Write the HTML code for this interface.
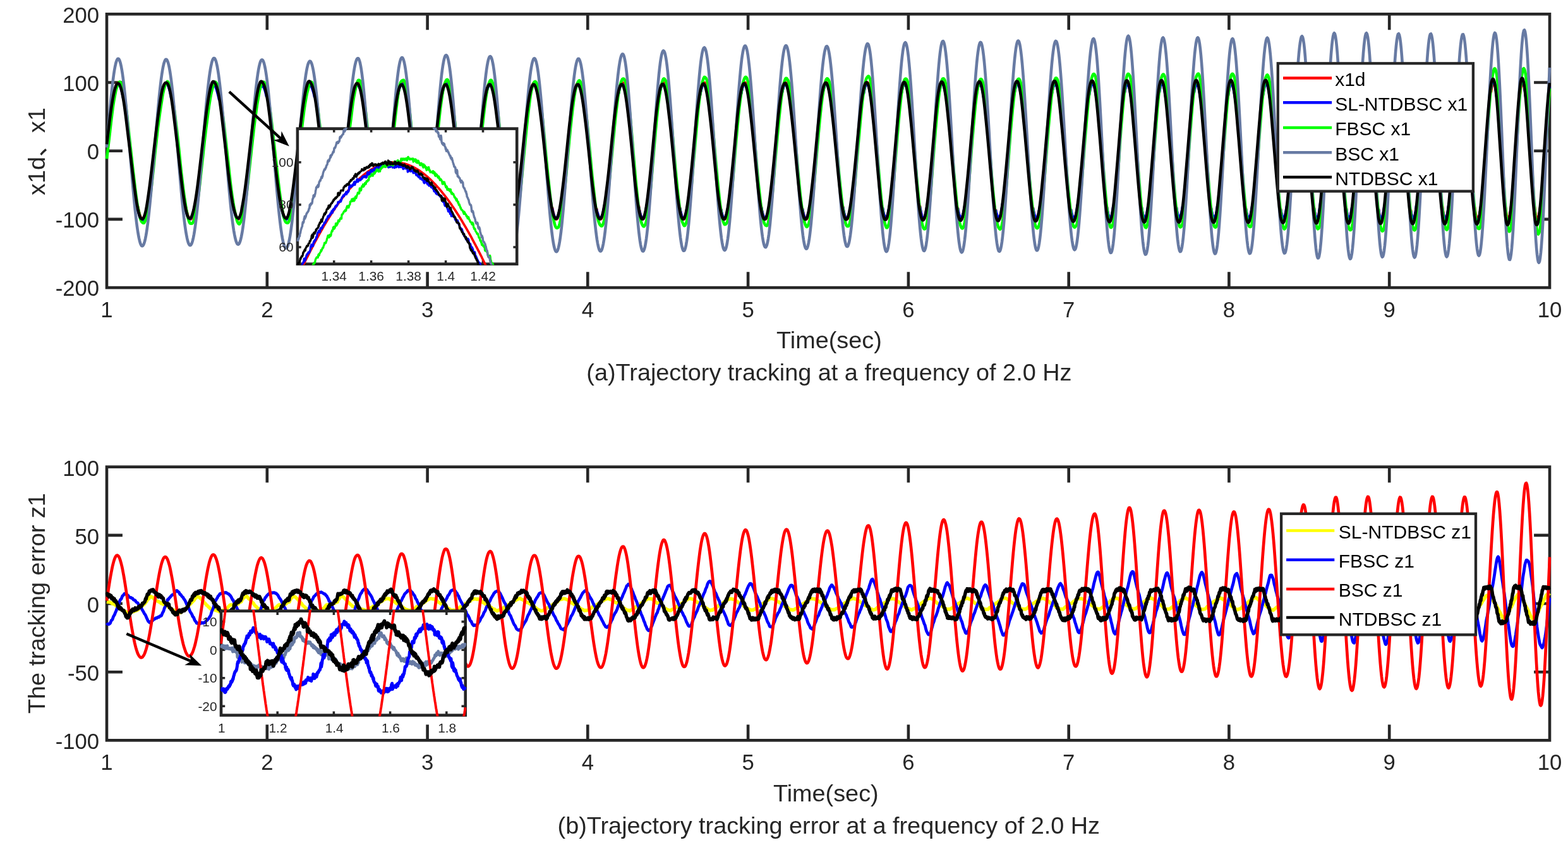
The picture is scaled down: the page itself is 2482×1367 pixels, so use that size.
<!DOCTYPE html>
<html lang="en"><head><meta charset="utf-8"><title>Trajectory tracking at a frequency of 2.0 Hz</title>
<style>html,body{margin:0;padding:0;background:#fff;overflow:hidden}svg{display:block}text{font-family:'Liberation Sans', 'Noto Sans CJK SC', sans-serif}</style></head>
<body>
<svg width="2482" height="1367" viewBox="0 0 2482 1367" role="img" aria-label="Trajectory tracking and tracking error at a frequency of 2.0 Hz">
<rect width="2482" height="1367" fill="#fff"/>
<defs>
<clipPath id="c1"><rect x="166.7" y="20.0" width="2288.6" height="437.4"/></clipPath>
<clipPath id="c2"><rect x="166.7" y="736.4" width="2288.6" height="437.2"/></clipPath>
<clipPath id="ci1"><rect x="469.3" y="202.0" width="350.5" height="217.3"/></clipPath>
<clipPath id="ci2"><rect x="348.4" y="965.1" width="389.9" height="168.1"/></clipPath>
</defs>
<g id="plot1">
<g stroke="#262626" stroke-width="4.6" fill="none">
<rect x="169.0" y="22.3" width="2284.0" height="432.8"/>
<path d="M422.8 455.1v-24.9M422.8 22.3v24.9M676.6 455.1v-24.9M676.6 22.3v24.9M930.3 455.1v-24.9M930.3 22.3v24.9M1184.1 455.1v-24.9M1184.1 22.3v24.9M1437.9 455.1v-24.9M1437.9 22.3v24.9M1691.7 455.1v-24.9M1691.7 22.3v24.9M1945.4 455.1v-24.9M1945.4 22.3v24.9M2199.2 455.1v-24.9M2199.2 22.3v24.9M169.0 346.9h24.9M2453.0 346.9h-24.9M169.0 238.7h24.9M2453.0 238.7h-24.9M169.0 130.5h24.9M2453.0 130.5h-24.9"/>
</g>
<g fill="#262626" font-size="34.67px">
<text x="169.0" y="501.9" text-anchor="middle">1</text>
<text x="422.8" y="501.9" text-anchor="middle">2</text>
<text x="676.6" y="501.9" text-anchor="middle">3</text>
<text x="930.3" y="501.9" text-anchor="middle">4</text>
<text x="1184.1" y="501.9" text-anchor="middle">5</text>
<text x="1437.9" y="501.9" text-anchor="middle">6</text>
<text x="1691.7" y="501.9" text-anchor="middle">7</text>
<text x="1945.4" y="501.9" text-anchor="middle">8</text>
<text x="2199.2" y="501.9" text-anchor="middle">9</text>
<text x="2453.0" y="501.9" text-anchor="middle">10</text>
<text x="157" y="468.3" text-anchor="end">-200</text>
<text x="157" y="360.1" text-anchor="end">-100</text>
<text x="157" y="251.9" text-anchor="end">0</text>
<text x="157" y="143.7" text-anchor="end">100</text>
<text x="157" y="35.5" text-anchor="end">200</text>
</g>
<g clip-path="url(#c1)">
<polyline points="180,151.7 181,146.7 182,142.3 183,138.6 184,135.5 185,133.2 186,131.6 187,130.7 188,130.5 189,131.1 190,132.5 191,134.5 192,137.3 193,140.8 194,144.9 195,149.7" fill="none" stroke="#ff0000" stroke-width="4.4" stroke-linejoin="round" />
<polyline points="218,326.1 219,331.1 220,335.4 221,339.1 222,342.1 223,344.4 224,345.9 225,346.8 226,346.8 227,346.2 228,344.8 229,342.7 230,339.8 231,336.3 232,332.1 233,327.2" fill="none" stroke="#ff0000" stroke-width="4.4" stroke-linejoin="round" />
<polyline points="256,150.8 257,145.9 258,141.6 259,138 260,135.1 261,132.9 262,131.4 263,130.6 264,130.6 265,131.3 266,132.8 267,135 268,137.9 269,141.5 270,145.7 271,150.6" fill="none" stroke="#ff0000" stroke-width="4.4" stroke-linejoin="round" />
<polyline points="294,327 295,331.9 296,336.1 297,339.7 298,342.6 299,344.7 300,346.1 301,346.8 302,346.8 303,346 304,344.5 305,342.2 306,339.2 307,335.6 308,331.3 309,326.3" fill="none" stroke="#ff0000" stroke-width="4.4" stroke-linejoin="round" />
<polyline points="332,149.9 333,145.1 334,140.9 335,137.4 336,134.6 337,132.5 338,131.2 339,130.5 340,130.7 341,131.5 342,133.1 343,135.4 344,138.5 345,142.2 346,146.6 347,151.6" fill="none" stroke="#ff0000" stroke-width="4.4" stroke-linejoin="round" />
<polyline points="370,328 371,332.7 372,336.8 373,340.3 374,343 375,345 376,346.3 377,346.9 378,346.7 379,345.8 380,344.1 381,341.7 382,338.6 383,334.8 384,330.4 385,325.3" fill="none" stroke="#ff0000" stroke-width="4.4" stroke-linejoin="round" />
<polyline points="408,149 409,144.3 410,140.2 411,136.9 412,134.2 413,132.2 414,131 415,130.5 416,130.8 417,131.8 418,133.5 419,135.9 420,139.1 421,142.9 422,147.4" fill="none" stroke="#ff0000" stroke-width="4.4" stroke-linejoin="round" />
<polyline points="446,328.9 447,333.5 448,337.5 449,340.8 450,343.4 451,345.3 452,346.5 453,346.9 454,346.6 455,345.5 456,343.7 457,341.2 458,338 459,334.1 460,329.5" fill="none" stroke="#ff0000" stroke-width="4.4" stroke-linejoin="round" />
<polyline points="484,148.1 485,143.5 486,139.6 487,136.3 488,133.8 489,132 490,130.9 491,130.5 492,130.9 493,132 494,133.9 495,136.4 496,139.7 497,143.7 498,148.3" fill="none" stroke="#ff0000" stroke-width="4.4" stroke-linejoin="round" />
<polyline points="522,329.7 523,334.3 524,338.1 525,341.3 526,343.8 527,345.6 528,346.6 529,346.9 530,346.4 531,345.3 532,343.3 533,340.7 534,337.3 535,333.3 536,328.7" fill="none" stroke="#ff0000" stroke-width="4.4" stroke-linejoin="round" />
<polyline points="560,147.2 561,142.8 562,138.9 563,135.8 564,133.4 565,131.7 566,130.7 567,130.5 568,131.1 569,132.6 570,135 571,138.2 572,142.2 573,146.9" fill="none" stroke="#ff0000" stroke-width="4.4" stroke-linejoin="round" />
<polyline points="595,327.9 596,333.1 597,337.4 598,341 599,343.8 600,345.7 601,346.7 602,346.9 603,346.1 604,344.5 605,342.1 606,338.8 607,334.7 608,329.8" fill="none" stroke="#ff0000" stroke-width="4.4" stroke-linejoin="round" />
<polyline points="630,148.8 631,143.7 632,139.5 633,136 634,133.3 635,131.6 636,130.6 637,130.6 638,131.4 639,133.1 640,135.7 641,139.1 642,143.3 643,148.3" fill="none" stroke="#ff0000" stroke-width="4.4" stroke-linejoin="round" />
<polyline points="665,329.3 666,334.2 667,338.4 668,341.8 669,344.3 670,346 671,346.8 672,346.8 673,345.8 674,344 675,341.3 676,337.8 677,333.5 678,328.5" fill="none" stroke="#ff0000" stroke-width="4.4" stroke-linejoin="round" />
<polyline points="700,147.5 701,142.6 702,138.5 703,135.2 704,132.8 705,131.2 706,130.5 707,130.7 708,131.8 709,133.7 710,136.5 711,140.1 712,144.5 713,149.6" fill="none" stroke="#ff0000" stroke-width="4.4" stroke-linejoin="round" />
<polyline points="735,330.6 736,335.4 737,339.3 738,342.5 739,344.8 740,346.3 741,346.9 742,346.6 743,345.4 744,343.4 745,340.5 746,336.8 747,332.3 748,327.1" fill="none" stroke="#ff0000" stroke-width="4.4" stroke-linejoin="round" />
<polyline points="769,151.6 770,146.2 771,141.5 772,137.6 773,134.6 774,132.3 775,131 776,130.5 777,130.9 778,132.2 779,134.3 780,137.3 781,141.1 782,145.7 783,151" fill="none" stroke="#ff0000" stroke-width="4.4" stroke-linejoin="round" />
<polyline points="804,326.5 805,331.9 806,336.4 807,340.2 808,343.2 809,345.3 810,346.5 811,346.9 812,346.4 813,345 814,342.8 815,339.7 816,335.8 817,331.1 818,325.7" fill="none" stroke="#ff0000" stroke-width="4.4" stroke-linejoin="round" />
<polyline points="839,150.2 840,144.9 841,140.5 842,136.8 843,133.9 844,131.9 845,130.8 846,130.5 847,131.1 848,132.6 849,135 850,138.2 851,142.2 852,146.9" fill="none" stroke="#ff0000" stroke-width="4.4" stroke-linejoin="round" />
<polyline points="874,327.9 875,333.1 876,337.4 877,341 878,343.8 879,345.7 880,346.7 881,346.9 882,346.1 883,344.5 884,342.1 885,338.8 886,334.7 887,329.8" fill="none" stroke="#ff0000" stroke-width="4.4" stroke-linejoin="round" />
<polyline points="909,148.8 910,143.7 911,139.5 912,136 913,133.3 914,131.6 915,130.6 916,130.6 917,131.4 918,133.1 919,135.7 920,139.1 921,143.3 922,148.3" fill="none" stroke="#ff0000" stroke-width="4.4" stroke-linejoin="round" />
<polyline points="944,329.3 945,334.2 946,338.4 947,341.8 948,344.3 949,346 950,346.8 951,346.8 952,345.8 953,344 954,341.3 955,337.8 956,333.5 957,328.5" fill="none" stroke="#ff0000" stroke-width="4.4" stroke-linejoin="round" />
<polyline points="979,147.5 980,142.6 981,138.5 982,135.2 983,132.8 984,131.2 985,130.5 986,130.8 987,132 988,134.2 989,137.4 990,141.6 991,146.7" fill="none" stroke="#ff0000" stroke-width="4.4" stroke-linejoin="round" />
<polyline points="1011,325.4 1012,331.3 1013,336.3 1014,340.4 1015,343.5 1016,345.6 1017,346.7 1018,346.8 1019,345.9 1020,343.9 1021,341 1022,337.1 1023,332.3 1024,326.5" fill="none" stroke="#ff0000" stroke-width="4.4" stroke-linejoin="round" />
<polyline points="1044,147.7 1045,142.5 1046,138.1 1047,134.7 1048,132.3 1049,130.9 1050,130.5 1051,131.1 1052,132.8 1053,135.4 1054,139.1 1055,143.6 1056,149.1" fill="none" stroke="#ff0000" stroke-width="4.4" stroke-linejoin="round" />
<polyline points="1076,328 1077,333.5 1078,338.1 1079,341.8 1080,344.5 1081,346.2 1082,346.9 1083,346.6 1084,345.2 1085,342.8 1086,339.5 1087,335.2 1088,330" fill="none" stroke="#ff0000" stroke-width="4.4" stroke-linejoin="round" />
<polyline points="1108,151.2 1109,145.4 1110,140.6 1111,136.6 1112,133.6 1113,131.6 1114,130.6 1115,130.6 1116,131.7 1117,133.8 1118,136.8 1119,140.9 1120,145.8 1121,151.6" fill="none" stroke="#ff0000" stroke-width="4.4" stroke-linejoin="round" />
<polyline points="1141,330.4 1142,335.5 1143,339.7 1144,343 1145,345.3 1146,346.6 1147,346.9 1148,346.1 1149,344.3 1150,341.6 1151,337.8 1152,333.1 1153,327.6" fill="none" stroke="#ff0000" stroke-width="4.4" stroke-linejoin="round" />
<polyline points="1173,148.7 1174,143.3 1175,138.8 1176,135.2 1177,132.6 1178,131.1 1179,130.5 1180,131 1181,132.4 1182,134.9 1183,138.4 1184,142.8 1185,148.1" fill="none" stroke="#ff0000" stroke-width="4.4" stroke-linejoin="round" />
<polyline points="1205,327 1206,332.6 1207,337.4 1208,341.2 1209,344.1 1210,346 1211,346.8 1212,346.7 1213,345.5 1214,343.3 1215,340.1 1216,336 1217,330.9" fill="none" stroke="#ff0000" stroke-width="4.4" stroke-linejoin="round" />
<polyline points="1238,146.3 1239,141.3 1240,137.2 1241,134 1242,131.9 1243,130.7 1244,130.6 1245,131.5 1246,133.4 1247,136.3 1248,140.1 1249,144.9 1250,150.6" fill="none" stroke="#ff0000" stroke-width="4.4" stroke-linejoin="round" />
<polyline points="1270,329.4 1271,334.7 1272,339.1 1273,342.5 1274,345 1275,346.5 1276,346.9 1277,346.3 1278,344.7 1279,342.1 1280,338.5 1281,334 1282,328.5" fill="none" stroke="#ff0000" stroke-width="4.4" stroke-linejoin="round" />
<polyline points="1302,149.7 1303,144.1 1304,139.5 1305,135.8 1306,133 1307,131.3 1308,130.5 1309,130.8 1310,132.1 1311,134.4 1312,137.7 1313,142 1314,147.2" fill="none" stroke="#ff0000" stroke-width="4.4" stroke-linejoin="round" />
<polyline points="1334,325.9 1335,331.7 1336,336.7 1337,340.7 1338,343.7 1339,345.7 1340,346.8 1341,346.8 1342,345.8 1343,343.7 1344,340.7 1345,336.7 1346,331.8 1347,326" fill="none" stroke="#ff0000" stroke-width="4.4" stroke-linejoin="round" />
<polyline points="1367,147.3 1368,142.1 1369,137.8 1370,134.5 1371,132.2 1372,130.8 1373,130.5 1374,131.4 1375,133.4 1376,136.6 1377,141 1378,146.4" fill="none" stroke="#ff0000" stroke-width="4.4" stroke-linejoin="round" />
<polyline points="1397,328.8 1398,334.6 1399,339.4 1400,343 1401,345.4 1402,346.7 1403,346.8 1404,345.6 1405,343.3 1406,339.8 1407,335.2 1408,329.5" fill="none" stroke="#ff0000" stroke-width="4.4" stroke-linejoin="round" />
<polyline points="1427,147.1 1428,141.5 1429,137.1 1430,133.7 1431,131.5 1432,130.6 1433,130.8 1434,132.2 1435,134.8 1436,138.6 1437,143.5 1438,149.4" fill="none" stroke="#ff0000" stroke-width="4.4" stroke-linejoin="round" />
<polyline points="1456,325.4 1457,331.7 1458,337 1459,341.2 1460,344.3 1461,346.2 1462,346.9 1463,346.4 1464,344.7 1465,341.8 1466,337.7 1467,332.6 1468,326.4" fill="none" stroke="#ff0000" stroke-width="4.4" stroke-linejoin="round" />
<polyline points="1486,150.4 1487,144.3 1488,139.2 1489,135.3 1490,132.5 1491,130.9 1492,130.5 1493,131.3 1494,133.3 1495,136.5 1496,140.8 1497,146.2" fill="none" stroke="#ff0000" stroke-width="4.4" stroke-linejoin="round" />
<polyline points="1516,328.6 1517,334.4 1518,339.2 1519,342.9 1520,345.4 1521,346.7 1522,346.8 1523,345.7 1524,343.4 1525,340 1526,335.4 1527,329.7" fill="none" stroke="#ff0000" stroke-width="4.4" stroke-linejoin="round" />
<polyline points="1546,147.3 1547,141.7 1548,137.2 1549,133.8 1550,131.6 1551,130.6 1552,130.8 1553,132.1 1554,134.7 1555,138.4 1556,143.3 1557,149.2" fill="none" stroke="#ff0000" stroke-width="4.4" stroke-linejoin="round" />
<polyline points="1576,331.5 1577,336.9 1578,341.1 1579,344.2 1580,346.2 1581,346.9 1582,346.4 1583,344.7 1584,341.9 1585,337.9 1586,332.8 1587,326.6" fill="none" stroke="#ff0000" stroke-width="4.4" stroke-linejoin="round" />
<polyline points="1605,150.6 1606,144.5 1607,139.4 1608,135.4 1609,132.6 1610,131 1611,130.5 1612,131.3 1613,133.2 1614,136.4 1615,140.6 1616,146" fill="none" stroke="#ff0000" stroke-width="4.4" stroke-linejoin="round" />
<polyline points="1635,328.4 1636,334.3 1637,339.1 1638,342.8 1639,345.3 1640,346.7 1641,346.8 1642,345.8 1643,343.5 1644,340.1 1645,335.6 1646,329.9" fill="none" stroke="#ff0000" stroke-width="4.4" stroke-linejoin="round" />
<polyline points="1665,147.5 1666,141.9 1667,137.3 1668,133.9 1669,131.7 1670,130.6 1671,130.7 1672,132.1 1673,134.6 1674,138.3 1675,143.1 1676,149" fill="none" stroke="#ff0000" stroke-width="4.4" stroke-linejoin="round" />
<polyline points="1695,331.3 1696,336.7 1697,341 1698,344.1 1699,346.1 1700,346.9 1701,346.5 1702,344.8 1703,342 1704,338 1705,333 1706,326.9" fill="none" stroke="#ff0000" stroke-width="4.4" stroke-linejoin="round" />
<polyline points="1724,150.8 1725,144.7 1726,139.5 1727,135.5 1728,132.7 1729,131 1730,130.5 1731,131.4 1732,133.6 1733,137.2 1734,142.2 1735,148.4" fill="none" stroke="#ff0000" stroke-width="4.4" stroke-linejoin="round" />
<polyline points="1752,327.2 1753,333.7 1754,339 1755,343 1756,345.6 1757,346.8 1758,346.6 1759,345 1760,342 1761,337.6 1762,332" fill="none" stroke="#ff0000" stroke-width="4.4" stroke-linejoin="round" />
<polyline points="1780,146.5 1781,140.7 1782,136.1 1783,132.8 1784,131 1785,130.5 1786,131.5 1787,133.9 1788,137.6 1789,142.7 1790,149" fill="none" stroke="#ff0000" stroke-width="4.4" stroke-linejoin="round" />
<polyline points="1807,327.8 1808,334.2 1809,339.4 1810,343.3 1811,345.8 1812,346.8 1813,346.5 1814,344.8 1815,341.7 1816,337.2 1817,331.5" fill="none" stroke="#ff0000" stroke-width="4.4" stroke-linejoin="round" />
<polyline points="1835,146 1836,140.2 1837,135.7 1838,132.6 1839,130.9 1840,130.6 1841,131.6 1842,134.1 1843,138 1844,143.1 1845,149.6" fill="none" stroke="#ff0000" stroke-width="4.4" stroke-linejoin="round" />
<polyline points="1862,328.4 1863,334.7 1864,339.8 1865,343.5 1866,345.9 1867,346.9 1868,346.4 1869,344.6 1870,341.4 1871,336.8 1872,330.9" fill="none" stroke="#ff0000" stroke-width="4.4" stroke-linejoin="round" />
<polyline points="1890,145.5 1891,139.8 1892,135.4 1893,132.4 1894,130.8 1895,130.6 1896,131.8 1897,134.4 1898,138.4 1899,143.6 1900,150.1" fill="none" stroke="#ff0000" stroke-width="4.4" stroke-linejoin="round" />
<polyline points="1917,328.9 1918,335.2 1919,340.1 1920,343.8 1921,346 1922,346.9 1923,346.3 1924,344.4 1925,341 1926,336.4 1927,330.4" fill="none" stroke="#ff0000" stroke-width="4.4" stroke-linejoin="round" />
<polyline points="1944,151.7 1945,144.9 1946,139.4 1947,135.1 1948,132.2 1949,130.7 1950,130.6 1951,132 1952,134.7 1953,138.7 1954,144.1 1955,150.7" fill="none" stroke="#ff0000" stroke-width="4.4" stroke-linejoin="round" />
<polyline points="1972,329.5 1973,335.6 1974,340.5 1975,344 1976,346.2 1977,346.9 1978,346.2 1979,344.1 1980,340.7 1981,335.9 1982,329.8" fill="none" stroke="#ff0000" stroke-width="4.4" stroke-linejoin="round" />
<polyline points="1999,151.1 2000,144.4 2001,139 2002,134.8 2003,132.1 2004,130.7 2005,130.7 2006,132.1 2007,135 2008,139.1 2009,144.6 2010,151.3" fill="none" stroke="#ff0000" stroke-width="4.4" stroke-linejoin="round" />
<polyline points="2027,330.1 2028,336.1 2029,340.8 2030,344.2 2031,346.3 2032,346.9 2033,346.1 2034,343.9 2035,340.3 2036,335.4 2037,329.3" fill="none" stroke="#ff0000" stroke-width="4.4" stroke-linejoin="round" />
<polyline points="2054,150.5 2055,143.9 2056,138.6 2057,134.6 2058,131.9 2059,130.6 2060,130.8 2061,132.6 2062,136 2063,141 2064,147.5" fill="none" stroke="#ff0000" stroke-width="4.4" stroke-linejoin="round" />
<polyline points="2080,328.3 2081,335.1 2082,340.4 2083,344.2 2084,346.3 2085,346.9 2086,345.7 2087,343 2088,338.6 2089,332.8 2090,325.4" fill="none" stroke="#ff0000" stroke-width="4.4" stroke-linejoin="round" />
<polyline points="2106,145 2107,139 2108,134.6 2109,131.8 2110,130.5 2111,131 2112,133.1 2113,136.8 2114,142 2115,148.7" fill="none" stroke="#ff0000" stroke-width="4.4" stroke-linejoin="round" />
<polyline points="2131,329.5 2132,336.1 2133,341.1 2134,344.7 2135,346.6 2136,346.8 2137,345.4 2138,342.4 2139,337.8 2140,331.6" fill="none" stroke="#ff0000" stroke-width="4.4" stroke-linejoin="round" />
<polyline points="2156,151 2157,143.9 2158,138.2 2159,134 2160,131.4 2161,130.5 2162,131.2 2163,133.6 2164,137.5 2165,143 2166,150" fill="none" stroke="#ff0000" stroke-width="4.4" stroke-linejoin="round" />
<polyline points="2182,330.7 2183,337 2184,341.8 2185,345.1 2186,346.7 2187,346.7 2188,345 2189,341.7 2190,336.8 2191,330.5" fill="none" stroke="#ff0000" stroke-width="4.4" stroke-linejoin="round" />
<polyline points="2207,149.7 2208,142.8 2209,137.4 2210,133.5 2211,131.2 2212,130.5 2213,131.5 2214,134.1 2215,138.3 2216,144.1 2217,151.3" fill="none" stroke="#ff0000" stroke-width="4.4" stroke-linejoin="round" />
<polyline points="2233,331.9 2234,337.9 2235,342.5 2236,345.5 2237,346.8 2238,346.5 2239,344.6 2240,341 2241,335.9 2242,329.3" fill="none" stroke="#ff0000" stroke-width="4.4" stroke-linejoin="round" />
<polyline points="2258,148.5 2259,141.8 2260,136.6 2261,133 2262,130.9 2263,130.6 2264,131.8 2265,134.7 2266,139.2 2267,145.2" fill="none" stroke="#ff0000" stroke-width="4.4" stroke-linejoin="round" />
<polyline points="2283,325.7 2284,333 2285,338.8 2286,343.1 2287,345.8 2288,346.9 2289,346.3 2290,344.1 2291,340.3 2292,334.9 2293,328" fill="none" stroke="#ff0000" stroke-width="4.4" stroke-linejoin="round" />
<polyline points="2309,147.3 2310,140.8 2311,135.9 2312,132.5 2313,130.8 2314,130.7 2315,132.2 2316,135.4 2317,140.1 2318,146.3" fill="none" stroke="#ff0000" stroke-width="4.4" stroke-linejoin="round" />
<polyline points="2334,327 2335,334 2336,339.6 2337,343.7 2338,346.1 2339,346.9 2340,346 2341,343.6 2342,339.5 2343,333.8 2344,326.8" fill="none" stroke="#ff0000" stroke-width="4.4" stroke-linejoin="round" />
<polyline points="2360,146.1 2361,139.9 2362,135.2 2363,132.1 2364,130.6 2365,130.9 2366,133.1 2367,137.3 2368,143.3 2369,151.2" fill="none" stroke="#ff0000" stroke-width="4.4" stroke-linejoin="round" />
<polyline points="2383,327.9 2384,335.4 2385,341.1 2386,344.9 2387,346.7 2388,346.5 2389,344.3 2390,340.1 2391,334.1 2392,326.2" fill="none" stroke="#ff0000" stroke-width="4.4" stroke-linejoin="round" />
<polyline points="2406,149.5 2407,142 2408,136.3 2409,132.5 2410,130.7 2411,130.9 2412,133 2413,137.2 2414,143.2 2415,150.9" fill="none" stroke="#ff0000" stroke-width="4.4" stroke-linejoin="round" />
<polyline points="2429,326.9 2430,334.6 2431,340.5 2432,344.5 2433,346.6 2434,346.7 2435,344.8 2436,341 2437,335.3 2438,327.8" fill="none" stroke="#ff0000" stroke-width="4.4" stroke-linejoin="round" />
<polyline points="2452,151.8 2453,143.9" fill="none" stroke="#ff0000" stroke-width="4.4" stroke-linejoin="round" />
<polyline points="180,152 181,147.3 182,143.6 183,140.2 184,137.8 185,136.3 186,134.9 187,133.6 188,133.2 189,134 190,135.8 191,138.3 192,141.3 193,145.1 194,149.9 195,155" fill="none" stroke="#0000ff" stroke-width="4.4" stroke-linejoin="round" />
<polyline points="218,331.4 219,335.2 220,338.9 221,342.8 222,345.8 223,347.4 224,348.3 225,348.9 226,348.7 227,347.6 228,345.4 229,342.6 230,339.5 231,335.3 232,330.2 233,324.7" fill="none" stroke="#0000ff" stroke-width="4.4" stroke-linejoin="round" />
<polyline points="256,150.9 257,146.6 258,142.3 259,138.3 260,135.5 261,134.1 262,133.1 263,132.5 264,132.3 265,132.8 266,134.8 267,137.7 268,140.8 269,144.8 270,149.6 271,154.6" fill="none" stroke="#0000ff" stroke-width="4.4" stroke-linejoin="round" />
<polyline points="294,330.9 295,335.8 296,339.6 297,342.3 298,344.5 299,346.1 300,346.9 301,346.4 302,345.2 303,343.7 304,342 305,339.8 306,336.5 307,332.4 308,327.6 309,322.3" fill="none" stroke="#0000ff" stroke-width="4.4" stroke-linejoin="round" />
<polyline points="332,153.8 333,148.9 334,144.6 335,141.3 336,138.5 337,136.1 338,135.2 339,135.6 340,135.9 341,136.7 342,139.1 343,142.1 344,145.6 345,149.5 346,153.6 347,157.9" fill="none" stroke="#0000ff" stroke-width="4.4" stroke-linejoin="round" />
<polyline points="370,329.2 371,334.5 372,338.8 373,342 374,344.2 375,345.4 376,345.9 377,345.7 378,345.2 379,344.6 380,343.4 381,341.3 382,338.2 383,332.5 384,327.2 385,321.5" fill="none" stroke="#0000ff" stroke-width="4.4" stroke-linejoin="round" />
<polyline points="408,152.4 409,148.8 410,145 411,141.2 412,138.6 413,137.2 414,136.3 415,136.1 416,136.5 417,137.4 418,139.2 419,141.7 420,144.8 421,148.8 422,153.4" fill="none" stroke="#0000ff" stroke-width="4.4" stroke-linejoin="round" />
<polyline points="446,329.6 447,334.7 448,339.2 449,342.9 450,345.6 451,347.1 452,347.7 453,347.4 454,346.2 455,344.3 456,341.9 457,339.6 458,337.1 459,331.8 460,326.4" fill="none" stroke="#0000ff" stroke-width="4.4" stroke-linejoin="round" />
<polyline points="484,152.1 485,147.9 486,144.1 487,140.5 488,137.7 489,136 490,135.4 491,135.7 492,136 493,137.1 494,139.5 495,142.3 496,145.2 497,149.1 498,154.2" fill="none" stroke="#0000ff" stroke-width="4.4" stroke-linejoin="round" />
<polyline points="522,331.6 523,335.7 524,339.6 525,343 526,345 527,345.9 528,346.5 529,346.5 530,345.6 531,344.1 532,341.7 533,338.9 534,335.7 535,330.1 536,324.6" fill="none" stroke="#0000ff" stroke-width="4.4" stroke-linejoin="round" />
<polyline points="560,149.9 561,145.3 562,141.2 563,137.9 564,136.2 565,135.5 566,134.9 567,134.8 568,135.8 569,137.9 570,140.4 571,143.3 572,147 573,151.6" fill="none" stroke="#0000ff" stroke-width="4.4" stroke-linejoin="round" />
<polyline points="595,328.9 596,334.4 597,338.7 598,341.8 599,343.8 600,345.3 601,346.5 602,346.4 603,344.5 604,341.9 605,339.3 606,336 607,331.6 608,326.6" fill="none" stroke="#0000ff" stroke-width="4.4" stroke-linejoin="round" />
<polyline points="630,148.8 631,144.3 632,140.3 633,137.3 634,135.4 635,133.9 636,133 637,133 638,134.2 639,136.5 640,139.7 641,143.2 642,147.3 643,152.6" fill="none" stroke="#0000ff" stroke-width="4.4" stroke-linejoin="round" />
<polyline points="665,330.6 666,334.7 667,338.5 668,341.9 669,344.3 670,345.5 671,346.1 672,345.9 673,344.9 674,342.7 675,339.2 676,335 677,330.3 678,324.5" fill="none" stroke="#0000ff" stroke-width="4.4" stroke-linejoin="round" />
<polyline points="700,147.7 701,143.4 702,139.1 703,135.9 704,134.3 705,133.4 706,132.7 707,132.7 708,134.2 709,137.4 710,141 711,144.5 712,149.3 713,155.1" fill="none" stroke="#0000ff" stroke-width="4.4" stroke-linejoin="round" />
<polyline points="735,331.3 736,335.7 737,339.3 738,342.2 739,344.4 740,345.5 741,345.7 742,345.2 743,343.6 744,341 745,337.8 746,334 747,329.4 748,323.8" fill="none" stroke="#0000ff" stroke-width="4.4" stroke-linejoin="round" />
<polyline points="769,151.7 770,146 771,142 772,139.7 773,137.2 774,134.6 775,133.3 776,133.3 777,134.2 778,135.8 779,138 780,141.1 781,145 782,149.7 783,155.4" fill="none" stroke="#0000ff" stroke-width="4.4" stroke-linejoin="round" />
<polyline points="804,328.3 805,332.7 806,336.5 807,340.1 808,343 809,344.8 810,345.7 811,345.6 812,344.5 813,342.6 814,340 815,336.7 816,332.6 817,327.7 818,322.1" fill="none" stroke="#0000ff" stroke-width="4.4" stroke-linejoin="round" />
<polyline points="839,149.9 840,144.5 841,141.1 842,138.1 843,135.5 844,133.9 845,133.4 846,133.4 847,134.5 848,136.1 849,138.6 850,142.4 851,146.5 852,151.1" fill="none" stroke="#0000ff" stroke-width="4.4" stroke-linejoin="round" />
<polyline points="874,329.4 875,334.5 876,338.5 877,341.1 878,343.2 879,344.8 880,345.7 881,345.9 882,345.2 883,343 884,339.8 885,336.1 886,332.1 887,327" fill="none" stroke="#0000ff" stroke-width="4.4" stroke-linejoin="round" />
<polyline points="909,149.1 910,144.2 911,140.9 912,137.7 913,134.5 914,132.8 915,133.2 916,134.2 917,135.1 918,136.8 919,139.6 920,143.5 921,148.2 922,153.7" fill="none" stroke="#0000ff" stroke-width="4.4" stroke-linejoin="round" />
<polyline points="944,330.9 945,334.9 946,337.7 947,340.7 948,343.3 949,344.6 950,345.1 951,345.4 952,344.2 953,341.7 954,338.7 955,334.8 956,329.8 957,324.4" fill="none" stroke="#0000ff" stroke-width="4.4" stroke-linejoin="round" />
<polyline points="979,148.6 980,143.3 981,139.4 982,136.8 983,135 984,134.1 985,133.7 986,133.9 987,135.7 988,138.4 989,141.5 990,145.3 991,150.7" fill="none" stroke="#0000ff" stroke-width="4.4" stroke-linejoin="round" />
<polyline points="1011,327.5 1012,332.8 1013,336.9 1014,340.4 1015,343.2 1016,345.5 1017,346.7 1018,346.2 1019,345 1020,342.9 1021,339.6 1022,335.2 1023,329.7 1024,323.2" fill="none" stroke="#0000ff" stroke-width="4.4" stroke-linejoin="round" />
<polyline points="1044,148.8 1045,143 1046,139.1 1047,136.6 1048,134.3 1049,133 1050,133.3 1051,134.3 1052,135.7 1053,138.5 1054,142.8 1055,147.8 1056,153.7" fill="none" stroke="#0000ff" stroke-width="4.4" stroke-linejoin="round" />
<polyline points="1076,328.4 1077,333.5 1078,337.9 1079,341.6 1080,344.2 1081,345.6 1082,346.1 1083,345.5 1084,343.5 1085,340.4 1086,336.7 1087,332.2 1088,326.6" fill="none" stroke="#0000ff" stroke-width="4.4" stroke-linejoin="round" />
<polyline points="1108,151.1 1109,145.7 1110,141.5 1111,137.9 1112,134.9 1113,133 1114,133 1115,133.9 1116,135.4 1117,137.3 1118,140.3 1119,145.1 1120,150.9 1121,157.3" fill="none" stroke="#0000ff" stroke-width="4.4" stroke-linejoin="round" />
<polyline points="1141,330.5 1142,335.4 1143,339 1144,342.4 1145,344.8 1146,345.1 1147,344.6 1148,344 1149,342.3 1150,339.5 1151,335.6 1152,330.2 1153,323.9" fill="none" stroke="#0000ff" stroke-width="4.4" stroke-linejoin="round" />
<polyline points="1173,149.3 1174,144.1 1175,139.7 1176,136.4 1177,134 1178,132.5 1179,132.7 1180,134.3 1181,136.2 1182,138.7 1183,142 1184,146.4 1185,152" fill="none" stroke="#0000ff" stroke-width="4.4" stroke-linejoin="round" />
<polyline points="1205,327.7 1206,333 1207,337.3 1208,340.8 1209,343.7 1210,345.6 1211,346.3 1212,345.6 1213,343.4 1214,341 1215,338.1 1216,333.6 1217,327.9" fill="none" stroke="#0000ff" stroke-width="4.4" stroke-linejoin="round" />
<polyline points="1238,146.5 1239,142 1240,138.4 1241,135.4 1242,133.5 1243,132.4 1244,132.2 1245,133.6 1246,136.4 1247,139.6 1248,143.3 1249,148.2 1250,154.5" fill="none" stroke="#0000ff" stroke-width="4.4" stroke-linejoin="round" />
<polyline points="1270,329.8 1271,335.1 1272,339.4 1273,342.8 1274,345.1 1275,346.2 1276,346.1 1277,344.8 1278,342.5 1279,339.4 1280,335.7 1281,331.2 1282,325.3" fill="none" stroke="#0000ff" stroke-width="4.4" stroke-linejoin="round" />
<polyline points="1302,148.7 1303,144.1 1304,140.3 1305,136.9 1306,134.4 1307,133.5 1308,133.3 1309,133.7 1310,135.1 1311,138 1312,141.5 1313,145.9 1314,151.4" fill="none" stroke="#0000ff" stroke-width="4.4" stroke-linejoin="round" />
<polyline points="1334,326.8 1335,331.9 1336,336.6 1337,341 1338,344.2 1339,345.3 1340,345.5 1341,345.2 1342,344.2 1343,341.5 1344,337.7 1345,333.5 1346,328.7 1347,322.6" fill="none" stroke="#0000ff" stroke-width="4.4" stroke-linejoin="round" />
<polyline points="1367,148.6 1368,143.2 1369,138.6 1370,135.3 1371,133.4 1372,132.7 1373,132.9 1374,134.1 1375,136.7 1376,140.8 1377,145.8 1378,151.3" fill="none" stroke="#0000ff" stroke-width="4.4" stroke-linejoin="round" />
<polyline points="1397,328.5 1398,334.2 1399,338.9 1400,342.2 1401,344.3 1402,345.3 1403,344.7 1404,342.9 1405,339.7 1406,335.5 1407,331 1408,325.7" fill="none" stroke="#0000ff" stroke-width="4.4" stroke-linejoin="round" />
<polyline points="1427,147 1428,141.7 1429,137.5 1430,134.8 1431,133.4 1432,132.9 1433,133.2 1434,134.8 1435,137.5 1436,141.5 1437,147 1438,154" fill="none" stroke="#0000ff" stroke-width="4.4" stroke-linejoin="round" />
<polyline points="1456,326.7 1457,332.2 1458,337.3 1459,341.6 1460,344.7 1461,346.3 1462,346 1463,344.6 1464,342.2 1465,338.7 1466,334.4 1467,329.1 1468,322.5" fill="none" stroke="#0000ff" stroke-width="4.4" stroke-linejoin="round" />
<polyline points="1486,149.7 1487,144.4 1488,139.8 1489,136.1 1490,133.7 1491,132.5 1492,132.7 1493,133.8 1494,136.3 1495,140 1496,144.5 1497,149.8" fill="none" stroke="#0000ff" stroke-width="4.4" stroke-linejoin="round" />
<polyline points="1516,329.5 1517,335.1 1518,338.9 1519,341.5 1520,343.5 1521,344.4 1522,344.2 1523,343.1 1524,340.6 1525,336.7 1526,332.3 1527,327.1" fill="none" stroke="#0000ff" stroke-width="4.4" stroke-linejoin="round" />
<polyline points="1546,148 1547,141.9 1548,137.1 1549,134.1 1550,132.3 1551,132.2 1552,133.8 1553,136.1 1554,138.8 1555,142.3 1556,147.4 1557,153.9" fill="none" stroke="#0000ff" stroke-width="4.4" stroke-linejoin="round" />
<polyline points="1576,331.9 1577,336.4 1578,339.6 1579,342.5 1580,344.4 1581,344.8 1582,344 1583,342.3 1584,338.7 1585,333.6 1586,328 1587,322" fill="none" stroke="#0000ff" stroke-width="4.4" stroke-linejoin="round" />
<polyline points="1605,151.3 1606,145.5 1607,140.6 1608,137.1 1609,134.8 1610,133.4 1611,132.6 1612,133.2 1613,135.5 1614,139.2 1615,143.8 1616,149.5" fill="none" stroke="#0000ff" stroke-width="4.4" stroke-linejoin="round" />
<polyline points="1635,328.8 1636,334.4 1637,338.7 1638,341.9 1639,344.3 1640,345 1641,344.2 1642,343 1643,340.8 1644,337.2 1645,332.5 1646,326.7" fill="none" stroke="#0000ff" stroke-width="4.4" stroke-linejoin="round" />
<polyline points="1665,147.9 1666,142.6 1667,138.6 1668,135.7 1669,133.4 1670,132.2 1671,132.4 1672,134.2 1673,137.4 1674,141.7 1675,146.6 1676,152.7" fill="none" stroke="#0000ff" stroke-width="4.4" stroke-linejoin="round" />
<polyline points="1695,331 1696,336.1 1697,340.2 1698,343.4 1699,345.2 1700,345.4 1701,344.7 1702,343.1 1703,339.7 1704,335 1705,329.4 1706,323.1" fill="none" stroke="#0000ff" stroke-width="4.4" stroke-linejoin="round" />
<polyline points="1724,150.6 1725,144.6 1726,139.5 1727,136 1728,133.2 1729,131.5 1730,131.9 1731,133.8 1732,136.5 1733,140.3 1734,145.6 1735,151.7" fill="none" stroke="#0000ff" stroke-width="4.4" stroke-linejoin="round" />
<polyline points="1752,327.5 1753,333.4 1754,338 1755,341.7 1756,344.3 1757,345.1 1758,344.6 1759,342.9 1760,339.5 1761,334.4 1762,327.9" fill="none" stroke="#0000ff" stroke-width="4.4" stroke-linejoin="round" />
<polyline points="1780,146.8 1781,141.4 1782,137.6 1783,134.9 1784,132.8 1785,132.3 1786,133.8 1787,136.8 1788,141 1789,146.5 1790,152.8" fill="none" stroke="#0000ff" stroke-width="4.4" stroke-linejoin="round" />
<polyline points="1807,327.8 1808,334.2 1809,339.1 1810,342.6 1811,344.7 1812,345.6 1813,344.8 1814,342.4 1815,338.7 1816,333.7 1817,327.7" fill="none" stroke="#0000ff" stroke-width="4.4" stroke-linejoin="round" />
<polyline points="1835,146.4 1836,140.8 1837,136 1838,132.9 1839,131.5 1840,131.6 1841,133.5 1842,136.6 1843,140.8 1844,146.4 1845,152.9" fill="none" stroke="#0000ff" stroke-width="4.4" stroke-linejoin="round" />
<polyline points="1862,327.5 1863,333.9 1864,338.7 1865,341.6 1866,343.5 1867,344.3 1868,343.4 1869,340.8 1870,337.1 1871,332.5 1872,326.4" fill="none" stroke="#0000ff" stroke-width="4.4" stroke-linejoin="round" />
<polyline points="1890,147 1891,141.2 1892,137 1893,134.4 1894,133.1 1895,133.3 1896,135.1 1897,138.1 1898,142.4 1899,147.6 1900,154.5" fill="none" stroke="#0000ff" stroke-width="4.4" stroke-linejoin="round" />
<polyline points="1917,328.9 1918,334.8 1919,339.1 1920,342 1921,343.6 1922,344.2 1923,343.9 1924,342.2 1925,338.8 1926,333.4 1927,326.4" fill="none" stroke="#0000ff" stroke-width="4.4" stroke-linejoin="round" />
<polyline points="1944,151.4 1945,144.3 1946,139.4 1947,135.8 1948,133.2 1949,132 1950,132.4 1951,134.6 1952,138.3 1953,143 1954,148.5 1955,155.3" fill="none" stroke="#0000ff" stroke-width="4.4" stroke-linejoin="round" />
<polyline points="1972,330.2 1973,335.7 1974,340 1975,343.6 1976,345.6 1977,345.7 1978,344.3 1979,341.7 1980,337.8 1981,332.7 1982,326.7" fill="none" stroke="#0000ff" stroke-width="4.4" stroke-linejoin="round" />
<polyline points="1999,150.8 2000,145 2001,139.9 2002,135.7 2003,133.3 2004,132.6 2005,132.6 2006,134.3 2007,137.8 2008,142.4 2009,148 2010,155.4" fill="none" stroke="#0000ff" stroke-width="4.4" stroke-linejoin="round" />
<polyline points="2027,330.9 2028,336.3 2029,340.5 2030,343.1 2031,344.5 2032,345.2 2033,344.1 2034,341.2 2035,336.7 2036,331.4 2037,325.4" fill="none" stroke="#0000ff" stroke-width="4.4" stroke-linejoin="round" />
<polyline points="2054,150.4 2055,144.8 2056,139.7 2057,135.7 2058,133.1 2059,132.3 2060,133.1 2061,135.6 2062,139.9 2063,145.2 2064,151.7" fill="none" stroke="#0000ff" stroke-width="4.4" stroke-linejoin="round" />
<polyline points="2080,329.1 2081,335.6 2082,341.1 2083,345.1 2084,346.3 2085,345.4 2086,343.8 2087,341.1 2088,336.1 2089,329.3 2090,321.6" fill="none" stroke="#0000ff" stroke-width="4.4" stroke-linejoin="round" />
<polyline points="2106,144.5 2107,139 2108,134.7 2109,132.4 2110,132.4 2111,133.6 2112,135.8 2113,139.9 2114,145.7 2115,152.7" fill="none" stroke="#0000ff" stroke-width="4.4" stroke-linejoin="round" />
<polyline points="2131,329.9 2132,336.3 2133,340.9 2134,344.3 2135,346.3 2136,346.3 2137,344.2 2138,340 2139,334.4 2140,328.1" fill="none" stroke="#0000ff" stroke-width="4.4" stroke-linejoin="round" />
<polyline points="2156,150.9 2157,143.9 2158,138.4 2159,134.7 2160,132.7 2161,132.2 2162,132.9 2163,135.6 2164,140.5 2165,146.4 2166,153.3" fill="none" stroke="#0000ff" stroke-width="4.4" stroke-linejoin="round" />
<polyline points="2182,331.1 2183,337.6 2184,342.6 2185,345.3 2186,346.5 2187,345.9 2188,343.4 2189,339.6 2190,334.8 2191,328.2" fill="none" stroke="#0000ff" stroke-width="4.4" stroke-linejoin="round" />
<polyline points="2207,149.7 2208,142.7 2209,137.6 2210,134.4 2211,132.1 2212,131.5 2213,132.4 2214,135 2215,139.9 2216,146.3 2217,154.3" fill="none" stroke="#0000ff" stroke-width="4.4" stroke-linejoin="round" />
<polyline points="2233,333.4 2234,338.6 2235,342.8 2236,345.7 2237,346.9 2238,346.4 2239,343.7 2240,339.1 2241,333 2242,325.4" fill="none" stroke="#0000ff" stroke-width="4.4" stroke-linejoin="round" />
<polyline points="2258,146.9 2259,140.5 2260,135.8 2261,133.1 2262,132.2 2263,132.5 2264,133.8 2265,136.8 2266,141.7 2267,148.2" fill="none" stroke="#0000ff" stroke-width="4.4" stroke-linejoin="round" />
<polyline points="2283,328.7 2284,335.2 2285,340 2286,343.7 2287,346.2 2288,346.9 2289,345.6 2290,342.9 2291,339 2292,333.1 2293,325.4" fill="none" stroke="#0000ff" stroke-width="4.4" stroke-linejoin="round" />
<polyline points="2309,145.6 2310,140.1 2311,135.8 2312,133.2 2313,131.9 2314,132 2315,134.2 2316,138.2 2317,143.7 2318,150.7" fill="none" stroke="#0000ff" stroke-width="4.4" stroke-linejoin="round" />
<polyline points="2334,334.3 2335,339.8 2336,344.9 2337,348.8 2338,350.2 2339,350.1 2340,348.7 2341,345.7 2342,341.2 2343,334.9 2344,327.2" fill="none" stroke="#0000ff" stroke-width="4.4" stroke-linejoin="round" />
<polyline points="2360,140.7 2361,135 2362,131 2363,128.8 2364,128.3 2365,129.3 2366,131.9 2367,136.6 2368,143.7 2369,153" fill="none" stroke="#0000ff" stroke-width="4.4" stroke-linejoin="round" />
<polyline points="2383,339.4 2384,346 2385,350.9 2386,353.8 2387,354.3 2388,352.8 2389,349.7 2390,344.6 2391,337.5 2392,328.8" fill="none" stroke="#0000ff" stroke-width="4.4" stroke-linejoin="round" />
<polyline points="2406,142.2 2407,134.5 2408,130.1 2409,128.4 2410,128.2 2411,129.3 2412,132.2 2413,137.4 2414,144.7 2415,153.3" fill="none" stroke="#0000ff" stroke-width="4.4" stroke-linejoin="round" />
<polyline points="2429,338.2 2430,345.4 2431,350.3 2432,353.7 2433,355 2434,354.1 2435,351.4 2436,346.5 2437,339.6 2438,330.8" fill="none" stroke="#0000ff" stroke-width="4.4" stroke-linejoin="round" />
<polyline points="2452,144.7 2453,137.2" fill="none" stroke="#0000ff" stroke-width="4.4" stroke-linejoin="round" />
<polyline points="169,251.3 170,242.9 171,234.5 172,226.1 173,217.7 174,208.9 175,200 176,191.6 177,183.4 178,175.4 179,167.9 180,161.5 181,155.9 182,150.5 183,145.3 184,141 185,138 186,134.7 187,131.9 188,130.4 189,129.8 190,129.5 191,130.5 192,132.8 193,135.8 194,139.4 195,143.2 196,147.6 197,152.8 198,159.2 199,166.4 200,174.1 201,182.4 202,191.5 203,200.7 204,209.7 205,219.1 206,228.5 207,237.3 208,246 209,255.2 210,264.5 211,272.8 212,281.2 213,290.1 214,298.5 215,306.3 216,313.8 217,320.9 218,327 219,332 220,336.2 221,340.5 222,345 223,348.5 224,350.5 225,351.6 226,352.5 227,352.9 228,352.7 229,351.1 230,348.7 231,346.1 232,343.3 233,339.8 234,335.8 235,330.7 236,324.6 237,317.9 238,310.2 239,301.6 240,292.8 241,284 242,275.3 243,266.1 244,256.1 245,246 246,236.8 247,228 248,219.2 249,210.2 250,201.7 251,194.1 252,187 253,179.7 254,172.6 255,166.3 256,160.1 257,153.3 258,147.8 259,143.4 260,139.2 261,136 262,133.4 263,131.8 264,131.3 265,129 266,129.7 267,131.9 268,134.2 269,136.4 270,139.6 271,144.1 272,149.2 273,154.9 274,161.6 275,168.3 276,174.8 277,181.9 278,190.2 279,198.7 280,206.8 281,215.3 282,224.5 283,233.8 284,243.3 285,253.4 286,263.5 287,272.7 288,281.2 289,289.6 290,297.9 291,305.6 292,312.5 293,319.1 294,325.8 295,331.9 296,337 297,341.9 298,346.3 299,349.6 300,352.2 301,353.5 302,353.6 303,353.7 304,353.7 305,352.7 306,350.7 307,347.9 308,344.1 309,339.7 310,334.9 311,329.8 312,324 313,317.1 314,309.8 315,302.3 316,294 317,285.1 318,275.6 319,266.4 320,257.6 321,248.9 322,239.6 323,230.1 324,221.2 325,212.9 326,204.6 327,196.9 328,189.5 329,181.8 330,174.2 331,167.2 332,160.8 333,154.8 334,149.4 335,145 336,141 337,137 338,133.7 339,131.3 340,129.9 341,129.6 342,130.6 343,132 344,133.3 345,135.9 346,139.7 347,143.9 348,148.8 349,155 350,162.3 351,170.1 352,177.7 353,184.9 354,192.6 355,201.1 356,210 357,219 358,228.1 359,237 360,245.9 361,254.6 362,263.8 363,273.2 364,282.3 365,290.9 366,298.8 367,306.4 368,313.3 369,319.6 370,325.8 371,331.1 372,335.8 373,340.5 374,344.8 375,348.6 376,351.4 377,353.1 378,354.4 379,354.5 380,352.9 381,350.9 382,348.6 383,346.4 384,342.9 385,339.1 386,334.2 387,328.4 388,322.4 389,315.8 390,308.4 391,300.7 392,292.6 393,283.7 394,274.5 395,265.2 396,256.2 397,247 398,238.1 399,229.3 400,220.3 401,211.4 402,202.8 403,194.5 404,187.1 405,180 406,172.5 407,165.4 408,159.7 409,154.4 410,148.4 411,142.9 412,138.9 413,135.8 414,133.1 415,131 416,130 417,129.6 418,130 419,131.6 420,134.3 421,138 422,142.1 423,146.5 424,151.3 425,157.2 426,163.8 427,170.6 428,177.7 429,185.4 430,193.8 431,202.3 432,211.2 433,220.1 434,228.9 435,238.2 436,247.8 437,256.3 438,264.6 439,273.6 440,282.3 441,290.7 442,298.9 443,306.5 444,313.5 445,320.3 446,326.8 447,332.8 448,338.2 449,342.5 450,345.9 451,348.9 452,351 453,352 454,352.6 455,352.8 456,352.5 457,351 458,348.3 459,345.6 460,340.9 461,336.3 462,332 463,327 464,321.1 465,314.1 466,306.3 467,298.5 468,290.2 469,281.3 470,272.2 471,263.1 472,253.8 473,244.5 474,235.4 475,226.7 476,218.2 477,209.7 478,201.3 479,193 480,185.1 481,177.3 482,170.2 483,164 484,158.1 485,152.4 486,147.4 487,143.4 488,139.6 489,135.7 490,132.8 491,131.1 492,130 493,129.6 494,130.6 495,132.7 496,135.3 497,138.2 498,141.8 499,146.8 500,152.5 501,158.1 502,164.1 503,171.2 504,179.5 505,187.9 506,196 507,204.2 508,213.1 509,222 510,231.1 511,240.5 512,250 513,259.2 514,267.9 515,276.2 516,284.5 517,292.8 518,300.9 519,308.4 520,315.6 521,322.3 522,328.5 523,333.8 524,338.2 525,342.4 526,346.4 527,349.5 528,351.7 529,352.7 530,352.9 531,352.4 532,350.9 533,349.1 534,346.9 535,345.1 536,341.2 537,336.5 538,331.2 539,325.7 540,320 541,313.3 542,305.1 543,296 544,287.1 545,278.6 546,269.8 547,260.7 548,251.9 549,243.4 550,235 551,226.1 552,216.9 553,208.1 554,200 555,192.4 556,184.6 557,176.2 558,167.8 559,160.6 560,154.7 561,149.4 562,144.4 563,139.5 564,135.2 565,131.8 566,128.9 567,127 568,126.7 569,127.1 570,127.8 571,129.9 572,133.2 573,137.4 574,142.3 575,148.2 576,155 577,162.4 578,170.2 579,178.4 580,187.1 581,196.5 582,206.3 583,217 584,227.8 585,238.2 586,248.5 587,258.9 588,269.3 589,279.2 590,289 591,298.5 592,307.2 593,315.5 594,323.2 595,330.1 596,336.4 597,342.5 598,347.3 599,350.6 600,353.3 601,355.3 602,356.1 603,356.3 604,356.4 605,355.2 606,352.1 607,348.4 608,344 609,338.7 610,333 611,326.9 612,319.8 613,311.8 614,302.9 615,293.6 616,284 617,274.1 618,263.7 619,253 620,242.5 621,232.5 622,222.6 623,212.2 624,202 625,192 626,182.9 627,174.4 628,166.1 629,158.2 630,151.2 631,144.6 632,138.4 633,133.6 634,130.7 635,129 636,127.9 637,127.2 638,126.8 639,126.9 640,128.6 641,131.5 642,134.7 643,138.7 644,143.7 645,150 646,157 647,164.2 648,172 649,180.9 650,190.6 651,200.7 652,210.7 653,220.5 654,230.8 655,241.6 656,251.8 657,261.9 658,272.6 659,283 660,292.5 661,301.2 662,309.3 663,317.2 664,324.7 665,331.5 666,337.8 667,343.4 668,348 669,351.5 670,354.1 671,355.9 672,357 673,356.9 674,355.8 675,354 676,351.1 677,347.4 678,343.4 679,338.8 680,332.6 681,325.5 682,317.8 683,309.5 684,301.3 685,292.4 686,282.5 687,273.1 688,263.3 689,252.3 690,241.1 691,230 692,219.1 693,209.1 694,199.8 695,190.4 696,180.9 697,172.3 698,164.8 699,157.8 700,151 701,144.6 702,139.3 703,135.2 704,132.2 705,129.7 706,127.5 707,126.2 708,125.8 709,126.9 710,129.2 711,132 712,135.3 713,139.8 714,145.3 715,151.1 716,158.3 717,166.5 718,175.2 719,183.8 720,192.7 721,202.1 722,212.1 723,222.9 724,234.2 725,245 726,255.6 727,266.1 728,276.4 729,286.3 730,295.6 731,304.1 732,312.1 733,320.1 734,328 735,335.5 736,341.7 737,346.1 738,349.7 739,353.1 740,355.6 741,357.5 742,358.4 743,358.4 744,357.4 745,354.9 746,351.1 747,347.1 748,342.7 749,337.3 750,330.8 751,324.1 752,316.9 753,308.5 754,299.3 755,289.8 756,280.3 757,270.7 758,260.5 759,249.8 760,238.8 761,228.1 762,217.4 763,206.5 764,196.7 765,187.9 766,179.2 767,170.8 768,162.7 769,155.5 770,149.2 771,143.1 772,137.8 773,134.1 774,131.5 775,129 776,127.3 777,126.7 778,127.3 779,129.3 780,131.6 781,134.1 782,137.9 783,142.8 784,148.2 785,154.2 786,161.3 787,168.9 788,176.9 789,185.4 790,194.8 791,205.1 792,215.9 793,226.8 794,237.9 795,248.9 796,259.7 797,270.2 798,279.9 799,289.5 800,298.9 801,308.1 802,317.3 803,325.1 804,331.9 805,338.2 806,344 807,349.2 808,353.5 809,356.3 810,358.3 811,359.5 812,359.8 813,359.5 814,358.9 815,357 816,353.8 817,350.1 818,345.3 819,339.5 820,333.1 821,326.3 822,318.9 823,310.5 824,300.7 825,290.5 826,280.5 827,270.3 828,259.6 829,248.8 830,238.5 831,228.3 832,218 833,207.9 834,198.2 835,188.6 836,179.7 837,171.8 838,164 839,156.3 840,149.7 841,144.3 842,140 843,136.1 844,132.8 845,130.8 846,129.5 847,128.9 848,129.3 849,131 850,133 851,135.6 852,139.3 853,144.3 854,150.1 855,156.5 856,163.4 857,171.3 858,179.9 859,189.2 860,199.4 861,209.8 862,220.2 863,231.1 864,242.7 865,253.6 866,263.6 867,273.5 868,283.1 869,292.5 870,302 871,310.9 872,319.2 873,327.1 874,334.2 875,340.3 876,345.7 877,350.6 878,354.7 879,357.7 880,359.7 881,360.8 882,360.8 883,360.3 884,359.3 885,357 886,353.6 887,349.2 888,343.7 889,337.8 890,331.6 891,324.5 892,316.2 893,307.1 894,297.7 895,287.9 896,278.1 897,267.5 898,255.9 899,244.8 900,234.4 901,224 902,213.4 903,203.2 904,193.9 905,185 906,176.5 907,168.3 908,160.5 909,153.4 910,147.1 911,141.9 912,137.9 913,134.2 914,131.5 915,129.6 916,127.9 917,127.3 918,128.2 919,130 920,132.3 921,135.7 922,139.7 923,144.4 924,150.4 925,157.1 926,164.5 927,173 928,182 929,190.9 930,200.5 931,210.9 932,221.4 933,231.9 934,242.4 935,253.2 936,264.3 937,274.9 938,284.3 939,293.2 940,302 941,311.1 942,320.3 943,328 944,333.8 945,339.2 946,344.7 947,349.1 948,352.1 949,354.4 950,355.9 951,357 952,357.8 953,357.6 954,355.9 955,353.5 956,350.1 957,345.2 958,339.5 959,334.3 960,328.1 961,320.2 962,311.8 963,302.3 964,292 965,281.7 966,271.4 967,261 968,250.8 969,240.5 970,229.8 971,219.1 972,208.7 973,198.5 974,188.6 975,179.5 976,171.3 977,163.2 978,155.3 979,148.5 980,143 981,138.2 982,133.6 983,130.1 984,127.5 985,125.4 986,124.5 987,124.5 988,125.1 989,126.8 990,129.5 991,133.1 992,137.7 993,144.2 994,152.1 995,160.8 996,169.8 997,179.1 998,189.6 999,200.5 1000,211.6 1001,223.5 1002,235.7 1003,247.7 1004,259.2 1005,270.8 1006,282.2 1007,292.5 1008,301.8 1009,311.4 1010,320.8 1011,328.7 1012,335.4 1013,341.5 1014,347 1015,351.3 1016,354.3 1017,356.3 1018,357.8 1019,358.4 1020,357.6 1021,355.9 1022,353.9 1023,350.8 1024,346.2 1025,340.5 1026,333.7 1027,326 1028,317.1 1029,307.2 1030,297 1031,286 1032,274.2 1033,262.6 1034,250.9 1035,238.8 1036,227 1037,215.5 1038,204.2 1039,193.5 1040,183.4 1041,173.9 1042,165.5 1043,158 1044,150.9 1045,144.2 1046,138.5 1047,134 1048,130.4 1049,127.2 1050,124.9 1051,124.3 1052,125.1 1053,126.4 1054,128.4 1055,132.1 1056,136.8 1057,142.5 1058,149.3 1059,156.7 1060,164.5 1061,173.5 1062,183.8 1063,194.6 1064,205.9 1065,217.8 1066,229.7 1067,241.3 1068,253.1 1069,264.9 1070,275.7 1071,285.8 1072,295.9 1073,305.5 1074,314.1 1075,322.4 1076,330.5 1077,337.6 1078,343.2 1079,347.7 1080,351.1 1081,353.4 1082,355.6 1083,357.2 1084,357 1085,355.3 1086,353 1087,350.2 1088,346.1 1089,340.7 1090,334.7 1091,327.9 1092,319.9 1093,310.5 1094,299.9 1095,288.7 1096,277.1 1097,265.4 1098,254.1 1099,243.1 1100,231.7 1101,220.3 1102,209 1103,197.6 1104,186.4 1105,176 1106,166.6 1107,158.2 1108,150.7 1109,144.1 1110,138.2 1111,133.2 1112,129.3 1113,126.1 1114,123.3 1115,121.9 1116,122.2 1117,123.1 1118,124.4 1119,127.3 1120,131.5 1121,136.4 1122,142.3 1123,148.8 1124,156.6 1125,165.7 1126,175.3 1127,185.6 1128,196.6 1129,208.4 1130,220.4 1131,232.3 1132,243.7 1133,254.9 1134,266 1135,277.2 1136,287.8 1137,297.2 1138,306.4 1139,315.7 1140,324.1 1141,331.7 1142,338.6 1143,343.8 1144,347.8 1145,351 1146,353.6 1147,355.2 1148,355.2 1149,354.5 1150,353.4 1151,351.6 1152,348.4 1153,343.7 1154,338.1 1155,331.6 1156,323.8 1157,314.7 1158,305.1 1159,295.4 1160,284.8 1161,273.3 1162,261.7 1163,249.5 1164,237.1 1165,225.5 1166,214.5 1167,203.5 1168,192.6 1169,182.1 1170,172.4 1171,164.1 1172,156.5 1173,148.8 1174,142 1175,136.3 1176,131.6 1177,128 1178,125.1 1179,123 1180,121.9 1181,122 1182,123.4 1183,126 1184,129.6 1185,134.2 1186,139.3 1187,145.8 1188,153.7 1189,162.3 1190,171 1191,180.4 1192,191.5 1193,203 1194,214.7 1195,226.8 1196,239 1197,250.7 1198,262.1 1199,273.6 1200,284.6 1201,294.4 1202,303.3 1203,312.2 1204,320.7 1205,328.6 1206,335.8 1207,341.8 1208,346.4 1209,350.6 1210,353.7 1211,355.5 1212,356.5 1213,357.2 1214,357.1 1215,355.4 1216,351.9 1217,347.1 1218,341.9 1219,336.2 1220,329.3 1221,321 1222,312 1223,302.4 1224,291.7 1225,279.9 1226,267.7 1227,255.8 1228,244.3 1229,233 1230,221.9 1231,211.2 1232,200.2 1233,189.6 1234,180.2 1235,170.8 1236,161.6 1237,153.6 1238,146.4 1239,139.9 1240,135 1241,131.3 1242,128 1243,125.3 1244,123.7 1245,123.7 1246,125.1 1247,126.6 1248,128.6 1249,132.2 1250,137.3 1251,143.2 1252,150 1253,158 1254,166.9 1255,176.9 1256,187.9 1257,199.5 1258,211.2 1259,222.6 1260,234 1261,245.3 1262,256.8 1263,268.3 1264,279.6 1265,290.3 1266,300.5 1267,310.1 1268,318.5 1269,325.9 1270,333 1271,339.7 1272,345.6 1273,350.3 1274,353.4 1275,356 1276,358.1 1277,359 1278,358.3 1279,356.5 1280,354.1 1281,351.1 1282,347.2 1283,341.8 1284,335.3 1285,327.8 1286,319.4 1287,309.6 1288,298.5 1289,287.2 1290,276.1 1291,264.6 1292,252.7 1293,241.1 1294,229.7 1295,218.5 1296,207.5 1297,196.8 1298,186.5 1299,177 1300,167.8 1301,159.5 1302,152 1303,145.3 1304,139.7 1305,134.9 1306,130.8 1307,127.7 1308,125.4 1309,124.2 1310,124.4 1311,125.6 1312,127.6 1313,130.6 1314,134.7 1315,139.6 1316,145.8 1317,153.3 1318,161.8 1319,171.3 1320,181.6 1321,192.5 1322,203.5 1323,215 1324,226.9 1325,238.6 1326,250.1 1327,261.6 1328,272.8 1329,283.3 1330,293.2 1331,302.7 1332,312 1333,320.7 1334,328.5 1335,335.1 1336,341 1337,346.5 1338,351.4 1339,354.8 1340,356.9 1341,357.9 1342,358.1 1343,357.8 1344,356.3 1345,353.3 1346,349 1347,343.6 1348,337.1 1349,330.2 1350,322.7 1351,313.8 1352,303.9 1353,293.3 1354,282.1 1355,270.1 1356,258.1 1357,246.4 1358,234.9 1359,224 1360,213.2 1361,201.8 1362,190.8 1363,180.4 1364,170.1 1365,160.6 1366,152.8 1367,146 1368,139.8 1369,134 1370,129 1371,125.3 1372,123.1 1373,121.8 1374,120.8 1375,120.5 1376,121.9 1377,124.7 1378,128.6 1379,134.7 1380,141.8 1381,149.7 1382,159.4 1383,170.3 1384,181.9 1385,193.8 1386,206.4 1387,219.5 1388,232.5 1389,245.1 1390,257.7 1391,269.7 1392,281.6 1393,293.7 1394,304.7 1395,314.6 1396,323.8 1397,332.5 1398,340 1399,346 1400,350.7 1401,354.6 1402,357.8 1403,359.9 1404,360.4 1405,359.3 1406,357.1 1407,354 1408,350.1 1409,344.5 1410,337 1411,327.9 1412,318.5 1413,308.4 1414,296.8 1415,284 1416,271.1 1417,258.6 1418,246 1419,233.2 1420,220.8 1421,208.9 1422,197.1 1423,185.7 1424,175.1 1425,165.8 1426,156.8 1427,148.4 1428,141.2 1429,135.6 1430,131.3 1431,127.9 1432,125.7 1433,124.8 1434,124.6 1435,125.4 1436,127.1 1437,130.5 1438,135.8 1439,142.2 1440,149.5 1441,157.8 1442,167.4 1443,178.6 1444,191.3 1445,204.1 1446,216.7 1447,229.3 1448,241.7 1449,254.3 1450,267.4 1451,280 1452,291.5 1453,302.2 1454,312.6 1455,322.4 1456,331.1 1457,338.7 1458,345.4 1459,350.9 1460,355.4 1461,359.2 1462,361.4 1463,362.4 1464,362.3 1465,361 1466,358.7 1467,354.5 1468,348.4 1469,341.9 1470,335 1471,327 1472,317.2 1473,305.9 1474,293.5 1475,280.5 1476,267.6 1477,254.6 1478,241.3 1479,228.3 1480,215.8 1481,204 1482,192.8 1483,182.1 1484,171.7 1485,162.3 1486,153.7 1487,146 1488,139.8 1489,134.5 1490,129.8 1491,126.6 1492,124.8 1493,124.2 1494,124.6 1495,126 1496,128.6 1497,132.8 1498,138.3 1499,144.5 1500,152 1501,161.3 1502,171.9 1503,183.2 1504,195.3 1505,207.8 1506,221 1507,234.7 1508,248.1 1509,260.8 1510,272.6 1511,283.5 1512,294.4 1513,305.6 1514,316.4 1515,326.3 1516,335.3 1517,342.5 1518,347.8 1519,352 1520,355.8 1521,358.6 1522,360.5 1523,361.4 1524,361 1525,359.4 1526,356.4 1527,351.6 1528,345.5 1529,338.3 1530,330.2 1531,321.2 1532,310.7 1533,298.8 1534,286 1535,272.9 1536,260.2 1537,247.5 1538,234.6 1539,222.1 1540,210.1 1541,198.5 1542,187.7 1543,176.9 1544,166.6 1545,157.8 1546,150.2 1547,143.5 1548,137.4 1549,132.4 1550,129 1551,126.6 1552,125.3 1553,125.1 1554,126 1555,128.1 1556,131.4 1557,135.9 1558,141.6 1559,149.4 1560,158.7 1561,168.5 1562,178.8 1563,190.4 1564,203.3 1565,216.4 1566,229.1 1567,241.7 1568,254.5 1569,267.2 1570,279.6 1571,291.9 1572,303 1573,313.3 1574,322.9 1575,331.9 1576,339.9 1577,346.4 1578,351.5 1579,355.4 1580,358.6 1581,360.6 1582,362 1583,362.8 1584,362 1585,359.3 1586,355.6 1587,350.6 1588,343.8 1589,336.1 1590,327.2 1591,316.7 1592,305.4 1593,293.5 1594,281.2 1595,268.7 1596,256.2 1597,243 1598,229.3 1599,216 1600,204.3 1601,193.3 1602,182.5 1603,172.1 1604,162.4 1605,153.7 1606,145.9 1607,139.3 1608,134.2 1609,130.3 1610,127.6 1611,125.8 1612,124.7 1613,124.8 1614,126.2 1615,128.6 1616,132.3 1617,137.5 1618,143.9 1619,151.4 1620,160.8 1621,171.8 1622,183.5 1623,195.8 1624,208.6 1625,221.4 1626,234.2 1627,247 1628,259.9 1629,272.6 1630,284.8 1631,296.1 1632,306.4 1633,316 1634,325.1 1635,333.9 1636,341.7 1637,347.9 1638,353.2 1639,357.2 1640,359.7 1641,360.9 1642,361.1 1643,360.1 1644,358.1 1645,355.7 1646,352 1647,346.1 1648,338.8 1649,330.7 1650,321.3 1651,310.5 1652,298.8 1653,286.6 1654,274.1 1655,260.9 1656,247.7 1657,235 1658,222.3 1659,209.9 1660,198 1661,187 1662,176.7 1663,166.4 1664,156.6 1665,148.4 1666,141.3 1667,135.3 1668,131.1 1669,127.8 1670,125 1671,123.6 1672,123.4 1673,124.4 1674,126.4 1675,129.6 1676,134.3 1677,140.5 1678,148.2 1679,157 1680,166.8 1681,177.5 1682,189.1 1683,201.5 1684,214.5 1685,227.2 1686,239.1 1687,251.2 1688,263.9 1689,276.6 1690,288.8 1691,299.9 1692,309.7 1693,319 1694,328.1 1695,336.3 1696,343.6 1697,349.6 1698,354.3 1699,357.4 1700,359.2 1701,359.7 1702,359.1 1703,357.9 1704,356.1 1705,352.8 1706,347.7 1707,340.9 1708,333.1 1709,324.9 1710,315.5 1711,304.4 1712,291.9 1713,278.9 1714,265.8 1715,252.6 1716,239.4 1717,226.5 1718,214.1 1719,202.2 1720,190.6 1721,179.3 1722,168.4 1723,158.1 1724,148.9 1725,141.2 1726,134.6 1727,128.7 1728,123.7 1729,120.4 1730,118.1 1731,117 1732,117.2 1733,118.7 1734,121.6 1735,126 1736,131.9 1737,139.6 1738,149.2 1739,160.4 1740,172.6 1741,185.9 1742,200.2 1743,214.8 1744,229.2 1745,243.6 1746,257.5 1747,270.6 1748,283.1 1749,295.3 1750,307.4 1751,318.8 1752,328.8 1753,337 1754,343.4 1755,348.8 1756,353.7 1757,357.5 1758,359.8 1759,359.9 1760,358.6 1761,356.6 1762,353.1 1763,347.7 1764,340.6 1765,332.2 1766,322.1 1767,310.3 1768,296.9 1769,282.9 1770,268.6 1771,254 1772,239.2 1773,224.6 1774,210.6 1775,197.6 1776,185.5 1777,174 1778,163.2 1779,153 1780,143.6 1781,135.4 1782,128.6 1783,123.3 1784,119.5 1785,117.4 1786,116.9 1787,117.6 1788,119.2 1789,121.5 1790,126.1 1791,132.6 1792,140.5 1793,150.1 1794,161.4 1795,173.7 1796,187 1797,200.9 1798,215.6 1799,230.3 1800,244.5 1801,258.4 1802,271.6 1803,283.8 1804,296.3 1805,309 1806,320.2 1807,329.3 1808,337.3 1809,344.3 1810,350.1 1811,354.6 1812,357.7 1813,359.7 1814,360.3 1815,358.9 1816,356 1817,351.9 1818,346.5 1819,339.8 1820,331.3 1821,320.6 1822,308.1 1823,294.5 1824,280.7 1825,266.8 1826,252.6 1827,238.4 1828,225 1829,211.7 1830,198.3 1831,185.2 1832,172.9 1833,161.7 1834,151.3 1835,142.4 1836,134.8 1837,128.7 1838,124.2 1839,121 1840,118.8 1841,117.6 1842,117.8 1843,119.5 1844,122.2 1845,126.6 1846,133.4 1847,141.9 1848,152 1849,163.7 1850,175.9 1851,188.9 1852,203.3 1853,217.9 1854,232 1855,245.8 1856,259.7 1857,273.6 1858,286.8 1859,299.4 1860,311.2 1861,321.8 1862,331.1 1863,338.9 1864,345.1 1865,350.1 1866,354.5 1867,357.8 1868,359.4 1869,359.2 1870,358.1 1871,356.4 1872,353 1873,347.6 1874,340.6 1875,331.9 1876,321.1 1877,308.6 1878,295 1879,281.1 1880,266.7 1881,251.9 1882,237.5 1883,223.9 1884,210.6 1885,197.4 1886,184.3 1887,172.3 1888,161.4 1889,151.5 1890,142.6 1891,134.4 1892,127.8 1893,123.2 1894,120.2 1895,118.2 1896,117 1897,116.6 1898,118 1899,121.7 1900,126.7 1901,133.3 1902,141.9 1903,152 1904,163.4 1905,176.3 1906,190.4 1907,204.9 1908,219.2 1909,233 1910,246.8 1911,260.4 1912,273.7 1913,286.6 1914,299 1915,310.6 1916,321.3 1917,330.9 1918,339 1919,345.3 1920,350.5 1921,355.1 1922,358 1923,359.3 1924,359.7 1925,358.9 1926,356.9 1927,353.1 1928,347.3 1929,339.8 1930,330.7 1931,319.9 1932,307.5 1933,293.5 1934,279.2 1935,265.2 1936,250.8 1937,236.6 1938,223.3 1939,210.2 1940,196.9 1941,183.8 1942,171.2 1943,160.1 1944,150.4 1945,142 1946,134.9 1947,128.5 1948,122.8 1949,118.9 1950,117.1 1951,116.8 1952,117.7 1953,119.6 1954,123 1955,127.9 1956,134.7 1957,143.5 1958,154 1959,165.4 1960,178.1 1961,191.9 1962,205.9 1963,220.2 1964,234.9 1965,249.5 1966,263.7 1967,277.2 1968,289.4 1969,300.8 1970,312.5 1971,323.3 1972,332.3 1973,339.8 1974,346.6 1975,352 1976,355.7 1977,357.8 1978,358.6 1979,359 1980,358.6 1981,356.4 1982,351.9 1983,345.7 1984,338 1985,328.9 1986,318.2 1987,305.7 1988,292.4 1989,278.7 1990,264.6 1991,250.2 1992,235.9 1993,221.9 1994,208.7 1995,195.7 1996,183 1997,170.9 1998,160 1999,150.5 2000,142.7 2001,135.6 2002,129.2 2003,124.6 2004,121.6 2005,119.3 2006,118.4 2007,119.5 2008,121.9 2009,125.7 2010,130.7 2011,137.1 2012,145.5 2013,155.7 2014,167.2 2015,179.6 2016,192.8 2017,207.1 2018,222.3 2019,237.2 2020,251.5 2021,265.6 2022,279.2 2023,291.9 2024,303.7 2025,314.9 2026,325 2027,333.8 2028,341.6 2029,348.4 2030,354.1 2031,358.5 2032,361.3 2033,362.4 2034,361.7 2035,359.8 2036,357.4 2037,353.5 2038,347.4 2039,339.8 2040,330.4 2041,319.4 2042,307.3 2043,294.3 2044,280.2 2045,265.7 2046,251 2047,236.6 2048,223.1 2049,209.5 2050,195.7 2051,182.8 2052,170.9 2053,160 2054,150.1 2055,141.4 2056,134.2 2057,128.1 2058,123 2059,119.7 2060,118 2061,117.4 2062,117.9 2063,120.4 2064,124.9 2065,130.9 2066,138.9 2067,149.2 2068,161.3 2069,174.5 2070,189.5 2071,205.7 2072,221.3 2073,236.4 2074,252.2 2075,267.9 2076,282.5 2077,296 2078,308.9 2079,320.9 2080,331.5 2081,340.5 2082,348.1 2083,354.1 2084,358.2 2085,360.9 2086,362.3 2087,361.8 2088,360.2 2089,357.3 2090,352.4 2091,345.4 2092,336 2093,324.6 2094,311.8 2095,297.8 2096,282.5 2097,266.4 2098,250.3 2099,234.3 2100,218.6 2101,204 2102,190.2 2103,176.8 2104,164.1 2105,152.6 2106,142.8 2107,134.4 2108,127.5 2109,122.4 2110,118.8 2111,116.6 2112,116 2113,117 2114,119.6 2115,124.3 2116,130.3 2117,137.9 2118,148.2 2119,161.3 2120,175.9 2121,191 2122,206.3 2123,222.1 2124,238.1 2125,254.2 2126,269.9 2127,284.6 2128,298.1 2129,310.4 2130,321.8 2131,332.6 2132,342.5 2133,350.6 2134,356.6 2135,360.4 2136,362.8 2137,364 2138,364 2139,362.6 2140,359 2141,353.6 2142,346.4 2143,336.8 2144,324.7 2145,310.7 2146,295.6 2147,280 2148,263.9 2149,247.7 2150,232 2151,216.6 2152,201.9 2153,188.7 2154,176 2155,163.5 2156,152 2157,141.9 2158,133 2159,125.9 2160,121 2161,118.2 2162,116.3 2163,115.9 2164,117 2165,119.3 2166,123.8 2167,130.8 2168,139.7 2169,150.8 2170,163.7 2171,178.1 2172,193.7 2173,209.7 2174,225.7 2175,241.7 2176,257.5 2177,272.8 2178,287.2 2179,300.5 2180,313.3 2181,325.2 2182,335.2 2183,343.7 2184,351 2185,356.9 2186,361.3 2187,364.2 2188,365.6 2189,365.3 2190,363.6 2191,360.2 2192,354.2 2193,346.1 2194,336.6 2195,324.9 2196,310.9 2197,295.3 2198,279 2199,262.8 2200,246.6 2201,230.7 2202,215.5 2203,200.8 2204,186.2 2205,172.7 2206,160.9 2207,150.6 2208,141.1 2209,132.9 2210,126.9 2211,122.2 2212,118.6 2213,116.6 2214,116.6 2215,118.3 2216,121.2 2217,125.7 2218,132.7 2219,141.8 2220,152.9 2221,165.9 2222,180.4 2223,195.8 2224,211.6 2225,227.6 2226,244.2 2227,260.4 2228,275.1 2229,288.9 2230,302.4 2231,315.4 2232,327.1 2233,337.3 2234,346 2235,352.7 2236,357.6 2237,361.2 2238,363.6 2239,364.3 2240,363.6 2241,361.3 2242,357.4 2243,351.2 2244,342.4 2245,331.8 2246,319.7 2247,305.7 2248,290.5 2249,274.2 2250,257.4 2251,241.4 2252,226.1 2253,211.2 2254,196.9 2255,183.1 2256,170.2 2257,158.4 2258,147.3 2259,137.7 2260,130.1 2261,124 2262,119.2 2263,116.2 2264,115.2 2265,115.8 2266,118 2267,121.5 2268,126.3 2269,133.2 2270,142.9 2271,154.7 2272,168.3 2273,183.5 2274,199 2275,214.4 2276,230.4 2277,246.9 2278,262.7 2279,277 2280,290.9 2281,304.5 2282,316.9 2283,328.2 2284,337.9 2285,345.4 2286,351.8 2287,357.2 2288,360.7 2289,362.9 2290,363.6 2291,362.8 2292,360.2 2293,355.5 2294,348.7 2295,339.9 2296,329 2297,316.5 2298,302.3 2299,286.4 2300,269.8 2301,253.6 2302,238.3 2303,223.6 2304,209 2305,194.4 2306,180.4 2307,167.8 2308,156.3 2309,145.6 2310,136.1 2311,128.7 2312,123.2 2313,118.7 2314,116 2315,115.1 2316,115.7 2317,117.3 2318,120.4 2319,126 2320,134.5 2321,144.7 2322,156.4 2323,169.9 2324,184.7 2325,200.4 2326,216.5 2327,232.3 2328,248 2329,262.8 2330,277 2331,291 2332,304.4 2333,316.9 2334,327.9 2335,337.6 2336,345.9 2337,352.5 2338,357.6 2339,360.6 2340,361.6 2341,362 2342,361.7 2343,359.4 2344,354.4 2345,347 2346,337.5 2347,326.3 2348,313.3 2349,299 2350,283.2 2351,266.4 2352,250.2 2353,234.5 2354,218.5 2355,203.2 2356,189.2 2357,175.8 2358,162.3 2359,149.3 2360,138.4 2361,130.1 2362,123 2363,117 2364,112.3 2365,109.1 2366,108.3 2367,109.4 2368,112.2 2369,117.5 2370,125.1 2371,134.4 2372,146.2 2373,161.3 2374,178.5 2375,196.6 2376,215.1 2377,233.4 2378,251 2379,267.8 2380,283.8 2381,299.3 2382,313.8 2383,326.9 2384,338.3 2385,347.7 2386,355.2 2387,361.1 2388,364.9 2389,366.3 2390,365.7 2391,362.5 2392,357.4 2393,350.3 2394,340.5 2395,328.3 2396,313.8 2397,296.9 2398,279.4 2399,262 2400,244.5 2401,226.8 2402,209 2403,191.9 2404,176.3 2405,162.1 2406,148.6 2407,136.7 2408,126.9 2409,119.1 2410,113 2411,109.1 2412,108.1 2413,109.7 2414,112.9 2415,118.3 2416,126.5 2417,136.7 2418,148.7 2419,162.5 2420,177.9 2421,194.1 2422,210.8 2423,228.2 2424,246.2 2425,263.9 2426,281.6 2427,298.4 2428,313.5 2429,326.8 2430,338.7 2431,349.4 2432,358.7 2433,365.6 2434,369.5 2435,370.5 2436,368.9 2437,365.9 2438,361.2 2439,353.3 2440,342.4 2441,329.9 2442,316.5 2443,301.6 2444,285.5 2445,268.9 2446,251.9 2447,234.2 2448,216.7 2449,199.6 2450,182.9 2451,167.1 2452,152.6 2453,139.6" fill="none" stroke="#00ff00" stroke-width="4.6" stroke-linejoin="round" />
<polyline points="169,233.5 170,221.2 171,209 172,197 173,185.3 174,174 175,163.1 176,152.8 177,143.1 178,134.1 179,125.8 180,118.3 181,111.7 182,106.1 183,101.4 184,97.7 185,95 186,93.4 187,92.9 188,93.4 189,94.9 190,97.6 191,101.2 192,105.8 193,111.4 194,117.9 195,125.3 196,133.5 197,142.4 198,152 199,162.2 200,173 201,184.2 202,195.7 203,207.6 204,219.6 205,231.8 206,244 207,256.1 208,268.1 209,280 210,291.5 211,302.7 212,313.4 213,323.7 214,333.4 215,342.5 216,350.9 217,358.6 218,365.5 219,371.5 220,376.8 221,381.1 222,384.6 223,387.1 224,388.7 225,389.3 226,388.9 227,387.6 228,385.3 229,382.1 230,378 231,372.9 232,367 233,360.2 234,352.7 235,344.3 236,335.3 237,325.6 238,315.4 239,304.6 240,293.4 241,281.8 242,269.9 243,257.7 244,245.5 245,233.2 246,220.9 247,208.7 248,196.8 249,185.1 250,173.9 251,163.1 252,152.8 253,143.2 254,134.2 255,126 256,118.7 257,112.2 258,106.6 259,102 260,98.5 261,95.9 262,94.4 263,93.9 264,94.5 265,96.2 266,98.9 267,102.6 268,107.3 269,112.9 270,119.5 271,126.9 272,135.1 273,144 274,153.6 275,163.8 276,174.5 277,185.7 278,197.2 279,209 280,220.9 281,233 282,245.2 283,257.3 284,269.2 285,280.9 286,292.4 287,303.5 288,314.1 289,324.2 290,333.8 291,342.8 292,351.1 293,358.6 294,365.4 295,371.3 296,376.4 297,380.7 298,384 299,386.3 300,387.8 301,388.2 302,387.8 303,386.3 304,383.9 305,380.6 306,376.3 307,371.1 308,365.1 309,358.2 310,350.5 311,342.1 312,333 313,323.2 314,312.9 315,302 316,290.7 317,279.1 318,267.1 319,254.9 320,242.6 321,230.3 322,218 323,205.8 324,193.9 325,182.2 326,171 327,160.2 328,150 329,140.4 330,131.5 331,123.4 332,116.1 333,109.7 334,104.2 335,99.7 336,96.2 337,93.7 338,92.3 339,92 340,92.7 341,94.5 342,97.3 343,101.2 344,106 345,111.8 346,118.4 347,126 348,134.3 349,143.3 350,153 351,163.3 352,174.1 353,185.3 354,196.9 355,208.8 356,220.8 357,232.9 358,245.1 359,257.1 360,269.1 361,280.8 362,292.2 363,303.2 364,313.8 365,323.9 366,333.4 367,342.3 368,350.5 369,357.9 370,364.6 371,370.4 372,375.4 373,379.5 374,382.7 375,385 376,386.3 377,386.7 378,386.1 379,384.6 380,382.2 381,378.8 382,374.5 383,369.3 384,363.3 385,356.4 386,348.8 387,340.4 388,331.3 389,321.7 390,311.4 391,300.7 392,289.5 393,278 394,266.1 395,254.1 396,242 397,229.8 398,217.7 399,205.7 400,193.9 401,182.4 402,171.4 403,160.8 404,150.7 405,141.3 406,132.6 407,124.6 408,117.5 409,111.2 410,105.9 411,101.6 412,98.2 413,95.9 414,94.7 415,94.5 416,95.4 417,97.3 418,100.3 419,104.2 420,109.2 421,115.1 422,122 423,129.7 424,138.1 425,147.3 426,157.2 427,167.7 428,178.6 429,190 430,201.8 431,213.8 432,226 433,238.3 434,250.6 435,262.8 436,274.9 437,286.7 438,298.3 439,309.4 440,320.1 441,330.3 442,339.9 443,348.8 444,357 445,364.5 446,371.2 447,377 448,382 449,386 450,389.2 451,391.3 452,392.6 453,392.8 454,392.1 455,390.4 456,387.7 457,384.1 458,379.6 459,374.2 460,367.9 461,360.8 462,352.9 463,344.3 464,335 465,325.1 466,314.6 467,303.6 468,292.2 469,280.5 470,268.4 471,256.2 472,243.9 473,231.6 474,219.4 475,207.3 476,195.5 477,184 478,172.9 479,162.2 480,152.2 481,142.8 482,134.1 483,126.2 484,119.2 485,113 486,107.8 487,103.5 488,100.3 489,98.1 490,96.9 491,96.8 492,97.7 493,99.7 494,102.7 495,106.7 496,111.6 497,117.6 498,124.3 499,132 500,140.4 501,149.5 502,159.3 503,169.6 504,180.4 505,191.7 506,203.3 507,215.2 508,227.2 509,239.3 510,251.5 511,263.6 512,275.5 513,287.2 514,298.5 515,309.5 516,320.1 517,330.1 518,339.6 519,348.4 520,356.4 521,363.8 522,370.3 523,376 524,380.9 525,384.8 526,387.8 527,389.9 528,391 529,391.1 530,390.2 531,388.4 532,385.6 533,381.9 534,377.2 535,371.7 536,365.2 537,358 538,349.9 539,341.2 540,331.7 541,321.6 542,311 543,299.9 544,288.3 545,276.5 546,264.3 547,252 548,239.6 549,227.2 550,214.8 551,202.7 552,190.7 553,179.1 554,168 555,157.3 556,147.3 557,137.8 558,129.1 559,121.2 560,114.2 561,108 562,102.8 563,98.6 564,95.4 565,93.3 566,92.2 567,92.2 568,93.5 569,96 570,99.7 571,104.6 572,110.6 573,117.7 574,125.9 575,134.9 576,144.9 577,155.7 578,167.1 579,179.2 580,191.7 581,204.6 582,217.8 583,231.2 584,244.6 585,258 586,271.2 587,284.2 588,296.8 589,309 590,320.6 591,331.5 592,341.8 593,351.2 594,359.8 595,367.4 596,374.1 597,379.7 598,384.2 599,387.7 600,389.9 601,391.1 602,391 603,389.8 604,387.4 605,383.9 606,379.3 607,373.6 608,366.8 609,359 610,350.3 611,340.8 612,330.4 613,319.3 614,307.5 615,295.2 616,282.5 617,269.4 618,256 619,242.5 620,229 621,215.6 622,202.3 623,189.3 624,176.8 625,164.7 626,153.3 627,142.6 628,132.7 629,123.7 630,115.7 631,108.7 632,102.8 633,98.1 634,94.5 635,92.2 636,91.1 637,91.3 638,92.8 639,95.5 640,99.4 641,104.4 642,110.7 643,118 644,126.3 645,135.6 646,145.7 647,156.6 648,168.2 649,180.4 650,193.1 651,206.2 652,219.5 653,233.1 654,246.6 655,260.2 656,273.5 657,286.6 658,299.3 659,311.6 660,323.3 661,334.3 662,344.6 663,354.1 664,362.7 665,370.3 666,377 667,382.5 668,387 669,390.3 670,392.4 671,393.3 672,393.1 673,391.7 674,389.1 675,385.3 676,380.3 677,374.3 678,367.2 679,359.1 680,350.1 681,340.1 682,329.4 683,317.9 684,305.8 685,293.2 686,280.1 687,266.6 688,253 689,239.2 690,225.3 691,211.6 692,198.1 693,185 694,172.3 695,160.1 696,148.5 697,137.8 698,127.8 699,118.8 700,110.8 701,103.9 702,98.1 703,93.5 704,90.1 705,88 706,87.2 707,87.6 708,89.3 709,92.3 710,96.5 711,102 712,108.5 713,116.2 714,124.9 715,134.6 716,145.1 717,156.4 718,168.4 719,181 720,194.1 721,207.6 722,221.3 723,235.1 724,249 725,262.9 726,276.5 727,289.9 728,302.8 729,315.3 730,327.1 731,338.3 732,348.7 733,358.2 734,366.8 735,374.4 736,381 737,386.5 738,390.8 739,394 740,395.9 741,396.7 742,396.2 743,394.5 744,391.6 745,387.5 746,382.3 747,375.9 748,368.5 749,360.1 750,350.8 751,340.6 752,329.5 753,317.8 754,305.5 755,292.6 756,279.4 757,265.8 758,252 759,238.1 760,224.3 761,210.6 762,197.2 763,184.1 764,171.4 765,159.4 766,148 767,137.4 768,127.7 769,118.9 770,111.2 771,104.5 772,99 773,94.6 774,91.5 775,89.7 776,89.1 777,89.8 778,91.7 779,94.9 780,99.4 781,105 782,111.8 783,119.6 784,128.5 785,138.3 786,148.9 787,160.3 788,172.4 789,185.1 790,198.2 791,211.7 792,225.4 793,239.3 794,253.2 795,267 796,280.6 797,293.9 798,306.7 799,319.1 800,330.9 801,341.9 802,352.2 803,361.5 804,370 805,377.4 806,383.8 807,389 808,393.2 809,396.1 810,397.8 811,398.3 812,397.6 813,395.6 814,392.5 815,388.2 816,382.7 817,376.1 818,368.5 819,359.9 820,350.4 821,340 822,328.9 823,317.1 824,304.7 825,291.8 826,278.5 827,265 828,251.2 829,237.5 830,223.8 831,210.2 832,196.9 833,184 834,171.7 835,159.9 836,148.7 837,138.4 838,129 839,120.5 840,113 841,106.6 842,101.3 843,97.2 844,94.4 845,92.7 846,92.3 847,93.2 848,95.3 849,98.7 850,103.2 851,108.9 852,115.7 853,123.6 854,132.5 855,142.3 856,152.9 857,164.3 858,176.3 859,188.9 860,201.9 861,215.3 862,228.9 863,242.7 864,256.4 865,270.1 866,283.5 867,296.7 868,309.4 869,321.5 870,333.1 871,344 872,354 873,363.2 874,371.4 875,378.7 876,384.8 877,389.9 878,393.8 879,396.5 880,398 881,398.2 882,397.3 883,395.2 884,391.8 885,387.3 886,381.7 887,374.9 888,367.1 889,358.4 890,348.7 891,338.2 892,327 893,315.1 894,302.6 895,289.7 896,276.4 897,262.9 898,249.2 899,235.4 900,221.8 901,208.3 902,195.1 903,182.4 904,170.1 905,158.4 906,147.5 907,137.3 908,128 909,119.7 910,112.4 911,106.2 912,101.1 913,97.2 914,94.6 915,93.1 916,92.9 917,94 918,96.3 919,99.8 920,104.5 921,110.3 922,117.3 923,125.3 924,134.2 925,144.1 926,154.8 927,166.2 928,178.3 929,190.9 930,203.9 931,217.2 932,230.8 933,244.5 934,258.2 935,271.8 936,285.1 937,298.2 938,310.8 939,322.8 940,334.3 941,345 942,354.9 943,363.9 944,372 945,379.1 946,385.1 947,389.9 948,393.6 949,396.1 950,397.4 951,397.5 952,396.3 953,394 954,390.4 955,385.6 956,379.7 957,372.8 958,364.7 959,355.7 960,345.8 961,335 962,323.5 963,311.3 964,298.6 965,285.4 966,271.8 967,257.9 968,244 969,230 970,216 971,202.3 972,188.9 973,175.8 974,163.3 975,151.5 976,140.3 977,130 978,120.6 979,112.2 980,104.8 981,98.5 982,93.4 983,89.5 984,86.9 985,85.6 986,85.5 987,86.9 988,89.8 989,94.2 990,99.9 991,107.1 992,115.5 993,125.1 994,135.8 995,147.5 996,160.1 997,173.5 998,187.6 999,202.1 1000,217 1001,232.1 1002,247.3 1003,262.5 1004,277.4 1005,292 1006,306.1 1007,319.6 1008,332.3 1009,344.2 1010,355.1 1011,364.9 1012,373.6 1013,381 1014,387.1 1015,391.9 1016,395.2 1017,397.1 1018,397.5 1019,396.5 1020,394 1021,390.1 1022,384.8 1023,378.1 1024,370.2 1025,361 1026,350.7 1027,339.3 1028,327 1029,313.8 1030,300 1031,285.6 1032,270.7 1033,255.5 1034,240.1 1035,224.8 1036,209.5 1037,194.5 1038,179.9 1039,165.9 1040,152.5 1041,140 1042,128.4 1043,117.8 1044,108.4 1045,100.2 1046,93.3 1047,87.9 1048,83.8 1049,81.3 1050,80.2 1051,80.7 1052,82.7 1053,86.2 1054,91.1 1055,97.5 1056,105.2 1057,114.2 1058,124.4 1059,135.6 1060,147.9 1061,161 1062,174.8 1063,189.3 1064,204.2 1065,219.4 1066,234.8 1067,250.2 1068,265.5 1069,280.5 1070,295.1 1071,309.2 1072,322.6 1073,335.2 1074,346.9 1075,357.6 1076,367.1 1077,375.5 1078,382.5 1079,388.2 1080,392.5 1081,395.4 1082,396.8 1083,396.6 1084,395.1 1085,392 1086,387.5 1087,381.6 1088,374.4 1089,365.8 1090,356.1 1091,345.2 1092,333.4 1093,320.6 1094,307 1095,292.7 1096,277.9 1097,262.7 1098,247.2 1099,231.6 1100,216.1 1101,200.7 1102,185.6 1103,171 1104,157 1105,143.8 1106,131.4 1107,120 1108,109.7 1109,100.5 1110,92.7 1111,86.3 1112,81.3 1113,77.7 1114,75.7 1115,75.2 1116,76.3 1117,78.8 1118,82.9 1119,88.5 1120,95.4 1121,103.7 1122,113.3 1123,124 1124,135.8 1125,148.6 1126,162.2 1127,176.4 1128,191.3 1129,206.5 1130,222 1131,237.6 1132,253.2 1133,268.6 1134,283.7 1135,298.3 1136,312.3 1137,325.6 1138,338.1 1139,349.5 1140,359.9 1141,369.1 1142,377.1 1143,383.7 1144,389 1145,392.8 1146,395.1 1147,396 1148,395.3 1149,393.2 1150,389.6 1151,384.5 1152,378 1153,370.2 1154,361.1 1155,350.9 1156,339.5 1157,327.1 1158,313.9 1159,299.9 1160,285.3 1161,270.2 1162,254.8 1163,239.1 1164,223.4 1165,207.8 1166,192.5 1167,177.5 1168,163 1169,149.2 1170,136.2 1171,124.2 1172,113.1 1173,103.2 1174,94.6 1175,87.3 1176,81.4 1177,76.9 1178,74 1179,72.5 1180,72.6 1181,74.3 1182,77.5 1183,82.1 1184,88.2 1185,95.7 1186,104.5 1187,114.5 1188,125.6 1189,137.7 1190,150.7 1191,164.5 1192,179 1193,193.9 1194,209.1 1195,224.6 1196,240.1 1197,255.5 1198,270.7 1199,285.5 1200,299.8 1201,313.4 1202,326.3 1203,338.2 1204,349.2 1205,359.1 1206,367.7 1207,375.1 1208,381.2 1209,385.9 1210,389.1 1211,390.9 1212,391.2 1213,390 1214,387.4 1215,383.3 1216,377.8 1217,371 1218,362.8 1219,353.4 1220,342.9 1221,331.4 1222,318.9 1223,305.6 1224,291.6 1225,277 1226,262 1227,246.7 1228,231.2 1229,215.8 1230,200.4 1231,185.4 1232,170.8 1233,156.7 1234,143.3 1235,130.8 1236,119.2 1237,108.7 1238,99.3 1239,91.2 1240,84.5 1241,79.1 1242,75.3 1243,72.9 1244,72 1245,72.7 1246,74.9 1247,78.6 1248,83.8 1249,90.5 1250,98.4 1251,107.7 1252,118.2 1253,129.7 1254,142.3 1255,155.7 1256,169.8 1257,184.5 1258,199.7 1259,215.1 1260,230.8 1261,246.4 1262,261.9 1263,277.1 1264,291.9 1265,306.2 1266,319.7 1267,332.4 1268,344.1 1269,354.9 1270,364.4 1271,372.8 1272,379.8 1273,385.4 1274,389.6 1275,392.4 1276,393.7 1277,393.5 1278,391.8 1279,388.6 1280,383.9 1281,377.9 1282,370.5 1283,361.8 1284,351.9 1285,340.9 1286,328.9 1287,316 1288,302.4 1289,288 1290,273.2 1291,257.9 1292,242.5 1293,226.9 1294,211.4 1295,196.1 1296,181.1 1297,166.6 1298,152.7 1299,139.6 1300,127.4 1301,116.2 1302,106.1 1303,97.2 1304,89.6 1305,83.4 1306,78.6 1307,75.3 1308,73.4 1309,73.1 1310,74.4 1311,77.1 1312,81.4 1313,87 1314,94.1 1315,102.5 1316,112.1 1317,122.8 1318,134.6 1319,147.3 1320,160.8 1321,175 1322,189.7 1323,204.7 1324,220.1 1325,235.5 1326,250.9 1327,266.1 1328,280.9 1329,295.3 1330,309 1331,322.1 1332,334.3 1333,345.5 1334,355.6 1335,364.6 1336,372.3 1337,378.7 1338,383.7 1339,387.4 1340,389.5 1341,390.2 1342,389.5 1343,387.2 1344,383.6 1345,378.5 1346,372 1347,364.2 1348,355.2 1349,345 1350,333.8 1351,321.6 1352,308.5 1353,294.7 1354,280.2 1355,265.3 1356,250 1357,234.5 1358,219 1359,203.5 1360,188.3 1361,173.4 1362,159.1 1363,145.4 1364,132.5 1365,120.5 1366,109.5 1367,99.7 1368,91.1 1369,83.8 1370,77.9 1371,73.5 1372,70.6 1373,69.2 1374,69.5 1375,71.6 1376,75.5 1377,81.1 1378,88.4 1379,97.4 1380,107.9 1381,119.8 1382,133 1383,147.3 1384,162.6 1385,178.7 1386,195.4 1387,212.5 1388,229.8 1389,247.2 1390,264.4 1391,281.2 1392,297.6 1393,313.2 1394,327.9 1395,341.5 1396,354 1397,365.1 1398,374.8 1399,382.9 1400,389.3 1401,394 1402,397 1403,398.1 1404,397.5 1405,395 1406,390.7 1407,384.8 1408,377.1 1409,367.9 1410,357.2 1411,345.2 1412,331.9 1413,317.5 1414,302.1 1415,286 1416,269.3 1417,252.2 1418,234.8 1419,217.4 1420,200.2 1421,183.3 1422,166.9 1423,151.3 1424,136.6 1425,122.9 1426,110.4 1427,99.3 1428,89.7 1429,81.7 1430,75.3 1431,70.8 1432,68.1 1433,67.2 1434,68.2 1435,71 1436,75.7 1437,82.1 1438,90.2 1439,99.9 1440,111.1 1441,123.7 1442,137.5 1443,152.3 1444,168 1445,184.5 1446,201.4 1447,218.7 1448,236.1 1449,253.5 1450,270.6 1451,287.3 1452,303.3 1453,318.6 1454,332.8 1455,346 1456,357.8 1457,368.3 1458,377.3 1459,384.7 1460,390.4 1461,394.3 1462,396.5 1463,396.9 1464,395.4 1465,392.2 1466,387.2 1467,380.5 1468,372.2 1469,362.4 1470,351.1 1471,338.5 1472,324.7 1473,309.8 1474,294.1 1475,277.7 1476,260.8 1477,243.5 1478,226 1479,208.6 1480,191.5 1481,174.7 1482,158.6 1483,143.2 1484,128.8 1485,115.5 1486,103.6 1487,93 1488,84 1489,76.6 1490,71 1491,67.2 1492,65.2 1493,65.1 1494,66.9 1495,70.6 1496,76 1497,83.3 1498,92.2 1499,102.7 1500,114.6 1501,127.9 1502,142.3 1503,157.8 1504,174.1 1505,191 1506,208.3 1507,225.9 1508,243.6 1509,261.1 1510,278.3 1511,295 1512,310.9 1513,326 1514,340 1515,352.8 1516,364.3 1517,374.3 1518,382.7 1519,389.5 1520,394.6 1521,397.8 1522,399.3 1523,398.9 1524,396.7 1525,392.7 1526,387 1527,379.6 1528,370.6 1529,360 1530,348.1 1531,334.9 1532,320.6 1533,305.3 1534,289.2 1535,272.5 1536,255.3 1537,237.9 1538,220.4 1539,203 1540,186 1541,169.5 1542,153.6 1543,138.7 1544,124.7 1545,112 1546,100.7 1547,90.8 1548,82.5 1549,75.9 1550,71 1551,68 1552,66.8 1553,67.5 1554,70.1 1555,74.5 1556,80.7 1557,88.6 1558,98.1 1559,109.1 1560,121.6 1561,135.2 1562,150 1563,165.6 1564,182 1565,199 1566,216.3 1567,233.8 1568,251.3 1569,268.5 1570,285.3 1571,301.5 1572,317 1573,331.4 1574,344.8 1575,357 1576,367.7 1577,376.9 1578,384.6 1579,390.6 1580,394.8 1581,397.3 1582,397.9 1583,396.8 1584,393.8 1585,389.1 1586,382.6 1587,374.5 1588,364.8 1589,353.7 1590,341.2 1591,327.5 1592,312.8 1593,297.1 1594,280.7 1595,263.8 1596,246.4 1597,228.9 1598,211.4 1599,194.1 1600,177.2 1601,160.9 1602,145.4 1603,130.8 1604,117.3 1605,105 1606,94.2 1607,84.9 1608,77.2 1609,71.3 1610,67.2 1611,64.9 1612,64.5 1613,65.9 1614,69.3 1615,74.5 1616,81.4 1617,90 1618,100.2 1619,111.9 1620,124.9 1621,139.1 1622,154.3 1623,170.3 1624,187.1 1625,204.3 1626,221.7 1627,239.3 1628,256.7 1629,273.9 1630,290.5 1631,306.5 1632,321.6 1633,335.6 1634,348.5 1635,360.1 1636,370.3 1637,378.9 1638,385.8 1639,391.1 1640,394.6 1641,396.3 1642,396.2 1643,394.3 1644,390.6 1645,385.1 1646,377.9 1647,369.2 1648,358.9 1649,347.2 1650,334.3 1651,320.2 1652,305.1 1653,289.2 1654,272.6 1655,255.5 1656,238.2 1657,220.8 1658,203.4 1659,186.4 1660,169.8 1661,153.9 1662,138.8 1663,124.8 1664,111.9 1665,100.3 1666,90.2 1667,81.7 1668,74.8 1669,69.7 1670,66.3 1671,64.9 1672,65.3 1673,67.5 1674,71.6 1675,77.5 1676,85.1 1677,94.3 1678,105.1 1679,117.3 1680,130.7 1681,145.2 1682,160.7 1683,177 1684,193.8 1685,211.1 1686,228.5 1687,245.9 1688,263.2 1689,280.1 1690,296.4 1691,311.9 1692,326.5 1693,340.1 1694,352.4 1695,363.4 1696,372.9 1697,380.8 1698,387 1699,391.6 1700,394.3 1701,395.3 1702,394.4 1703,391.8 1704,387.3 1705,381.2 1706,373.4 1707,364 1708,353.2 1709,341 1710,327.5 1711,313 1712,297.5 1713,281.3 1714,264.5 1715,247.2 1716,229.7 1717,212.2 1718,194.9 1719,177.9 1720,161.4 1721,145.7 1722,130.8 1723,117 1724,104.5 1725,93.3 1726,83.6 1727,75.5 1728,69.2 1729,64.6 1730,61.9 1731,61.2 1732,62.6 1733,66.1 1734,71.7 1735,79.4 1736,89.1 1737,100.7 1738,114 1739,128.8 1740,144.9 1741,162.2 1742,180.4 1743,199.2 1744,218.4 1745,237.8 1746,257.1 1747,276 1748,294.3 1749,311.8 1750,328.2 1751,343.3 1752,357 1753,369 1754,379.2 1755,387.5 1756,393.8 1757,397.9 1758,399.9 1759,399.7 1760,397.3 1761,392.7 1762,386.1 1763,377.4 1764,366.9 1765,354.5 1766,340.6 1767,325.2 1768,308.5 1769,290.9 1770,272.3 1771,253.2 1772,233.8 1773,214.3 1774,194.9 1775,175.9 1776,157.6 1777,140.2 1778,124 1779,109.1 1780,95.7 1781,84.1 1782,74.4 1783,66.7 1784,61.2 1785,57.8 1786,56.8 1787,58 1788,61.6 1789,67.3 1790,75.2 1791,85.2 1792,97.1 1793,110.7 1794,126 1795,142.5 1796,160.3 1797,178.9 1798,198.2 1799,217.9 1800,237.7 1801,257.4 1802,276.8 1803,295.5 1804,313.3 1805,330 1806,345.4 1807,359.2 1808,371.4 1809,381.8 1810,390.1 1811,396.4 1812,400.6 1813,402.6 1814,402.3 1815,399.9 1816,395.2 1817,388.5 1818,379.7 1819,369 1820,356.6 1821,342.5 1822,327 1823,310.2 1824,292.4 1825,273.8 1826,254.7 1827,235.2 1828,215.6 1829,196.3 1830,177.4 1831,159.1 1832,141.8 1833,125.7 1834,110.9 1835,97.7 1836,86.2 1837,76.6 1838,69.1 1839,63.7 1840,60.4 1841,59.5 1842,60.8 1843,64.3 1844,70 1845,77.9 1846,87.7 1847,99.5 1848,112.9 1849,127.9 1850,144.2 1851,161.7 1852,180 1853,198.9 1854,218.2 1855,237.6 1856,256.9 1857,275.8 1858,294.1 1859,311.5 1860,327.8 1861,342.8 1862,356.3 1863,368.1 1864,378.2 1865,386.3 1866,392.3 1867,396.3 1868,398.1 1869,397.8 1870,395.3 1871,390.7 1872,384 1873,375.3 1874,364.8 1875,352.5 1876,338.6 1877,323.4 1878,306.9 1879,289.4 1880,271.1 1881,252.2 1882,233.1 1883,213.8 1884,194.8 1885,176.1 1886,158.1 1887,141 1888,125.1 1889,110.5 1890,97.4 1891,86 1892,76.5 1893,69 1894,63.6 1895,60.4 1896,59.4 1897,60.7 1898,64.2 1899,70 1900,77.8 1901,87.7 1902,99.4 1903,112.9 1904,128 1905,144.4 1906,161.9 1907,180.3 1908,199.4 1909,218.9 1910,238.5 1911,258 1912,277.1 1913,295.6 1914,313.2 1915,329.7 1916,345 1917,358.7 1918,370.7 1919,380.9 1920,389.2 1921,395.4 1922,399.5 1923,401.4 1924,401.2 1925,398.7 1926,394.1 1927,387.3 1928,378.6 1929,368 1930,355.7 1931,341.7 1932,326.3 1933,309.7 1934,292.1 1935,273.7 1936,254.8 1937,235.5 1938,216.1 1939,196.9 1940,178.2 1941,160.1 1942,143 1943,127 1944,112.3 1945,99.2 1946,87.8 1947,78.2 1948,70.7 1949,65.3 1950,62.1 1951,61.1 1952,62.4 1953,65.9 1954,71.6 1955,79.5 1956,89.3 1957,101 1958,114.5 1959,129.4 1960,145.8 1961,163.2 1962,181.6 1963,200.5 1964,219.9 1965,239.4 1966,258.8 1967,277.8 1968,296.1 1969,313.6 1970,330 1971,345.1 1972,358.8 1973,370.7 1974,380.8 1975,389 1976,395.2 1977,399.2 1978,401.1 1979,400.8 1980,398.3 1981,393.6 1982,386.9 1983,378.2 1984,367.6 1985,355.3 1986,341.4 1987,326 1988,309.4 1989,291.8 1990,273.4 1991,254.4 1992,235.1 1993,215.7 1994,196.5 1995,177.7 1996,159.6 1997,142.4 1998,126.3 1999,111.5 2000,98.3 2001,86.8 2002,77.2 2003,69.6 2004,64.1 2005,60.8 2006,59.8 2007,61 2008,64.4 2009,70.1 2010,77.9 2011,87.7 2012,99.4 2013,112.8 2014,127.8 2015,144.1 2016,161.6 2017,180 2018,199 2019,218.4 2020,238 2021,257.4 2022,276.5 2023,295 2024,312.5 2025,329 2026,344.2 2027,357.9 2028,369.9 2029,380.1 2030,388.4 2031,394.6 2032,398.7 2033,400.6 2034,400.3 2035,397.8 2036,393.2 2037,386.5 2038,377.8 2039,367.2 2040,354.9 2041,341 2042,325.6 2043,309 2044,291.4 2045,272.9 2046,253.9 2047,234.6 2048,215.1 2049,195.8 2050,176.9 2051,158.6 2052,141.2 2053,125 2054,110 2055,96.6 2056,84.9 2057,75.1 2058,67.3 2059,61.6 2060,58.1 2061,57.2 2062,58.7 2063,62.8 2064,69.3 2065,78.3 2066,89.7 2067,103.3 2068,118.9 2069,136.2 2070,155.1 2071,175.1 2072,196 2073,217.5 2074,239.2 2075,260.8 2076,282 2077,302.4 2078,321.8 2079,339.8 2080,356.1 2081,370.6 2082,383 2083,393.1 2084,400.8 2085,405.9 2086,408.5 2087,408.3 2088,405.6 2089,400.2 2090,392.3 2091,382 2092,369.4 2093,354.8 2094,338.3 2095,320.2 2096,300.8 2097,280.3 2098,259 2099,237.3 2100,215.5 2101,193.8 2102,172.7 2103,152.4 2104,133.3 2105,115.6 2106,99.7 2107,85.7 2108,74 2109,64.6 2110,57.8 2111,53.7 2112,52.3 2113,53.7 2114,57.8 2115,64.7 2116,74.1 2117,85.9 2118,100 2119,116.2 2120,134.1 2121,153.5 2122,174.1 2123,195.6 2124,217.6 2125,239.8 2126,261.8 2127,283.3 2128,304 2129,323.6 2130,341.7 2131,358.2 2132,372.7 2133,385 2134,395 2135,402.5 2136,407.4 2137,409.7 2138,409.3 2139,406.2 2140,400.6 2141,392.3 2142,381.7 2143,368.9 2144,353.9 2145,337.2 2146,318.8 2147,299.1 2148,278.4 2149,257 2150,235.1 2151,213.2 2152,191.5 2153,170.4 2154,150.2 2155,131.2 2156,113.7 2157,97.9 2158,84.2 2159,72.8 2160,63.7 2161,57.2 2162,53.4 2163,52.3 2164,54 2165,58.4 2166,65.5 2167,75.1 2168,87.2 2169,101.5 2170,117.7 2171,135.7 2172,155.1 2173,175.7 2174,197.1 2175,219 2176,241 2177,262.8 2178,284 2179,304.4 2180,323.7 2181,341.4 2182,357.5 2183,371.6 2184,383.5 2185,393 2186,400.2 2187,404.7 2188,406.6 2189,405.9 2190,402.5 2191,396.6 2192,388.2 2193,377.4 2194,364.4 2195,349.4 2196,332.7 2197,314.4 2198,294.8 2199,274.3 2200,253 2201,231.4 2202,209.8 2203,188.4 2204,167.7 2205,147.8 2206,129.2 2207,112.1 2208,96.7 2209,83.4 2210,72.3 2211,63.6 2212,57.5 2213,54 2214,53.3 2215,55.2 2216,59.9 2217,67.2 2218,77.1 2219,89.3 2220,103.7 2221,120.1 2222,138.1 2223,157.6 2224,178.3 2225,199.7 2226,221.5 2227,243.5 2228,265.2 2229,286.4 2230,306.7 2231,325.9 2232,343.5 2233,359.4 2234,373.3 2235,385.1 2236,394.5 2237,401.4 2238,405.7 2239,407.4 2240,406.4 2241,402.8 2242,396.7 2243,388 2244,377 2245,363.8 2246,348.7 2247,331.7 2248,313.3 2249,293.6 2250,272.9 2251,251.6 2252,229.9 2253,208.3 2254,186.9 2255,166.2 2256,146.4 2257,127.9 2258,110.9 2259,95.7 2260,82.5 2261,71.6 2262,63.1 2263,57.2 2264,54 2265,53.5 2266,55.7 2267,60.6 2268,68.1 2269,78.2 2270,90.6 2271,105.2 2272,121.7 2273,139.9 2274,159.5 2275,180.2 2276,201.6 2277,223.4 2278,245.4 2279,267 2280,288.1 2281,308.2 2282,327.1 2283,344.5 2284,360.2 2285,373.8 2286,385.2 2287,394.3 2288,400.9 2289,404.9 2290,406.3 2291,405.1 2292,401.2 2293,394.8 2294,385.9 2295,374.7 2296,361.3 2297,346 2298,329 2299,310.5 2300,290.7 2301,270.1 2302,248.8 2303,227.3 2304,205.7 2305,184.5 2306,164 2307,144.5 2308,126.2 2309,109.5 2310,94.6 2311,81.8 2312,71.2 2313,63.1 2314,57.5 2315,54.6 2316,54.4 2317,56.9 2318,62 2319,69.8 2320,80.1 2321,92.6 2322,107.3 2323,123.9 2324,142.1 2325,161.7 2326,182.3 2327,203.6 2328,225.2 2329,247 2330,268.4 2331,289.2 2332,309.1 2333,327.7 2334,344.8 2335,360.1 2336,373.4 2337,384.6 2338,393.3 2339,399.6 2340,403.4 2341,404.5 2342,403 2343,398.9 2344,392.2 2345,383.1 2346,371.8 2347,358.3 2348,342.9 2349,325.8 2350,307.3 2351,287.6 2352,266.9 2353,245.7 2354,224.2 2355,202.7 2356,181.5 2357,161 2358,141.5 2359,123.3 2360,106.6 2361,91.7 2362,78.8 2363,68.2 2364,60.1 2365,54.5 2366,52 2367,52.6 2368,56.2 2369,62.8 2370,72.3 2371,84.8 2372,100.1 2373,117.8 2374,137.7 2375,159.3 2376,182.3 2377,206.2 2378,230.6 2379,255.1 2380,279 2381,302.1 2382,323.9 2383,344 2384,361.9 2385,377.5 2386,390.3 2387,400.2 2388,407 2389,410.6 2390,410.9 2391,407.9 2392,401.7 2393,392.4 2394,380.1 2395,365.1 2396,347.7 2397,328.2 2398,306.8 2399,284 2400,260.2 2401,235.8 2402,211.3 2403,187 2404,163.5 2405,141.1 2406,120.4 2407,101.6 2408,85.1 2409,71.4 2410,60.5 2411,52.8 2412,48.4 2413,47.4 2414,49.9 2415,55.7 2416,64.8 2417,77.1 2418,92.2 2419,110 2420,130 2421,151.9 2422,175.3 2423,199.7 2424,224.7 2425,249.9 2426,274.6 2427,298.5 2428,321.2 2429,342.1 2430,361 2431,377.5 2432,391.4 2433,402.2 2434,410 2435,414.5 2436,415.6 2437,413.5 2438,408.1 2439,399.4 2440,387.8 2441,373.4 2442,356.4 2443,337.1 2444,315.9 2445,293.2 2446,269.4 2447,244.8 2448,220 2449,195.3 2450,171.3 2451,148.2 2452,126.7 2453,107" fill="none" stroke="#677aa3" stroke-width="4.6" stroke-linejoin="round" />
<polyline points="169,228.3 170,219.7 171,211.2 172,202.9 173,194.7 174,186.9 175,179.3 176,172.2 177,165.5 178,159.3 179,153.6 180,148.5 181,144 182,140.2 183,137 184,134.6 185,132.9 186,132 187,131.8 188,132.4 189,133.6 190,135.5 191,138.2 192,141.6 193,145.7 194,150.5 195,155.8 196,161.9 197,168.6 198,175.9 199,183.7 200,191.8 201,200.1 202,208.5 203,216.8 204,224.8 205,232.8 206,241 207,249.3 208,257.5 209,265.7 210,273.9 211,282.1 212,290.1 213,297.8 214,305.2 215,312.2 216,318.7 217,324.6 218,329.9 219,334.6 220,338.4 221,341.5 222,343.8 223,345.4 224,346.4 225,346.7 226,346.2 227,345.1 228,343.1 229,340.4 230,336.9 231,332.5 232,327.2 233,321.2 234,314.6 235,307.6 236,300.5 237,293 238,285 239,276.8 240,268.3 241,259.7 242,251.1 243,242.4 244,233.8 245,225.2 246,216.7 247,208.5 248,200.6 249,193 250,185.4 251,177.9 252,170.7 253,163.8 254,157.4 255,151.5 256,146.3 257,141.8 258,138.2 259,135.3 260,133.2 261,131.7 262,131 263,130.9 264,131.1 265,132.1 266,133.8 267,136.3 268,139.6 269,143.8 270,148.6 271,154.1 272,160.4 273,167.3 274,174.8 275,182.6 276,190.7 277,199 278,207.3 279,215.6 280,224 281,232.5 282,241.1 283,249.8 284,258.5 285,267.2 286,275.7 287,284 288,292.1 289,299.8 290,307 291,313.8 292,320.1 293,325.7 294,330.8 295,335.2 296,338.9 297,341.9 298,344 299,345.3 300,345.8 301,345.6 302,344.6 303,343 304,340.6 305,337.6 306,333.8 307,329.4 308,324.4 309,318.9 310,312.9 311,306.3 312,299.3 313,291.8 314,283.9 315,275.7 316,267.3 317,258.8 318,250.2 319,241.5 320,232.8 321,224.1 322,215.5 323,207 324,198.7 325,190.6 326,182.9 327,175.5 328,168.5 329,161.8 330,155.5 331,149.7 332,144.4 333,139.8 334,135.9 335,132.7 336,130.3 337,129.1 338,129 339,129.7 340,131 341,132.6 342,134.7 343,137.5 344,140.9 345,145 346,149.7 347,155.2 348,161.4 349,168.4 350,175.9 351,184 352,192.4 353,201 354,209.6 355,218.2 356,226.8 357,235.6 358,244.3 359,253 360,261.7 361,270.2 362,278.6 363,286.7 364,294.4 365,301.6 366,308.5 367,314.8 368,320.6 369,325.7 370,330.1 371,333.9 372,337.2 373,340.1 374,342.5 375,344.1 376,345.1 377,345.4 378,344.9 379,343.5 380,341.4 381,338.6 382,335 383,328.7 384,323.6 385,317.9 386,311.8 387,305.2 388,298 389,290.4 390,282.5 391,274.3 392,265.8 393,257.3 394,248.6 395,239.9 396,231.2 397,222.5 398,213.9 399,205.4 400,197.1 401,189.1 402,181.5 403,174.1 404,167.2 405,160.5 406,154.3 407,148.7 408,143.5 409,139 410,135.2 411,132.1 412,129.9 413,128.8 414,128.8 415,129.6 416,131.1 417,132.8 418,135.1 419,138 420,141.5 421,145.7 422,150.6 423,156.1 424,162.5 425,169.5 426,177.2 427,185.3 428,193.8 429,202.4 430,211.1 431,219.7 432,228.4 433,237.2 434,245.9 435,254.7 436,263.3 437,271.8 438,280.1 439,288.2 440,295.8 441,303 442,309.8 443,316 444,321.7 445,326.7 446,331 447,334.7 448,337.9 449,340.7 450,342.9 451,344.4 452,345.3 453,345.4 454,344.8 455,343.3 456,341.1 457,338.1 458,334.4 459,327.9 460,322.7 461,317 462,310.7 463,304 464,296.8 465,289.1 466,281.1 467,272.8 468,264.3 469,255.7 470,247 471,238.3 472,229.6 473,220.9 474,212.3 475,203.8 476,195.6 477,187.6 478,180 479,172.8 480,165.9 481,159.3 482,153.2 483,147.7 484,142.6 485,138.3 486,134.6 487,131.6 488,129.5 489,128.5 490,128.6 491,129.6 492,131.2 493,133.1 494,135.5 495,138.5 496,142.1 497,146.4 498,151.4 499,157.1 500,163.5 501,170.7 502,178.5 503,186.7 504,195.2 505,203.9 506,212.6 507,221.3 508,230 509,238.8 510,247.5 511,256.3 512,264.9 513,273.4 514,281.7 515,289.7 516,297.2 517,304.4 518,311 519,317.2 520,322.8 521,327.7 522,331.9 523,335.5 524,338.6 525,341.2 526,343.3 527,344.7 528,345.4 529,345.4 530,344.6 531,343 532,340.7 533,337.6 534,333.7 535,327.1 536,321.8 537,316 538,309.6 539,302.8 540,295.5 541,287.7 542,279.7 543,271.3 544,262.8 545,254.1 546,245.4 547,236.7 548,228 549,219.3 550,210.7 551,202.3 552,194.1 553,186.2 554,178.7 555,171.5 556,164.8 557,158.4 558,152.6 559,147.5 560,142.9 561,139.1 562,136.1 563,133.8 564,132.4 565,131.8 566,132.1 567,133.2 568,135 569,137.5 570,140.8 571,144.9 572,149.8 573,155.3 574,161.6 575,168.5 576,175.9 577,183.9 578,191.8 579,200.1 580,208.8 581,217.8 582,227.1 583,236.5 584,246 585,255 586,263.9 587,272.7 588,281.3 589,289.6 590,297.5 591,305.1 592,312.2 593,318.7 594,324.6 595,329.9 596,334.4 597,338.2 598,341.2 599,343.4 600,344.7 601,345.1 602,344.7 603,343.3 604,341.1 605,338 606,334 607,329.2 608,323.6 609,317.2 610,310.1 611,302.4 612,294.1 613,285.8 614,277.1 615,268 616,258.6 617,248.9 618,239.1 619,229.3 620,220.1 621,211 622,202 623,193.4 624,185.1 625,177.2 626,169.8 627,162.9 628,156.7 629,151.1 630,146.2 631,142.1 632,138.8 633,136.3 634,134.6 635,133.7 636,133.7 637,134.6 638,136.3 639,138.9 640,142.2 641,146.4 642,151.4 643,157 644,163.4 645,170.4 646,178 647,186.1 648,194.1 649,202.6 650,211.4 651,220.5 652,229.8 653,239.2 654,248.8 655,257.8 656,266.7 657,275.4 658,283.9 659,292.1 660,300 661,307.4 662,314.3 663,320.7 664,326.4 665,331.5 666,335.8 667,339.4 668,342.2 669,344.1 670,345.2 671,345.4 672,344.7 673,343.1 674,340.6 675,337.3 676,333.1 677,328 678,322.2 679,315.7 680,308.4 681,300.5 682,292.2 683,283.8 684,275 685,265.8 686,256.3 687,246.6 688,236.8 689,227 690,217.5 691,208.5 692,199.6 693,191.1 694,182.9 695,175.1 696,167.9 697,161.2 698,155.1 699,149.7 700,145 701,141.1 702,138 703,135.7 704,134.2 705,133.6 706,133.9 707,135 708,136.9 709,139.7 710,143.3 711,147.7 712,152.9 713,158.8 714,165.4 715,172.6 716,180.3 717,188.3 718,196.5 719,205 720,213.9 721,223.1 722,232.5 723,242 724,251.5 725,260.8 726,269.7 727,278.3 728,286.7 729,294.8 730,302.5 731,309.8 732,316.5 733,322.7 734,328.2 735,333.1 736,337.2 737,340.6 738,343.1 739,344.8 740,345.6 741,345.5 742,344.6 743,342.7 744,340 745,336.4 746,332 747,326.7 748,320.7 749,313.9 750,306.5 751,298.4 752,290.2 753,281.7 754,272.8 755,263.6 756,254 757,244.3 758,234.5 759,224.7 760,215 761,206 762,197.2 763,188.8 764,180.7 765,173.1 766,165.9 767,159.4 768,153.5 769,148.3 770,143.8 771,140.1 772,137.2 773,135.2 774,133.9 775,133.5 776,134 777,135.4 778,137.6 779,140.6 780,144.5 781,149.1 782,154.5 783,160.6 784,167.4 785,174.8 786,182.7 787,190.6 788,198.8 789,207.5 790,216.5 791,225.7 792,235.2 793,244.7 794,254.3 795,263.8 796,272.6 797,281.2 798,289.5 799,297.5 800,305.1 801,312.2 802,318.7 803,324.7 804,330 805,334.7 806,338.6 807,341.7 808,343.9 809,345.4 810,345.9 811,345.6 812,344.4 813,342.3 814,339.3 815,335.5 816,330.8 817,325.3 818,319.1 819,312.1 820,304.5 821,296.4 822,288.2 823,279.7 824,270.7 825,261.3 826,251.8 827,242 828,232.2 829,222.4 830,212.6 831,203.5 832,194.8 833,186.4 834,178.5 835,171 836,164.1 837,157.7 838,152 839,147 840,142.7 841,139.2 842,136.5 843,134.7 844,133.7 845,133.5 846,134.3 847,135.9 848,138.3 849,141.6 850,145.6 851,150.5 852,156.1 853,162.4 854,169.4 855,177 856,184.9 857,192.8 858,201.2 859,210 860,219.1 861,228.4 862,237.9 863,247.4 864,257 865,266.5 866,275.6 867,284.1 868,292.3 869,300.2 870,307.6 871,314.5 872,320.9 873,326.7 874,331.8 875,336.2 876,339.9 877,342.7 878,344.7 879,345.9 880,346.2 881,345.6 882,344.2 883,341.8 884,338.6 885,334.5 886,329.6 887,323.9 888,317.4 889,310.3 890,302.5 891,294.5 892,286.2 893,277.5 894,268.5 895,259.1 896,249.5 897,239.7 898,229.9 899,220.1 900,210.4 901,201 902,192.4 903,184.2 904,176.3 905,169 906,162.2 907,156 908,150.5 909,145.7 910,141.6 911,138.3 912,135.9 913,134.3 914,133.5 915,133.6 916,134.6 917,136.4 918,139.1 919,142.6 920,146.9 921,152 922,157.8 923,164.3 924,171.5 925,179.3 926,187.1 927,195.2 928,203.7 929,212.5 930,221.7 931,231.1 932,240.6 933,250.2 934,259.7 935,269.2 936,278.6 937,287 938,295.1 939,302.8 940,310.1 941,316.8 942,323 943,328.6 944,333.5 945,337.7 946,341.1 947,343.7 948,345.5 949,346.4 950,346.4 951,345.6 952,343.9 953,341.3 954,337.8 955,333.5 956,328.3 957,322.4 958,315.7 959,308.4 960,300.4 961,292.5 962,284.2 963,275.4 964,266.3 965,256.8 966,247.2 967,237.4 968,227.6 969,217.8 970,208.1 971,198.6 972,190 973,181.9 974,174.2 975,167 976,160.4 977,154.4 978,149.1 979,144.4 980,140.6 981,137.5 982,135.3 983,133.9 984,133.4 985,133.7 986,134.9 987,137.3 988,140.6 989,144.8 990,150 991,156.1 992,163 993,170.7 994,179 995,187.4 996,196.2 997,205.5 998,215.2 999,225.1 1000,235.3 1001,245.7 1002,256 1003,266.3 1004,276.5 1005,286.3 1006,295.1 1007,303.4 1008,311.2 1009,318.4 1010,324.9 1011,330.7 1012,335.7 1013,339.8 1014,343 1015,345.3 1016,346.5 1017,346.7 1018,345.9 1019,344.1 1020,341.3 1021,337.4 1022,332.6 1023,326.8 1024,320.1 1025,312.6 1026,304.3 1027,295.8 1028,287 1029,277.6 1030,267.8 1031,257.7 1032,247.2 1033,236.7 1034,226.1 1035,215.5 1036,205.1 1037,195 1038,185.6 1039,177.1 1040,169.1 1041,161.7 1042,155.1 1043,149.2 1044,144.1 1045,139.9 1046,136.7 1047,134.4 1048,133.1 1049,132.9 1050,133.6 1051,135.3 1052,138.1 1053,141.8 1054,146.5 1055,152.1 1056,158.6 1057,165.8 1058,173.9 1059,182.4 1060,190.8 1061,199.9 1062,209.3 1063,219.2 1064,229.3 1065,239.6 1066,249.9 1067,260.3 1068,270.6 1069,280.6 1070,290.4 1071,299.1 1072,307.2 1073,314.7 1074,321.6 1075,327.8 1076,333.2 1077,337.8 1078,341.5 1079,344.2 1080,346 1081,346.8 1082,346.6 1083,345.3 1084,343 1085,339.7 1086,335.4 1087,330.2 1088,324 1089,316.9 1090,309.1 1091,300.5 1092,292 1093,282.9 1094,273.4 1095,263.5 1096,253.2 1097,242.7 1098,232.1 1099,221.5 1100,211 1101,200.7 1102,190.7 1103,181.3 1104,173.1 1105,165.3 1106,158.3 1107,152 1108,146.4 1109,141.7 1110,138 1111,135.1 1112,133.3 1113,132.4 1114,132.6 1115,133.7 1116,135.9 1117,139.1 1118,143.3 1119,148.4 1120,154.3 1121,161.2 1122,168.8 1123,177.2 1124,185.6 1125,194.4 1126,203.6 1127,213.3 1128,223.2 1129,233.4 1130,243.8 1131,254.2 1132,264.6 1133,274.8 1134,284.7 1135,294.4 1136,303 1137,310.8 1138,318.1 1139,324.7 1140,330.5 1141,335.5 1142,339.7 1143,343 1144,345.3 1145,346.6 1146,347 1147,346.3 1148,344.5 1149,341.8 1150,338 1151,333.3 1152,327.6 1153,321 1154,313.6 1155,305.4 1156,296.8 1157,288.1 1158,278.8 1159,269.1 1160,259 1161,248.7 1162,238.2 1163,227.6 1164,217 1165,206.6 1166,196.4 1167,186.5 1168,177.2 1169,169.1 1170,161.7 1171,155 1172,149 1173,143.8 1174,139.5 1175,136.1 1176,133.7 1177,132.3 1178,131.8 1179,132.4 1180,134.1 1181,136.7 1182,140.3 1183,144.9 1184,150.4 1185,156.8 1186,164 1187,172 1188,180.6 1189,189 1190,198 1191,207.4 1192,217.2 1193,227.3 1194,237.7 1195,248.1 1196,258.5 1197,268.8 1198,278.9 1199,288.8 1200,298.2 1201,306.8 1202,314.4 1203,321.3 1204,327.6 1205,333.1 1206,337.7 1207,341.5 1208,344.3 1209,346.2 1210,347 1211,346.9 1212,345.7 1213,343.5 1214,340.3 1215,336.1 1216,331 1217,324.9 1218,317.9 1219,310.1 1220,301.6 1221,293 1222,284.1 1223,274.7 1224,264.8 1225,254.6 1226,244.2 1227,233.6 1228,223 1229,212.5 1230,202.2 1231,192.1 1232,182.4 1233,173.2 1234,165.3 1235,158.2 1236,151.8 1237,146.1 1238,141.3 1239,137.4 1240,134.5 1241,132.5 1242,131.5 1243,131.5 1244,132.5 1245,134.6 1246,137.6 1247,141.7 1248,146.7 1249,152.6 1250,159.3 1251,166.9 1252,175.2 1253,183.8 1254,192.5 1255,201.7 1256,211.3 1257,221.3 1258,231.5 1259,241.9 1260,252.3 1261,262.7 1262,273 1263,283 1264,292.7 1265,302 1266,310.5 1267,317.8 1268,324.5 1269,330.4 1270,335.5 1271,339.7 1272,343.1 1273,345.5 1274,346.9 1275,347.3 1276,346.7 1277,345 1278,342.4 1279,338.7 1280,334 1281,328.5 1282,322 1283,314.6 1284,306.5 1285,297.7 1286,289.2 1287,280 1288,270.4 1289,260.4 1290,250.1 1291,239.6 1292,229 1293,218.5 1294,208 1295,197.8 1296,187.9 1297,178.4 1298,169.4 1299,161.7 1300,154.8 1301,148.7 1302,143.5 1303,139 1304,135.5 1305,133 1306,131.4 1307,130.8 1308,131.3 1309,132.7 1310,135.2 1311,138.7 1312,143.2 1313,148.6 1314,154.9 1315,162 1316,170 1317,178.6 1318,187.1 1319,196.1 1320,205.5 1321,215.3 1322,225.4 1323,235.7 1324,246.1 1325,256.6 1326,267 1327,277.2 1328,287.1 1329,296.6 1330,305.8 1331,314.1 1332,321.1 1333,327.5 1334,333 1335,337.7 1336,341.6 1337,344.5 1338,346.4 1339,347.4 1340,347.3 1341,346.2 1342,344.1 1343,341 1344,336.9 1345,331.8 1346,325.8 1347,318.9 1348,311.2 1349,302.7 1350,294 1351,285.2 1352,275.9 1353,266.1 1354,256 1355,245.6 1356,235.1 1357,224.5 1358,214 1359,203.6 1360,193.5 1361,183.7 1362,174.4 1363,165.6 1364,158.1 1365,151.6 1366,145.8 1367,140.9 1368,136.9 1369,133.8 1370,131.6 1371,130.5 1372,130.4 1373,131.3 1374,133.3 1375,136.6 1376,141.1 1377,146.7 1378,153.4 1379,161.1 1380,169.8 1381,179.3 1382,188.7 1383,198.5 1384,208.9 1385,219.7 1386,230.8 1387,242.2 1388,253.5 1389,264.9 1390,276 1391,286.8 1392,297.2 1393,307 1394,316.2 1395,323.9 1396,330.4 1397,336 1398,340.6 1399,344.2 1400,346.6 1401,347.8 1402,347.8 1403,346.7 1404,344.3 1405,340.7 1406,336 1407,330.2 1408,323.2 1409,315.3 1410,306.4 1411,296.7 1412,287.3 1413,277.3 1414,266.7 1415,255.7 1416,244.5 1417,233.1 1418,221.6 1419,210.2 1420,199.1 1421,188.3 1422,178 1423,168.2 1424,159.2 1425,151.7 1426,145.4 1427,140.1 1428,135.8 1429,132.6 1430,130.6 1431,129.8 1432,130.1 1433,131.7 1434,134.4 1435,138.3 1436,143.4 1437,149.6 1438,156.9 1439,165.1 1440,174.2 1441,183.9 1442,193.4 1443,203.6 1444,214.2 1445,225.2 1446,236.5 1447,247.8 1448,259.2 1449,270.5 1450,281.5 1451,292.2 1452,302.3 1453,311.9 1454,320.7 1455,328 1456,334 1457,339.1 1458,343.2 1459,346.1 1460,347.9 1461,348.5 1462,347.9 1463,346.1 1464,343.1 1465,338.9 1466,333.5 1467,327.1 1468,319.6 1469,311.2 1470,301.8 1471,292.1 1472,282.4 1473,272.1 1474,261.3 1475,250.2 1476,238.9 1477,227.4 1478,216 1479,204.7 1480,193.8 1481,183.2 1482,173.1 1483,163.7 1484,155 1485,148 1486,142.2 1487,137.4 1488,133.7 1489,131.1 1490,129.6 1491,129.4 1492,130.3 1493,132.5 1494,135.8 1495,140.4 1496,146 1497,152.8 1498,160.5 1499,169.2 1500,178.8 1501,188.5 1502,198.3 1503,208.8 1504,219.6 1505,230.8 1506,242.1 1507,253.5 1508,264.9 1509,276.1 1510,286.9 1511,297.4 1512,307.3 1513,316.5 1514,325 1515,331.9 1516,337.4 1517,341.9 1518,345.4 1519,347.7 1520,348.9 1521,348.9 1522,347.6 1523,345.2 1524,341.5 1525,336.7 1526,330.8 1527,323.8 1528,315.8 1529,306.8 1530,297.1 1531,287.4 1532,277.4 1533,266.8 1534,255.9 1535,244.7 1536,233.3 1537,221.8 1538,210.5 1539,199.3 1540,188.5 1541,178.2 1542,168.4 1543,159.4 1544,151.1 1545,144.5 1546,139.2 1547,134.9 1548,131.8 1549,129.8 1550,128.9 1551,129.3 1552,130.8 1553,133.6 1554,137.6 1555,142.7 1556,148.9 1557,156.2 1558,164.4 1559,173.6 1560,183.6 1561,193.3 1562,203.4 1563,214 1564,225.1 1565,236.4 1566,247.8 1567,259.2 1568,270.5 1569,281.6 1570,292.3 1571,302.5 1572,312.1 1573,321 1574,329.1 1575,335.4 1576,340.4 1577,344.4 1578,347.3 1579,349 1580,349.6 1581,348.9 1582,347 1583,344 1584,339.7 1585,334.3 1586,327.9 1587,320.3 1588,311.8 1589,302.4 1590,292.3 1591,282.5 1592,272.3 1593,261.5 1594,250.4 1595,239.1 1596,227.6 1597,216.2 1598,205 1599,194 1600,183.4 1601,173.3 1602,163.9 1603,155.1 1604,147.3 1605,141.3 1606,136.5 1607,132.8 1608,130.2 1609,128.8 1610,128.5 1611,129.5 1612,131.6 1613,135 1614,139.5 1615,145.2 1616,152 1617,159.8 1618,168.5 1619,178.1 1620,188.4 1621,198.2 1622,208.6 1623,219.5 1624,230.7 1625,242 1626,253.5 1627,264.9 1628,276.1 1629,287 1630,297.5 1631,307.4 1632,316.7 1633,325.2 1634,332.9 1635,338.5 1636,343.1 1637,346.5 1638,348.8 1639,350 1640,349.9 1641,348.7 1642,346.2 1643,342.5 1644,337.7 1645,331.8 1646,324.7 1647,316.7 1648,307.8 1649,298 1650,287.6 1651,277.6 1652,267.1 1653,256.1 1654,244.9 1655,233.5 1656,222 1657,210.7 1658,199.5 1659,188.7 1660,178.3 1661,168.5 1662,159.4 1663,151.1 1664,143.7 1665,138.4 1666,134.1 1667,130.9 1668,128.9 1669,128.1 1670,128.4 1671,130 1672,132.7 1673,136.7 1674,141.8 1675,148 1676,155.3 1677,163.6 1678,172.8 1679,182.8 1680,193.2 1681,203.3 1682,214 1683,225 1684,236.3 1685,247.7 1686,259.2 1687,270.5 1688,281.6 1689,292.3 1690,302.6 1691,312.2 1692,321.1 1693,329.3 1694,336.4 1695,341.4 1696,345.4 1697,348.3 1698,350.1 1699,350.6 1700,350 1701,348.1 1702,345 1703,340.8 1704,335.4 1705,328.9 1706,321.4 1707,312.9 1708,303.5 1709,293.3 1710,282.8 1711,272.5 1712,261.8 1713,250.7 1714,239.3 1715,227.9 1716,216.4 1717,205.1 1718,194.1 1719,183.5 1720,173.4 1721,163.9 1722,155.2 1723,147.3 1724,140.5 1725,135.7 1726,132 1727,129.4 1728,127.9 1729,127.7 1730,128.6 1731,130.9 1732,134.6 1733,139.7 1734,146.2 1735,154 1736,162.9 1737,172.9 1738,183.9 1739,195.7 1740,206.9 1741,218.6 1742,230.7 1743,243.1 1744,255.5 1745,267.9 1746,280 1747,291.7 1748,302.8 1749,313.2 1750,322.8 1751,331.4 1752,338.9 1753,344 1754,347.8 1755,350.2 1756,351.3 1757,350.9 1758,349.2 1759,346 1760,341.4 1761,335.5 1762,328.3 1763,319.9 1764,310.3 1765,299.8 1766,288.3 1767,276.8 1768,265.3 1769,253.3 1770,241 1771,228.6 1772,216.2 1773,204 1774,192.1 1775,180.7 1776,169.9 1777,160 1778,150.9 1779,142.8 1780,136.6 1781,132.2 1782,129.2 1783,127.5 1784,127.2 1785,128.3 1786,130.9 1787,134.8 1788,140.1 1789,146.8 1790,154.7 1791,163.7 1792,173.9 1793,184.9 1794,196.8 1795,208.1 1796,219.8 1797,232 1798,244.3 1799,256.8 1800,269.1 1801,281.2 1802,292.8 1803,303.9 1804,314.3 1805,323.8 1806,332.3 1807,339.7 1808,344.7 1809,348.3 1810,350.6 1811,351.6 1812,351.1 1813,349.2 1814,345.9 1815,341.2 1816,335.1 1817,327.8 1818,319.2 1819,309.6 1820,298.9 1821,287.4 1822,275.8 1823,264.2 1824,252.2 1825,239.9 1826,227.5 1827,215.1 1828,202.9 1829,191 1830,179.7 1831,169 1832,159.1 1833,150.1 1834,142.1 1835,136 1836,131.7 1837,128.8 1838,127.3 1839,127.1 1840,128.4 1841,131.1 1842,135.2 1843,140.6 1844,147.4 1845,155.4 1846,164.6 1847,174.8 1848,186 1849,197.9 1850,209.2 1851,221 1852,233.2 1853,245.6 1854,258 1855,270.3 1856,282.4 1857,294 1858,305 1859,315.3 1860,324.7 1861,333.2 1862,340.5 1863,345.4 1864,348.9 1865,351 1866,351.8 1867,351.2 1868,349.2 1869,345.7 1870,340.9 1871,334.7 1872,327.2 1873,318.6 1874,308.8 1875,298 1876,286.4 1877,274.7 1878,263.2 1879,251.1 1880,238.8 1881,226.4 1882,214 1883,201.8 1884,190 1885,178.7 1886,168 1887,158.2 1888,149.3 1889,141.4 1890,135.4 1891,131.3 1892,128.5 1893,127.1 1894,127 1895,128.5 1896,131.3 1897,135.5 1898,141.1 1899,148 1900,156.1 1901,165.4 1902,175.7 1903,187 1904,199 1905,210.4 1906,222.2 1907,234.4 1908,246.8 1909,259.3 1910,271.6 1911,283.6 1912,295.2 1913,306.1 1914,316.4 1915,325.7 1916,334.1 1917,341.3 1918,346 1919,349.4 1920,351.4 1921,352.1 1922,351.3 1923,349.2 1924,345.6 1925,340.6 1926,334.3 1927,326.7 1928,317.9 1929,308 1930,297.2 1931,285.5 1932,273.7 1933,262.1 1934,250 1935,237.7 1936,225.3 1937,212.9 1938,200.7 1939,188.9 1940,177.7 1941,167.1 1942,157.3 1943,148.5 1944,140.7 1945,134.8 1946,130.8 1947,128.2 1948,126.9 1949,127 1950,128.5 1951,131.5 1952,135.9 1953,141.6 1954,148.6 1955,156.9 1956,166.3 1957,176.7 1958,188 1959,200.2 1960,211.6 1961,223.4 1962,235.7 1963,248.1 1964,260.5 1965,272.8 1966,284.8 1967,296.3 1968,307.2 1969,317.4 1970,326.7 1971,334.9 1972,342.1 1973,346.7 1974,349.9 1975,351.8 1976,352.3 1977,351.4 1978,349.1 1979,345.4 1980,340.3 1981,333.8 1982,326.1 1983,317.2 1984,307.3 1985,296.3 1986,284.5 1987,272.7 1988,261 1989,248.9 1990,236.6 1991,224.1 1992,211.8 1993,199.6 1994,187.9 1995,176.7 1996,166.1 1997,156.4 1998,147.7 1999,140 2000,134.2 2001,130.4 2002,127.8 2003,126.7 2004,126.9 2005,128.6 2006,131.7 2007,136.2 2008,142.1 2009,149.2 2010,157.6 2011,167.1 2012,177.6 2013,189.1 2014,201.3 2015,212.7 2016,224.7 2017,236.9 2018,249.3 2019,261.8 2020,274 2021,286 2022,297.5 2023,308.3 2024,318.4 2025,327.6 2026,335.8 2027,342.9 2028,347.3 2029,350.4 2030,352.2 2031,352.6 2032,351.5 2033,349.1 2034,345.2 2035,340 2036,333.4 2037,325.6 2038,316.6 2039,306.5 2040,295.4 2041,283.5 2042,271.7 2043,260 2044,247.8 2045,235.5 2046,223 2047,210.7 2048,198.5 2049,186.8 2050,175.7 2051,165.2 2052,155.6 2053,146.9 2054,139.3 2055,133.6 2056,129.9 2057,127.5 2058,126.5 2059,126.9 2060,128.8 2061,132.3 2062,137.4 2063,144.1 2064,152.3 2065,162 2066,173 2067,185 2068,198 2069,211.2 2070,224 2071,237.3 2072,250.7 2073,264.1 2074,277.3 2075,290.1 2076,302.3 2077,313.7 2078,324.1 2079,333.4 2080,341.4 2081,347.4 2082,351 2083,353 2084,353.3 2085,352.1 2086,349.1 2087,344.5 2088,338.3 2089,330.6 2090,321.5 2091,311 2092,299.4 2093,286.7 2094,273.2 2095,260.6 2096,247.5 2097,234.1 2098,220.6 2099,207.3 2100,194.3 2101,181.9 2102,170.1 2103,159.3 2104,149.5 2105,141 2106,133.8 2107,129.5 2108,126.8 2109,125.8 2110,126.4 2111,128.7 2112,132.6 2113,138.2 2114,145.3 2115,153.8 2116,163.8 2117,175 2118,187.2 2119,200.4 2120,213.5 2121,226.4 2122,239.7 2123,253.2 2124,266.6 2125,279.7 2126,292.4 2127,304.5 2128,315.7 2129,326 2130,335.1 2131,342.8 2132,348.4 2133,351.7 2134,353.4 2135,353.5 2136,351.9 2137,348.6 2138,343.7 2139,337.2 2140,329.3 2141,319.9 2142,309.2 2143,297.3 2144,284.5 2145,271 2146,258.3 2147,245.1 2148,231.7 2149,218.2 2150,204.9 2151,192 2152,179.7 2153,168.1 2154,157.4 2155,147.8 2156,139.5 2157,132.6 2158,128.7 2159,126.3 2160,125.6 2161,126.5 2162,129.1 2163,133.3 2164,139.2 2165,146.6 2166,155.4 2167,165.6 2168,177 2169,189.4 2170,202.8 2171,215.8 2172,228.8 2173,242.2 2174,255.6 2175,269 2176,282.1 2177,294.7 2178,306.7 2179,317.8 2180,327.8 2181,336.7 2182,344.2 2183,349.4 2184,352.4 2185,353.8 2186,353.5 2187,351.6 2188,348.1 2189,342.9 2190,336.1 2191,327.9 2192,318.2 2193,307.3 2194,295.2 2195,282.2 2196,268.8 2197,255.9 2198,242.7 2199,229.3 2200,215.8 2201,202.6 2202,189.8 2203,177.5 2204,166.1 2205,155.6 2206,146.2 2207,138.1 2208,131.6 2209,128 2210,125.9 2211,125.5 2212,126.7 2213,129.6 2214,134.1 2215,140.3 2216,147.9 2217,157 2218,167.4 2219,179.1 2220,191.7 2221,205.2 2222,218.2 2223,231.3 2224,244.6 2225,258.1 2226,271.5 2227,284.5 2228,297 2229,308.8 2230,319.7 2231,329.6 2232,338.3 2233,345.6 2234,350.3 2235,353 2236,354.1 2237,353.6 2238,351.4 2239,347.5 2240,342 2241,335 2242,326.4 2243,316.5 2244,305.4 2245,293.1 2246,279.9 2247,266.5 2248,253.6 2249,240.3 2250,226.9 2251,213.5 2252,200.3 2253,187.5 2254,175.4 2255,164.1 2256,153.8 2257,144.6 2258,136.7 2259,130.7 2260,127.3 2261,125.5 2262,125.4 2263,126.9 2264,130.1 2265,135 2266,141.4 2267,149.3 2268,158.7 2269,169.3 2270,181.2 2271,194 2272,207.7 2273,220.6 2274,233.7 2275,247.1 2276,260.6 2277,273.9 2278,286.9 2279,299.3 2280,310.9 2281,321.7 2282,331.4 2283,339.8 2284,346.9 2285,351.2 2286,353.6 2287,354.4 2288,353.5 2289,351 2290,346.9 2291,341.1 2292,333.7 2293,325 2294,314.8 2295,303.4 2296,291 2297,277.6 2298,264.3 2299,251.3 2300,238 2301,224.5 2302,211.1 2303,197.9 2304,185.3 2305,173.3 2306,162.1 2307,152 2308,143 2309,135.3 2310,129.7 2311,126.7 2312,125.2 2313,125.4 2314,127.2 2315,130.7 2316,135.9 2317,142.6 2318,150.8 2319,160.4 2320,171.3 2321,183.3 2322,196.3 2323,210.2 2324,222.9 2325,236.1 2326,249.6 2327,263 2328,276.3 2329,289.2 2330,301.5 2331,313 2332,323.6 2333,333.1 2334,341.3 2335,348.2 2336,352 2337,354.1 2338,354.6 2339,353.4 2340,350.6 2341,346.2 2342,340.1 2343,332.5 2344,323.4 2345,313 2346,301.4 2347,288.8 2348,275.3 2349,262 2350,248.9 2351,235.6 2352,222.1 2353,208.7 2354,195.6 2355,183.1 2356,171.2 2357,160.2 2358,150.2 2359,141.5 2360,134 2361,128.9 2362,126.1 2363,124.9 2364,125.4 2365,127.6 2366,131.8 2367,138 2368,146.1 2369,155.9 2370,167.5 2371,180.6 2372,194.9 2373,210.2 2374,225.3 2375,240 2376,254.9 2377,269.8 2378,284.2 2379,298.1 2380,311.1 2381,323 2382,333.5 2383,342.5 2384,349.8 2385,354.1 2386,355.8 2387,355.4 2388,353 2389,348.6 2390,342.2 2391,333.9 2392,323.9 2393,312.2 2394,299.1 2395,284.7 2396,269.4 2397,254.2 2398,239.5 2399,224.6 2400,209.7 2401,195.3 2402,181.4 2403,168.4 2404,156.5 2405,146 2406,136.9 2407,129.6 2408,125.2 2409,123.6 2410,123.9 2411,126.3 2412,130.7 2413,137.1 2414,145.3 2415,155.3 2416,166.9 2417,179.9 2418,194.1 2419,209.3 2420,224.5 2421,239.1 2422,253.9 2423,268.6 2424,283.1 2425,296.9 2426,309.9 2427,321.8 2428,332.5 2429,341.6 2430,349.1 2431,353.9 2432,355.8 2433,355.7 2434,353.6 2435,349.5 2436,343.4 2437,335.4 2438,325.7 2439,314.3 2440,301.5 2441,287.4 2442,272.3 2443,257 2444,242.4 2445,227.6 2446,212.9 2447,198.4 2448,184.4 2449,171.2 2450,159.1 2451,148.3 2452,138.9 2453,131.2" fill="none" stroke="#000000" stroke-width="4.6" stroke-linejoin="round" />
</g>
</g>
<g id="plot2">
<g stroke="#262626" stroke-width="4.6" fill="none">
<rect x="169.0" y="738.7" width="2284.0" height="432.6"/>
<path d="M422.8 1171.3v-24.9M422.8 738.7v24.9M676.6 1171.3v-24.9M676.6 738.7v24.9M930.3 1171.3v-24.9M930.3 738.7v24.9M1184.1 1171.3v-24.9M1184.1 738.7v24.9M1437.9 1171.3v-24.9M1437.9 738.7v24.9M1691.7 1171.3v-24.9M1691.7 738.7v24.9M1945.4 1171.3v-24.9M1945.4 738.7v24.9M2199.2 1171.3v-24.9M2199.2 738.7v24.9M169.0 1063.2h24.9M2453.0 1063.2h-24.9M169.0 955.0h24.9M2453.0 955.0h-24.9M169.0 846.9h24.9M2453.0 846.9h-24.9"/>
</g>
<g fill="#262626" font-size="34.67px">
<text x="169.0" y="1218.0" text-anchor="middle">1</text>
<text x="422.8" y="1218.0" text-anchor="middle">2</text>
<text x="676.6" y="1218.0" text-anchor="middle">3</text>
<text x="930.3" y="1218.0" text-anchor="middle">4</text>
<text x="1184.1" y="1218.0" text-anchor="middle">5</text>
<text x="1437.9" y="1218.0" text-anchor="middle">6</text>
<text x="1691.7" y="1218.0" text-anchor="middle">7</text>
<text x="1945.4" y="1218.0" text-anchor="middle">8</text>
<text x="2199.2" y="1218.0" text-anchor="middle">9</text>
<text x="2453.0" y="1218.0" text-anchor="middle">10</text>
<text x="157" y="1185.3" text-anchor="end">-100</text>
<text x="157" y="1077.2" text-anchor="end">-50</text>
<text x="157" y="969.0" text-anchor="end">0</text>
<text x="157" y="860.9" text-anchor="end">50</text>
<text x="157" y="752.7" text-anchor="end">100</text>
</g>
<g clip-path="url(#c2)">
<polyline points="169,952.2 170,952.4 171,952.6 172,952.3 173,952.6 174,952.9 175,953.4 176,953.6 177,954 178,955.2 179,955.5 180,955.6 181,956.1 182,956.7 183,957.4 184,958.6 185,959.7 186,960.1 187,961 188,961.6 189,961.7 190,962.3 191,963.2 192,964.2 193,964.8 194,965.2 195,965.6 196,966 197,966.4 198,967.4 199,967.9 200,968.2 201,968.7 202,969.2 203,969.4 204,969 205,969.1 206,969.2 207,968.7 208,968.4 209,968.2 210,968.1 211,967.9 212,967.3 213,966.9 214,966.5 215,966.1 216,965.9 217,965.7 218,964.7 219,964 220,963.5 221,962.5 222,961.5 223,960.1 224,959.5 225,958.7 226,957.5 227,956.8 228,956.4 229,955.3 230,954 231,952.8 232,951.4 233,949.9 234,948.3 235,947.7 236,947 237,945.1 238,943.8 239,943.8 240,944.4 241,945 242,945.5 243,946.5 244,947.9 245,948.6 246,949.2 247,950.2 248,950.5 249,950.9 250,951.3 251,952 252,952.5 253,952.8 254,953.6 255,954.8 256,954.9 257,955.4 258,956 259,956 260,957 261,957.6 262,958.1 263,958.8 264,959 265,959.3 266,959.6 267,960.7 268,961.8 269,962 270,962.1 271,963.2 272,964 273,964.7 274,965.5 275,965.3 276,965.5 277,966.3 278,967.2 279,967.6 280,967.8 281,969.1 282,969.5 283,969.2 284,969.4 285,969.4 286,969.1 287,968.7 288,967.7 289,966.6 290,966.4 291,965.6 292,964.1 293,963.2 294,962.6 295,961.9 296,960.8 297,959.3 298,957.7 299,957 300,956.7 301,956.1 302,954.9 303,954 304,952.9 305,951.8 306,951 307,949.9 308,948.4 309,946.8 310,945.6 311,944.8 312,944.1 313,944.1 314,944.3 315,944.7 316,945.4 317,946.5 318,947.2 319,947.9 320,949.4 321,950.2 322,951.3 323,953 324,954.1 325,954.9 326,956 327,957.5 328,958.1 329,959 330,960.2 331,960.9 332,962.2 333,963.2 334,963.7 335,963.7 336,963.4 337,963.9 338,964.6 339,964.5 340,964.9 341,965.7 342,965.3 343,966 344,966.6 345,966.6 346,967 347,967.8 348,967.5 349,967.2 350,967 351,966.9 352,966.5 353,965.6 354,966 355,965.6 356,965 357,964.5 358,963.6 359,963.3 360,962.3 361,960.5 362,959.4 363,958.5 364,957.4 365,956.9 366,957 367,957.1 368,957.6 369,957.4 370,957.4 371,958.2 372,958.5 373,958.2 374,957.6 375,956.6 376,955.7 377,955.3 378,954.5 379,953.3 380,952.5 381,952.3 382,952 383,949.3 384,948.3 385,946.7 386,945.8 387,944.9 388,944.3 389,944.1 390,943.8 391,943.7 392,945.1 393,946.6 394,947.5 395,948.1 396,948.9 397,950.3 398,951.6 399,952.7 400,953.3 401,954.1 402,956 403,957.4 404,958.6 405,959.5 406,960.1 407,961.5 408,962.6 409,963.5 410,963.5 411,963.1 412,963.3 413,963.5 414,964.5 415,964.8 416,965 417,965.2 418,965 419,965.6 420,966.2 421,966.7 422,967 423,967.2 424,967.8 425,967.8 426,966.8 427,966.3 428,966.7 429,966.6 430,965.8 431,965.6 432,965.2 433,964.1 434,963 435,962.4 436,961.7 437,961.1 438,960.2 439,958.9 440,958.1 441,957.2 442,956.8 443,957.1 444,957.3 445,957 446,957 447,957.4 448,957.6 449,957.7 450,957.3 451,956.2 452,955.7 453,955.3 454,954.2 455,953.1 456,952.8 457,952.5 458,952.5 459,949.7 460,947.9 461,946.6 462,945.7 463,944.4 464,943.8 465,944.1 466,944 467,944.1 468,945.1 469,946.1 470,947.1 471,948 472,948.9 473,950.1 474,951.7 475,952.7 476,953.5 477,954.3 478,955.8 479,957.6 480,958.7 481,959.2 482,960.2 483,961.2 484,962.1 485,963.1 486,963.5 487,963.4 488,963.7 489,964.5 490,965 491,964.9 492,965.1 493,965.7 494,965.8 495,966.4 496,967.2 497,967.6 498,968.2 499,967.5 500,966.9 501,967.2 502,967.7 503,966.9 504,965.8 505,966 506,966.3 507,966.1 508,964.9 509,964.3 510,964.1 511,963.2 512,962.7 513,961.8 514,960.6 515,959.2 516,957.7 517,957 518,956.9 519,956.9 520,957.1 521,957.5 522,958.1 523,957.6 524,957.1 525,957.3 526,956.8 527,955.7 528,954.9 529,954.2 530,954 531,953.5 532,952.5 533,952.4 534,952.6 535,949.6 536,948.5 537,947.3 538,945.6 539,943.9 540,943.2 541,943.1 542,943.4 543,944.2 544,945.2 545,945.9 546,947.2 547,948.2 548,949 549,950.5 550,951.3 551,952.3 552,953.3 553,954.4 554,955.4 555,956.3 556,957.1 557,958.2 558,959.5 559,959.5 560,959.4 561,960.4 562,960.6 563,960.4 564,961.1 565,960.9 566,960.4 567,960.6 568,961.2 569,962 570,963.1 571,963.8 572,963.8 573,964 574,964.3 575,964.4 576,964.7 577,965.2 578,965.9 579,965.8 580,965.5 581,965.2 582,964.9 583,964.6 584,964 585,963.6 586,962.7 587,961.5 588,961.1 589,960.7 590,960 591,959.2 592,958.8 593,958.6 594,958.3 595,957.2 596,956.3 597,955.8 598,954.9 599,954.2 600,954.1 601,953.3 602,952 603,951.9 604,951.8 605,951.1 606,950.2 607,948.9 608,948.3 609,948.3 610,947.8 611,947 612,947.2 613,947.4 614,947.3 615,947 616,947.2 617,948.2 618,949.2 619,949.1 620,949.5 621,950.8 622,951.5 623,951.6 624,951.6 625,952.2 626,953.6 627,954.5 628,954.9 629,955.6 630,956.1 631,956.8 632,957.6 633,957.9 634,958.5 635,959.4 636,960.2 637,960.3 638,960.8 639,961.9 640,962.6 641,963.1 642,963.9 643,965 644,964.9 645,964.7 646,965.5 647,965.8 648,965.8 649,966.1 650,965.3 651,964.7 652,964.4 653,964.4 654,964.2 655,963.6 656,962.6 657,962.1 658,961.4 659,960.2 660,959.4 661,958.7 662,958.7 663,958.3 664,957.2 665,956.2 666,955.7 667,955.7 668,955 669,954.6 670,954.2 671,953 672,952.6 673,952.1 674,950.9 675,949.7 676,949.7 677,949.1 678,948.3 679,948.2 680,947.6 681,947.2 682,947.1 683,947.1 684,947.5 685,947.8 686,947.5 687,947.6 688,948.2 689,949 690,949.5 691,950 692,951.2 693,951.8 694,952.5 695,953.3 696,953.7 697,954.8 698,955.2 699,955.6 700,956.9 701,957.4 702,957.6 703,958 704,958.5 705,959.5 706,959.8 707,960.1 708,961.1 709,962.2 710,963.4 711,963.3 712,963.8 713,964.9 714,965.3 715,965.7 716,965.6 717,965.4 718,965.2 719,965.7 720,965.7 721,965.1 722,965.1 723,964.2 724,963.5 725,963.6 726,963 727,961.7 728,960.5 729,960.1 730,959.3 731,959 732,958.6 733,957.4 734,957.1 735,957.2 736,956 737,954.7 738,954.7 739,954.6 740,953.6 741,952.7 742,952 743,951.5 744,951.4 745,950.2 746,949.1 747,948.6 748,948.4 749,948.2 750,947.3 751,947.4 752,947.9 753,947.7 754,947.9 755,948.3 756,948 757,947.7 758,948.1 759,948.8 760,950 761,950.8 762,950.8 763,952 764,953 765,953.5 766,953.9 767,954.7 768,955.7 769,956 770,956 771,956.7 772,957.9 773,958.2 774,958.7 775,959.6 776,960 777,960.7 778,961.3 779,962.3 780,963.4 781,963.9 782,963.8 783,964 784,965 785,965.8 786,966.3 787,966.5 788,966 789,965.5 790,965.1 791,964.8 792,964.5 793,963.8 794,964 795,963.8 796,963 797,961.6 798,960.7 799,960.7 800,960.2 801,959.5 802,958.6 803,957.4 804,957 805,956.5 806,955.9 807,955.4 808,954.2 809,953.9 810,954 811,953.5 812,952.8 813,951.7 814,950.3 815,950 816,950.1 817,949.4 818,948.6 819,948.4 820,947.8 821,947.7 822,947.2 823,946.5 824,947.2 825,948.1 826,948.4 827,948.5 828,949.1 829,950.2 830,950.8 831,951 832,951.4 833,952.1 834,953.1 835,953.3 836,953.5 837,954.2 838,954.6 839,955.6 840,956.3 841,957.1 842,958.3 843,959 844,959.2 845,959.6 846,960.6 847,961.3 848,961.6 849,962.6 850,963.6 851,963.8 852,964.5 853,964.9 854,965.1 855,965.9 856,966.4 857,966.5 858,966.4 859,966.3 860,965.7 861,964.8 862,964.4 863,964.6 864,963.5 865,962.4 866,962.1 867,961.5 868,960.8 869,959.9 870,959.2 871,958.4 872,957.9 873,958 874,957.6 875,956.3 876,955.5 877,955.6 878,954.6 879,953.6 880,953.3 881,953.1 882,952.5 883,951.4 884,950.3 885,949.3 886,948.7 887,948.5 888,948.2 889,948.2 890,948 891,947.6 892,947.1 893,947.1 894,947.5 895,947.7 896,948.2 897,948.5 898,948.9 899,949.4 900,950.1 901,951.2 902,951.8 903,952.6 904,953.2 905,954 906,954.7 907,955.1 908,955.6 909,956.6 910,956.6 911,957.1 912,958.3 913,959 914,959.6 915,959.9 916,960.1 917,961.2 918,962.1 919,962.9 920,963.5 921,963.8 922,964.4 923,964.5 924,965.2 925,966.2 926,966.1 927,965.5 928,965.7 929,965.9 930,965.4 931,965.1 932,964.3 933,963.6 934,962.9 935,962.6 936,962.3 937,960.9 938,960 939,959.8 940,959.4 941,958.4 942,958 943,957.8 944,957.2 945,956.5 946,956 947,955.6 948,954.4 949,953.6 950,953.1 951,952.2 952,951.3 953,950.9 954,950.7 955,950.2 956,949.5 957,948.7 958,948.4 959,948 960,947.7 961,947.3 962,947.4 963,947.2 964,947.3 965,948.1 966,948.2 967,948.3 968,949.1 969,950 970,950.3 971,951.4 972,952.1 973,952.5 974,953 975,953.3 976,953.9 977,954.5 978,955 979,956.1 980,957 981,957.5 982,958.3 983,959.2 984,959.4 985,959.9 986,960.6 987,961.6 988,962.4 989,962.9 990,963.8 991,964.6 992,964.9 993,965.5 994,965.8 995,965.4 996,965.8 997,966.5 998,965.5 999,965.1 1000,964.9 1001,963.7 1002,962.8 1003,962.7 1004,962.4 1005,961.2 1006,960.3 1007,959.9 1008,959.4 1009,959.1 1010,957.9 1011,956.8 1012,956 1013,955.7 1014,955.4 1015,954.3 1016,953.9 1017,953.8 1018,953.2 1019,952.5 1020,951.5 1021,950 1022,949.3 1023,949.1 1024,948.3 1025,947.7 1026,947.2 1027,947.2 1028,947.6 1029,947.4 1030,947.5 1031,947.4 1032,947.5 1033,948.2 1034,949.3 1035,950.5 1036,951.1 1037,951.6 1038,952.4 1039,953.4 1040,954.2 1041,954.3 1042,954.3 1043,954.8 1044,956 1045,957.1 1046,957.1 1047,957.3 1048,958.7 1049,959.9 1050,960.3 1051,961.2 1052,962.1 1053,962.5 1054,962.8 1055,963.8 1056,964.4 1057,964.6 1058,965.1 1059,965.3 1060,965.7 1061,966.1 1062,965.8 1063,964.7 1064,964.1 1065,964 1066,963.6 1067,962.7 1068,962.2 1069,962 1070,960.9 1071,959.7 1072,959.1 1073,958.8 1074,958.6 1075,957.8 1076,957.1 1077,956.7 1078,955.9 1079,954.5 1080,954.3 1081,953.5 1082,952.5 1083,952.1 1084,951.2 1085,950.3 1086,949.3 1087,949.3 1088,948.7 1089,947.9 1090,947.4 1091,947 1092,947.1 1093,947.2 1094,947.5 1095,947.4 1096,948 1097,948.3 1098,948.4 1099,949.4 1100,950.1 1101,950.6 1102,951.4 1103,952.1 1104,953.4 1105,953.8 1106,953.8 1107,955 1108,956.1 1109,956.9 1110,957 1111,957 1112,957.7 1113,958.5 1114,959.6 1115,960 1116,960.5 1117,961.7 1118,962.4 1119,962.8 1120,963.4 1121,963.9 1122,964.8 1123,965.7 1124,966 1125,965.4 1126,964.9 1127,965.3 1128,965.4 1129,964.4 1130,963.5 1131,963.6 1132,963.3 1133,961.8 1134,960.8 1135,960.4 1136,959.4 1137,958.4 1138,957.8 1139,957.2 1140,956.8 1141,956.7 1142,955.9 1143,954.6 1144,953.9 1145,953.6 1146,952.9 1147,951.7 1148,951.4 1149,951.1 1150,950.4 1151,949.4 1152,948.9 1153,948.6 1154,947.5 1155,947.4 1156,947.5 1157,947.5 1158,947.5 1159,947.6 1160,948.3 1161,948.3 1162,948.1 1163,948.5 1164,949.2 1165,950.5 1166,951.6 1167,951.7 1168,952.6 1169,953.8 1170,954 1171,954.2 1172,955.3 1173,955.9 1174,956.2 1175,956.9 1176,957.5 1177,958.2 1178,959.2 1179,960.4 1180,960.5 1181,961.3 1182,962.4 1183,962.8 1184,963.4 1185,963.6 1186,964 1187,964.4 1188,965 1189,965.4 1190,964.9 1191,965.1 1192,965.3 1193,964.4 1194,964.1 1195,963.8 1196,963 1197,961.9 1198,961.1 1199,960.3 1200,959.5 1201,959.4 1202,958.9 1203,957.7 1204,957.2 1205,956.9 1206,956.4 1207,955.3 1208,954.7 1209,954.2 1210,953.1 1211,952.3 1212,951.9 1213,951.6 1214,950.5 1215,949.6 1216,949.2 1217,948.3 1218,947.7 1219,947.4 1220,946.8 1221,947 1222,947.1 1223,947.2 1224,947.4 1225,948.1 1226,948.5 1227,948.3 1228,949 1229,950.3 1230,951.3 1231,951.9 1232,952.3 1233,952.5 1234,953.6 1235,954.2 1236,954.4 1237,955.2 1238,956.3 1239,956.9 1240,957.3 1241,957.9 1242,958.9 1243,959.9 1244,960.4 1245,960.8 1246,960.8 1247,961.4 1248,962.3 1249,963.6 1250,964.2 1251,964.7 1252,964.9 1253,964.4 1254,964.8 1255,965.2 1256,964.9 1257,964.6 1258,963.8 1259,963.1 1260,962.9 1261,962.4 1262,961.3 1263,960.5 1264,959.8 1265,959.4 1266,959.2 1267,958.3 1268,957.1 1269,956.3 1270,956.4 1271,956 1272,954.6 1273,954 1274,953.4 1275,952.4 1276,952.4 1277,952.3 1278,950.9 1279,949.5 1280,949 1281,948.4 1282,947.9 1283,947.3 1284,946.9 1285,947.1 1286,947.5 1287,947.4 1288,947.4 1289,947.7 1290,947.8 1291,948.6 1292,949.4 1293,950 1294,950.3 1295,950.4 1296,951.3 1297,952.3 1298,952.6 1299,953.1 1300,953.9 1301,954.9 1302,955.6 1303,956.2 1304,957.1 1305,957.4 1306,957.8 1307,959.2 1308,959.7 1309,959.6 1310,960.7 1311,961.4 1312,962.5 1313,963.4 1314,963.7 1315,964.5 1316,964.4 1317,964.7 1318,964.8 1319,964.3 1320,964.7 1321,964.8 1322,963.9 1323,963.4 1324,962.9 1325,962.5 1326,962.4 1327,961.4 1328,960.4 1329,959.4 1330,958.6 1331,958 1332,957.8 1333,957.6 1334,956.4 1335,955.8 1336,955 1337,954 1338,953.4 1339,953 1340,952.9 1341,952.2 1342,951.2 1343,949.9 1344,949.6 1345,948.9 1346,948 1347,947.5 1348,947.5 1349,947.5 1350,946.8 1351,946.5 1352,947 1353,947.7 1354,947.7 1355,948 1356,948.2 1357,949.2 1358,950.5 1359,950.5 1360,950.8 1361,951.9 1362,952.8 1363,953.4 1364,954.3 1365,954.6 1366,954.8 1367,955.7 1368,956.4 1369,957.6 1370,958.4 1371,958.6 1372,958.8 1373,959.3 1374,960.6 1375,961.8 1376,961.7 1377,962.5 1378,963.8 1379,964 1380,963.7 1381,964.5 1382,965 1383,964.9 1384,964.5 1385,964.2 1386,964.1 1387,962.9 1388,961.9 1389,961 1390,960.2 1391,960.1 1392,959.8 1393,958.8 1394,958.1 1395,957.5 1396,956.9 1397,955.8 1398,954.8 1399,954.2 1400,953.8 1401,953.7 1402,953 1403,952.3 1404,951.3 1405,950.5 1406,949.9 1407,948.9 1408,947.9 1409,947.7 1410,947.5 1411,947.4 1412,947.5 1413,947.1 1414,947.2 1415,947.9 1416,947.8 1417,948 1418,949.2 1419,950.4 1420,950.9 1421,951.7 1422,952.1 1423,952.9 1424,953.7 1425,954 1426,955.4 1427,956 1428,956.3 1429,957.1 1430,958.1 1431,958.4 1432,958.6 1433,960.1 1434,961.4 1435,961.9 1436,962.6 1437,962.7 1438,962.9 1439,963.8 1440,963.9 1441,964 1442,964.8 1443,965.1 1444,964.5 1445,963.7 1446,963.4 1447,963.1 1448,962.5 1449,961.7 1450,961 1451,960.3 1452,958.8 1453,957.5 1454,956.9 1455,956.4 1456,956 1457,955.9 1458,954.7 1459,954 1460,953.7 1461,952.5 1462,952 1463,951.5 1464,950.8 1465,950.1 1466,948.7 1467,948.3 1468,947.9 1469,947.3 1470,947.1 1471,946.6 1472,946.4 1473,946.7 1474,947.1 1475,947.7 1476,948 1477,948.2 1478,948.9 1479,949.8 1480,951.3 1481,951.8 1482,952.6 1483,954 1484,954.6 1485,955.1 1486,955.3 1487,955.6 1488,956.3 1489,957.3 1490,958.1 1491,959.1 1492,959.4 1493,959.9 1494,961.1 1495,961.8 1496,962.2 1497,962.8 1498,963.7 1499,964.2 1500,964.1 1501,963.6 1502,963.9 1503,964.2 1504,963.7 1505,963 1506,962.5 1507,961.8 1508,961.2 1509,960.6 1510,960.1 1511,959.3 1512,958.2 1513,958 1514,957.8 1515,956.6 1516,955.3 1517,954.8 1518,954.5 1519,954.2 1520,953.1 1521,952.1 1522,951.8 1523,951 1524,949.8 1525,948.9 1526,948.5 1527,948 1528,947.1 1529,946.9 1530,946.9 1531,946.5 1532,946.7 1533,947.2 1534,947.8 1535,948.1 1536,948.2 1537,949.2 1538,950.3 1539,950.5 1540,951.1 1541,952.1 1542,953 1543,954.2 1544,954.8 1545,954.9 1546,955 1547,956.1 1548,957 1549,957.3 1550,957.9 1551,958.8 1552,959.4 1553,960.4 1554,961.7 1555,962.4 1556,962.9 1557,963.2 1558,963.7 1559,964 1560,964.5 1561,964.4 1562,963.9 1563,964.1 1564,964.1 1565,963 1566,961.8 1567,961.4 1568,960.8 1569,959.9 1570,959.2 1571,958.8 1572,958.5 1573,957.2 1574,956.2 1575,956 1576,954.9 1577,953.9 1578,954.1 1579,953.5 1580,952.1 1581,951.3 1582,950.5 1583,950.3 1584,949.9 1585,948.7 1586,947.8 1587,947.6 1588,947.2 1589,946.5 1590,946.3 1591,946.5 1592,946.7 1593,946.9 1594,947.6 1595,948.2 1596,948.9 1597,949.6 1598,949.9 1599,950.6 1600,951.7 1601,952.8 1602,953.6 1603,954.2 1604,955 1605,955.5 1606,956 1607,956.3 1608,956.6 1609,957.3 1610,957.8 1611,958.8 1612,959.5 1613,960 1614,961 1615,962.3 1616,963.2 1617,963.6 1618,963.9 1619,963.7 1620,963.8 1621,963.7 1622,963.9 1623,964 1624,963.2 1625,962.8 1626,962.5 1627,961.5 1628,960 1629,959.4 1630,958.7 1631,958.1 1632,957.9 1633,956.5 1634,955.5 1635,955.2 1636,954.5 1637,953.7 1638,953.6 1639,952.8 1640,951.5 1641,951.4 1642,951.1 1643,949.6 1644,948.9 1645,948.8 1646,948.1 1647,947.9 1648,947.1 1649,946.8 1650,946.7 1651,946.4 1652,947.1 1653,947.3 1654,947.5 1655,948.4 1656,949.4 1657,950 1658,950.3 1659,950.9 1660,951.4 1661,952.3 1662,953.7 1663,954.2 1664,954.4 1665,954.7 1666,955.2 1667,956.2 1668,957.1 1669,957.6 1670,958.1 1671,959.4 1672,960.9 1673,960.9 1674,961.6 1675,962.5 1676,963 1677,963.3 1678,963.6 1679,964 1680,963.7 1681,963.9 1682,964 1683,963.8 1684,962.7 1685,961.5 1686,960.7 1687,959.8 1688,959.8 1689,959.1 1690,957.6 1691,957.6 1692,957.4 1693,955.9 1694,955 1695,955 1696,954.9 1697,954.3 1698,953 1699,951.8 1700,951.6 1701,950.9 1702,949.5 1703,949 1704,948.8 1705,948 1706,947.1 1707,946.9 1708,947.2 1709,947.3 1710,947.3 1711,947.3 1712,946.9 1713,947.4 1714,948.1 1715,948.2 1716,948.9 1717,949.9 1718,950.9 1719,951.9 1720,952.7 1721,953.3 1722,954.1 1723,955 1724,955.1 1725,955.6 1726,956.2 1727,956.5 1728,957.8 1729,958.5 1730,958.4 1731,959.2 1732,960.4 1733,960.8 1734,961.8 1735,963.1 1736,963 1737,962.9 1738,963.4 1739,963.7 1740,964 1741,963.8 1742,962.8 1743,962.2 1744,961.6 1745,960.9 1746,960.1 1747,959.1 1748,958.6 1749,958 1750,957.2 1751,956.7 1752,956.2 1753,954.7 1754,953.4 1755,953.5 1756,952.9 1757,951.4 1758,950.3 1759,949.9 1760,949.2 1761,948.1 1762,947.4 1763,946.9 1764,947 1765,946.9 1766,946.1 1767,946.6 1768,946.9 1769,946.8 1770,947.2 1771,948 1772,949.2 1773,950 1774,950.7 1775,951.9 1776,953 1777,953.6 1778,954 1779,954.8 1780,955.5 1781,956.4 1782,956.8 1783,957.2 1784,958.3 1785,958.6 1786,959.6 1787,960.6 1788,961.3 1789,961.9 1790,962.6 1791,963.4 1792,963.3 1793,963.2 1794,963.8 1795,963.7 1796,963 1797,963.1 1798,962.9 1799,962 1800,961.1 1801,960.5 1802,959.9 1803,958.5 1804,957.5 1805,957.2 1806,956.3 1807,954.9 1808,954.3 1809,953.6 1810,952.7 1811,952 1812,951.1 1813,950.8 1814,949.8 1815,948.7 1816,948.5 1817,947.7 1818,946.7 1819,946.9 1820,947.1 1821,946.4 1822,946 1823,946.6 1824,947.1 1825,947.7 1826,948.3 1827,948.9 1828,949.8 1829,950.4 1830,951.5 1831,952.4 1832,952.7 1833,953.8 1834,954.4 1835,955.4 1836,956.8 1837,957.2 1838,957.4 1839,958.3 1840,959.7 1841,960.5 1842,961.2 1843,961.9 1844,962.7 1845,963.5 1846,963.9 1847,964 1848,963.6 1849,963.7 1850,963.9 1851,963.4 1852,963.1 1853,962.8 1854,961.6 1855,960.7 1856,960.1 1857,959.3 1858,958.4 1859,957.5 1860,956.9 1861,955.9 1862,954.9 1863,954.8 1864,954.2 1865,953.5 1866,952.9 1867,951.6 1868,950.1 1869,949.8 1870,949.3 1871,948.3 1872,947.9 1873,947.7 1874,947.3 1875,946.4 1876,945.7 1877,946.1 1878,947 1879,947.7 1880,947.6 1881,948 1882,949.2 1883,950.5 1884,951.1 1885,951.7 1886,953 1887,953.3 1888,953.4 1889,954 1890,955.1 1891,956 1892,957.1 1893,958.2 1894,958.8 1895,959.4 1896,959.8 1897,960.3 1898,961.6 1899,962.5 1900,962.8 1901,964 1902,964.2 1903,964.2 1904,964.2 1905,963.9 1906,963.9 1907,963.6 1908,963.1 1909,962.2 1910,961 1911,959.7 1912,959.3 1913,959.1 1914,958.2 1915,957.1 1916,956.2 1917,955.2 1918,954.2 1919,953.8 1920,953.2 1921,952 1922,951.1 1923,950.9 1924,950.2 1925,949.4 1926,948.9 1927,948.2 1928,947.1 1929,946.2 1930,946.5 1931,946.1 1932,946.2 1933,947 1934,946.7 1935,947.2 1936,948.6 1937,949.1 1938,949.5 1939,950.3 1940,950.9 1941,952 1942,953.3 1943,953.8 1944,954.1 1945,954.6 1946,955.7 1947,956.5 1948,957.3 1949,958.6 1950,959.6 1951,960.1 1952,961 1953,961.9 1954,962.8 1955,963.4 1956,963.3 1957,963.9 1958,964.7 1959,964.7 1960,964.1 1961,963.7 1962,963.5 1963,963 1964,962.7 1965,962.3 1966,960.7 1967,959.2 1968,959 1969,958.8 1970,957.3 1971,956.6 1972,955.8 1973,954.6 1974,954.7 1975,953.6 1976,952.5 1977,951.8 1978,950.7 1979,950.4 1980,949.4 1981,948.5 1982,948.3 1983,947.8 1984,946.5 1985,945.4 1986,945.7 1987,946 1988,945.7 1989,945.9 1990,947 1991,948 1992,949 1993,949.8 1994,950.4 1995,950.9 1996,951.8 1997,952.9 1998,953.4 1999,954.1 2000,955.4 2001,956.1 2002,956.5 2003,957.4 2004,958.5 2005,959.6 2006,960.5 2007,961 2008,961.4 2009,962.4 2010,963.2 2011,963.5 2012,964.2 2013,964.6 2014,965.2 2015,965.5 2016,965 2017,964.1 2018,963.1 2019,962.4 2020,961.5 2021,960.7 2022,960.5 2023,959.6 2024,958.3 2025,957.5 2026,956.5 2027,955.6 2028,954.9 2029,954.2 2030,953.4 2031,952.7 2032,951.9 2033,950.8 2034,949.9 2035,949 2036,948.7 2037,947.8 2038,946.7 2039,946.2 2040,946.2 2041,946.5 2042,946.3 2043,946.2 2044,946.2 2045,946.5 2046,947.7 2047,948.8 2048,948.9 2049,950 2050,951.2 2051,952 2052,953.2 2053,953.9 2054,954.6 2055,955.4 2056,955.9 2057,956.7 2058,957.2 2059,957.9 2060,959.2 2061,959.9 2062,961 2063,962.1 2064,962.4 2065,962.6 2066,963.3 2067,963.8 2068,964.3 2069,964.5 2070,964.9 2071,965 2072,964.3 2073,963.6 2074,962.3 2075,961.5 2076,960.9 2077,959.7 2078,958.5 2079,957.4 2080,956.8 2081,956.2 2082,955.4 2083,954.6 2084,953.5 2085,952.7 2086,951.8 2087,950.6 2088,949.3 2089,948.8 2090,948.3 2091,947.3 2092,947 2093,945.9 2094,945.4 2095,946.2 2096,946.5 2097,946.8 2098,946.8 2099,947.4 2100,948.3 2101,949.4 2102,950.9 2103,951.6 2104,952.5 2105,953.2 2106,953.9 2107,955 2108,956.3 2109,956.8 2110,957.3 2111,958.6 2112,959.9 2113,961 2114,961.8 2115,962.9 2116,963.3 2117,964.2 2118,965.2 2119,965.5 2120,965.1 2121,965.1 2122,965.4 2123,964.5 2124,963.2 2125,962.1 2126,961.8 2127,961.1 2128,960.1 2129,959.1 2130,957.5 2131,957 2132,956.6 2133,955.7 2134,954.4 2135,953.6 2136,952.8 2137,951.8 2138,951.2 2139,949.8 2140,948.7 2141,948.3 2142,947.5 2143,946.1 2144,945.5 2145,945.1 2146,945 2147,945.4 2148,946.1 2149,946.9 2150,947.4 2151,948.3 2152,949.2 2153,949.9 2154,951.3 2155,952.1 2156,953.1 2157,954.4 2158,954.9 2159,956.2 2160,957 2161,957.3 2162,958.6 2163,960.1 2164,960.6 2165,960.9 2166,962 2167,962.9 2168,963.5 2169,964.7 2170,965.3 2171,965.6 2172,965.2 2173,964.8 2174,964.8 2175,964.4 2176,963.7 2177,962.3 2178,961.2 2179,960.4 2180,959.6 2181,958.6 2182,957.2 2183,956.5 2184,955.8 2185,954.9 2186,954.2 2187,952.7 2188,951.4 2189,950.5 2190,950.1 2191,949 2192,947.5 2193,946.7 2194,946.4 2195,946.3 2196,945.7 2197,945.1 2198,945.3 2199,946 2200,946.5 2201,947.1 2202,948.3 2203,949 2204,949.8 2205,951 2206,952 2207,953.5 2208,953.9 2209,954.4 2210,955.6 2211,956.8 2212,958 2213,959.1 2214,960.2 2215,960.7 2216,961 2217,962.6 2218,963.9 2219,964.3 2220,964.7 2221,964.9 2222,964.9 2223,965.3 2224,965.2 2225,964.7 2226,964.4 2227,963.1 2228,962.4 2229,961.8 2230,960 2231,958.6 2232,958.3 2233,957.4 2234,956.2 2235,956 2236,954.8 2237,953.8 2238,953.7 2239,952.1 2240,951.1 2241,950.6 2242,949.5 2243,948 2244,946.5 2245,946.5 2246,946.5 2247,945.4 2248,945 2249,945.6 2250,946.2 2251,946.4 2252,946.9 2253,948.1 2254,949.2 2255,949.8 2256,950.9 2257,952.1 2258,953.2 2259,954.1 2260,955 2261,956.4 2262,957.1 2263,957.4 2264,958.1 2265,959.7 2266,960.7 2267,961.5 2268,962.9 2269,964.1 2270,965.2 2271,965.3 2272,965.9 2273,966.5 2274,966 2275,966.4 2276,966.2 2277,965.8 2278,965.7 2279,964.3 2280,963.6 2281,962.6 2282,961.7 2283,961.4 2284,960.1 2285,958.5 2286,957.1 2287,956.8 2288,956.4 2289,954.8 2290,953.4 2291,953 2292,951.9 2293,950.5 2294,949.1 2295,947.6 2296,947 2297,946.5 2298,945.8 2299,944.6 2300,943.3 2301,943.6 2302,944.1 2303,944.2 2304,945 2305,945.3 2306,946.1 2307,947.2 2308,948.4 2309,949.8 2310,950.8 2311,952.5 2312,954.4 2313,955.6 2314,956.1 2315,957.2 2316,959.2 2317,960.2 2318,961.4 2319,962.5 2320,963.8 2321,965.8 2322,967.3 2323,968.8 2324,969.8 2325,970.7 2326,971.9 2327,972.8 2328,973.3 2329,973.8 2330,973.9 2331,972.8 2332,971.7 2333,971.2 2334,970.3 2335,968.7 2336,966.9 2337,965.4 2338,964 2339,962.5 2340,961.4 2341,960.6 2342,959 2343,957.5 2344,956.1 2345,954.5 2346,952.9 2347,950.8 2348,949.5 2349,948.4 2350,946.7 2351,944.8 2352,943.4 2353,942.4 2354,942 2355,941.8 2356,941.6 2357,941.8 2358,941.9 2359,942.6 2360,943.9 2361,945.4 2362,947.1 2363,948.9 2364,951 2365,952.4 2366,954 2367,955.9 2368,957 2369,958.7 2370,961.2 2371,962.8 2372,964.8 2373,966.7 2374,968.2 2375,970.3 2376,972.2 2377,974 2378,976.3 2379,977.7 2380,978 2381,978.6 2382,978.5 2383,977.9 2384,977 2385,974.5 2386,972.3 2387,970.7 2388,968.7 2389,966.5 2390,964.3 2391,962.6 2392,960.9 2393,959.2 2394,956.9 2395,954.8 2396,952.4 2397,949.9 2398,948.2 2399,946 2400,944.4 2401,942.9 2402,941.2 2403,940.3 2404,939.8 2405,940.5 2406,941.4 2407,942.6 2408,944.2 2409,946.3 2410,948.8 2411,950.5 2412,952.3 2413,954.3 2414,956.4 2415,958.5 2416,960.4 2417,962.1 2418,963.8 2419,966 2420,968.1 2421,970.1 2422,972.5 2423,974.8 2424,976.4 2425,978 2426,979 2427,979 2428,978.8 2429,977.6 2430,976.2 2431,974.9 2432,972.7 2433,971 2434,968.8 2435,966.9 2436,965.1 2437,962.7 2438,960.9 2439,958.9 2440,957.1 2441,955.7 2442,953.6 2443,950.9 2444,948.6 2445,947.2 2446,945.4 2447,943.1 2448,941.2 2449,940.5 2450,940.4 2451,940.8 2452,941.4 2453,942.4" fill="none" stroke="#ffff00" stroke-width="5.4" stroke-linejoin="round" />
<polyline points="169,985.7 169.8,986.9 170.6,987.4 171.4,987.5 172.2,987.8 173,987.3 173.8,986.7 174.6,985.8 175.4,983.5 176.2,981.8 177,981 177.8,980.5 178.6,978.4 179.4,975.8 180.2,974.3 181,973.3 181.8,971.5 182.6,969.2 183.4,967.7 184.2,965.7 185,963.4 185.8,961.1 186.6,958.6 187.4,957 188.2,954.8 189,952 189.8,950.5 190.6,948.9 191.4,948 192.2,947.2 193,944.9 193.8,943 194.6,942.2 195.4,941.6 196.2,940.6 197,939.4 197.8,939.2 198.6,939.8 199.4,940.1 200.2,940.7 201,941.8 201.8,942 202.6,941.9 203.4,943.3 204.2,944.7 205,944.8 205.8,945.3 206.6,945.4 207.4,945.5 208.2,946.4 209,946.5 209.8,946.7 210.6,948 211.4,949.1 212.2,949.3 213,949.7 213.8,949.9 214.6,950.8 215.4,952.3 216.2,953 217,953.5 217.8,953.8 218.6,954.8 219.4,956.6 220.2,957.5 221,958.7 221.8,960.4 222.6,960.4 223.4,961 224.2,963.2 225,964.7 225.8,965.8 226.6,967.2 227.4,968.5 228.2,970.4 229,971.5 229.8,972.4 230.6,974 231.4,975.8 232.2,977.9 233,979.4 233.8,981.3 234.6,982.9 235.4,983.6 236.2,984.4 237,985.1 237.8,984.8 238.6,983.3 239.4,982.8 240.2,982.2 241,981.6 241.8,981.8 242.6,980.8 243.4,979.6 244.2,979.8 245,979.3 245.8,978.4 246.6,977.9 247.4,977.7 248.2,978.1 249,977.3 249.8,976.5 250.6,976.2 251.4,976.5 252.2,976.1 253,974.7 253.8,974.4 254.6,974.5 255.4,974.2 256.2,972.5 257,970.4 257.8,968.8 258.6,967.5 259.4,965.2 260.2,962.3 261,960.9 261.8,959.2 262.6,957.4 263.4,955.9 264.2,953.4 265,949.1 265.8,948.3 266.6,948.5 267.4,946.8 268.2,945.9 269,945.3 269.8,944.2 270.6,943.3 271.4,942.3 272.2,941.6 273,940.9 273.8,941 274.6,940.8 275.4,939.3 276.2,938.2 277,937.4 277.8,935.9 278.6,935 279.4,934.6 280.2,934.4 281,935.2 281.8,936.3 282.6,936.6 283.4,937.2 284.2,939.1 285,940.5 285.8,940.4 286.6,941.4 287.4,942.8 288.2,943.8 289,944.7 289.8,945.1 290.6,946.9 291.4,947.9 292.2,948.9 293,950.4 293.8,952.1 294.6,954.1 295.4,955.8 296.2,957.8 297,959.1 297.8,959.9 298.6,961.5 299.4,963.9 300.2,965.9 301,967.8 301.8,969 302.6,970.2 303.4,971.5 304.2,973.1 305,975.4 305.8,976.2 306.6,977 307.4,979.3 308.2,981.2 309,982.5 309.8,983.4 310.6,984.5 311.4,986 312.2,986.3 313,986.2 313.8,986.2 314.6,986.6 315.4,986.4 316.2,986.3 317,986.3 317.8,986.3 318.6,985.9 319.4,985 320.2,985.3 321,985.8 321.8,986.1 322.6,985.5 323.4,984.6 324.2,984.9 325,984.4 325.8,983 326.6,982.1 327.4,981.8 328.2,981 329,979.8 329.8,979.1 330.6,978.5 331.4,976.9 332.2,975.7 333,974.4 333.8,972.6 334.6,969.7 335.4,966.9 336.2,965.3 337,963.6 337.8,961.5 338.6,958.2 339.4,955.2 340.2,952.6 341,950.6 341.8,949.8 342.6,948.1 343.4,946.8 344.2,945.6 345,943.5 345.8,942.6 346.6,942 347.4,940.6 348.2,939.5 349,939.2 349.8,939.3 350.6,938.6 351.4,938 352.2,937.8 353,937.4 353.8,937.8 354.6,937.7 355.4,938 356.2,938.2 357,937.3 357.8,937.3 358.6,938 359.4,938.6 360.2,939 361,939.5 361.8,939.6 362.6,940.2 363.4,941.5 364.2,941.9 365,943 365.8,944.3 366.6,945.7 367.4,947.6 368.2,948.9 369,949.4 369.8,951.5 370.6,953.2 371.4,954.5 372.2,956.4 373,958 373.8,959.6 374.6,961.1 375.4,963 376.2,964.6 377,965.9 377.8,967.1 378.6,969 379.4,971.1 380.2,972.4 381,973.6 381.8,974.7 382.6,977.3 383.4,979.1 384.2,981.4 385,982.8 385.8,983.8 386.6,985.1 387.4,986.5 388.2,986.6 389,986.5 389.8,986.8 390.6,986.7 391.4,986.9 392.2,986.8 393,985.7 393.8,985.2 394.6,985.2 395.4,985.7 396.2,985.3 397,985 397.8,985.7 398.6,985.8 399.4,985.1 400.2,984.3 401,984.5 401.8,984 402.6,983.3 403.4,983 404.2,982 405,980.6 405.8,979 406.6,977.8 407.4,976.6 408.2,975.3 409,973.8 409.8,971.7 410.6,969.9 411.4,967.5 412.2,964.9 413,963.1 413.8,961.1 414.6,958.1 415.4,955.6 416.2,952.9 417,950.1 417.8,949.4 418.6,948.8 419.4,946.5 420.2,945.2 421,944.8 421.8,943.2 422.6,942.2 423.4,941.5 424.2,940.6 425,940.1 425.8,939.5 426.6,938.4 427.4,937.9 428.2,937.8 429,937.9 429.8,937.9 430.6,938.1 431.4,938 432.2,937.6 433,937.6 433.8,937.8 434.6,937.6 435.4,938.4 436.2,938.8 437,938.7 437.8,939.6 438.6,940.2 439.4,941.2 440.2,942.2 441,943.8 441.8,945.4 442.6,946.4 443.4,947.4 444.2,948.9 445,950.1 445.8,951.6 446.6,953.6 447.4,955.4 448.2,956.9 449,958.3 449.8,960 450.6,961.4 451.4,962.5 452.2,964.7 453,966.4 453.8,967 454.6,968.4 455.4,970.6 456.2,972.7 457,973.9 457.8,975 458.6,978.5 459.4,979.3 460.2,980.3 461,982.3 461.8,984.1 462.6,984.9 463.4,985.5 464.2,986 465,986 465.8,986.4 466.6,986.8 467.4,986.3 468.2,986.2 469,986.4 469.8,985.7 470.6,985.6 471.4,985.4 472.2,985.5 473,985.4 473.8,985.2 474.6,985.2 475.4,984.3 476.2,983.7 477,983.7 477.8,983.4 478.6,982.8 479.4,981.9 480.2,981.2 481,980.6 481.8,979.4 482.6,978 483.4,976.1 484.2,974.6 485,973.3 485.8,972.2 486.6,970.2 487.4,967.6 488.2,966 489,964.1 489.8,961.5 490.6,958.2 491.4,954.6 492.2,953.1 493,951.2 493.8,949.1 494.6,948.6 495.4,947.3 496.2,945.1 497,943.6 497.8,943.2 498.6,942.2 499.4,941.5 500.2,940.4 501,939.8 501.8,939 502.6,938.3 503.4,938.1 504.2,937.4 505,937.3 505.8,937.2 506.6,937.5 507.4,937.2 508.2,936.7 509,937 509.8,937.6 510.6,938.2 511.4,938.6 512.2,938.8 513,939.7 513.8,940.1 514.6,939.9 515.4,941.2 516.2,942.3 517,942.7 517.8,944.2 518.6,945.7 519.4,946.8 520.2,948.9 521,951.1 521.8,951.8 522.6,952.8 523.4,954.7 524.2,956.8 525,958 525.8,959.5 526.6,961.2 527.4,963 528.2,965.5 529,966.3 529.8,967.5 530.6,969.7 531.4,971.1 532.2,972.1 533,972.8 533.8,973.8 534.6,978 535.4,979.3 536.2,979.9 537,981.1 537.8,983.1 538.6,985.4 539.4,985.5 540.2,985.3 541,986.7 541.8,986.8 542.6,986.9 543.4,987 544.2,986.4 545,986.7 545.8,986.1 546.6,985.7 547.4,986.1 548.2,986.4 549,985.5 549.8,985.3 550.6,985.7 551.4,984.6 552.2,983.9 553,983.3 553.8,982.7 554.6,982.1 555.4,980.4 556.2,979 557,978 557.8,976.2 558.6,974.4 559.4,972.1 560.2,969.3 561,967.3 561.8,964.4 562.6,961.2 563.4,959.3 564.2,957.5 565,954.5 565.8,951.6 566.6,949.3 567.4,948 568.2,946.4 569,943.7 569.8,941.6 570.6,940.1 571.4,938.8 572.2,938 573,936.2 573.8,934.8 574.6,934 575.4,933.1 576.2,932.5 577,931.7 577.8,931.7 578.6,931.9 579.4,932.3 580.2,932.6 581,933.1 581.8,934.7 582.6,936 583.4,936.5 584.2,938.1 585,939.6 585.8,940.6 586.6,941.7 587.4,942.9 588.2,944.4 589,945.9 589.8,948.3 590.6,949.8 591.4,951.4 592.2,953.2 593,954.7 593.8,956.4 594.6,958 595.4,959.8 596.2,961.5 597,963.2 597.8,965.3 598.6,967.4 599.4,968.3 600.2,970.2 601,972.3 601.8,973.5 602.6,975.3 603.4,976.6 604.2,977.5 605,978.7 605.8,980.3 606.6,981.8 607.4,983.4 608.2,984.5 609,985.1 609.8,985.7 610.6,986.5 611.4,987.7 612.2,987.5 613,986.6 613.8,986.8 614.6,986.7 615.4,986.7 616.2,986 617,984.4 617.8,983.6 618.6,983.2 619.4,982.2 620.2,980.1 621,978.1 621.8,977.8 622.6,976.9 623.4,974.5 624.2,972.1 625,970.7 625.8,969.5 626.6,968.3 627.4,967.3 628.2,965.4 629,963.3 629.8,961.7 630.6,959.9 631.4,958.6 632.2,956.6 633,954.8 633.8,952.7 634.6,951.1 635.4,950.4 636.2,948.6 637,946.8 637.8,945 638.6,944 639.4,942.3 640.2,940.5 641,939.4 641.8,938.5 642.6,937.9 643.4,937 644.2,936.4 645,934.7 645.8,934.2 646.6,934.6 647.4,933.7 648.2,933.3 649,934 649.8,934.4 650.6,935.3 651.4,936.6 652.2,936.9 653,937.7 653.8,939.3 654.6,940.4 655.4,941.3 656.2,942.4 657,944.4 657.8,946.7 658.6,948 659.4,948.7 660.2,950.8 661,952.9 661.8,954.1 662.6,955.7 663.4,957.3 664.2,959 665,961.3 665.8,963.7 666.6,965 667.4,966.2 668.2,968.4 669,970.1 669.8,971.6 670.6,973.1 671.4,973.8 672.2,975.2 673,976.9 673.8,978.1 674.6,979.8 675.4,981.2 676.2,982.4 677,984.6 677.8,985.2 678.6,985.9 679.4,986.9 680.2,987.8 681,989.2 681.8,989.5 682.6,989.1 683.4,988 684.2,988 685,988.3 685.8,987.2 686.6,985.9 687.4,984.4 688.2,982.9 689,982.1 689.8,981 690.6,979.1 691.4,978.1 692.2,977.1 693,975.2 693.8,974.3 694.6,972.7 695.4,970.7 696.2,968.8 697,966.8 697.8,965.5 698.6,963.8 699.4,962.1 700.2,960.9 701,959.2 701.8,957 702.6,955.2 703.4,954.2 704.2,951.7 705,950.2 705.8,949.3 706.6,947.6 707.4,946.4 708.2,944.3 709,942.4 709.8,941.7 710.6,940.9 711.4,939.3 712.2,937.7 713,936 713.8,934.7 714.6,934.5 715.4,934.3 716.2,933.6 717,933.4 717.8,933.5 718.6,933.6 719.4,934.3 720.2,934.8 721,935.3 721.8,937.1 722.6,938.1 723.4,938.6 724.2,940.6 725,942.1 725.8,942.9 726.6,945.1 727.4,947.2 728.2,948.6 729,950.4 729.8,951.9 730.6,953.2 731.4,954.7 732.2,956.1 733,957.8 733.8,959.7 734.6,961.8 735.4,963.3 736.2,965.2 737,966.8 737.8,968.1 738.6,970.6 739.4,972.2 740.2,973.1 741,974.1 741.8,975.6 742.6,977.2 743.4,979.3 744.2,981.6 745,982.7 745.8,983 746.6,984.8 747.4,986.8 748.2,988 749,989 749.8,989.8 750.6,989.4 751.4,988.8 752.2,989.4 753,989.7 753.8,989.1 754.6,988.5 755.4,988.5 756.2,987.5 757,985.7 757.8,984.6 758.6,983.5 759.4,982.4 760.2,980.9 761,978.6 761.8,977.4 762.6,976.5 763.4,975.1 764.2,973.9 765,972.1 765.8,969.9 766.6,968.4 767.4,967.3 768.2,965.8 769,963.4 769.8,961.1 770.6,959.5 771.4,958.7 772.2,957.7 773,955.7 773.8,953.6 774.6,952.2 775.4,951.2 776.2,949.6 777,947.5 777.8,945.6 778.6,944.8 779.4,943.1 780.2,942 781,940.6 781.8,938.8 782.6,938.3 783.4,937 784.2,936.3 785,936.1 785.8,935.7 786.6,935.2 787.4,934.9 788.2,935 789,935.3 789.8,936.4 790.6,937.3 791.4,938.5 792.2,940 793,941.6 793.8,943.3 794.6,945 795.4,946.5 796.2,948.4 797,950.5 797.8,952 798.6,953.5 799.4,954.8 800.2,955.7 801,958.2 801.8,960.8 802.6,962.5 803.4,963.9 804.2,965.9 805,968.2 805.8,970.3 806.6,972.3 807.4,973.1 808.2,974.3 809,976.3 809.8,978.7 810.6,980.3 811.4,982.2 812.2,984.6 813,986.3 813.8,987.9 814.6,988.9 815.4,989.9 816.2,991.8 817,993.6 817.8,995.1 818.6,995.9 819.4,996.2 820.2,996.9 821,996.9 821.8,997.3 822.6,997.1 823.4,995.9 824.2,995.3 825,994.5 825.8,993.6 826.6,992.4 827.4,990.5 828.2,988.9 829,987.8 829.8,986.2 830.6,984.9 831.4,983.8 832.2,982.4 833,981.1 833.8,978.8 834.6,976.5 835.4,974.6 836.2,972.7 837,971.8 837.8,970 838.6,968.1 839.4,966.4 840.2,964.5 841,963.5 841.8,961.2 842.6,958.7 843.4,957.3 844.2,956.3 845,955 845.8,953.5 846.6,951.6 847.4,949.3 848.2,948.4 849,946.9 849.8,945.5 850.6,944.7 851.4,943.2 852.2,941.8 853,940.1 853.8,938.8 854.6,938.5 855.4,938.1 856.2,937.7 857,938 857.8,938.3 858.6,938.6 859.4,939.1 860.2,940 861,941.4 861.8,942.9 862.6,944.6 863.4,946.3 864.2,947.9 865,949.8 865.8,951.2 866.6,952.8 867.4,954.5 868.2,955.2 869,956.6 869.8,958.9 870.6,960.7 871.4,962.5 872.2,964.1 873,965.6 873.8,966.7 874.6,968.6 875.4,970.8 876.2,972.5 877,973.9 877.8,974.9 878.6,976.4 879.4,978 880.2,980.1 881,982 881.8,982.8 882.6,984.6 883.4,986.3 884.2,987.4 885,988.6 885.8,990 886.6,991.6 887.4,993.5 888.2,994.8 889,995 889.8,995.4 890.6,995.6 891.4,996.1 892.2,996.5 893,995.4 893.8,993.9 894.6,993.7 895.4,993 896.2,991.6 897,989.5 897.8,987.7 898.6,986.9 899.4,984.8 900.2,983.3 901,982.3 901.8,980.7 902.6,978.9 903.4,976.7 904.2,974.7 905,973.8 905.8,972.3 906.6,970.8 907.4,969 908.2,967.1 909,965.2 909.8,963.3 910.6,961.3 911.4,959.3 912.2,957.6 913,956.1 913.8,955.3 914.6,953.1 915.4,950.8 916.2,949.8 917,948.5 917.8,946.8 918.6,945.8 919.4,944 920.2,942.2 921,941 921.8,939.3 922.6,938 923.4,937.2 924.2,936.3 925,935.7 925.8,934.7 926.6,934.4 927.4,934.7 928.2,935.6 929,936.9 929.8,937.5 930.6,938.4 931.4,939.7 932.2,941.3 933,943.5 933.8,944.7 934.6,945.9 935.4,947.1 936.2,948.3 937,949.9 937.8,951.9 938.6,953.8 939.4,955.5 940.2,957 941,958.6 941.8,959.7 942.6,961.3 943.4,962.7 944.2,963.4 945,965.4 945.8,967.6 946.6,968.8 947.4,970.6 948.2,972.9 949,973.8 949.8,975 950.6,976.6 951.4,978 952.2,979.8 953,981.5 953.8,982.8 954.6,984.3 955.4,986 956.2,987.9 957,988.8 957.8,990.2 958.6,991.7 959.4,992 960.2,992.4 961,992.6 961.8,992 962.6,991 963.4,990.2 964.2,989.5 965,988.6 965.8,986.9 966.6,985.2 967.4,983.4 968.2,981.6 969,980.3 969.8,978.2 970.6,975.7 971.4,974 972.2,972.6 973,970.9 973.8,969.5 974.6,968.7 975.4,967.1 976.2,965.3 977,963.7 977.8,960.9 978.6,958.7 979.4,957.1 980.2,955.1 981,953 981.8,950.7 982.6,949.5 983.4,947.9 984.2,945.9 985,944.4 985.8,942.1 986.6,940.1 987.4,938.4 988.2,936.7 989,934.8 989.8,932.7 990.6,931 991.4,928.8 992.2,926.7 993,926.2 993.8,925.4 994.6,924.3 995.4,924.6 996.2,924.8 997,925.8 997.8,927.7 998.6,929.7 999.4,931 1000.2,933.2 1001,935.3 1001.8,936.8 1002.6,939.2 1003.4,941.4 1004.2,943.2 1005,945.2 1005.8,947.8 1006.6,949.6 1007.4,951.1 1008.2,953.1 1009,955.9 1009.8,958.1 1010.6,960 1011.4,961.7 1012.2,964 1013,966.2 1013.8,968.1 1014.6,970.8 1015.4,972.5 1016.2,974.1 1017,976.2 1017.8,978.1 1018.6,980.5 1019.4,982.9 1020.2,984.2 1021,986.7 1021.8,989.4 1022.6,990.7 1023.4,992.6 1024.2,995 1025,995.9 1025.8,997.1 1026.6,997.7 1027.4,997.2 1028.2,996.9 1029,996 1029.8,994.9 1030.6,992.9 1031.4,991.1 1032.2,989.5 1033,986.9 1033.8,984.6 1034.6,983 1035.4,980.9 1036.2,978.6 1037,976.4 1037.8,974.6 1038.6,972.6 1039.4,970.8 1040.2,969.8 1041,967.4 1041.8,964.6 1042.6,963.2 1043.4,960.8 1044.2,957.8 1045,956.5 1045.8,955.2 1046.6,953.2 1047.4,951 1048.2,949.3 1049,947.4 1049.8,945.1 1050.6,943.7 1051.4,941.6 1052.2,939.6 1053,937.9 1053.8,935.5 1054.6,933.7 1055.4,932.2 1056.2,929.7 1057,927.7 1057.8,926.9 1058.6,926.7 1059.4,926 1060.2,925.8 1061,927.2 1061.8,927.8 1062.6,929.4 1063.4,931.9 1064.2,934 1065,936 1065.8,937.4 1066.6,939.4 1067.4,941.7 1068.2,943.4 1069,944.8 1069.8,946.1 1070.6,948 1071.4,949.5 1072.2,950.7 1073,953.1 1073.8,955 1074.6,956.8 1075.4,958.5 1076.2,960.3 1077,962.1 1077.8,964 1078.6,966.7 1079.4,968.5 1080.2,969.4 1081,971.2 1081.8,973.3 1082.6,974.6 1083.4,975.7 1084.2,977.8 1085,979.5 1085.8,981.7 1086.6,984.1 1087.4,985.4 1088.2,987 1089,988.8 1089.8,990 1090.6,990.8 1091.4,990.8 1092.2,990.1 1093,990.4 1093.8,989.3 1094.6,987.6 1095.4,985.6 1096.2,983 1097,981.1 1097.8,978.9 1098.6,977.3 1099.4,975.9 1100.2,973.2 1101,971.3 1101.8,969.8 1102.6,968.1 1103.4,966.6 1104.2,964.5 1105,962 1105.8,959.9 1106.6,958.2 1107.4,956.7 1108.2,954.6 1109,952.6 1109.8,950.8 1110.6,948.3 1111.4,946.3 1112.2,944.2 1113,942 1113.8,940.1 1114.6,938.4 1115.4,936.9 1116.2,934.6 1117,931.9 1117.8,930.4 1118.6,928.8 1119.4,925.8 1120.2,923.5 1121,922.1 1121.8,920.8 1122.6,920.1 1123.4,919.6 1124.2,919.6 1125,920.7 1125.8,922 1126.6,923.4 1127.4,925 1128.2,926.7 1129,928.8 1129.8,931 1130.6,933.3 1131.4,935.7 1132.2,937.3 1133,938.4 1133.8,940.2 1134.6,942.7 1135.4,944.7 1136.2,945.8 1137,948 1137.8,949.8 1138.6,950.8 1139.4,953.6 1140.2,956.3 1141,957.8 1141.8,959.5 1142.6,961.6 1143.4,963.9 1144.2,965.7 1145,967.2 1145.8,968.6 1146.6,970.4 1147.4,972.2 1148.2,974 1149,975.9 1149.8,978 1150.6,980.8 1151.4,982.6 1152.2,985 1153,987.4 1153.8,988.3 1154.6,989.1 1155.4,989.3 1156.2,989.8 1157,989.3 1157.8,988.1 1158.6,987.2 1159.4,985.9 1160.2,984.1 1161,981.9 1161.8,980.1 1162.6,978 1163.4,976 1164.2,973.9 1165,971.4 1165.8,969.7 1166.6,968.1 1167.4,967 1168.2,965.2 1169,963.2 1169.8,962.2 1170.6,960.7 1171.4,958.7 1172.2,956 1173,953.7 1173.8,952.7 1174.6,950.4 1175.4,948.5 1176.2,947.5 1177,946 1177.8,943.7 1178.6,941.7 1179.4,940.6 1180.2,938.4 1181,936.4 1181.8,934.5 1182.6,932 1183.4,930.4 1184.2,928.4 1185,926.6 1185.8,925.7 1186.6,924 1187.4,923.1 1188.2,923.5 1189,923.6 1189.8,924.5 1190.6,925.8 1191.4,927.5 1192.2,929.2 1193,931 1193.8,933.2 1194.6,935.6 1195.4,937.8 1196.2,938.9 1197,941 1197.8,942.8 1198.6,944.1 1199.4,946.3 1200.2,948.2 1201,950 1201.8,952 1202.6,953.4 1203.4,955.9 1204.2,958.7 1205,959.9 1205.8,961.7 1206.6,964.3 1207.4,966.1 1208.2,967.6 1209,968.5 1209.8,970.7 1210.6,972.4 1211.4,974 1212.2,976.2 1213,978.3 1213.8,980.8 1214.6,983 1215.4,984.6 1216.2,985.8 1217,987.5 1217.8,989.8 1218.6,991.3 1219.4,991.5 1220.2,991.6 1221,992 1221.8,992.3 1222.6,991.3 1223.4,989.7 1224.2,987.5 1225,985.6 1225.8,984 1226.6,981.6 1227.4,978.9 1228.2,977 1229,975.2 1229.8,974 1230.6,972.3 1231.4,970.2 1232.2,969.4 1233,968.3 1233.8,966.4 1234.6,964.2 1235.4,962.3 1236.2,960.7 1237,958.2 1237.8,956 1238.6,954.7 1239.4,952.8 1240.2,950.4 1241,949 1241.8,948.1 1242.6,946.9 1243.4,944.9 1244.2,942.4 1245,940.8 1245.8,938.9 1246.6,936.8 1247.4,934.6 1248.2,932.4 1249,930.6 1249.8,929.1 1250.6,927.9 1251.4,926.3 1252.2,926 1253,926.3 1253.8,926.1 1254.6,927 1255.4,928.8 1256.2,930.3 1257,931.9 1257.8,934 1258.6,935.8 1259.4,938.8 1260.2,941.7 1261,943.1 1261.8,944 1262.6,946 1263.4,948 1264.2,949.2 1265,951.6 1265.8,954.2 1266.6,956 1267.4,957.7 1268.2,958.8 1269,960.7 1269.8,963.6 1270.6,965.3 1271.4,966.7 1272.2,968.2 1273,970.4 1273.8,972.1 1274.6,973.7 1275.4,975.8 1276.2,977.5 1277,979.2 1277.8,981.9 1278.6,984.5 1279.4,986.3 1280.2,987.9 1281,989.1 1281.8,990.9 1282.6,992.9 1283.4,994 1284.2,994 1285,994.7 1285.8,995.4 1286.6,994.6 1287.4,992.9 1288.2,991.4 1289,989.3 1289.8,986.8 1290.6,985.2 1291.4,983.2 1292.2,980.6 1293,978.4 1293.8,976.3 1294.6,975.2 1295.4,974.1 1296.2,972.2 1297,969.6 1297.8,967.4 1298.6,965.9 1299.4,964.3 1300.2,962.2 1301,960.6 1301.8,958.4 1302.6,956.3 1303.4,955.3 1304.2,953.4 1305,951.7 1305.8,949.9 1306.6,947.4 1307.4,945.8 1308.2,944.3 1309,942.3 1309.8,940.7 1310.6,937.9 1311.4,936.1 1312.2,934.1 1313,931.3 1313.8,929.5 1314.6,928.2 1315.4,927 1316.2,925.7 1317,925.7 1317.8,926.8 1318.6,928 1319.4,928.9 1320.2,930.6 1321,932.3 1321.8,933.5 1322.6,935.5 1323.4,938.1 1324.2,939.8 1325,941.3 1325.8,942.7 1326.6,944.9 1327.4,947.2 1328.2,948.6 1329,950 1329.8,951.8 1330.6,953.1 1331.4,954.2 1332.2,956.3 1333,959 1333.8,961 1334.6,962.3 1335.4,963.7 1336.2,965.5 1337,967.6 1337.8,969.7 1338.6,971.5 1339.4,972.7 1340.2,974.7 1341,977 1341.8,978.6 1342.6,980.6 1343.4,983.3 1344.2,985 1345,986.2 1345.8,987.8 1346.6,990.3 1347.4,992 1348.2,992.4 1349,992.3 1349.8,991.9 1350.6,991.4 1351.4,991 1352.2,990.4 1353,988.4 1353.8,986.4 1354.6,984.6 1355.4,981.9 1356.2,979.5 1357,977.2 1357.8,975.1 1358.6,973 1359.4,970.8 1360.2,969.7 1361,967.3 1361.8,965.1 1362.6,964.1 1363.4,961.5 1364.2,959.1 1365,957.5 1365.8,954.8 1366.6,952.4 1367.4,950.3 1368.2,948.4 1369,946.6 1369.8,944.2 1370.6,942.3 1371.4,940.1 1372.2,938.4 1373,936.2 1373.8,933.9 1374.6,932.4 1375.4,929.9 1376.2,927 1377,924.6 1377.8,922.2 1378.6,919.6 1379.4,917.9 1380.2,916.7 1381,916.2 1381.8,917.3 1382.6,919.1 1383.4,920.2 1384.2,921.9 1385,924.3 1385.8,926.7 1386.6,929 1387.4,931.4 1388.2,934.5 1389,937.4 1389.8,939.6 1390.6,942.2 1391.4,945 1392.2,946.7 1393,948.5 1393.8,951.8 1394.6,953.9 1395.4,956.3 1396.2,959.7 1397,961.4 1397.8,963.8 1398.6,966.4 1399.4,968 1400.2,970.8 1401,973 1401.8,975.6 1402.6,979 1403.4,981.1 1404.2,982.8 1405,984.9 1405.8,988.3 1406.6,991.7 1407.4,993.5 1408.2,995.6 1409,997.7 1409.8,999.2 1410.6,999.4 1411.4,999 1412.2,998.8 1413,997.2 1413.8,994.8 1414.6,992.4 1415.4,990.2 1416.2,987.5 1417,984.9 1417.8,983.1 1418.6,981.4 1419.4,979 1420.2,977 1421,974.4 1421.8,972.5 1422.6,971.3 1423.4,968.9 1424.2,965.9 1425,963.2 1425.8,961.5 1426.6,959.5 1427.4,956.9 1428.2,954.6 1429,952.6 1429.8,950.2 1430.6,948 1431.4,945.9 1432.2,944.5 1433,943.2 1433.8,941 1434.6,938.5 1435.4,936.1 1436.2,933.1 1437,929.9 1437.8,928.3 1438.6,927.6 1439.4,926.6 1440.2,926.2 1441,926.2 1441.8,926.6 1442.6,927.3 1443.4,928.8 1444.2,931.8 1445,934.5 1445.8,937 1446.6,939.6 1447.4,941.9 1448.2,944.5 1449,946.2 1449.8,948.5 1450.6,950.9 1451.4,952.6 1452.2,955.4 1453,957.3 1453.8,959.2 1454.6,962.3 1455.4,965.1 1456.2,966.8 1457,968.7 1457.8,971.2 1458.6,974.1 1459.4,976.9 1460.2,979 1461,980.9 1461.8,983.1 1462.6,985.8 1463.4,987.7 1464.2,989.3 1465,992.8 1465.8,996.1 1466.6,998.6 1467.4,1000.1 1468.2,1001.6 1469,1003.2 1469.8,1004.1 1470.6,1003.9 1471.4,1003.4 1472.2,1003 1473,1001.1 1473.8,998.6 1474.6,995.5 1475.4,992.8 1476.2,989.8 1477,986.5 1477.8,984.8 1478.6,982.5 1479.4,979.5 1480.2,977.2 1481,975.4 1481.8,974 1482.6,971.6 1483.4,969.2 1484.2,966.9 1485,963.5 1485.8,961 1486.6,959.4 1487.4,956.3 1488.2,953.8 1489,951.8 1489.8,948.8 1490.6,946.7 1491.4,945 1492.2,943.1 1493,940.6 1493.8,937.4 1494.6,934.7 1495.4,931.6 1496.2,928.3 1497,926.7 1497.8,924.8 1498.6,922.6 1499.4,921.9 1500.2,922.8 1501,924.3 1501.8,924.8 1502.6,926.4 1503.4,928.2 1504.2,930.8 1505,933.6 1505.8,935.6 1506.6,938.3 1507.4,941.1 1508.2,944.3 1509,945.8 1509.8,948 1510.6,950.3 1511.4,951.7 1512.2,954.8 1513,957.4 1513.8,958.7 1514.6,961.1 1515.4,964.3 1516.2,967.1 1517,969.8 1517.8,971.4 1518.6,972.8 1519.4,975.8 1520.2,977.7 1521,980.1 1521.8,982.3 1522.6,983.7 1523.4,986.7 1524.2,989.7 1525,992.8 1525.8,994.8 1526.6,996.2 1527.4,998.6 1528.2,1000.9 1529,1001.8 1529.8,1002 1530.6,1001.9 1531.4,1000.1 1532.2,998.7 1533,997.3 1533.8,994.2 1534.6,991.4 1535.4,988.9 1536.2,986.3 1537,983.8 1537.8,981.9 1538.6,980.4 1539.4,978.3 1540.2,975.6 1541,973.3 1541.8,971.2 1542.6,969.6 1543.4,967.4 1544.2,964.8 1545,962.6 1545.8,960.2 1546.6,958 1547.4,955.8 1548.2,954.2 1549,952.3 1549.8,949.9 1550.6,946.8 1551.4,944.9 1552.2,943.6 1553,941 1553.8,937.9 1554.6,935.9 1555.4,933.8 1556.2,931.7 1557,929.2 1557.8,927.4 1558.6,926.5 1559.4,925.5 1560.2,925.6 1561,926.4 1561.8,927.8 1562.6,929.9 1563.4,933.2 1564.2,935.5 1565,937.8 1565.8,940.3 1566.6,942.6 1567.4,945.3 1568.2,948 1569,950.8 1569.8,952.6 1570.6,953.9 1571.4,955.6 1572.2,958.1 1573,961.2 1573.8,963.8 1574.6,966.1 1575.4,968.2 1576.2,970.3 1577,972.8 1577.8,975.2 1578.6,977.3 1579.4,979.3 1580.2,981.4 1581,983.9 1581.8,986.8 1582.6,989.1 1583.4,992 1584.2,995.1 1585,997.8 1585.8,1000 1586.6,1002.2 1587.4,1004.3 1588.2,1005.2 1589,1005.2 1589.8,1004.6 1590.6,1003.5 1591.4,1002.1 1592.2,1000.8 1593,999.1 1593.8,996.2 1594.6,993.4 1595.4,990.7 1596.2,988.4 1597,985.4 1597.8,982.1 1598.6,980.3 1599.4,978.3 1600.2,976 1601,973.9 1601.8,971.5 1602.6,969.2 1603.4,967.1 1604.2,964.6 1605,962 1605.8,959.6 1606.6,956.7 1607.4,954.5 1608.2,952.7 1609,950.3 1609.8,947.7 1610.6,945.1 1611.4,942.8 1612.2,939.9 1613,937.3 1613.8,934.7 1614.6,932 1615.4,929.8 1616.2,927.7 1617,925.9 1617.8,923.9 1618.6,923.5 1619.4,924 1620.2,924 1621,924.9 1621.8,926.7 1622.6,929.3 1623.4,932.9 1624.2,935.6 1625,938 1625.8,940.3 1626.6,942.2 1627.4,944.5 1628.2,947.5 1629,949.4 1629.8,951.5 1630.6,954 1631.4,956.1 1632.2,958.2 1633,960 1633.8,962.9 1634.6,965.3 1635.4,967.6 1636.2,970 1637,971.8 1637.8,974.6 1638.6,976.9 1639.4,978.7 1640.2,981.1 1641,983.2 1641.8,985.5 1642.6,988.3 1643.4,990.9 1644.2,993.2 1645,995.9 1645.8,998.6 1646.6,999.7 1647.4,1000.4 1648.2,1001.8 1649,1001.4 1649.8,1000 1650.6,999.1 1651.4,998.1 1652.2,996.4 1653,993.3 1653.8,990.8 1654.6,988.4 1655.4,985.3 1656.2,982.9 1657,980.7 1657.8,978.3 1658.6,976.8 1659.4,975.1 1660.2,972.8 1661,970.2 1661.8,967.1 1662.6,965.3 1663.4,963.1 1664.2,960.1 1665,958.3 1665.8,956.2 1666.6,953.4 1667.4,951.5 1668.2,949.6 1669,946.9 1669.8,944.9 1670.6,943.1 1671.4,940.6 1672.2,937.5 1673,934.9 1673.8,932.4 1674.6,930 1675.4,928.5 1676.2,926.4 1677,925 1677.8,923.7 1678.6,923.1 1679.4,924.2 1680.2,925.6 1681,926.6 1681.8,928.4 1682.6,931.2 1683.4,933.3 1684.2,935.2 1685,937.6 1685.8,940.3 1686.6,943 1687.4,945.4 1688.2,946.6 1689,948 1689.8,950.1 1690.6,951.9 1691.4,954.1 1692.2,956.3 1693,959.2 1693.8,961.7 1694.6,964 1695.4,967.1 1696.2,969 1697,970.2 1697.8,972.1 1698.6,975.1 1699.4,977.3 1700.2,978.6 1701,981.8 1701.8,984.9 1702.6,987 1703.4,989.9 1704.2,992.7 1705,994.7 1705.8,997.5 1706.6,999.6 1707.4,1000.5 1708.2,1001.1 1709,1000.5 1709.8,998.7 1710.6,996.7 1711.4,995 1712.2,992.5 1713,989.8 1713.8,987.1 1714.6,984.3 1715.4,980.7 1716.2,977.3 1717,974.6 1717.8,972.2 1718.6,970.5 1719.4,967.8 1720.2,965.1 1721,962.6 1721.8,959.3 1722.6,956.6 1723.4,953.6 1724.2,950.1 1725,948 1725.8,944.6 1726.6,940.9 1727.4,939.1 1728.2,936.7 1729,933.8 1729.8,931.6 1730.6,928 1731.4,924 1732.2,920.9 1733,918 1733.8,914.8 1734.6,911.7 1735.4,909 1736.2,907 1737,905.5 1737.8,905 1738.6,905.4 1739.4,907.7 1740.2,910.3 1741,912.7 1741.8,916.6 1742.6,920 1743.4,923.1 1744.2,926.4 1745,929.8 1745.8,932.9 1746.6,935.2 1747.4,938.7 1748.2,942.3 1749,945.3 1749.8,947.6 1750.6,950 1751.4,954 1752.2,958.4 1753,960.8 1753.8,962.9 1754.6,965.9 1755.4,969.8 1756.2,973.3 1757,975.8 1757.8,978.8 1758.6,982.5 1759.4,985.7 1760.2,988.6 1761,992.7 1761.8,995.9 1762.6,998.8 1763.4,1000.9 1764.2,1002.1 1765,1003.1 1765.8,1002.1 1766.6,1001 1767.4,998.6 1768.2,995.8 1769,993.2 1769.8,988.7 1770.6,984.9 1771.4,981.7 1772.2,978 1773,975.1 1773.8,972.5 1774.6,969.1 1775.4,966.7 1776.2,964.1 1777,960.5 1777.8,957 1778.6,953.4 1779.4,949.8 1780.2,946.6 1781,944.1 1781.8,941.3 1782.6,938.1 1783.4,934.9 1784.2,932 1785,929.5 1785.8,926.3 1786.6,922.5 1787.4,919.2 1788.2,915.3 1789,911.8 1789.8,909 1790.6,906.7 1791.4,905.6 1792.2,904.5 1793,904.3 1793.8,904.9 1794.6,906.9 1795.4,910.4 1796.2,914.1 1797,917.4 1797.8,920.9 1798.6,924.4 1799.4,928 1800.2,930.7 1801,933.5 1801.8,936.8 1802.6,939 1803.4,941.4 1804.2,945 1805,948.9 1805.8,952.3 1806.6,955.1 1807.4,957.9 1808.2,961 1809,964.7 1809.8,968.1 1810.6,971.1 1811.4,973.2 1812.2,975.9 1813,979.6 1813.8,983 1814.6,985.9 1815.4,989.6 1816.2,993.7 1817,996.6 1817.8,999 1818.6,1000.4 1819.4,1001.1 1820.2,1001.2 1821,1000.4 1821.8,998.6 1822.6,995.8 1823.4,992.7 1824.2,989.7 1825,986.8 1825.8,983.5 1826.6,980 1827.4,977.2 1828.2,974.7 1829,971.2 1829.8,967.7 1830.6,965.6 1831.4,963.5 1832.2,960.6 1833,957.3 1833.8,953.5 1834.6,949.8 1835.4,947.1 1836.2,945 1837,941.9 1837.8,938.8 1838.6,936.2 1839.4,933.6 1840.2,930.6 1841,926.9 1841.8,923.2 1842.6,919.4 1843.4,916.5 1844.2,913.6 1845,910.7 1845.8,908.5 1846.6,906.7 1847.4,906.2 1848.2,907.1 1849,909.5 1849.8,911.4 1850.6,913.5 1851.4,917.1 1852.2,920.6 1853,924.2 1853.8,928.2 1854.6,931.3 1855.4,934.2 1856.2,937.1 1857,940.2 1857.8,942.9 1858.6,944.8 1859.4,947.5 1860.2,950.8 1861,954.8 1861.8,958.3 1862.6,961.3 1863.4,965 1864.2,967.9 1865,970.4 1865.8,973.6 1866.6,976.8 1867.4,979.5 1868.2,982.4 1869,986.3 1869.8,990.2 1870.6,993.6 1871.4,996.9 1872.2,999.4 1873,1001.7 1873.8,1003.5 1874.6,1003.9 1875.4,1003.9 1876.2,1003.4 1877,1001.5 1877.8,998.6 1878.6,994.7 1879.4,991.5 1880.2,988.3 1881,984 1881.8,980.8 1882.6,977.7 1883.4,974.8 1884.2,971.8 1885,968.1 1885.8,964.9 1886.6,962.4 1887.4,959.9 1888.2,956.6 1889,953 1889.8,949.6 1890.6,946.4 1891.4,943.1 1892.2,940.5 1893,938.3 1893.8,934.6 1894.6,930.7 1895.4,927.7 1896.2,924.7 1897,921.1 1897.8,917.5 1898.6,913.9 1899.4,910.8 1900.2,908.8 1901,907.3 1901.8,905.7 1902.6,905.4 1903.4,906.7 1904.2,908 1905,911 1905.8,914.1 1906.6,917.3 1907.4,921.2 1908.2,924.7 1909,927.7 1909.8,930.9 1910.6,934.6 1911.4,937.7 1912.2,940.6 1913,943.8 1913.8,947 1914.6,949.4 1915.4,952.4 1916.2,956.4 1917,960 1917.8,962.3 1918.6,965.2 1919.4,969.2 1920.2,971.9 1921,974.9 1921.8,978 1922.6,980.6 1923.4,983.2 1924.2,986.6 1925,991.1 1925.8,994.4 1926.6,997.5 1927.4,1000.8 1928.2,1003 1929,1004.5 1929.8,1004.7 1930.6,1004.1 1931.4,1002.6 1932.2,999.6 1933,996.6 1933.8,994 1934.6,990.3 1935.4,986.8 1936.2,983.4 1937,979.9 1937.8,977.1 1938.6,974.2 1939.4,971.1 1940.2,968.2 1941,965.5 1941.8,961.9 1942.6,958.8 1943.4,956.2 1944.2,952.3 1945,948.3 1945.8,945.7 1946.6,942.8 1947.4,940.1 1948.2,937.1 1949,934.2 1949.8,931.2 1950.6,927.9 1951.4,925.5 1952.2,922.4 1953,918.6 1953.8,914.6 1954.6,911.3 1955.4,909.6 1956.2,908.7 1957,907.7 1957.8,907.3 1958.6,909 1959.4,911.5 1960.2,913.6 1961,916.2 1961.8,919.5 1962.6,923.3 1963.4,927.5 1964.2,931.3 1965,934.1 1965.8,937 1966.6,939.9 1967.4,942.5 1968.2,945.2 1969,947.7 1969.8,951.2 1970.6,954.9 1971.4,957.7 1972.2,961 1973,964.2 1973.8,966.7 1974.6,969.3 1975.4,972.8 1976.2,975.6 1977,977.8 1977.8,980.6 1978.6,984 1979.4,987.9 1980.2,991.7 1981,994.9 1981.8,997.1 1982.6,999.2 1983.4,1001.6 1984.2,1002.8 1985,1002.2 1985.8,1001.3 1986.6,999.7 1987.4,996.8 1988.2,994.7 1989,991.7 1989.8,987.7 1990.6,984.3 1991.4,981 1992.2,978.7 1993,975.7 1993.8,972.5 1994.6,970.1 1995.4,967.8 1996.2,965.3 1997,962.1 1997.8,958.7 1998.6,955.9 1999.4,952.8 2000.2,949.6 2001,946.8 2001.8,943.6 2002.6,941.1 2003.4,938.4 2004.2,934.7 2005,931.5 2005.8,928.3 2006.6,925.5 2007.4,922.8 2008.2,919.2 2009,915.8 2009.8,912.6 2010.6,910.3 2011.4,910 2012.2,909.8 2013,910.2 2013.8,912.1 2014.6,914.1 2015.4,916.2 2016.2,919.8 2017,924.2 2017.8,927 2018.6,929.8 2019.4,933.8 2020.2,936.7 2021,939.7 2021.8,943 2022.6,945 2023.4,947.5 2024.2,951.3 2025,954.7 2025.8,957.7 2026.6,960.8 2027.4,963.8 2028.2,967.7 2029,971.4 2029.8,974.1 2030.6,976.6 2031.4,980 2032.2,983 2033,986.1 2033.8,990.7 2034.6,994.5 2035.4,997.5 2036.2,1000.9 2037,1004.2 2037.8,1006.6 2038.6,1008.5 2039.4,1009.4 2040.2,1009.3 2041,1008.3 2041.8,1005.8 2042.6,1002.6 2043.4,998.7 2044.2,995.3 2045,991.7 2045.8,988.5 2046.6,985.8 2047.4,982 2048.2,978.7 2049,975.7 2049.8,971.9 2050.6,969.1 2051.4,965.8 2052.2,962 2053,959.2 2053.8,955.2 2054.6,951.2 2055.4,948.1 2056.2,945.3 2057,941.9 2057.8,938.5 2058.6,935.2 2059.4,931.7 2060.2,927.8 2061,924.1 2061.8,921.1 2062.6,917 2063.4,912.4 2064.2,908.6 2065,905.8 2065.8,904.2 2066.6,903.7 2067.4,903.6 2068.2,904.4 2069,907 2069.8,911.3 2070.6,915.1 2071.4,918.7 2072.2,923.3 2073,927.8 2073.8,932 2074.6,935.2 2075.4,937.9 2076.2,941.8 2077,945.9 2077.8,950 2078.6,953.6 2079.4,957.6 2080.2,962.1 2081,966.1 2081.8,969.3 2082.6,972.9 2083.4,977.3 2084.2,980.5 2085,983.6 2085.8,987.5 2086.6,991.6 2087.4,996.6 2088.2,1001.2 2089,1004.9 2089.8,1008.6 2090.6,1012 2091.4,1014.5 2092.2,1014.7 2093,1013.1 2093.8,1010.6 2094.6,1007.8 2095.4,1004.8 2096.2,1000.8 2097,995.6 2097.8,991.1 2098.6,987.6 2099.4,983.5 2100.2,979 2101,975.4 2101.8,972.4 2102.6,968.5 2103.4,963.9 2104.2,960.3 2105,956.7 2105.8,952.6 2106.6,947.9 2107.4,943.7 2108.2,939.6 2109,935.6 2109.8,931.8 2110.6,928.5 2111.4,924.6 2112.2,919.7 2113,915.5 2113.8,911.3 2114.6,907.1 2115.4,902.9 2116.2,899.5 2117,899 2117.8,899.5 2118.6,900.2 2119.4,902.1 2120.2,905.9 2121,910 2121.8,913.8 2122.6,918.9 2123.4,924 2124.2,928.2 2125,931.9 2125.8,935.7 2126.6,939.7 2127.4,943.3 2128.2,947.3 2129,951.7 2129.8,955.1 2130.6,959.5 2131.4,964.2 2132.2,967.9 2133,972.4 2133.8,977 2134.6,980.3 2135.4,983.1 2136.2,986.8 2137,991 2137.8,996 2138.6,1001.4 2139.4,1005.9 2140.2,1010.2 2141,1013.8 2141.8,1015.8 2142.6,1017 2143.4,1017.3 2144.2,1014.9 2145,1011.7 2145.8,1008.3 2146.6,1004.1 2147.4,999.4 2148.2,995.2 2149,991.5 2149.8,986.8 2150.6,982.1 2151.4,979.2 2152.2,975.5 2153,971.3 2153.8,967.7 2154.6,963.1 2155.4,959.1 2156.2,955 2157,951 2157.8,947.2 2158.6,942.7 2159.4,938.6 2160.2,935.2 2161,931.7 2161.8,927.3 2162.6,922.1 2163.4,918.2 2164.2,913.7 2165,908.5 2165.8,904.6 2166.6,901.9 2167.4,899.5 2168.2,898.8 2169,899.2 2169.8,900.2 2170.6,903.2 2171.4,907.6 2172.2,913 2173,917.8 2173.8,921.7 2174.6,926.1 2175.4,930.2 2176.2,934 2177,938.2 2177.8,941.6 2178.6,946.1 2179.4,950.8 2180.2,954.3 2181,958.6 2181.8,964 2182.6,968.1 2183.4,972 2184.2,975.8 2185,979.8 2185.8,983.4 2186.6,986.9 2187.4,991.5 2188.2,996.8 2189,1002 2189.8,1006.8 2190.6,1010.4 2191.4,1013.5 2192.2,1016.6 2193,1019.1 2193.8,1019.6 2194.6,1018.2 2195.4,1016.6 2196.2,1013.6 2197,1009.1 2197.8,1004.8 2198.6,1000.4 2199.4,995.8 2200.2,990.7 2201,985.9 2201.8,982.2 2202.6,978.1 2203.4,974 2204.2,969.7 2205,965.9 2205.8,962.4 2206.6,957.8 2207.4,952.6 2208.2,948.6 2209,944.6 2209.8,940.7 2210.6,936.7 2211.4,932.4 2212.2,928.6 2213,924.3 2213.8,919.7 2214.6,915.2 2215.4,911 2216.2,906.9 2217,903.6 2217.8,901 2218.6,899.5 2219.4,899.4 2220.2,900.3 2221,902.8 2221.8,906.3 2222.6,909.9 2223.4,914.1 2224.2,918.7 2225,923.9 2225.8,929.2 2226.6,933 2227.4,936.7 2228.2,940.4 2229,943.6 2229.8,947.3 2230.6,951.5 2231.4,955.8 2232.2,960.1 2233,964.8 2233.8,968.9 2234.6,972.7 2235.4,977.3 2236.2,981.3 2237,984.6 2237.8,988.2 2238.6,992.1 2239.4,996.2 2240.2,1000.9 2241,1005.6 2241.8,1010.2 2242.6,1013.3 2243.4,1015.3 2244.2,1017.3 2245,1017 2245.8,1015 2246.6,1012.4 2247.4,1008.3 2248.2,1003.4 2249,998.7 2249.8,994.7 2250.6,990.3 2251.4,986.6 2252.2,982.8 2253,978.3 2253.8,975 2254.6,970.8 2255.4,966.2 2256.2,962.5 2257,958.2 2257.8,953.8 2258.6,949.3 2259.4,945.6 2260.2,941.5 2261,937.2 2261.8,934.1 2262.6,930.2 2263.4,926.4 2264.2,922.7 2265,917.9 2265.8,912.7 2266.6,908.5 2267.4,905.3 2268.2,901.4 2269,899.2 2269.8,899.3 2270.6,900.2 2271.4,901.6 2272.2,904.3 2273,908.3 2273.8,911.8 2274.6,916.6 2275.4,922 2276.2,925.8 2277,929.3 2277.8,933 2278.6,936.5 2279.4,941 2280.2,944.8 2281,948.6 2281.8,952.6 2282.6,956.7 2283.4,961.5 2284.2,965.1 2285,969.5 2285.8,973.7 2286.6,976.8 2287.4,980.5 2288.2,984.6 2289,988.5 2289.8,992.1 2290.6,996.1 2291.4,1000.5 2292.2,1004.6 2293,1008.3 2293.8,1012 2294.6,1014.3 2295.4,1014.7 2296.2,1013.4 2297,1011.1 2297.8,1008.4 2298.6,1003.9 2299.4,999.5 2300.2,995.6 2301,991 2301.8,986 2302.6,982.1 2303.4,978.7 2304.2,975.1 2305,971.3 2305.8,967.2 2306.6,963.4 2307.4,959.1 2308.2,954.4 2309,950.6 2309.8,946.7 2310.6,941.9 2311.4,937.9 2312.2,934.8 2313,931.9 2313.8,927.9 2314.6,923.2 2315.4,918.3 2316.2,914.1 2317,909.8 2317.8,905.5 2318.6,902.2 2319.4,899.4 2320.2,897.4 2321,897 2321.8,898.3 2322.6,901.3 2323.4,905 2324.2,908.6 2325,913.2 2325.8,918 2326.6,921.3 2327.4,925.4 2328.2,929.5 2329,933 2329.8,936.7 2330.6,940.5 2331.4,944.5 2332.2,948.1 2333,951.6 2333.8,955.7 2334.6,960.3 2335.4,965.1 2336.2,968.5 2337,971.6 2337.8,975.6 2338.6,980.1 2339.4,984.8 2340.2,988.5 2341,992.5 2341.8,997.7 2342.6,1002.5 2343.4,1006.1 2344.2,1010.1 2345,1013.1 2345.8,1014.2 2346.6,1013.4 2347.4,1011.5 2348.2,1008.9 2349,1005 2349.8,1000.7 2350.6,995.8 2351.4,990.9 2352.2,985.4 2353,980.1 2353.8,976.6 2354.6,972.6 2355.4,968.3 2356.2,964.5 2357,960.1 2357.8,955.3 2358.6,949.6 2359.4,945.2 2360.2,941.4 2361,936 2361.8,931.1 2362.6,927.5 2363.4,923.3 2364.2,918.1 2365,913.3 2365.8,908.1 2366.6,902.4 2367.4,897.3 2368.2,892 2369,887.3 2369.8,884.1 2370.6,881.8 2371.4,880.9 2372.2,882 2373,884.9 2373.8,889.5 2374.6,894.8 2375.4,899.9 2376.2,905.3 2377,911.5 2377.8,917.2 2378.6,922.2 2379.4,927.6 2380.2,932.5 2381,937.8 2381.8,944 2382.6,949.9 2383.4,956.6 2384.2,963.2 2385,969.2 2385.8,974.5 2386.6,980.3 2387.4,987 2388.2,992.2 2389,997.9 2389.8,1004.5 2390.6,1009.5 2391.4,1014.4 2392.2,1018.3 2393,1020.8 2393.8,1022.3 2394.6,1022.8 2395.4,1022.4 2396.2,1020.4 2397,1017 2397.8,1012.7 2398.6,1008.3 2399.4,1003.6 2400.2,997.9 2401,992.4 2401.8,987.4 2402.6,981.3 2403.4,975.3 2404.2,969.3 2405,961.6 2405.8,954.4 2406.6,947.9 2407.4,941.2 2408.2,934.9 2409,927.9 2409.8,920.4 2410.6,913.6 2411.4,908.6 2412.2,904.3 2413,898.5 2413.8,893.5 2414.6,890.5 2415.4,888 2416.2,886.1 2417,886.1 2417.8,887.1 2418.6,887.4 2419.4,888.3 2420.2,890.6 2421,893.5 2421.8,897.4 2422.6,902.3 2423.4,908.2 2424.2,914.3 2425,919.7 2425.8,925.7 2426.6,933.1 2427.4,940.7 2428.2,948 2429,955.7 2429.8,962.8 2430.6,969.5 2431.4,976.7 2432.2,984.6 2433,992 2433.8,997.7 2434.6,1002.9 2435.4,1007.8 2436.2,1012.4 2437,1016.8 2437.8,1019.5 2438.6,1021 2439.4,1022.4 2440.2,1024 2441,1024.9 2441.8,1024.1 2442.6,1021.6 2443.4,1018.8 2444.2,1015.8 2445,1011.8 2445.8,1007.7 2446.6,1002.3 2447.4,996.7 2448.2,990.4 2449,982.8 2449.8,975.8 2450.6,968.9 2451.4,961.5 2452.2,953.6 2453,945.8" fill="none" stroke="#0000ff" stroke-width="4.8" stroke-linejoin="round" />
<polyline points="169,950.4 170,943.6 171,936.9 172,930.2 173,923.8 174,917.6 175,911.8 176,906.3 177,901.2 178,896.3 179,892.1 180,888.4 181,885.2 182,882.6 183,880.7 184,879.3 185,878.6 186,878.7 187,879.4 188,880.6 189,882.5 190,885.2 191,888.5 192,892.2 193,896.3 194,901.1 195,906.4 196,911.8 197,917.6 198,923.9 199,930.4 200,937 201,943.6 202,950.4 203,957.1 204,963.8 205,970.7 206,977.3 207,983.7 208,989.9 209,995.6 210,1001.1 211,1006.7 212,1011.8 213,1016.5 214,1020.7 215,1024.6 216,1028 217,1031.1 218,1033.9 219,1035.9 220,1037.6 221,1039 222,1039.8 223,1040.3 224,1040.4 225,1040 226,1039 227,1037.6 228,1036.1 229,1033.9 230,1031.1 231,1028.3 232,1024.7 233,1020.8 234,1016.8 235,1012.3 236,1007.4 237,1002 238,996.4 239,990.5 240,984.2 241,978.1 242,971.7 243,965.1 244,958.5 245,951.8 246,945 247,938.3 248,931.8 249,925.7 250,919.7 251,913.9 252,908.3 253,903.2 254,898.7 255,894.5 256,890.7 257,887.7 258,885.1 259,883 260,881.8 261,881.2 262,881.1 263,881.7 264,883.1 265,884.7 266,887.3 267,890.5 268,893.8 269,897.8 270,902.6 271,907.7 272,912.9 273,918.4 274,924.4 275,930.8 276,937.2 277,943.7 278,950.4 279,957 280,963.6 281,970.2 282,976.6 283,982.9 284,988.8 285,994.6 286,1000.1 287,1005.5 288,1010.2 289,1014.7 290,1019.1 291,1022.7 292,1025.8 293,1028.9 294,1031.7 295,1033.7 296,1035.5 297,1036.9 298,1037.7 299,1038.4 300,1038.3 301,1037.8 302,1036.9 303,1035.4 304,1033.7 305,1031.7 306,1029 307,1025.9 308,1022.6 309,1019 310,1014.6 311,1009.9 312,1005.2 313,999.9 314,994.3 315,988.5 316,982.3 317,975.8 318,969.1 319,962.5 320,955.8 321,949.2 322,942.7 323,936 324,929.2 325,922.7 326,916.5 327,910.7 328,905.3 329,900 330,895.4 331,891.2 332,887.4 333,884.4 334,881.7 335,879.7 336,878.4 337,877.6 338,877.6 339,878.1 340,879.2 341,881.1 342,883.6 343,886.6 344,890 345,894.1 346,898.8 347,903.9 348,909.2 349,914.8 350,920.8 351,927.2 352,933.6 353,940.2 354,946.9 355,953.5 356,960.2 357,966.7 358,973.2 359,979.3 360,985.5 361,991.1 362,996.5 363,1001.7 364,1006.5 365,1011.1 366,1015.3 367,1019.3 368,1022.7 369,1025.7 370,1028.1 371,1030.3 372,1032.2 373,1033.5 374,1034.5 375,1034.9 376,1034.9 377,1034.6 378,1033.9 379,1032.9 380,1031.2 381,1029.1 382,1026.7 383,1023.9 384,1020.7 385,1017.2 386,1013.2 387,1008.8 388,1004 389,999.1 390,994 391,988.6 392,982.6 393,976.7 394,970.7 395,964.3 396,957.8 397,951.4 398,945 399,938.8 400,932.6 401,926.3 402,920.3 403,914.7 404,909.4 405,904.5 406,899.8 407,895.4 408,892 409,889 410,886.5 411,884.5 412,883.1 413,882.4 414,882.4 415,883.1 416,884.2 417,886.2 418,888.6 419,891.6 420,895.2 421,899.3 422,904 423,909.3 424,914.8 425,920.5 426,926.7 427,933.2 428,940 429,946.9 430,953.6 431,960.2 432,967.1 433,974 434,980.7 435,987.2 436,993.5 437,999.8 438,1005.7 439,1011.3 440,1016.6 441,1021.2 442,1025.7 443,1030 444,1033.7 445,1036.8 446,1039.5 447,1042.2 448,1044.2 449,1045.6 450,1046.5 451,1047 452,1047.2 453,1046.9 454,1046.1 455,1044.6 456,1042.9 457,1040.7 458,1038.1 459,1035.1 460,1031.7 461,1027.8 462,1023.5 463,1019 464,1014.2 465,1008.8 466,1003.3 467,997.4 468,991.2 469,984.8 470,978.4 471,971.7 472,965 473,958.4 474,951.8 475,945.1 476,938.4 477,932.1 478,926.1 479,920.2 480,914.7 481,909.7 482,905 483,900.7 484,897 485,893.8 486,891.4 487,889.6 488,888.2 489,887.3 490,887 491,887.5 492,888.5 493,890.5 494,892.9 495,895.5 496,898.6 497,902.6 498,906.9 499,911.9 500,917.2 501,922.6 502,928.4 503,934.4 504,940.8 505,947.2 506,953.6 507,960 508,966.5 509,972.9 510,979.1 511,985.6 512,991.7 513,997.5 514,1003.1 515,1008.3 516,1013.5 517,1018.3 518,1022.6 519,1026.6 520,1030.1 521,1033.2 522,1036 523,1038.4 524,1040.3 525,1041.8 526,1042.9 527,1043.5 528,1043.6 529,1043.3 530,1042.7 531,1041.4 532,1039.5 533,1037.4 534,1034.8 535,1031.7 536,1028.3 537,1024.3 538,1019.7 539,1015 540,1009.9 541,1004.5 542,998.9 543,992.7 544,986.4 545,980.1 546,973.3 547,966.3 548,959.4 549,952.6 550,945.7 551,938.9 552,932 553,925.4 554,919.2 555,913.4 556,907.7 557,902.4 558,897.4 559,892.9 560,888.8 561,885.4 562,882.6 563,880.7 564,879.3 565,878.5 566,878.1 567,878.6 568,879.7 569,881.7 570,884.5 571,887.7 572,891.7 573,896.4 574,901.7 575,907.6 576,913.8 577,920.4 578,927.2 579,934.1 580,941.4 581,949 582,956.6 583,964 584,971.3 585,978.7 586,985.9 587,992.6 588,999.2 589,1005.5 590,1011.4 591,1017 592,1022 593,1026.5 594,1030.3 595,1033.9 596,1037 597,1039.4 598,1041.1 599,1042.6 600,1043.4 601,1043.5 602,1043.1 603,1042.1 604,1040.7 605,1038.7 606,1035.9 607,1032.5 608,1028.8 609,1024.7 610,1020 611,1014.9 612,1008.9 613,1002.8 614,996.5 615,989.6 616,982.7 617,975.6 618,968 619,960.4 620,953 621,945.4 622,937.8 623,930.6 624,923.3 625,916.5 626,910 627,903.9 628,898.4 629,893.4 630,888.8 631,884.9 632,881.9 633,879.2 634,877.2 635,876.2 636,876 637,876.5 638,877.6 639,879.6 640,882.6 641,885.7 642,889.7 643,894.6 644,899.7 645,905.5 646,911.8 647,918.1 648,925 649,932.5 650,940.2 651,947.5 652,955 653,962.7 654,970.5 655,978.2 656,985.5 657,992.9 658,1000 659,1006.4 660,1012.6 661,1018.7 662,1024.1 663,1029 664,1033.2 665,1037.1 666,1040.6 667,1043.1 668,1045.2 669,1047 670,1047.8 671,1047.8 672,1047.7 673,1046.8 674,1044.9 675,1042.7 676,1040 677,1036.6 678,1032.5 679,1027.9 680,1022.8 681,1017.2 682,1010.9 683,1004.2 684,997.3 685,990.2 686,982.5 687,974.6 688,966.7 689,958.6 690,950.4 691,942.2 692,934.2 693,926.2 694,918.6 695,911.3 696,904.4 697,897.8 698,892 699,886.5 700,881.5 701,877.6 702,874.2 703,871.4 704,869.4 705,868.6 706,868.5 707,868.9 708,870 709,872.1 710,875.2 711,878.9 712,883.1 713,888.2 714,894 715,900.2 716,907 717,913.9 718,921.4 719,929.5 720,937.5 721,945.7 722,954.1 723,962.3 724,970.4 725,978.7 726,986.8 727,994.6 728,1002 729,1009.1 730,1015.9 731,1022.4 732,1028.2 733,1033.7 734,1038.6 735,1042.8 736,1046.3 737,1049.1 738,1051.6 739,1053.2 740,1054.1 741,1054.5 742,1054 743,1052.9 744,1051.2 745,1048.9 746,1045.8 747,1042.2 748,1037.9 749,1032.9 750,1027.5 751,1021.7 752,1015.3 753,1008.5 754,1001.4 755,993.8 756,985.8 757,977.8 758,969.5 759,961.2 760,952.9 761,944.8 762,936.8 763,929 764,921.4 765,914.1 766,907.3 767,901 768,895.2 769,889.8 770,885.1 771,881.1 772,877.9 773,875.4 774,873.6 775,872.6 776,872.2 777,872.6 778,873.9 779,876.3 780,879.4 781,883 782,887.3 783,892.3 784,897.8 785,904.1 786,910.6 787,917.6 788,925.2 789,933 790,941 791,949.1 792,957.5 793,965.7 794,973.8 795,982.1 796,990.1 797,997.9 798,1005.7 799,1012.9 800,1019.8 801,1025.8 802,1031.5 803,1037.1 804,1041.9 805,1046 806,1049.8 807,1052.7 808,1054.8 809,1056.6 810,1057.4 811,1057.6 812,1057.1 813,1056 814,1054.2 815,1051.8 816,1048.7 817,1044.9 818,1040.6 819,1035.7 820,1030.3 821,1024.2 822,1017.8 823,1011.2 824,1004.2 825,996.6 826,989 827,981.1 828,973.1 829,964.9 830,956.8 831,948.9 832,940.9 833,933.3 834,926 835,919 836,912.6 837,906.4 838,900.6 839,895.4 840,890.9 841,887.3 842,884.2 843,881.6 844,879.8 845,878.9 846,878.8 847,879.1 848,880.3 849,882.3 850,885.1 851,888.7 852,892.7 853,897.3 854,902.4 855,908.3 856,914.6 857,921.3 858,928.4 859,936 860,943.9 861,951.5 862,959.5 863,967.5 864,975.5 865,983.5 866,991.3 867,998.9 868,1006.3 869,1013.3 870,1019.8 871,1026.2 872,1032.2 873,1037.3 874,1042 875,1046.4 876,1049.9 877,1052.8 878,1054.9 879,1056.6 880,1057.6 881,1057.7 882,1057.2 883,1056.2 884,1054.3 885,1051.8 886,1048.7 887,1045.1 888,1040.9 889,1036 890,1030.6 891,1024.8 892,1018.4 893,1011.6 894,1004.6 895,997.2 896,989.6 897,981.8 898,973.7 899,965.6 900,957.7 901,949.9 902,942.1 903,934.6 904,927.3 905,920.1 906,913.4 907,907.6 908,902.1 909,897.1 910,892.6 911,888.7 912,885.3 913,882.6 914,880.9 915,880 916,879.9 917,880.3 918,881.4 919,883.4 920,886.1 921,889.1 922,893.1 923,897.7 924,902.8 925,908.6 926,914.5 927,921.1 928,928.2 929,935.2 930,942.9 931,950.8 932,958.5 933,966.2 934,974.2 935,982.2 936,989.9 937,997.3 938,1004.6 939,1011.7 940,1018.3 941,1024.5 942,1030.4 943,1035.6 944,1040.4 945,1044.8 946,1048.4 947,1051.2 948,1053.3 949,1055.1 950,1056 951,1056.2 952,1055.9 953,1055 954,1053.1 955,1050.7 956,1047.4 957,1043.5 958,1039.1 959,1034.1 960,1028.4 961,1022.1 962,1015.5 963,1008.3 964,1000.9 965,993 966,984.9 967,976.5 968,968.2 969,959.8 970,951 971,942.5 972,934.3 973,926 974,917.9 975,910.3 976,903.3 977,896.3 978,890 979,884.3 980,879.2 981,875 982,871.5 983,868.4 984,866.3 985,865.1 986,864.7 987,864.9 988,866.2 989,868.4 990,871.7 991,875.8 992,880.6 993,886.2 994,892.7 995,899.8 996,907.3 997,915.4 998,924 999,932.8 1000,941.8 1001,951.2 1002,960.5 1003,969.8 1004,979 1005,988.1 1006,997.1 1007,1005.4 1008,1013.2 1009,1021 1010,1027.9 1011,1034 1012,1039.5 1013,1044.5 1014,1048.7 1015,1051.9 1016,1054.1 1017,1055.6 1018,1056.3 1019,1056.1 1020,1055.1 1021,1053.1 1022,1050.3 1023,1046.8 1024,1042.3 1025,1037 1026,1030.9 1027,1024.2 1028,1017 1029,1009 1030,1000.6 1031,991.8 1032,982.5 1033,973 1034,963.3 1035,953.4 1036,943.7 1037,934.2 1038,924.8 1039,915.4 1040,906.5 1041,898.1 1042,890.4 1043,883 1044,876.4 1045,870.6 1046,865.5 1047,861.4 1048,858.3 1049,855.9 1050,854.4 1051,854 1052,854.8 1053,856.8 1054,859.5 1055,863 1056,867.5 1057,872.6 1058,878.5 1059,885.6 1060,893.3 1061,901.3 1062,909.9 1063,919 1064,928.5 1065,938 1066,947.8 1067,957.5 1068,967.4 1069,976.9 1070,986.3 1071,995.4 1072,1004.1 1073,1012.4 1074,1020 1075,1026.9 1076,1033.1 1077,1038.8 1078,1043.9 1079,1047.8 1080,1051 1081,1053.4 1082,1054.6 1083,1055 1084,1054.8 1085,1053.5 1086,1051.1 1087,1048.1 1088,1043.8 1089,1038.6 1090,1033.1 1091,1026.7 1092,1019.3 1093,1011.5 1094,1003.2 1095,994.2 1096,984.9 1097,975.3 1098,965.3 1099,955.1 1100,945 1101,934.8 1102,924.6 1103,914.6 1104,905.1 1105,895.9 1106,887.4 1107,879.5 1108,871.9 1109,865.3 1110,859.4 1111,854.4 1112,850.4 1113,847.3 1114,845.3 1115,844.1 1116,844 1117,845.2 1118,847.3 1119,850.2 1120,854.3 1121,859.3 1122,865.2 1123,871.7 1124,879.1 1125,887.4 1126,896 1127,905 1128,914.4 1129,924.5 1130,934.4 1131,944.6 1132,954.9 1133,964.9 1134,975 1135,984.8 1136,994 1137,1002.8 1138,1011.2 1139,1018.8 1140,1026 1141,1032.6 1142,1038.3 1143,1043.1 1144,1046.9 1145,1049.9 1146,1052.2 1147,1053.3 1148,1053.3 1149,1052.5 1150,1051 1151,1048.3 1152,1044.7 1153,1040.2 1154,1034.8 1155,1028.8 1156,1021.9 1157,1014.3 1158,1005.9 1159,997.2 1160,987.9 1161,978.1 1162,968.2 1163,958 1164,947.6 1165,937.3 1166,926.7 1167,916.4 1168,906.5 1169,896.9 1170,887.9 1171,879.4 1172,871.3 1173,864.1 1174,857.7 1175,851.9 1176,847.2 1177,843.6 1178,840.8 1179,839 1180,838.2 1181,838.6 1182,840.1 1183,842.7 1184,846 1185,850.1 1186,855.3 1187,861.6 1188,868.3 1189,875.7 1190,883.9 1191,892.7 1192,901.6 1193,911 1194,920.8 1195,930.8 1196,940.8 1197,950.8 1198,960.6 1199,970.3 1200,979.8 1201,988.7 1202,997.3 1203,1005.1 1204,1012.3 1205,1018.9 1206,1025 1207,1030.5 1208,1034.9 1209,1038.5 1210,1041.5 1211,1043.1 1212,1044 1213,1044.2 1214,1043.1 1215,1041.2 1216,1038.5 1217,1035.1 1218,1030.6 1219,1025.1 1220,1019.3 1221,1012.6 1222,1005 1223,997.3 1224,988.7 1225,979.8 1226,970.4 1227,960.8 1228,950.9 1229,940.7 1230,930.6 1231,920.9 1232,911.1 1233,901.4 1234,892.4 1235,883.7 1236,875.3 1237,867.8 1238,861.2 1239,855.1 1240,849.8 1241,845.2 1242,841.7 1243,839.4 1244,838.1 1245,837.5 1246,838 1247,839.8 1248,842.4 1249,845.9 1250,850.6 1251,856.2 1252,862.6 1253,869.6 1254,877.4 1255,886 1256,895.3 1257,904.5 1258,914 1259,924 1260,934.3 1261,944.8 1262,955.2 1263,965.2 1264,974.9 1265,984.5 1266,994 1267,1002.6 1268,1010.7 1269,1018.3 1270,1025 1271,1031 1272,1036.3 1273,1040.7 1274,1044.2 1275,1046.7 1276,1048.4 1277,1049.2 1278,1049 1279,1047.7 1280,1045.7 1281,1042.8 1282,1038.7 1283,1033.9 1284,1028.3 1285,1022 1286,1015.1 1287,1007.4 1288,998.9 1289,989.8 1290,980.6 1291,970.9 1292,960.9 1293,951 1294,940.9 1295,930.6 1296,920.6 1297,910.8 1298,901.1 1299,891.9 1300,883.3 1301,875.3 1302,867.8 1303,861 1304,855.2 1305,850.2 1306,846.2 1307,843.3 1308,841 1309,839.9 1310,839.6 1311,840.3 1312,842.3 1313,844.9 1314,848.8 1315,853.7 1316,859.1 1317,865.2 1318,872.3 1319,880.2 1320,888.5 1321,897.2 1322,906.1 1323,915.7 1324,925.4 1325,935.1 1326,944.9 1327,954.8 1328,964.6 1329,973.9 1330,982.8 1331,991.7 1332,999.8 1333,1007.3 1334,1014.4 1335,1020.6 1336,1026.3 1337,1031 1338,1035 1339,1038.4 1340,1040.5 1341,1041.7 1342,1042.2 1343,1041.9 1344,1040.7 1345,1038.4 1346,1035.2 1347,1031.3 1348,1026.6 1349,1021 1350,1014.6 1351,1007.4 1352,999.7 1353,991.5 1354,982.8 1355,973.7 1356,964 1357,954 1358,943.8 1359,933.6 1360,923.3 1361,913.1 1362,903.2 1363,893.7 1364,884.4 1365,875.5 1366,867.3 1367,859.8 1368,853.1 1369,847.2 1370,842 1371,837.9 1372,834.5 1373,832.4 1374,831.5 1375,831.6 1376,832.8 1377,835.3 1378,839.1 1379,844.1 1380,850.2 1381,857.6 1382,865.9 1383,875 1384,884.8 1385,895.3 1386,906.4 1387,917.9 1388,929.9 1389,941.8 1390,953.8 1391,965.8 1392,977.3 1393,988.7 1394,999.6 1395,1009.6 1396,1018.9 1397,1027.6 1398,1035.4 1399,1042.2 1400,1047.8 1401,1052.1 1402,1055.4 1403,1057.7 1404,1058.7 1405,1058.4 1406,1056.9 1407,1054.2 1408,1050.3 1409,1045.4 1410,1039.1 1411,1031.8 1412,1023.8 1413,1014.9 1414,1005.1 1415,994.7 1416,983.7 1417,972.2 1418,960.1 1419,947.8 1420,935.7 1421,923.6 1422,911.7 1423,900.1 1424,889 1425,878.5 1426,868.5 1427,859.5 1428,851.4 1429,844.1 1430,838.2 1431,833.6 1432,830.3 1433,827.9 1434,826.9 1435,827.4 1436,829 1437,832.2 1438,836.6 1439,842.2 1440,848.9 1441,856.6 1442,865.2 1443,874.8 1444,885.1 1445,896.2 1446,907.9 1447,919.6 1448,931.5 1449,943.6 1450,955.5 1451,967.5 1452,979 1453,990.3 1454,1001 1455,1010.8 1456,1019.8 1457,1028.1 1458,1035.6 1459,1041.8 1460,1047 1461,1051.2 1462,1054.1 1463,1055.8 1464,1056.2 1465,1055.7 1466,1053.8 1467,1050.7 1468,1046.5 1469,1041.2 1470,1034.8 1471,1027.3 1472,1018.8 1473,1009.4 1474,999.5 1475,988.9 1476,977.5 1477,965.5 1478,953.5 1479,941.3 1480,928.9 1481,916.5 1482,904.7 1483,893 1484,881.7 1485,871.3 1486,861.6 1487,852.6 1488,844.5 1489,837.7 1490,831.9 1491,827.5 1492,824.5 1493,822.7 1494,822.2 1495,823.2 1496,825.8 1497,829.3 1498,834 1499,840.1 1500,847.7 1501,856.2 1502,865.4 1503,875.8 1504,886.7 1505,898.3 1506,910.5 1507,923 1508,935.4 1509,948.1 1510,960.7 1511,973.1 1512,984.8 1513,996.2 1514,1007.2 1515,1017.3 1516,1026.6 1517,1034.8 1518,1042 1519,1048.4 1520,1053.3 1521,1057.2 1522,1059.9 1523,1061.4 1524,1061.6 1525,1060.4 1526,1058.3 1527,1054.6 1528,1049.8 1529,1044 1530,1037.1 1531,1029.2 1532,1020.3 1533,1010.7 1534,1000.4 1535,989.3 1536,977.7 1537,965.5 1538,953.3 1539,940.8 1540,928.1 1541,915.9 1542,904.1 1543,892.7 1544,881.6 1545,871.3 1546,861.6 1547,853 1548,845.6 1549,839.4 1550,833.9 1551,829.8 1552,827.2 1553,825.8 1554,825.8 1555,827.1 1556,829.9 1557,833.9 1558,839.2 1559,845.6 1560,853.1 1561,861.7 1562,871.3 1563,881.3 1564,892.1 1565,903.6 1566,915.5 1567,927.6 1568,940 1569,952.1 1570,964.4 1571,976.3 1572,987.6 1573,998.5 1574,1009.1 1575,1018.7 1576,1027.3 1577,1035 1578,1041.9 1579,1047.5 1580,1052.1 1581,1055.5 1582,1057.8 1583,1058.8 1584,1058.7 1585,1057.5 1586,1054.6 1587,1050.6 1588,1045.5 1589,1039.5 1590,1032.3 1591,1023.9 1592,1014.6 1593,1004.5 1594,994 1595,982.6 1596,970.7 1597,958.6 1598,946.2 1599,933.7 1600,921.1 1601,908.6 1602,896.7 1603,885 1604,873.9 1605,863.8 1606,854.5 1607,845.9 1608,838.5 1609,832.6 1610,827.7 1611,823.9 1612,821.5 1613,820.5 1614,821 1615,822.7 1616,825.7 1617,830.2 1618,835.8 1619,842.6 1620,850.6 1621,859.8 1622,869.8 1623,880.1 1624,891.1 1625,903 1626,915.2 1627,927.6 1628,940.2 1629,952.4 1630,964.7 1631,976.7 1632,988 1633,998.8 1634,1009 1635,1018.4 1636,1026.9 1637,1034.4 1638,1040.9 1639,1046.6 1640,1050.9 1641,1054 1642,1055.9 1643,1056.6 1644,1055.8 1645,1053.8 1646,1050.8 1647,1046.7 1648,1041.6 1649,1034.8 1650,1027.3 1651,1019 1652,1009.4 1653,999.4 1654,988.7 1655,977.1 1656,965.3 1657,953.1 1658,940.7 1659,928.3 1660,916.1 1661,904 1662,892.1 1663,881 1664,870.5 1665,860.8 1666,852 1667,843.9 1668,836.9 1669,831.2 1670,826.5 1671,823.2 1672,821.3 1673,820.7 1674,821.5 1675,823.7 1676,827.1 1677,831.9 1678,838 1679,845 1680,853 1681,862.2 1682,872.1 1683,882.7 1684,893.9 1685,905.8 1686,918 1687,930.1 1688,942.2 1689,954.4 1690,966.6 1691,978.1 1692,989.4 1693,999.9 1694,1009.9 1695,1019.2 1696,1027.3 1697,1034.4 1698,1040.8 1699,1045.9 1700,1049.9 1701,1052.8 1702,1054.1 1703,1054.3 1704,1053.5 1705,1051.4 1706,1047.9 1707,1043.3 1708,1037.6 1709,1031 1710,1023.3 1711,1014.5 1712,1004.8 1713,994.3 1714,983.4 1715,971.6 1716,959.6 1717,947.1 1718,934.4 1719,921.8 1720,909.1 1721,896.6 1722,884.7 1723,873.2 1724,862.2 1725,852 1726,842.9 1727,834.9 1728,828.2 1729,822.3 1730,817.8 1731,814.9 1732,813.3 1733,812.8 1734,814.1 1735,817.3 1736,821.8 1737,827.7 1738,835.4 1739,844.5 1740,854.7 1741,866 1742,878.4 1743,891.7 1744,905.5 1745,919.6 1746,933.9 1747,948.3 1748,962.6 1749,976.3 1750,989.9 1751,1002.7 1752,1014.5 1753,1025.4 1754,1035.3 1755,1044.1 1756,1051.4 1757,1057.1 1758,1061.6 1759,1064.4 1760,1065.6 1761,1065.1 1762,1063 1763,1059.4 1764,1054.3 1765,1047.7 1766,1039.8 1767,1030.4 1768,1019.8 1769,1008.1 1770,995.6 1771,982.2 1772,967.9 1773,953.2 1774,938.3 1775,923.4 1776,908.4 1777,893.7 1778,879.4 1779,866 1780,853.7 1781,842 1782,831.6 1783,822.8 1784,815.5 1785,809.9 1786,805.9 1787,803.5 1788,803.1 1789,804.4 1790,807.4 1791,812.6 1792,819.4 1793,827.6 1794,837.2 1795,848.2 1796,860.5 1797,873.8 1798,887.7 1799,902.3 1800,917.4 1801,932.5 1802,947.8 1803,963 1804,977.7 1805,991.8 1806,1005.1 1807,1017.6 1808,1029.4 1809,1039.9 1810,1048.7 1811,1056.2 1812,1062.3 1813,1066.9 1814,1069.8 1815,1071.3 1816,1071.1 1817,1069 1818,1065.5 1819,1060.2 1820,1053.3 1821,1045.2 1822,1035.9 1823,1025.2 1824,1013.3 1825,1000.5 1826,986.7 1827,972.4 1828,957.7 1829,942.8 1830,928 1831,913 1832,898.5 1833,884.5 1834,870.9 1835,858.5 1836,847 1837,836.8 1838,828.2 1839,820.7 1840,814.7 1841,810.5 1842,808.3 1843,807.8 1844,809 1845,811.8 1846,816.2 1847,822.3 1848,830 1849,839.2 1850,849.5 1851,861 1852,873.5 1853,886.9 1854,900.7 1855,915 1856,929.5 1857,943.9 1858,958.4 1859,972.6 1860,986.2 1861,998.9 1862,1010.9 1863,1021.9 1864,1031.8 1865,1040.5 1866,1047.7 1867,1053.7 1868,1058.2 1869,1061.2 1870,1062.6 1871,1062.7 1872,1061.1 1873,1057.9 1874,1053.1 1875,1047 1876,1039.5 1877,1030.7 1878,1020.5 1879,1009.3 1880,997.2 1881,984.2 1882,970.3 1883,956.2 1884,941.8 1885,927 1886,912.5 1887,898.2 1888,884.5 1889,871.4 1890,858.9 1891,847.3 1892,837.2 1893,828.3 1894,820.8 1895,814.7 1896,810.1 1897,807.6 1898,807 1899,808 1900,810.4 1901,814.7 1902,820.9 1903,828.4 1904,837.5 1905,848 1906,859.5 1907,872.2 1908,885.8 1909,899.8 1910,914.7 1911,929.9 1912,944.7 1913,959.5 1914,974.2 1915,988.4 1916,1001.7 1917,1014.4 1918,1026.2 1919,1036.6 1920,1045.8 1921,1053.8 1922,1060.2 1923,1065.1 1924,1068.5 1925,1070.2 1926,1070.2 1927,1068.6 1928,1065.6 1929,1060.9 1930,1054.8 1931,1047.3 1932,1038.2 1933,1028 1934,1016.7 1935,1004.2 1936,990.9 1937,977.3 1938,963 1939,948.2 1940,933.3 1941,918.5 1942,903.8 1943,889.4 1944,876.1 1945,863.4 1946,851.6 1947,841.2 1948,832 1949,824.1 1950,817.9 1951,813.4 1952,810.8 1953,809.6 1954,810.1 1955,812.6 1956,816.6 1957,822.4 1958,830 1959,838.8 1960,849 1961,860.2 1962,872.5 1963,886 1964,900.1 1965,914.5 1966,929.3 1967,944 1968,959 1969,973.5 1970,987.4 1971,1000.8 1972,1013.5 1973,1025.2 1974,1035.9 1975,1045.1 1976,1052.8 1977,1059.3 1978,1064.5 1979,1068.1 1980,1069.9 1981,1070.3 1982,1069.2 1983,1066.5 1984,1062 1985,1056 1986,1048.3 1987,1039.4 1988,1029.2 1989,1017.9 1990,1005.7 1991,992.5 1992,978.7 1993,964 1994,949 1995,933.9 1996,919 1997,904.3 1998,889.8 1999,876 2000,863 2001,850.7 2002,839.9 2003,830.4 2004,822.1 2005,815.4 2006,810.5 2007,807.3 2008,805.8 2009,806 2010,808 2011,812 2012,817.7 2013,824.9 2014,833.5 2015,843.4 2016,854.8 2017,867.3 2018,880.8 2019,895 2020,909.5 2021,924.5 2022,939.8 2023,954.9 2024,969.6 2025,984 2026,997.8 2027,1010.6 2028,1022.5 2029,1033.5 2030,1043.3 2031,1051.6 2032,1058.5 2033,1063.9 2034,1067.6 2035,1070 2036,1070.6 2037,1069.5 2038,1066.8 2039,1062.5 2040,1056.5 2041,1049.2 2042,1040.5 2043,1030.3 2044,1019.2 2045,1006.9 2046,993.4 2047,979.4 2048,964.7 2049,949.6 2050,934.3 2051,918.9 2052,903.6 2053,888.6 2054,874.1 2055,860.5 2056,847.7 2057,835.9 2058,825.8 2059,817.1 2060,809.9 2061,804.5 2062,800.5 2063,798.6 2064,798.8 2065,801.1 2066,805.6 2067,812 2068,820.4 2069,831.2 2070,843.6 2071,857.4 2072,872.5 2073,888.6 2074,905.8 2075,923.6 2076,941.4 2077,959.5 2078,977.2 2079,994.3 2080,1010.6 2081,1026.1 2082,1040.3 2083,1052.9 2084,1063.8 2085,1073.1 2086,1080.5 2087,1085.6 2088,1088.8 2089,1089.9 2090,1088.6 2091,1085.2 2092,1079.9 2093,1072.2 2094,1062.9 2095,1051.6 2096,1038.4 2097,1023.9 2098,1008.2 2099,991.5 2100,973.7 2101,955.2 2102,936.6 2103,918 2104,899.6 2105,881.5 2106,864.3 2107,848.4 2108,834 2109,820.8 2110,809.5 2111,800.7 2112,793.8 2113,789.2 2114,786.9 2115,786.9 2116,789.4 2117,794.7 2118,802.1 2119,811.5 2120,822.7 2121,835.9 2122,850.8 2123,867.1 2124,884.5 2125,902.5 2126,921.2 2127,940.2 2128,959 2129,977.6 2130,995.5 2131,1012.3 2132,1028.1 2133,1042.8 2134,1055.7 2135,1066.8 2136,1076.1 2137,1083.5 2138,1088.6 2139,1091.7 2140,1092.7 2141,1091.6 2142,1087.9 2143,1082 2144,1074.3 2145,1064.6 2146,1053 2147,1039.5 2148,1024.7 2149,1008.5 2150,991.3 2151,973.5 2152,955 2153,935.8 2154,916.8 2155,898.3 2156,880.2 2157,863.1 2158,847.1 2159,832.6 2160,819.6 2161,808.3 2162,799.3 2163,792.6 2164,788.1 2165,785.9 2166,786 2167,788.6 2168,793.7 2169,801.2 2170,810.5 2171,821.7 2172,835 2173,849.8 2174,865.8 2175,882.7 2176,900.6 2177,919.1 2178,937.7 2179,956.1 2180,974.4 2181,991.8 2182,1008.4 2183,1024 2184,1038.1 2185,1050.9 2186,1061.8 2187,1070.8 2188,1078.1 2189,1083.4 2190,1086.4 2191,1087.2 2192,1086 2193,1082.6 2194,1077.1 2195,1069.3 2196,1059.6 2197,1048.4 2198,1035.4 2199,1020.9 2200,1005 2201,988.3 2202,970.7 2203,952.6 2204,934.1 2205,915.6 2206,897.5 2207,879.7 2208,862.6 2209,847.1 2210,833 2211,820 2212,809.2 2213,800.4 2214,793.4 2215,788.9 2216,786.7 2217,787 2218,789.8 2219,794.6 2220,801.8 2221,811.2 2222,822.5 2223,835.8 2224,850.6 2225,866.4 2226,883.4 2227,901.4 2228,920.1 2229,938.9 2230,957.4 2231,975.6 2232,993.4 2233,1010.2 2234,1025.7 2235,1040 2236,1053 2237,1064 2238,1073.3 2239,1080.7 2240,1085.8 2241,1088.9 2242,1089.8 2243,1088.3 2244,1084.9 2245,1079.2 2246,1071.7 2247,1062.2 2248,1050.4 2249,1037.3 2250,1022.7 2251,1006.7 2252,989.9 2253,972.1 2254,953.6 2255,934.9 2256,916.2 2257,897.6 2258,879.6 2259,862.5 2260,846.8 2261,832.4 2262,819.5 2263,808.6 2264,799.5 2265,792.7 2266,788.2 2267,785.9 2268,786.1 2269,788.7 2270,793.7 2271,801 2272,810.2 2273,821.8 2274,835 2275,849.8 2276,865.9 2277,883.2 2278,901 2279,919.3 2280,938.2 2281,956.8 2282,974.8 2283,992.5 2284,1009.3 2285,1025 2286,1039.3 2287,1051.8 2288,1063 2289,1072.3 2290,1079.4 2291,1084.5 2292,1087.6 2293,1088.6 2294,1087.2 2295,1083.7 2296,1078.1 2297,1070.3 2298,1060.7 2299,1049.4 2300,1036.2 2301,1021.4 2302,1005.6 2303,988.9 2304,970.9 2305,952.5 2306,934 2307,915.4 2308,897.1 2309,879.4 2310,862.7 2311,847 2312,832.4 2313,819.8 2314,808.9 2315,799.9 2316,793.2 2317,788.5 2318,786.3 2319,786.6 2320,789.4 2321,794.4 2322,801.5 2323,810.6 2324,821.8 2325,834.9 2326,849.6 2327,865.4 2328,882.4 2329,899.9 2330,918.2 2331,936.8 2332,955 2333,972.9 2334,990.5 2335,1007.2 2336,1022.7 2337,1036.8 2338,1049.3 2339,1060.3 2340,1069.4 2341,1076.7 2342,1082.1 2343,1084.9 2344,1085.7 2345,1084.4 2346,1080.9 2347,1075.5 2348,1068.1 2349,1058.6 2350,1047.1 2351,1034 2352,1019.6 2353,1003.8 2354,986.7 2355,968.8 2356,950.4 2357,931.7 2358,912.8 2359,894 2360,875.7 2361,858.3 2362,842 2363,827.1 2364,813.8 2365,802.5 2366,793 2367,785.7 2368,780.9 2369,778.3 2370,778.3 2371,781.4 2372,787.6 2373,796.7 2374,808.5 2375,822.9 2376,839.3 2377,857.6 2378,877.4 2379,898.7 2380,920.7 2381,942.9 2382,965.3 2383,987 2384,1007.7 2385,1027.5 2386,1045.7 2387,1062 2388,1076 2389,1087.4 2390,1096.4 2391,1102.8 2392,1106.1 2393,1106.4 2394,1103.5 2395,1097.9 2396,1089.4 2397,1078.2 2398,1064.7 2399,1048.5 2400,1030.1 2401,1010.3 2402,989 2403,966.4 2404,943.3 2405,920.2 2406,896.8 2407,874.2 2408,853 2409,832.8 2410,814.7 2411,799.2 2412,786.2 2413,775.7 2414,768.5 2415,764.9 2416,764.3 2417,766.9 2418,773.3 2419,782.7 2420,794.8 2421,809.9 2422,827.5 2423,847.2 2424,868.6 2425,891 2426,914.2 2427,938.1 2428,962 2429,985.6 2430,1008.1 2431,1029.2 2432,1048.5 2433,1066 2434,1081.5 2435,1094.4 2436,1104.1 2437,1111.3 2438,1115.5 2439,1116.3 2440,1114.5 2441,1109.4 2442,1101.2 2443,1090.2 2444,1076.4 2445,1060.3 2446,1042 2447,1021.6 2448,999.8 2449,976.8 2450,953.1 2451,929.1 2452,905 2453,881.4" fill="none" stroke="#ff0000" stroke-width="4.7" stroke-linejoin="round" />
<polyline points="169,940.5 169.6,939.1 170.2,941.9 170.8,941.5 171.4,941 172,942.3 172.6,944.4 173.2,940.9 173.8,941.3 174.4,944.3 175,943.5 175.6,942.3 176.2,943.4 176.8,947.4 177.4,946.9 178,947.5 178.6,945.7 179.2,946.9 179.8,949.6 180.4,950.6 181,947.1 181.6,951.3 182.2,950.9 182.8,952 183.4,950.6 184,953.5 184.6,952.7 185.2,954.2 185.8,957.8 186.4,956.8 187,960 187.6,961.3 188.2,959 188.8,961.5 189.4,963.5 190,962.2 190.6,962.3 191.2,961.7 191.8,962.5 192.4,963.2 193,965.4 193.6,965.8 194.2,965.4 194.8,966.6 195.4,967.1 196,966 196.6,967.3 197.2,970.2 197.8,969.9 198.4,971 199,974.6 199.6,976.1 200.2,975.2 200.8,974.1 201.4,977.7 202,977.6 202.6,974.5 203.2,977.4 203.8,973 204.4,974.8 205,971.8 205.6,969.2 206.2,971.2 206.8,969.4 207.4,966.2 208,968.6 208.6,968 209.2,965.2 209.8,963.9 210.4,965.2 211,966.4 211.6,963.9 212.2,966 212.8,966 213.4,964.6 214,961.9 214.6,962.2 215.2,963.7 215.8,964.7 216.4,964.3 217,962.3 217.6,962.2 218.2,961.8 218.8,963.1 219.4,959.8 220,960.2 220.6,959 221.2,959.8 221.8,960.9 222.4,958 223,958.2 223.6,959.6 224.2,959 224.8,957 225.4,954.5 226,955.9 226.6,954.2 227.2,953.6 227.8,953.9 228.4,952.5 229,952.5 229.6,950.9 230.2,948.1 230.8,946.6 231.4,947.6 232,944.1 232.6,943.2 233.2,940.4 233.8,939.7 234.4,939.9 235,938.5 235.6,939.9 236.2,935.4 236.8,934.9 237.4,935.6 238,936.1 238.6,934 239.2,934.5 239.8,933.3 240.4,934.1 241,934.6 241.6,934.4 242.2,932.8 242.8,933.4 243.4,936.4 244,936.7 244.6,936.5 245.2,937.3 245.8,937.9 246.4,937.4 247,940 247.6,941.2 248.2,941.4 248.8,939.1 249.4,940.8 250,942.5 250.6,944.5 251.2,940.8 251.8,941.3 252.4,940.9 253,942.6 253.6,943.8 254.2,944.5 254.8,942.3 255.4,945.6 256,944.4 256.6,944.6 257.2,946.2 257.8,946.2 258.4,946.6 259,951.3 259.6,952.2 260.2,953.3 260.8,953.6 261.4,953.5 262,954.9 262.6,955.6 263.2,954.8 263.8,957.3 264.4,957.5 265,957.4 265.6,954.6 266.2,957 266.8,956.6 267.4,956.1 268,960.2 268.6,961.8 269.2,961.9 269.8,962.3 270.4,962.5 271,964.7 271.6,963.3 272.2,964.9 272.8,965.2 273.4,968.8 274,969.5 274.6,968.6 275.2,970.3 275.8,968.4 276.4,969.6 277,972.5 277.6,972.8 278.2,971.9 278.8,969.8 279.4,970.5 280,971.9 280.6,972.4 281.2,969.8 281.8,967.4 282.4,968.4 283,966.2 283.6,967.8 284.2,965.3 284.8,967.2 285.4,965.6 286,967.9 286.6,968.7 287.2,965.7 287.8,968.2 288.4,965.1 289,964.4 289.6,966.7 290.2,966.6 290.8,964.9 291.4,964 292,966.3 292.6,963.2 293.2,964.7 293.8,964.7 294.4,963.3 295,962.5 295.6,962.2 296.2,960.2 296.8,960.4 297.4,960.2 298,958.5 298.6,956.9 299.2,954.3 299.8,955 300.4,951.8 301,951 301.6,948.9 302.2,949.8 302.8,949.8 303.4,949.2 304,946.2 304.6,943.3 305.2,945.2 305.8,943.8 306.4,941 307,942 307.6,939.2 308.2,942.3 308.8,938.1 309.4,940.5 310,937.4 310.6,938.2 311.2,937.8 311.8,939 312.4,939.3 313,938.7 313.6,935.7 314.2,937.1 314.8,938.4 315.4,935.3 316,934.9 316.6,934.9 317.2,937.2 317.8,936.8 318.4,934.5 319,935.6 319.6,935.5 320.2,938.5 320.8,936.7 321.4,938.3 322,938.8 322.6,939.6 323.2,939.9 323.8,939.5 324.4,937.6 325,938.5 325.6,939.2 326.2,940.3 326.8,941.4 327.4,940.4 328,939.8 328.6,942 329.2,944.2 329.8,941 330.4,943.4 331,945.4 331.6,942.7 332.2,945.1 332.8,946.7 333.4,943.5 334,946.6 334.6,947.7 335.2,947.1 335.8,949.5 336.4,949.4 337,948.7 337.6,951.4 338.2,954.3 338.8,954.7 339.4,953.2 340,955.5 340.6,956.8 341.2,959.9 341.8,956.4 342.4,958.9 343,959.6 343.6,959 344.2,960 344.8,960 345.4,963.4 346,961.9 346.6,961.2 347.2,963.8 347.8,965.3 348.4,966 349,966.9 349.6,966.8 350.2,967.1 350.8,970.3 351.4,971.7 352,972.3 352.6,972.3 353.2,972.4 353.8,970.7 354.4,970.9 355,973.5 355.6,971.9 356.2,971.4 356.8,970.8 357.4,973.1 358,973.6 358.6,973.2 359.2,972.9 359.8,971.7 360.4,969.6 361,970.5 361.6,970 362.2,969.9 362.8,970.1 363.4,967.3 364,969.7 364.6,966.5 365.2,965.8 365.8,968.2 366.4,965.7 367,963.9 367.6,963.7 368.2,963.6 368.8,963 369.4,962.8 370,961.5 370.6,956.4 371.2,956.9 371.8,955.1 372.4,957.6 373,956.4 373.6,954.5 374.2,952 374.8,953.9 375.4,954 376,950.6 376.6,950.1 377.2,949.3 377.8,952.8 378.4,950.9 379,951.4 379.6,948.5 380.2,949.9 380.8,949.9 381.4,946.7 382,947.3 382.6,944.4 383.2,941.9 383.8,940.4 384.4,938.7 385,939.6 385.6,940.4 386.2,937.5 386.8,936.3 387.4,938.7 388,936.7 388.6,936 389.2,934.6 389.8,938.1 390.4,935.2 391,935.5 391.6,937.1 392.2,935.7 392.8,937.6 393.4,937.5 394,937.5 394.6,935.9 395.2,935.4 395.8,936.7 396.4,935.8 397,936.4 397.6,937.7 398.2,937.8 398.8,938.2 399.4,939.1 400,941.7 400.6,939.5 401.2,939.8 401.8,942.4 402.4,942 403,941.2 403.6,944.3 404.2,941.4 404.8,942.4 405.4,941.7 406,944.5 406.6,945.6 407.2,946.2 407.8,943.3 408.4,944.2 409,945.6 409.6,946.4 410.2,944.3 410.8,943.8 411.4,944.8 412,948.1 412.6,947.4 413.2,949.2 413.8,952.4 414.4,951.8 415,951.8 415.6,956.8 416.2,957.7 416.8,957.6 417.4,959.5 418,959.2 418.6,956.8 419.2,960.3 419.8,959 420.4,959.7 421,962.4 421.6,961.1 422.2,964 422.8,962.4 423.4,962 424,965.7 424.6,967.7 425.2,968.8 425.8,967.3 426.4,969.1 427,972.1 427.6,971.1 428.2,970.1 428.8,972.9 429.4,973.1 430,974 430.6,973.5 431.2,974.3 431.8,974.6 432.4,970.8 433,972.7 433.6,973 434.2,972.9 434.8,970.2 435.4,971.6 436,969 436.6,971 437.2,969.6 437.8,967.7 438.4,967.2 439,966.5 439.6,967.9 440.2,966.3 440.8,966.9 441.4,967.6 442,965.2 442.6,965.4 443.2,965.8 443.8,963.9 444.4,963.1 445,961.2 445.6,959.3 446.2,959 446.8,958.2 447.4,958.9 448,958.2 448.6,957 449.2,953.9 449.8,955.2 450.4,952.1 451,951.8 451.6,950.5 452.2,951.9 452.8,949.5 453.4,950 454,950.7 454.6,949.2 455.2,947 455.8,947.2 456.4,950 457,949.2 457.6,949.3 458.2,944.4 458.8,943.7 459.4,940.1 460,942 460.6,940.4 461.2,940.7 461.8,939.1 462.4,936.5 463,936.8 463.6,939.8 464.2,935.5 464.8,938.5 465.4,937.9 466,937.8 466.6,934.5 467.2,935.1 467.8,935.5 468.4,936 469,936.3 469.6,933.7 470.2,936.6 470.8,936.9 471.4,935 472,934.1 472.6,936 473.2,936.4 473.8,937.4 474.4,936.6 475,936.2 475.6,936.5 476.2,938.9 476.8,940.6 477.4,940.4 478,940.5 478.6,943.1 479.2,943.6 479.8,940.7 480.4,944.9 481,945.3 481.6,943.6 482.2,945 482.8,944.4 483.4,944.5 484,941.9 484.6,943 485.2,942.6 485.8,944.1 486.4,946.4 487,944.8 487.6,947.1 488.2,945.3 488.8,948.5 489.4,948.6 490,950.9 490.6,952.7 491.2,951.7 491.8,953.6 492.4,957.4 493,957.8 493.6,960.2 494.2,959.9 494.8,957.7 495.4,962 496,959.8 496.6,961.9 497.2,962.2 497.8,961.5 498.4,963.4 499,961.7 499.6,963.8 500.2,963.6 500.8,965.9 501.4,966.6 502,966.8 502.6,966.3 503.2,968.7 503.8,967.3 504.4,970.4 505,971.9 505.6,970.4 506.2,973.1 506.8,970.6 507.4,972.9 508,972.5 508.6,973.9 509.2,972.9 509.8,970.3 510.4,972.7 511,973 511.6,969.7 512.2,968.5 512.8,971.6 513.4,967.7 514,971.3 514.6,970.9 515.2,967.5 515.8,969.6 516.4,966.6 517,966.7 517.6,963.8 518.2,964.4 518.8,965 519.4,962.4 520,959.6 520.6,960.9 521.2,961.2 521.8,956.6 522.4,956.7 523,956.3 523.6,955.4 524.2,955.5 524.8,956.4 525.4,956.5 526,955.9 526.6,955.5 527.2,954.7 527.8,954 528.4,954.5 529,951.8 529.6,950.6 530.2,950.3 530.8,949.6 531.4,951.2 532,949 532.6,948.2 533.2,948.5 533.8,946.3 534.4,942.6 535,939.2 535.6,939.8 536.2,940.5 536.8,940.6 537.4,941 538,940.7 538.6,939 539.2,940 539.8,940.1 540.4,939.7 541,938.5 541.6,939.1 542.2,937.6 542.8,938.1 543.4,936.3 544,934.2 544.6,936.4 545.2,933.7 545.8,936.2 546.4,936.2 547,937.6 547.6,935.4 548.2,934.3 548.8,937.6 549.4,938.1 550,937.5 550.6,936.6 551.2,938.4 551.8,938.1 552.4,938.7 553,937.4 553.6,937.9 554.2,938.4 554.8,939.5 555.4,941.7 556,942.8 556.6,943.6 557.2,942.5 557.8,942.4 558.4,946 559,945.3 559.6,945.5 560.2,948.1 560.8,947.5 561.4,948.2 562,949.6 562.6,950.1 563.2,951.6 563.8,953.7 564.4,954.9 565,954.4 565.6,954.2 566.2,959.6 566.8,957.9 567.4,961.9 568,960 568.6,963.9 569.2,962.2 569.8,963.3 570.4,967.7 571,966 571.6,969.3 572.2,971.3 572.8,972.2 573.4,972.3 574,971.9 574.6,975.3 575.2,975.7 575.8,974.2 576.4,976.9 577,976.4 577.6,978.3 578.2,975.6 578.8,975.4 579.4,975.3 580,976.5 580.6,975.5 581.2,975.8 581.8,975.8 582.4,975.9 583,976.4 583.6,975.4 584.2,974.9 584.8,973.6 585.4,973.5 586,971.2 586.6,970.3 587.2,968.6 587.8,968.9 588.4,969.9 589,967.7 589.6,968.4 590.2,965.7 590.8,966.6 591.4,961.9 592,962.2 592.6,961.4 593.2,960 593.8,962.2 594.4,960.1 595,958 595.6,958.5 596.2,958.4 596.8,958 597.4,954 598,954.9 598.6,956.5 599.2,952.4 599.8,952.7 600.4,951.1 601,951.1 601.6,952.2 602.2,948.5 602.8,948 603.4,948.1 604,951 604.6,950.3 605.2,948.7 605.8,947.6 606.4,944.6 607,947.1 607.6,945.5 608.2,941.4 608.8,942.6 609.4,939.9 610,939.2 610.6,941.4 611.2,938 611.8,938.2 612.4,938.9 613,935 613.6,936.6 614.2,936.2 614.8,937.2 615.4,935.4 616,935.5 616.6,936 617.2,933.3 617.8,935 618.4,936 619,932.3 619.6,932.9 620.2,937.5 620.8,934.8 621.4,937.5 622,940.2 622.6,941.3 623.2,942.2 623.8,941.9 624.4,940.8 625,943.8 625.6,942.9 626.2,945.4 626.8,941.9 627.4,945.2 628,945 628.6,945.9 629.2,949.4 629.8,950.5 630.4,949.7 631,952.5 631.6,950.8 632.2,954.3 632.8,953.9 633.4,954.4 634,957.8 634.6,957.9 635.2,959.2 635.8,960.7 636.4,962.2 637,962.8 637.6,964.5 638.2,966.9 638.8,966.1 639.4,968.6 640,966.9 640.6,971.1 641.2,969.2 641.8,969.6 642.4,970 643,971.3 643.6,974.1 644.2,974.4 644.8,975 645.4,975.8 646,973.2 646.6,977.2 647.2,973.9 647.8,975.5 648.4,977.3 649,977 649.6,976.3 650.2,975.7 650.8,977.6 651.4,973.8 652,976.4 652.6,972.9 653.2,975 653.8,972.8 654.4,975.9 655,973 655.6,974.2 656.2,969.7 656.8,970.8 657.4,972 658,967.8 658.6,967.2 659.2,967.7 659.8,965.1 660.4,966.9 661,965.8 661.6,964 662.2,962.4 662.8,963.1 663.4,963.6 664,961.8 664.6,959.5 665.2,958.4 665.8,959.4 666.4,955.6 667,957 667.6,953.8 668.2,954.9 668.8,953.2 669.4,951.6 670,951.2 670.6,953.2 671.2,952.4 671.8,949.8 672.4,950.8 673,947.8 673.6,950.2 674.2,946.5 674.8,947.4 675.4,944.9 676,943.8 676.6,944 677.2,941.1 677.8,939.9 678.4,939.5 679,938.4 679.6,939.9 680.2,936.6 680.8,936.2 681.4,934.2 682,935 682.6,933.8 683.2,936.2 683.8,935.8 684.4,935.4 685,935.1 685.6,932.7 686.2,933.9 686.8,931.9 687.4,934.6 688,933.7 688.6,933.5 689.2,935.7 689.8,935.9 690.4,936.1 691,935.5 691.6,938.3 692.2,938.6 692.8,936 693.4,938.5 694,940.9 694.6,941.3 695.2,942.2 695.8,942.7 696.4,940.8 697,942.8 697.6,944.9 698.2,946.6 698.8,944.8 699.4,948.9 700,948.6 700.6,947.4 701.2,952.1 701.8,950.4 702.4,951.1 703,956 703.6,956.5 704.2,957.4 704.8,956.3 705.4,958.5 706,958.5 706.6,962.2 707.2,963.5 707.8,963.2 708.4,965.6 709,965.1 709.6,968.8 710.2,967 710.8,970.8 711.4,972.8 712,971.9 712.6,971.9 713.2,974.1 713.8,975.4 714.4,977.4 715,976.1 715.6,975.7 716.2,980 716.8,978.2 717.4,978.4 718,977.7 718.6,976.9 719.2,976.6 719.8,975.2 720.4,977.2 721,976.3 721.6,977.7 722.2,974.2 722.8,973.9 723.4,974.4 724,974.8 724.6,977.6 725.2,974.5 725.8,972.8 726.4,973.4 727,973.1 727.6,971.5 728.2,968.9 728.8,971.1 729.4,968.1 730,966.9 730.6,967.8 731.2,966.6 731.8,963.7 732.4,965.2 733,963.9 733.6,962.4 734.2,963.4 734.8,959.5 735.4,959.1 736,958.6 736.6,957.7 737.2,959.1 737.8,957.9 738.4,957.8 739,955.6 739.6,956.8 740.2,953.7 740.8,951.9 741.4,952.8 742,951.9 742.6,949.5 743.2,951.2 743.8,947.9 744.4,947.7 745,947.9 745.6,946.3 746.2,946.8 746.8,946.4 747.4,940.9 748,939.8 748.6,939 749.2,940.1 749.8,939.4 750.4,936.3 751,935.4 751.6,935.2 752.2,938.4 752.8,937.6 753.4,935.1 754,938.7 754.6,938.2 755.2,936.4 755.8,935.8 756.4,937.3 757,937.9 757.6,937 758.2,938.2 758.8,936.8 759.4,937.7 760,938 760.6,935.9 761.2,937.2 761.8,939.4 762.4,940 763,938.8 763.6,940.6 764.2,942.8 764.8,943.5 765.4,943.6 766,943.1 766.6,942.7 767.2,944.5 767.8,948.9 768.4,948.9 769,947.1 769.6,949.1 770.2,948.9 770.8,951.1 771.4,952.8 772,953.5 772.6,954.5 773.2,957.7 773.8,956.4 774.4,960.2 775,961 775.6,962.3 776.2,963.9 776.8,965 777.4,964.3 778,967.9 778.6,968.8 779.2,970.4 779.8,971.3 780.4,969.9 781,970.4 781.6,973.2 782.2,974.4 782.8,972.9 783.4,976.3 784,976.4 784.6,974.8 785.2,976.9 785.8,978.6 786.4,977.5 787,979.7 787.6,976.9 788.2,974.9 788.8,976.8 789.4,974.6 790,978.1 790.6,977.2 791.2,976.2 791.8,976.4 792.4,975.9 793,974.3 793.6,974.6 794.2,975.9 794.8,975.3 795.4,973.8 796,975.2 796.6,974.2 797.2,974.2 797.8,969.6 798.4,970.6 799,967.7 799.6,967.1 800.2,967.1 800.8,967.4 801.4,964.8 802,966.1 802.6,961.9 803.2,960.7 803.8,959.7 804.4,959.2 805,962.6 805.6,958.2 806.2,958.4 806.8,956.3 807.4,956.2 808,958.4 808.6,953.5 809.2,956.9 809.8,954.2 810.4,952.6 811,953.8 811.6,951.7 812.2,953 812.8,951.3 813.4,950.1 814,947.7 814.6,948.2 815.2,944.8 815.8,945.6 816.4,942.5 817,945.3 817.6,943.9 818.2,941.4 818.8,941.6 819.4,938.6 820,939.2 820.6,938.1 821.2,937.6 821.8,939.2 822.4,937.2 823,938.9 823.6,938.6 824.2,936.3 824.8,936.9 825.4,934.1 826,937.3 826.6,934.5 827.2,936.3 827.8,934.7 828.4,934.1 829,934.9 829.6,934.7 830.2,935.8 830.8,937.2 831.4,937 832,937.2 832.6,937.6 833.2,936.8 833.8,941.5 834.4,938.5 835,942.5 835.6,944.6 836.2,944.7 836.8,943.4 837.4,947.2 838,947.6 838.6,945.9 839.2,947.2 839.8,951.6 840.4,951 841,951.2 841.6,953.2 842.2,956.2 842.8,954.7 843.4,959.2 844,958.1 844.6,958.2 845.2,961 845.8,963.6 846.4,963.8 847,964.1 847.6,966.8 848.2,965.4 848.8,969.4 849.4,969.8 850,971.3 850.6,970.5 851.2,973 851.8,972.3 852.4,974.9 853,973.9 853.6,977.4 854.2,979.2 854.8,979 855.4,979.3 856,977.1 856.6,977.7 857.2,979.7 857.8,976 858.4,979.4 859,978.6 859.6,976.3 860.2,977 860.8,976.2 861.4,977.9 862,975.3 862.6,977.3 863.2,978.3 863.8,975.7 864.4,975.9 865,979.6 865.6,975.6 866.2,978 866.8,975 867.4,972.7 868,973.6 868.6,972.8 869.2,971.4 869.8,969.8 870.4,967.3 871,968.5 871.6,966.4 872.2,965.8 872.8,963.4 873.4,962.9 874,963.5 874.6,962.5 875.2,958.4 875.8,959 876.4,956.8 877,958 877.6,954.8 878.2,954.2 878.8,956.2 879.4,952.1 880,951.9 880.6,950.6 881.2,952.7 881.8,950.2 882.4,951.4 883,947.7 883.6,947.2 884.2,949 884.8,947 885.4,944.8 886,947 886.6,945.6 887.2,943.1 887.8,939.5 888.4,941.3 889,937.6 889.6,940.1 890.2,935.9 890.8,937.6 891.4,937.7 892,935.9 892.6,937.9 893.2,937.3 893.8,938.7 894.4,935.7 895,938.2 895.6,937.6 896.2,935.6 896.8,935.4 897.4,936.1 898,933.3 898.6,935.9 899.2,937.3 899.8,936.7 900.4,936.8 901,936.4 901.6,935.5 902.2,936 902.8,937.1 903.4,939 904,942 904.6,939.8 905.2,940.6 905.8,942.4 906.4,944.3 907,943.3 907.6,947 908.2,945.7 908.8,950 909.4,948.9 910,952.3 910.6,951.9 911.2,954 911.8,954.7 912.4,955.8 913,956.8 913.6,956.4 914.2,959.2 914.8,960.8 915.4,959.7 916,963.6 916.6,966.2 917.2,964 917.8,965.2 918.4,966.5 919,969.8 919.6,970.5 920.2,974.1 920.8,972.2 921.4,974.2 922,974 922.6,976.6 923.2,976.1 923.8,977.9 924.4,975.4 925,980 925.6,976.4 926.2,978.7 926.8,979.1 927.4,978.1 928,980 928.6,979.3 929.2,978.6 929.8,979.6 930.4,977.7 931,977.4 931.6,978.6 932.2,980.2 932.8,979.1 933.4,977.3 934,977.3 934.6,977.8 935.2,976.9 935.8,978.7 936.4,975.7 937,976.2 937.6,974.8 938.2,974.2 938.8,972.1 939.4,971.4 940,969.7 940.6,967.6 941.2,967.3 941.8,967.5 942.4,964.2 943,965.2 943.6,964.4 944.2,964.9 944.8,960.6 945.4,962.5 946,959.3 946.6,958.9 947.2,957.1 947.8,959 948.4,955.1 949,955.1 949.6,953.7 950.2,954 950.8,951.6 951.4,951.2 952,952 952.6,949 953.2,948.9 953.8,946 954.4,945.9 955,945.2 955.6,947.3 956.2,946.5 956.8,941.9 957.4,941.5 958,943.7 958.6,940.9 959.2,940.8 959.8,936.6 960.4,935.7 961,939.2 961.6,938.1 962.2,935.5 962.8,938.2 963.4,938 964,937.1 964.6,937.1 965.2,937.2 965.8,936.7 966.4,935.7 967,936.1 967.6,937.5 968.2,938.2 968.8,936.6 969.4,936.1 970,935.5 970.6,934.5 971.2,935.5 971.8,937.2 972.4,938.4 973,936.3 973.6,936.8 974.2,937.8 974.8,942.3 975.4,939.9 976,942.8 976.6,941.5 977.2,946.5 977.8,946.3 978.4,946.3 979,945.9 979.6,950 980.2,950.8 980.8,953.1 981.4,952.3 982,954.3 982.6,957.4 983.2,958.8 983.8,961 984.4,958.7 985,963.5 985.6,962.5 986.2,962 986.8,965.2 987.4,965.6 988,966.8 988.6,969.4 989.2,970.5 989.8,969.1 990.4,970.5 991,972.8 991.6,975.9 992.2,976.9 992.8,978.2 993.4,980.3 994,981.9 994.6,981.6 995.2,982.4 995.8,980.2 996.4,979.4 997,981.1 997.6,980.6 998.2,982 998.8,979.2 999.4,979 1000,978 1000.6,979.7 1001.2,978.9 1001.8,976.4 1002.4,978.2 1003,977.3 1003.6,978.1 1004.2,978.1 1004.8,977.4 1005.4,977 1006,973.1 1006.6,974.1 1007.2,973.5 1007.8,971.7 1008.4,972.1 1009,967.7 1009.6,969.8 1010.2,969.1 1010.8,964.3 1011.4,964.9 1012,965.3 1012.6,961.7 1013.2,961.4 1013.8,960.3 1014.4,958.4 1015,957.5 1015.6,957.9 1016.2,957 1016.8,956.9 1017.4,954.4 1018,954.2 1018.6,951.4 1019.2,951.8 1019.8,950.1 1020.4,949.3 1021,947.9 1021.6,945 1022.2,945.6 1022.8,945.7 1023.4,944.4 1024,943.1 1024.6,939.6 1025.2,937.9 1025.8,940 1026.4,937.5 1027,936.6 1027.6,936.1 1028.2,937 1028.8,934.6 1029.4,937.3 1030,938.9 1030.6,935.4 1031.2,935.2 1031.8,935.4 1032.4,934.6 1033,934 1033.6,935 1034.2,936.4 1034.8,937.2 1035.4,933.5 1036,937.5 1036.6,935.1 1037.2,933.9 1037.8,934.6 1038.4,939.3 1039,937.8 1039.6,941.1 1040.2,942.8 1040.8,941.4 1041.4,942 1042,943.7 1042.6,944 1043.2,947.4 1043.8,947.8 1044.4,949.2 1045,950.4 1045.6,951.5 1046.2,952 1046.8,953.3 1047.4,954.8 1048,957.3 1048.6,957.8 1049.2,958.4 1049.8,958.6 1050.4,961.3 1051,962.3 1051.6,967.1 1052.2,966.5 1052.8,968.5 1053.4,969.1 1054,969 1054.6,972.1 1055.2,971.8 1055.8,972.2 1056.4,974.7 1057,974.6 1057.6,976.6 1058.2,979.7 1058.8,980.6 1059.4,978.9 1060,981 1060.6,979.1 1061.2,979.3 1061.8,979.8 1062.4,978.9 1063,978.5 1063.6,978.9 1064.2,978 1064.8,979.6 1065.4,978.2 1066,979.9 1066.6,977.4 1067.2,977.7 1067.8,979.6 1068.4,976.7 1069,978.1 1069.6,978 1070.2,977.2 1070.8,974.8 1071.4,973.1 1072,973.7 1072.6,971.9 1073.2,970.7 1073.8,967.8 1074.4,967.7 1075,965.8 1075.6,963.1 1076.2,965.3 1076.8,964.5 1077.4,961.2 1078,962.3 1078.6,960.8 1079.2,959.9 1079.8,959.7 1080.4,955.2 1081,956.9 1081.6,954.1 1082.2,954 1082.8,953.1 1083.4,949.1 1084,951.8 1084.6,950.4 1085.2,945.8 1085.8,945.1 1086.4,947.5 1087,946.3 1087.6,944.4 1088.2,942.1 1088.8,940.4 1089.4,939.3 1090,938.8 1090.6,937.5 1091.2,938.7 1091.8,938.8 1092.4,937.8 1093,938.4 1093.6,938.3 1094.2,936 1094.8,936.4 1095.4,934.1 1096,935.5 1096.6,935.2 1097.2,933.3 1097.8,933.3 1098.4,934.9 1099,933.5 1099.6,936.2 1100.2,933.1 1100.8,934 1101.4,937.6 1102,935.9 1102.6,937.4 1103.2,937.1 1103.8,938.7 1104.4,938.7 1105,937.2 1105.6,939.5 1106.2,941.4 1106.8,940.4 1107.4,942.8 1108,945.4 1108.6,945.1 1109.2,946.8 1109.8,948.4 1110.4,947.7 1111,951.6 1111.6,951.8 1112.2,954.6 1112.8,954.1 1113.4,957.1 1114,960 1114.6,962.1 1115.2,960.7 1115.8,964.6 1116.4,966.2 1117,965.3 1117.6,965 1118.2,966.2 1118.8,970 1119.4,971.2 1120,973.3 1120.6,971.2 1121.2,973.6 1121.8,974.8 1122.4,978.4 1123,980.2 1123.6,980.7 1124.2,978.9 1124.8,980.5 1125.4,979.4 1126,979.1 1126.6,980.3 1127.2,978.7 1127.8,979.2 1128.4,980.3 1129,976.2 1129.6,978.6 1130.2,978.8 1130.8,977.3 1131.4,977.5 1132,978.4 1132.6,978.8 1133.2,976.6 1133.8,977.4 1134.4,977.5 1135,980 1135.6,977.7 1136.2,977.1 1136.8,973.7 1137.4,973.5 1138,970.5 1138.6,968.9 1139.2,969.5 1139.8,966.5 1140.4,968.6 1141,966.8 1141.6,962.3 1142.2,962.2 1142.8,959.5 1143.4,958.3 1144,960.7 1144.6,960 1145.2,955.7 1145.8,954.6 1146.4,954.1 1147,954.6 1147.6,953.7 1148.2,951.2 1148.8,950.1 1149.4,951.6 1150,947.5 1150.6,948.3 1151.2,945.5 1151.8,944.5 1152.4,941.9 1153,942 1153.6,939.6 1154.2,938.4 1154.8,937.9 1155.4,936.8 1156,937.6 1156.6,935.2 1157.2,936.6 1157.8,936.2 1158.4,937.2 1159,935.4 1159.6,934.4 1160.2,933.3 1160.8,932.3 1161.4,933.2 1162,933.3 1162.6,933.9 1163.2,933.1 1163.8,933.2 1164.4,935.3 1165,935.5 1165.6,935.9 1166.2,935.4 1166.8,934.4 1167.4,934.4 1168,937.5 1168.6,937.8 1169.2,939.4 1169.8,937.8 1170.4,942.6 1171,943 1171.6,942 1172.2,944.2 1172.8,945.6 1173.4,946.2 1174,945.3 1174.6,950.5 1175.2,948 1175.8,948.8 1176.4,954.3 1177,955.3 1177.6,953.3 1178.2,954.6 1178.8,955.5 1179.4,960.5 1180,959.4 1180.6,962.9 1181.2,962.6 1181.8,962.1 1182.4,963.7 1183,965.7 1183.6,966.7 1184.2,970 1184.8,971.5 1185.4,970.3 1186,974.5 1186.6,975.9 1187.2,978.7 1187.8,977.3 1188.4,978.4 1189,978.8 1189.6,981 1190.2,979.1 1190.8,980.6 1191.4,977.3 1192,978.9 1192.6,977.8 1193.2,980.6 1193.8,979.7 1194.4,980.2 1195,978.2 1195.6,980.7 1196.2,979.4 1196.8,978.3 1197.4,978.3 1198,980.2 1198.6,978.7 1199.2,979 1199.8,977.2 1200.4,979.5 1201,978.3 1201.6,974.3 1202.2,974.6 1202.8,973.6 1203.4,972.1 1204,969.6 1204.6,966 1205.2,967.9 1205.8,967.8 1206.4,964.2 1207,962.6 1207.6,962.8 1208.2,961.9 1208.8,960.1 1209.4,959 1210,957.9 1210.6,954.8 1211.2,952.6 1211.8,955.4 1212.4,951.7 1213,951 1213.6,949.6 1214.2,947.4 1214.8,945.3 1215.4,946.4 1216,943.1 1216.6,945.4 1217.2,942.1 1217.8,941.2 1218.4,940.4 1219,938.1 1219.6,939.6 1220.2,938.4 1220.8,936.2 1221.4,934.4 1222,937.4 1222.6,934.1 1223.2,936.4 1223.8,933.9 1224.4,936.3 1225,933.4 1225.6,932.8 1226.2,933.6 1226.8,932.4 1227.4,935.9 1228,934.9 1228.6,933.3 1229.2,934.1 1229.8,933.9 1230.4,933 1231,937.2 1231.6,935.6 1232.2,936.5 1232.8,933.5 1233.4,935.8 1234,937.1 1234.6,937.3 1235.2,939.9 1235.8,940 1236.4,939.9 1237,942.2 1237.6,942.3 1238.2,946.3 1238.8,944.5 1239.4,946.5 1240,949.4 1240.6,949.9 1241.2,948.7 1241.8,952.1 1242.4,953 1243,956.8 1243.6,956.4 1244.2,960.1 1244.8,958.3 1245.4,962.8 1246,963.6 1246.6,965 1247.2,967.1 1247.8,969.2 1248.4,970.3 1249,969.6 1249.6,974.1 1250.2,973.5 1250.8,975.5 1251.4,976.7 1252,977.1 1252.6,975.7 1253.2,976.3 1253.8,978.5 1254.4,978.4 1255,979.6 1255.6,979.1 1256.2,977.3 1256.8,977.4 1257.4,979.7 1258,980.7 1258.6,980.2 1259.2,978.9 1259.8,979.1 1260.4,978.5 1261,980.1 1261.6,980 1262.2,979.1 1262.8,975.8 1263.4,976.8 1264,978.8 1264.6,979.8 1265.2,979.4 1265.8,977.7 1266.4,974.2 1267,973.9 1267.6,970.3 1268.2,972 1268.8,969.4 1269.4,969.2 1270,966.4 1270.6,963 1271.2,962.7 1271.8,961.8 1272.4,961.8 1273,958.6 1273.6,959.4 1274.2,958.7 1274.8,955.9 1275.4,954.1 1276,954 1276.6,953.4 1277.2,951.7 1277.8,953.1 1278.4,952.3 1279,947.6 1279.6,947.6 1280.2,944.7 1280.8,946.2 1281.4,945.9 1282,940.8 1282.6,941.4 1283.2,939.6 1283.8,936.7 1284.4,936.8 1285,934.8 1285.6,934 1286.2,936.6 1286.8,932.9 1287.4,933.7 1288,932.6 1288.6,932.4 1289.2,932.1 1289.8,933.9 1290.4,935.6 1291,933.1 1291.6,935.6 1292.2,935 1292.8,932 1293.4,934.6 1294,935.2 1294.6,932.4 1295.2,932.6 1295.8,936.2 1296.4,934.6 1297,935.4 1297.6,932.3 1298.2,933.5 1298.8,934.2 1299.4,938.2 1300,936.5 1300.6,937.9 1301.2,942.5 1301.8,941.1 1302.4,941.6 1303,943.6 1303.6,946.6 1304.2,949 1304.8,949.2 1305.4,950.8 1306,951.3 1306.6,955.6 1307.2,955.3 1307.8,959.3 1308.4,959.1 1309,958.2 1309.6,961.4 1310.2,963.3 1310.8,964.7 1311.4,962.6 1312,965.3 1312.6,966.9 1313.2,967.4 1313.8,969.5 1314.4,972.7 1315,972 1315.6,974.1 1316.2,975.3 1316.8,978.7 1317.4,976.5 1318,979.3 1318.6,980.1 1319.2,980.6 1319.8,979.8 1320.4,980.7 1321,977.2 1321.6,978.9 1322.2,978.2 1322.8,979.2 1323.4,978.5 1324,980.5 1324.6,978 1325.2,976.1 1325.8,978.9 1326.4,977.3 1327,977.6 1327.6,976 1328.2,978 1328.8,975.3 1329.4,976.1 1330,977.2 1330.6,974 1331.2,972.6 1331.8,971.9 1332.4,970.3 1333,968.8 1333.6,970.7 1334.2,969.5 1334.8,967.8 1335.4,967.1 1336,963.7 1336.6,960.8 1337.2,960.5 1337.8,962.6 1338.4,958.3 1339,957.1 1339.6,958.3 1340.2,956.8 1340.8,953.6 1341.4,953.8 1342,949.8 1342.6,949.2 1343.2,947.6 1343.8,945.7 1344.4,944.5 1345,943.7 1345.6,945 1346.2,941.6 1346.8,943.6 1347.4,939.5 1348,938.3 1348.6,937.5 1349.2,935.4 1349.8,935.7 1350.4,934.5 1351,934.8 1351.6,933.3 1352.2,934.7 1352.8,936.4 1353.4,936.2 1354,933.2 1354.6,935.2 1355.2,933.3 1355.8,935.6 1356.4,935 1357,934.1 1357.6,934.2 1358.2,932.3 1358.8,932.9 1359.4,933.7 1360,933.9 1360.6,933.8 1361.2,932.6 1361.8,932.1 1362.4,935.6 1363,933 1363.6,934.4 1364.2,936.2 1364.8,939.7 1365.4,939.2 1366,939.3 1366.6,944.1 1367.2,942.9 1367.8,943.7 1368.4,946.1 1369,946.2 1369.6,947.5 1370.2,952 1370.8,952.6 1371.4,954.2 1372,956.4 1372.6,958.1 1373.2,959.4 1373.8,958.6 1374.4,959.8 1375,960.2 1375.6,964.3 1376.2,963.6 1376.8,967.1 1377.4,969.3 1378,968.8 1378.6,971.8 1379.2,970.8 1379.8,972.8 1380.4,974.6 1381,977.3 1381.6,976.2 1382.2,978.3 1382.8,979.1 1383.4,975.7 1384,979 1384.6,975 1385.2,978.2 1385.8,977.8 1386.4,979 1387,976.8 1387.6,978.3 1388.2,977.9 1388.8,977.7 1389.4,978.4 1390,978.1 1390.6,975.5 1391.2,978.3 1391.8,978.8 1392.4,976.9 1393,976.3 1393.6,973.8 1394.2,975.2 1394.8,972.4 1395.4,971.1 1396,973.3 1396.6,969.3 1397.2,969.7 1397.8,966.2 1398.4,965.4 1399,964.4 1399.6,963.5 1400.2,965.2 1400.8,960.2 1401.4,960.6 1402,961 1402.6,957.3 1403.2,955.1 1403.8,954.8 1404.4,953.6 1405,948.4 1405.6,950.3 1406.2,949.3 1406.8,945.6 1407.4,946.4 1408,941.9 1408.6,943.8 1409.2,942 1409.8,939.1 1410.4,938.5 1411,934.9 1411.6,933.3 1412.2,933.9 1412.8,934.3 1413.4,933.1 1414,935.3 1414.6,933.4 1415.2,932.1 1415.8,931.7 1416.4,933.7 1417,934 1417.6,932 1418.2,931 1418.8,933.9 1419.4,934.6 1420,934.8 1420.6,932.8 1421.2,932.5 1421.8,931.1 1422.4,931.1 1423,932.5 1423.6,932.1 1424.2,933.3 1424.8,932.4 1425.4,934.5 1426,936.9 1426.6,939 1427.2,942.6 1427.8,943.5 1428.4,947.3 1429,948.4 1429.6,947.5 1430.2,948 1430.8,948.9 1431.4,951.2 1432,954.1 1432.6,956.4 1433.2,956.1 1433.8,958.3 1434.4,961.7 1435,961.6 1435.6,964.2 1436.2,966.7 1436.8,965.8 1437.4,970.2 1438,970.1 1438.6,970.5 1439.2,974.5 1439.8,975.3 1440.4,978 1441,978.3 1441.6,978 1442.2,975.7 1442.8,977.1 1443.4,978.1 1444,979.9 1444.6,979.9 1445.2,976.5 1445.8,976.9 1446.4,976.7 1447,979.5 1447.6,979.4 1448.2,979.8 1448.8,980 1449.4,978.4 1450,978.8 1450.6,977.5 1451.2,980.4 1451.8,980 1452.4,976.1 1453,976.7 1453.6,975.9 1454.2,974.7 1454.8,974.6 1455.4,970.7 1456,972.9 1456.6,969.6 1457.2,969.6 1457.8,965.3 1458.4,966.1 1459,965.1 1459.6,964.5 1460.2,961.2 1460.8,962.4 1461.4,957.7 1462,957.8 1462.6,956.7 1463.2,957.4 1463.8,955.7 1464.4,950.8 1465,949.5 1465.6,950.4 1466.2,947.1 1466.8,943.6 1467.4,942.2 1468,943.8 1468.6,941.5 1469.2,939.7 1469.8,935.3 1470.4,934 1471,932.9 1471.6,935.2 1472.2,931.1 1472.8,931.7 1473.4,935.1 1474,933.4 1474.6,935.2 1475.2,932.5 1475.8,932.9 1476.4,935 1477,932.5 1477.6,932.5 1478.2,935.4 1478.8,934 1479.4,933.2 1480,936 1480.6,933.7 1481.2,934.6 1481.8,935.4 1482.4,934.2 1483,934.6 1483.6,935.6 1484.2,934.8 1484.8,938.5 1485.4,938.7 1486,939.4 1486.6,939.4 1487.2,940.7 1487.8,944.7 1488.4,942.3 1489,945.5 1489.6,946.6 1490.2,947.9 1490.8,949.5 1491.4,952.8 1492,951.6 1492.6,953.6 1493.2,958 1493.8,957 1494.4,961.2 1495,961.9 1495.6,962.2 1496.2,967.8 1496.8,966.4 1497.4,970.4 1498,970 1498.6,973.8 1499.2,972.9 1499.8,977.9 1500.4,977.2 1501,978.2 1501.6,976.3 1502.2,975.8 1502.8,975.7 1503.4,978.3 1504,976.5 1504.6,977.6 1505.2,978.4 1505.8,976.5 1506.4,978.7 1507,978.8 1507.6,978.8 1508.2,976.3 1508.8,977.3 1509.4,978.5 1510,977.6 1510.6,978.8 1511.2,978.8 1511.8,980.7 1512.4,978.3 1513,977.9 1513.6,977.8 1514.2,979.9 1514.8,979 1515.4,976.5 1516,972.6 1516.6,973.3 1517.2,972 1517.8,970.3 1518.4,969.3 1519,967.7 1519.6,962.7 1520.2,963.3 1520.8,959.3 1521.4,957.6 1522,958.6 1522.6,954.4 1523.2,952.1 1523.8,953.9 1524.4,950.7 1525,948.5 1525.6,944.7 1526.2,945.9 1526.8,943.7 1527.4,941 1528,938.6 1528.6,936.1 1529.2,934.3 1529.8,934.9 1530.4,935.4 1531,931.6 1531.6,933.8 1532.2,931.7 1532.8,935.5 1533.4,934 1534,935 1534.6,934.9 1535.2,931.7 1535.8,932 1536.4,935 1537,934 1537.6,934.3 1538.2,934.4 1538.8,936.4 1539.4,933.5 1540,933.8 1540.6,934.8 1541.2,934.5 1541.8,932.8 1542.4,935.9 1543,934.2 1543.6,935.6 1544.2,934.5 1544.8,934.9 1545.4,935.9 1546,940.8 1546.6,938.7 1547.2,942.8 1547.8,945.3 1548.4,944.2 1549,946.6 1549.6,949.4 1550.2,953.2 1550.8,951.7 1551.4,953.4 1552,954.4 1552.6,958.1 1553.2,961.2 1553.8,960.3 1554.4,964.1 1555,962.5 1555.6,964.8 1556.2,965.8 1556.8,968.7 1557.4,971 1558,970.3 1558.6,973.9 1559.2,974.5 1559.8,976.2 1560.4,976.6 1561,975.4 1561.6,977.2 1562.2,976.8 1562.8,976.9 1563.4,979.1 1564,977.8 1564.6,977 1565.2,977.7 1565.8,977.3 1566.4,977.4 1567,978.8 1567.6,978.6 1568.2,979.2 1568.8,979.4 1569.4,979 1570,980.1 1570.6,977.2 1571.2,980.2 1571.8,977.8 1572.4,977.9 1573,977.7 1573.6,978 1574.2,977.8 1574.8,977.4 1575.4,975.9 1576,973.4 1576.6,971.9 1577.2,968.8 1577.8,968.2 1578.4,968.1 1579,966.3 1579.6,961.4 1580.2,960.3 1580.8,959.2 1581.4,956 1582,955.2 1582.6,953.2 1583.2,953.6 1583.8,951.1 1584.4,950.2 1585,947.3 1585.6,946.5 1586.2,945.5 1586.8,942 1587.4,941.4 1588,938.4 1588.6,939.1 1589.2,937.8 1589.8,936.4 1590.4,934.3 1591,935 1591.6,935.3 1592.2,933.2 1592.8,932 1593.4,934.5 1594,935.8 1594.6,932.6 1595.2,933.9 1595.8,934.6 1596.4,933.1 1597,931.8 1597.6,933 1598.2,933 1598.8,931 1599.4,933.4 1600,932.7 1600.6,934.1 1601.2,933.9 1601.8,932.5 1602.4,934.7 1603,935.4 1603.6,932.6 1604.2,935.8 1604.8,935.8 1605.4,937.5 1606,941.4 1606.6,942.7 1607.2,942.4 1607.8,942.7 1608.4,944.1 1609,948.2 1609.6,948.1 1610.2,948 1610.8,952.6 1611.4,953.4 1612,956.4 1612.6,959 1613.2,958.1 1613.8,963 1614.4,964.2 1615,965.2 1615.6,965.1 1616.2,965.9 1616.8,970.9 1617.4,972.4 1618,974.1 1618.6,973.1 1619.2,976.5 1619.8,976.7 1620.4,977.2 1621,977.8 1621.6,976.5 1622.2,977.4 1622.8,977.6 1623.4,978.9 1624,980 1624.6,976.7 1625.2,975.8 1625.8,976.4 1626.4,978.9 1627,976.9 1627.6,977 1628.2,976.1 1628.8,978.8 1629.4,979.6 1630,977.3 1630.6,977.6 1631.2,979.1 1631.8,978 1632.4,978.1 1633,975.6 1633.6,976 1634.2,974.9 1634.8,975 1635.4,972.3 1636,972.2 1636.6,969.5 1637.2,968.2 1637.8,969.2 1638.4,966.9 1639,962.9 1639.6,964.8 1640.2,960.8 1640.8,958.8 1641.4,957.5 1642,955.7 1642.6,953.9 1643.2,951.5 1643.8,952.4 1644.4,949.1 1645,946.8 1645.6,945.4 1646.2,942.2 1646.8,942.3 1647.4,938.3 1648,938.6 1648.6,936.9 1649.2,934.8 1649.8,933.8 1650.4,932.9 1651,932.7 1651.6,932.6 1652.2,936.2 1652.8,934.7 1653.4,934.4 1654,933.6 1654.6,933.6 1655.2,936 1655.8,932.2 1656.4,932.8 1657,931.7 1657.6,934.6 1658.2,933 1658.8,933.8 1659.4,933.6 1660,933.9 1660.6,931.9 1661.2,934.4 1661.8,933.8 1662.4,932.9 1663,932 1663.6,936 1664.2,935.1 1664.8,936.5 1665.4,940.7 1666,940 1666.6,939.7 1667.2,944.6 1667.8,944.3 1668.4,946.5 1669,949 1669.6,949.5 1670.2,951.1 1670.8,952.7 1671.4,954.2 1672,958 1672.6,955.8 1673.2,958.7 1673.8,962.5 1674.4,961 1675,964.2 1675.6,964.9 1676.2,968.4 1676.8,968.1 1677.4,969.4 1678,973.4 1678.6,973.9 1679.2,976.2 1679.8,977.6 1680.4,978.8 1681,977.6 1681.6,980.7 1682.2,981.3 1682.8,978.5 1683.4,978.4 1684,981.7 1684.6,980.5 1685.2,980.8 1685.8,978 1686.4,981.9 1687,979.6 1687.6,978.1 1688.2,979.5 1688.8,977.5 1689.4,978.1 1690,980 1690.6,975.8 1691.2,976.9 1691.8,976.7 1692.4,975.9 1693,978.5 1693.6,976.8 1694.2,976.9 1694.8,973.9 1695.4,975.5 1696,972.4 1696.6,970.1 1697.2,970.1 1697.8,968.4 1698.4,967.8 1699,964.5 1699.6,965.1 1700.2,960.2 1700.8,960.8 1701.4,955.8 1702,953.9 1702.6,953.8 1703.2,950.8 1703.8,948.1 1704.4,948.4 1705,945.4 1705.6,946.1 1706.2,941.5 1706.8,940.3 1707.4,941.2 1708,937.1 1708.6,935.4 1709.2,934 1709.8,933.9 1710.4,933.8 1711,934.5 1711.6,935.1 1712.2,933.3 1712.8,931.3 1713.4,934.2 1714,933.2 1714.6,931.5 1715.2,934.3 1715.8,932.8 1716.4,931 1717,932.1 1717.6,931 1718.2,931.4 1718.8,933.2 1719.4,931 1720,933.7 1720.6,933.7 1721.2,934.4 1721.8,935.3 1722.4,931.6 1723,935.6 1723.6,935.3 1724.2,932.9 1724.8,934.1 1725.4,937.3 1726,938.8 1726.6,940.4 1727.2,943.8 1727.8,944.8 1728.4,945.5 1729,949.5 1729.6,950.9 1730.2,954.2 1730.8,952.9 1731.4,955.9 1732,957.1 1732.6,961.2 1733.2,962.8 1733.8,964.2 1734.4,963.8 1735,967.4 1735.6,967.9 1736.2,970.6 1736.8,970.8 1737.4,971.9 1738,976.3 1738.6,978.5 1739.2,977.8 1739.8,976.2 1740.4,979.6 1741,980.3 1741.6,977.5 1742.2,982 1742.8,982 1743.4,981.9 1744,978.5 1744.6,980.6 1745.2,978.1 1745.8,977.2 1746.4,980.8 1747,980.5 1747.6,977.3 1748.2,977.7 1748.8,979.2 1749.4,977.6 1750,980.3 1750.6,978.3 1751.2,976.9 1751.8,978.4 1752.4,975.1 1753,972.9 1753.6,971.8 1754.2,971.2 1754.8,971.2 1755.4,967.3 1756,965.9 1756.6,965.6 1757.2,962.3 1757.8,961.9 1758.4,960.1 1759,958 1759.6,956.9 1760.2,955.9 1760.8,951.2 1761.4,951.1 1762,947.1 1762.6,945.5 1763.2,944.7 1763.8,940.1 1764.4,938.1 1765,938.1 1765.6,935.8 1766.2,934.5 1766.8,933.1 1767.4,935.1 1768,931.9 1768.6,931.9 1769.2,934.3 1769.8,933.2 1770.4,932.7 1771,933.7 1771.6,930.3 1772.2,933.3 1772.8,933.7 1773.4,930 1774,933.1 1774.6,933.7 1775.2,932.9 1775.8,933.1 1776.4,934 1777,931.9 1777.6,931.9 1778.2,935.9 1778.8,932.7 1779.4,934.6 1780,935.6 1780.6,938.5 1781.2,939.1 1781.8,942.4 1782.4,944.1 1783,945.2 1783.6,947.1 1784.2,947.8 1784.8,950 1785.4,953.3 1786,954.4 1786.6,955.4 1787.2,958.1 1787.8,957.4 1788.4,960.3 1789,963.9 1789.6,965.8 1790.2,965.3 1790.8,966.5 1791.4,969.6 1792,969.4 1792.6,975.3 1793.2,974.7 1793.8,976.8 1794.4,978.4 1795,978.3 1795.6,980.4 1796.2,980.9 1796.8,980 1797.4,980.8 1798,978.2 1798.6,976.6 1799.2,978.3 1799.8,976.8 1800.4,979.3 1801,977.6 1801.6,979 1802.2,977.9 1802.8,978.5 1803.4,979 1804,977.1 1804.6,977.7 1805.2,976.9 1805.8,977.4 1806.4,979.1 1807,980.6 1807.6,977.4 1808.2,977 1808.8,975.7 1809.4,973.9 1810,967.8 1810.6,966.6 1811.2,966.1 1811.8,964.2 1812.4,962.1 1813,959.6 1813.6,955.1 1814.2,956.4 1814.8,952.5 1815.4,952.3 1816,947.7 1816.6,946.3 1817.2,947.8 1817.8,943.1 1818.4,943.7 1819,942.4 1819.6,937.2 1820.2,936.9 1820.8,937.3 1821.4,933.2 1822,935.6 1822.6,933.5 1823.2,934.4 1823.8,935.2 1824.4,934.3 1825,934.4 1825.6,933 1826.2,933.8 1826.8,932.6 1827.4,933.6 1828,934.4 1828.6,934.6 1829.2,934 1829.8,931.1 1830.4,932.4 1831,933.2 1831.6,932.8 1832.2,933 1832.8,931 1833.4,932.3 1834,934.7 1834.6,933.5 1835.2,936.4 1835.8,937.8 1836.4,937.1 1837,942 1837.6,942 1838.2,942.7 1838.8,947.1 1839.4,950.6 1840,951.3 1840.6,950.7 1841.2,954.6 1841.8,956.5 1842.4,957.8 1843,962.4 1843.6,964.3 1844.2,963.9 1844.8,967.3 1845.4,968.7 1846,970.6 1846.6,970.8 1847.2,976 1847.8,975.6 1848.4,977.9 1849,980.1 1849.6,982 1850.2,978.9 1850.8,980.8 1851.4,978.1 1852,978.9 1852.6,981.7 1853.2,980.8 1853.8,978.7 1854.4,981 1855,982.3 1855.6,981.4 1856.2,979.5 1856.8,981.4 1857.4,979.2 1858,981.6 1858.6,979 1859.2,980 1859.8,980.6 1860.4,978 1861,981.2 1861.6,978.4 1862.2,980.3 1862.8,976.5 1863.4,973.9 1864,973.3 1864.6,973 1865.2,969.8 1865.8,968.3 1866.4,968.4 1867,964.5 1867.6,960.3 1868.2,959.6 1868.8,955.8 1869.4,955.8 1870,951.9 1870.6,951.3 1871.2,948.8 1871.8,947.3 1872.4,944.8 1873,941.4 1873.6,942 1874.2,941.1 1874.8,938.7 1875.4,936.5 1876,934.5 1876.6,931.8 1877.2,934.2 1877.8,935.3 1878.4,932.2 1879,935 1879.6,930.4 1880.2,930.3 1880.8,932.8 1881.4,932.2 1882,929.1 1882.6,929.7 1883.2,929.9 1883.8,930.1 1884.4,929.6 1885,932.6 1885.6,931.8 1886.2,934.6 1886.8,931.9 1887.4,934.7 1888,934 1888.6,934.2 1889.2,933.7 1889.8,932.2 1890.4,934.8 1891,940.2 1891.6,938.8 1892.2,943.8 1892.8,944.6 1893.4,945.6 1894,947.7 1894.6,949.3 1895.2,949.6 1895.8,955.1 1896.4,954.2 1897,957.3 1897.6,958.6 1898.2,964 1898.8,963.2 1899.4,968.9 1900,970.6 1900.6,971.6 1901.2,972 1901.8,973.5 1902.4,975.6 1903,978.1 1903.6,978.4 1904.2,980.9 1904.8,982 1905.4,979.2 1906,979.9 1906.6,981.5 1907.2,979.3 1907.8,981.3 1908.4,980.7 1909,983.2 1909.6,981.4 1910.2,981 1910.8,979.9 1911.4,981.1 1912,981.8 1912.6,980.3 1913.2,980.6 1913.8,981.4 1914.4,982.6 1915,983.2 1915.6,981.8 1916.2,979.6 1916.8,980.8 1917.4,977.9 1918,979 1918.6,973.9 1919.2,975 1919.8,972.1 1920.4,967.3 1921,967.8 1921.6,963.4 1922.2,962.1 1922.8,961.2 1923.4,959.9 1924,956.6 1924.6,954.8 1925.2,954.3 1925.8,952.9 1926.4,950.6 1927,949.5 1927.6,944.9 1928.2,942.9 1928.8,944 1929.4,941 1930,937.6 1930.6,938.6 1931.2,936 1931.8,933.5 1932.4,931.4 1933,932.9 1933.6,933.7 1934.2,932.1 1934.8,931.4 1935.4,930.1 1936,932.1 1936.6,931.2 1937.2,930.5 1937.8,933.2 1938.4,931.9 1939,930.2 1939.6,930.5 1940.2,934.3 1940.8,933.9 1941.4,932 1942,934.4 1942.6,935.6 1943.2,935.3 1943.8,933.8 1944.4,932.6 1945,937.1 1945.6,938.2 1946.2,940.5 1946.8,943.7 1947.4,942.4 1948,945.8 1948.6,944.7 1949.2,948.2 1949.8,950.4 1950.4,952.8 1951,951.5 1951.6,955.9 1952.2,959.1 1952.8,960.4 1953.4,960.3 1954,964.4 1954.6,965.9 1955.2,968.2 1955.8,971 1956.4,971.8 1957,973.2 1957.6,975.4 1958.2,977.6 1958.8,979.6 1959.4,979.5 1960,980.9 1960.6,980.7 1961.2,981.3 1961.8,979.9 1962.4,981.7 1963,979.1 1963.6,982.3 1964.2,980.2 1964.8,981.6 1965.4,980.6 1966,980.4 1966.6,980.7 1967.2,981.8 1967.8,983.1 1968.4,979.7 1969,979.6 1969.6,980.9 1970.2,982.4 1970.8,979 1971.4,981.8 1972,981.7 1972.6,980.6 1973.2,976.7 1973.8,973.6 1974.4,971.6 1975,970.3 1975.6,966 1976.2,967.3 1976.8,961.7 1977.4,959.4 1978,959.8 1978.6,957.6 1979.2,956.5 1979.8,954.7 1980.4,951 1981,951.5 1981.6,946.6 1982.2,945.6 1982.8,943.5 1983.4,943.9 1984,942.6 1984.6,939.2 1985.2,937.2 1985.8,936.9 1986.4,932.5 1987,936.1 1987.6,935.3 1988.2,934.7 1988.8,931.2 1989.4,932.2 1990,932.6 1990.6,933.8 1991.2,930.9 1991.8,930.8 1992.4,931.2 1993,931.4 1993.6,930.6 1994.2,931.5 1994.8,933.9 1995.4,932.4 1996,932.5 1996.6,932.4 1997.2,932.3 1997.8,931.2 1998.4,934 1999,932.4 1999.6,931.5 2000.2,934.1 2000.8,937.5 2001.4,939.7 2002,943 2002.6,943.1 2003.2,946.2 2003.8,949 2004.4,949.1 2005,952.9 2005.6,954.3 2006.2,956.8 2006.8,955.4 2007.4,958.1 2008,961.1 2008.6,960.8 2009.2,964.1 2009.8,965.3 2010.4,969.5 2011,970.1 2011.6,971.4 2012.2,972.8 2012.8,975.5 2013.4,979.4 2014,981 2014.6,982.7 2015.2,982.3 2015.8,979.8 2016.4,982 2017,979.4 2017.6,981.3 2018.2,980.8 2018.8,982.2 2019.4,980.2 2020,980.4 2020.6,980.7 2021.2,979.2 2021.8,982 2022.4,980.4 2023,980.3 2023.6,979.9 2024.2,980 2024.8,979.9 2025.4,981.9 2026,978.8 2026.6,979 2027.2,978 2027.8,978.6 2028.4,975 2029,972.6 2029.6,971.5 2030.2,971.2 2030.8,971.1 2031.4,967.4 2032,967.5 2032.6,965.6 2033.2,962 2033.8,959.8 2034.4,957.3 2035,954.6 2035.6,950.7 2036.2,952.2 2036.8,948.2 2037.4,948.2 2038,944.1 2038.6,941.9 2039.2,940 2039.8,941.3 2040.4,936.1 2041,937.5 2041.6,934.2 2042.2,933.4 2042.8,934.8 2043.4,935 2044,930.8 2044.6,932.7 2045.2,929.8 2045.8,931.9 2046.4,932.5 2047,932.3 2047.6,933.3 2048.2,930 2048.8,931.1 2049.4,930.4 2050,930 2050.6,933.3 2051.2,933.3 2051.8,931.9 2052.4,932.9 2053,930.8 2053.6,933.4 2054.2,930.9 2054.8,934.1 2055.4,937.2 2056,937.3 2056.6,939.1 2057.2,938.7 2057.8,941.1 2058.4,946.3 2059,947.5 2059.6,947.7 2060.2,951.1 2060.8,953.4 2061.4,953 2062,956.3 2062.6,959 2063.2,959.9 2063.8,962.9 2064.4,967.4 2065,966.6 2065.6,970.9 2066.2,971.2 2066.8,977.3 2067.4,977.5 2068,980.8 2068.6,981.7 2069.2,982.5 2069.8,982.2 2070.4,983.2 2071,983.9 2071.6,982.4 2072.2,981.7 2072.8,983.8 2073.4,983.2 2074,979.7 2074.6,980.4 2075.2,979.7 2075.8,982 2076.4,980.1 2077,981.2 2077.6,980 2078.2,981.5 2078.8,981.6 2079.4,978.6 2080,982.1 2080.6,980.5 2081.2,980.6 2081.8,977.9 2082.4,973 2083,973.5 2083.6,971.6 2084.2,967.6 2084.8,967.7 2085.4,964.7 2086,960.9 2086.6,957.6 2087.2,959.3 2087.8,953.6 2088.4,951 2089,952.3 2089.6,947.7 2090.2,947.9 2090.8,942.3 2091.4,943.1 2092,939.2 2092.6,938.2 2093.2,935 2093.8,933 2094.4,934.4 2095,930.3 2095.6,932.1 2096.2,931.1 2096.8,932.1 2097.4,930.2 2098,933.1 2098.6,930.9 2099.2,932.1 2099.8,932.3 2100.4,932.9 2101,931.2 2101.6,930.5 2102.2,930.1 2102.8,930.6 2103.4,931.8 2104,933.6 2104.6,930.9 2105.2,932.7 2105.8,934.2 2106.4,932.7 2107,935.9 2107.6,939.7 2108.2,940.2 2108.8,942.9 2109.4,945.6 2110,947.1 2110.6,947.3 2111.2,951.9 2111.8,955.7 2112.4,957.1 2113,958.6 2113.6,962.6 2114.2,964.8 2114.8,964 2115.4,967.1 2116,968.6 2116.6,971 2117.2,972.5 2117.8,974.6 2118.4,977.9 2119,979.1 2119.6,981.5 2120.2,980.2 2120.8,979.4 2121.4,983 2122,982.7 2122.6,983.5 2123.2,984 2123.8,982.9 2124.4,982.8 2125,981.3 2125.6,981.3 2126.2,982 2126.8,984.4 2127.4,980.6 2128,982.1 2128.6,980.3 2129.2,982.2 2129.8,980.6 2130.4,983.6 2131,981 2131.6,982.8 2132.2,980.1 2132.8,975.1 2133.4,974 2134,974.4 2134.6,969.6 2135.2,968 2135.8,968 2136.4,966 2137,959.8 2137.6,960.4 2138.2,956.6 2138.8,955.1 2139.4,952.3 2140,949.5 2140.6,945.8 2141.2,947.4 2141.8,944.5 2142.4,940.4 2143,940.1 2143.6,937.5 2144.2,932.8 2144.8,933.5 2145.4,931.1 2146,933.8 2146.6,930.5 2147.2,931.9 2147.8,931.5 2148.4,931.2 2149,929.6 2149.6,931.8 2150.2,931.9 2150.8,933.6 2151.4,932.8 2152,931.9 2152.6,933.5 2153.2,932.9 2153.8,934.3 2154.4,934 2155,931.5 2155.6,931.3 2156.2,929.9 2156.8,932.7 2157.4,934.2 2158,936.4 2158.6,936.5 2159.2,940.1 2159.8,942.5 2160.4,943.6 2161,948.4 2161.6,948.3 2162.2,953.1 2162.8,951.4 2163.4,958 2164,958.4 2164.6,962.2 2165.2,965.2 2165.8,966.4 2166.4,966.3 2167,971.9 2167.6,972.8 2168.2,973 2168.8,977.6 2169.4,978.6 2170,979.5 2170.6,982.6 2171.2,983.1 2171.8,981.2 2172.4,983.9 2173,984.5 2173.6,984.4 2174.2,980.7 2174.8,981.5 2175.4,982.3 2176,980.4 2176.6,981 2177.2,981.9 2177.8,980.6 2178.4,981.3 2179,981.8 2179.6,983.1 2180.2,983.9 2180.8,981.8 2181.4,983.4 2182,983 2182.6,983.6 2183.2,981.1 2183.8,976.1 2184.4,974.5 2185,974.3 2185.6,971.1 2186.2,969.3 2186.8,963.4 2187.4,963.2 2188,960.9 2188.6,957.6 2189.2,958.8 2189.8,954.4 2190.4,952.3 2191,948.5 2191.6,945.5 2192.2,944.9 2192.8,943.5 2193.4,940.2 2194,939 2194.6,934.5 2195.2,934.2 2195.8,932.5 2196.4,932.8 2197,933.4 2197.6,932.6 2198.2,931.9 2198.8,929.2 2199.4,929.8 2200,932.4 2200.6,929.9 2201.2,932.1 2201.8,928.5 2202.4,929.9 2203,929.7 2203.6,930.3 2204.2,926.4 2204.8,930.3 2205.4,928.4 2206,927.6 2206.6,930.4 2207.2,931.3 2207.8,930.2 2208.4,933.2 2209,936.5 2209.6,938.9 2210.2,940.4 2210.8,943.8 2211.4,945.4 2212,945.6 2212.6,949.7 2213.2,953.2 2213.8,954.2 2214.4,957.7 2215,961.3 2215.6,962.2 2216.2,964.5 2216.8,966.7 2217.4,970 2218,969.2 2218.6,972.5 2219.2,973.2 2219.8,976.9 2220.4,978.4 2221,981.5 2221.6,982.6 2222.2,983.4 2222.8,983.6 2223.4,983.3 2224,985.2 2224.6,985.1 2225.2,983.9 2225.8,985 2226.4,982.8 2227,982.5 2227.6,985 2228.2,982 2228.8,981.3 2229.4,984.1 2230,982 2230.6,981.6 2231.2,983.2 2231.8,981.9 2232.4,981.6 2233,980.1 2233.6,980.3 2234.2,980.1 2234.8,975.8 2235.4,975.4 2236,971.7 2236.6,971 2237.2,966.2 2237.8,966 2238.4,963.3 2239,962 2239.6,955.9 2240.2,956.6 2240.8,952.5 2241.4,953 2242,950.6 2242.6,948.5 2243.2,943.7 2243.8,942 2244.4,941.5 2245,937.3 2245.6,936.7 2246.2,933.5 2246.8,929.1 2247.4,931.6 2248,931.3 2248.6,930.4 2249.2,929.1 2249.8,928.4 2250.4,929.2 2251,932.1 2251.6,929.3 2252.2,932.1 2252.8,930.3 2253.4,932.1 2254,931.7 2254.6,932.1 2255.2,929.1 2255.8,932.7 2256.4,932.3 2257,932.1 2257.6,932.7 2258.2,931.6 2258.8,932.3 2259.4,932.1 2260,935.2 2260.6,936.4 2261.2,940.2 2261.8,940.1 2262.4,943.7 2263,945.8 2263.6,949.9 2264.2,953.3 2264.8,956.6 2265.4,958.6 2266,959.1 2266.6,961.4 2267.2,962.6 2267.8,967.7 2268.4,970.7 2269,972.5 2269.6,973 2270.2,974.9 2270.8,976.4 2271.4,979.8 2272,984 2272.6,985.6 2273.2,983.1 2273.8,985.8 2274.4,983.8 2275,986 2275.6,984.1 2276.2,983.2 2276.8,983.5 2277.4,982.8 2278,983.7 2278.6,984.7 2279.2,985.1 2279.8,984.7 2280.4,985 2281,985 2281.6,984.7 2282.2,985.1 2282.8,985.5 2283.4,981.6 2284,982.9 2284.6,983.5 2285.2,978.9 2285.8,976.7 2286.4,974.3 2287,973.1 2287.6,969.6 2288.2,967.1 2288.8,963.2 2289.4,960.7 2290,960.8 2290.6,958.3 2291.2,956 2291.8,953.8 2292.4,950.4 2293,950 2293.6,945.4 2294.2,944 2294.8,943.1 2295.4,941.2 2296,938.4 2296.6,936.5 2297.2,935.1 2297.8,932.3 2298.4,931.3 2299,931.9 2299.6,929.2 2300.2,931.8 2300.8,928.8 2301.4,931.5 2302,929 2302.6,929 2303.2,930.3 2303.8,930.3 2304.4,932.1 2305,931.2 2305.6,931.3 2306.2,931.5 2306.8,930.9 2307.4,930.4 2308,930.7 2308.6,930.4 2309.2,931.6 2309.8,931.4 2310.4,935.1 2311,936.1 2311.6,937 2312.2,941.1 2312.8,942.2 2313.4,946.7 2314,948.8 2314.6,949.7 2315.2,951.8 2315.8,954.7 2316.4,958.2 2317,961.5 2317.6,962.4 2318.2,965.8 2318.8,969.1 2319.4,968.7 2320,972 2320.6,973.8 2321.2,974.7 2321.8,978.1 2322.4,980.7 2323,984.8 2323.6,984.1 2324.2,985.9 2324.8,984.2 2325.4,985 2326,985.6 2326.6,986.9 2327.2,983.8 2327.8,983.7 2328.4,987.1 2329,986.7 2329.6,983.8 2330.2,984.9 2330.8,984.8 2331.4,983.9 2332,984.7 2332.6,982.7 2333.2,984.1 2333.8,981.6 2334.4,982.4 2335,981.2 2335.6,980 2336.2,979.1 2336.8,979 2337.4,976.6 2338,971.2 2338.6,970.7 2339.2,967.3 2339.8,964.2 2340.4,961.2 2341,961.2 2341.6,956.3 2342.2,956.9 2342.8,952.8 2343.4,949.4 2344,950.1 2344.6,944.8 2345.2,943 2345.8,940.2 2346.4,941.5 2347,937.5 2347.6,934.3 2348.2,933.3 2348.8,929.4 2349.4,930.1 2350,932.2 2350.6,929.1 2351.2,931.3 2351.8,929.3 2352.4,929.8 2353,929 2353.6,930.4 2354.2,930.1 2354.8,929.8 2355.4,928.2 2356,931.4 2356.6,930.6 2357.2,929.4 2357.8,930.8 2358.4,927.3 2359,927.6 2359.6,930 2360.2,931.7 2360.8,930.5 2361.4,932.7 2362,937.3 2362.6,941.1 2363.2,943.7 2363.8,944.5 2364.4,947.4 2365,949.6 2365.6,953.6 2366.2,953.2 2366.8,954.5 2367.4,959.2 2368,961.2 2368.6,961.3 2369.2,964.1 2369.8,969.5 2370.4,971.2 2371,971.9 2371.6,976.2 2372.2,979.1 2372.8,983.1 2373.4,983 2374,984.7 2374.6,984.5 2375.2,983.4 2375.8,986.8 2376.4,983.1 2377,986.5 2377.6,984.2 2378.2,982.7 2378.8,986.6 2379.4,984.5 2380,985.5 2380.6,984.9 2381.2,984.1 2381.8,983.7 2382.4,984.9 2383,983.3 2383.6,982.8 2384.2,982.6 2384.8,982.5 2385.4,977.3 2386,975.2 2386.6,973.9 2387.2,971.8 2387.8,971.7 2388.4,966.8 2389,967.6 2389.6,961.2 2390.2,960.9 2390.8,956.2 2391.4,956.4 2392,950.6 2392.6,950.2 2393.2,947.4 2393.8,943 2394.4,939.2 2395,937.8 2395.6,932.1 2396.2,929.2 2396.8,930.5 2397.4,927.4 2398,927.7 2398.6,927.3 2399.2,926.2 2399.8,929.6 2400.4,929.8 2401,929.4 2401.6,930.7 2402.2,929.1 2402.8,929.3 2403.4,930.1 2404,927.9 2404.6,931.2 2405.2,931 2405.8,927.5 2406.4,931.8 2407,930.8 2407.6,933.2 2408.2,934.8 2408.8,937 2409.4,941.7 2410,943.4 2410.6,942.5 2411.2,948.5 2411.8,950.2 2412.4,953.4 2413,954.7 2413.6,958.7 2414.2,958.3 2414.8,964.3 2415.4,967.4 2416,966.4 2416.6,972.2 2417.2,973.7 2417.8,974.8 2418.4,977.1 2419,981.5 2419.6,984.8 2420.2,984.8 2420.8,982.5 2421.4,984.5 2422,985.6 2422.6,987.3 2423.2,986.8 2423.8,984.8 2424.4,985.4 2425,987 2425.6,984.9 2426.2,987.5 2426.8,984.6 2427.4,984.2 2428,984.8 2428.6,987.6 2429.2,987.2 2429.8,986.7 2430.4,985 2431,981.9 2431.6,980.9 2432.2,976.8 2432.8,974.2 2433.4,971.7 2434,968.9 2434.6,968.5 2435.2,963.4 2435.8,962.3 2436.4,957.9 2437,955.6 2437.6,951.8 2438.2,950.8 2438.8,947.7 2439.4,944.9 2440,940.5 2440.6,940.1 2441.2,934 2441.8,933.9 2442.4,931 2443,928.5 2443.6,930.5 2444.2,930.3 2444.8,929.1 2445.4,930.1 2446,928.8 2446.6,928.7 2447.2,930.5 2447.8,930.9 2448.4,929.2 2449,929.9 2449.6,929.8 2450.2,930.5 2450.8,930 2451.4,929.6 2452,930.7 2453,929.6" fill="none" stroke="#000000" stroke-width="5.5" stroke-linejoin="round" />
</g>
</g>
<g id="inset1">
<rect x="470.9" y="203.6" width="347.3" height="214.1" fill="#fff" stroke="#262626" stroke-width="4.6"/>
<path d="M528.7 417.7v-5.8M528.7 203.6v5.8M587.6 417.7v-5.8M587.6 203.6v5.8M646.6 417.7v-5.8M646.6 203.6v5.8M705.6 417.7v-5.8M705.6 203.6v5.8M764.5 417.7v-5.8M764.5 203.6v5.8M470.9 391.0h5.8M818.2 391.0h-5.8M470.9 323.9h5.8M818.2 323.9h-5.8M470.9 256.8h5.8M818.2 256.8h-5.8" stroke="#262626" stroke-width="3.6" fill="none"/>
<g clip-path="url(#ci1)">
<polyline points="470.9,438.5 471.4,437.5 471.9,436.4 472.4,435.4 472.9,434.3 473.4,433.3 473.9,432.2 474.4,431.2 474.9,430.1 475.4,429.1 475.9,428.1 476.4,427 476.9,426 477.4,425 477.9,423.9 478.4,422.9 478.8,421.9 479.3,420.8 479.8,419.8 480.3,418.8 480.8,417.8 481.3,416.8 481.8,415.8 482.3,414.8 482.8,413.7 483.3,412.7 483.8,411.7 484.3,410.7 484.8,409.7 485.3,408.7 485.8,407.7 486.3,406.8 486.8,405.8 487.3,404.8 487.8,403.8 488.3,402.8 488.8,401.8 489.3,400.9 489.8,399.9 490.3,398.9 490.8,397.9 491.3,397 491.8,396 492.3,395 492.8,394.1 493.3,393.1 493.8,392.2 494.3,391.2 494.7,390.3 495.2,389.3 495.7,388.4 496.2,387.4 496.7,386.5 497.2,385.5 497.7,384.6 498.2,383.7 498.7,382.7 499.2,381.8 499.7,380.9 500.2,380 500.7,379.1 501.2,378.1 501.7,377.2 502.2,376.3 502.7,375.4 503.2,374.5 503.7,373.6 504.2,372.7 504.7,371.8 505.2,370.9 505.7,370 506.2,369.1 506.7,368.2 507.2,367.4 507.7,366.5 508.2,365.6 508.7,364.7 509.2,363.8 509.7,363 510.2,362.1 510.6,361.2 511.1,360.4 511.6,359.5 512.1,358.7 512.6,357.8 513.1,357 513.6,356.1 514.1,355.3 514.6,354.4 515.1,353.6 515.6,352.8 516.1,351.9 516.6,351.1 517.1,350.3 517.6,349.5 518.1,348.6 518.6,347.8 519.1,347 519.6,346.2 520.1,345.4 520.6,344.6 521.1,343.8 521.6,343 522.1,342.2 522.6,341.4 523.1,340.6 523.6,339.8 524.1,339.1 524.6,338.3 525.1,337.5 525.6,336.7 526.1,336 526.5,335.2 527,334.4 527.5,333.7 528,332.9 528.5,332.2 529,331.4 529.5,330.7 530,329.9 530.5,329.2 531,328.5 531.5,327.7 532,327 532.5,326.3 533,325.6 533.5,324.8 534,324.1 534.5,323.4 535,322.7 535.5,322 536,321.3 536.5,320.6 537,319.9 537.5,319.2 538,318.5 538.5,317.8 539,317.1 539.5,316.5 540,315.8 540.5,315.1 541,314.4 541.5,313.8 541.9,313.1 542.4,312.5 542.9,311.8 543.4,311.2 543.9,310.5 544.4,309.9 544.9,309.2 545.4,308.6 545.9,308 546.4,307.3 546.9,306.7 547.4,306.1 547.9,305.5 548.4,304.8 548.9,304.2 549.4,303.6 549.9,303 550.4,302.4 550.9,301.8 551.4,301.2 551.9,300.6 552.4,300.1 552.9,299.5 553.4,298.9 553.9,298.3 554.4,297.8 554.9,297.2 555.4,296.6 555.9,296.1 556.4,295.5 556.9,295 557.4,294.4 557.8,293.9 558.3,293.3 558.8,292.8 559.3,292.2 559.8,291.7 560.3,291.2 560.8,290.7 561.3,290.2 561.8,289.6 562.3,289.1 562.8,288.6 563.3,288.1 563.8,287.6 564.3,287.1 564.8,286.6 565.3,286.1 565.8,285.7 566.3,285.2 566.8,284.7 567.3,284.2 567.8,283.8 568.3,283.3 568.8,282.8 569.3,282.4 569.8,281.9 570.3,281.5 570.8,281 571.3,280.6 571.8,280.1 572.3,279.7 572.8,279.3 573.3,278.9 573.7,278.4 574.2,278 574.7,277.6 575.2,277.2 575.7,276.8 576.2,276.4 576.7,276 577.2,275.6 577.7,275.2 578.2,274.8 578.7,274.4 579.2,274.1 579.7,273.7 580.2,273.3 580.7,272.9 581.2,272.6 581.7,272.2 582.2,271.9 582.7,271.5 583.2,271.2 583.7,270.8 584.2,270.5 584.7,270.2 585.2,269.8 585.7,269.5 586.2,269.2 586.7,268.9 587.2,268.5 587.7,268.2 588.2,267.9 588.7,267.6 589.2,267.3 589.6,267 590.1,266.7 590.6,266.5 591.1,266.2 591.6,265.9 592.1,265.6 592.6,265.4 593.1,265.1 593.6,264.8 594.1,264.6 594.6,264.3 595.1,264.1 595.6,263.8 596.1,263.6 596.6,263.4 597.1,263.1 597.6,262.9 598.1,262.7 598.6,262.5 599.1,262.2 599.6,262 600.1,261.8 600.6,261.6 601.1,261.4 601.6,261.2 602.1,261 602.6,260.9 603.1,260.7 603.6,260.5 604.1,260.3 604.6,260.1 605.1,260 605.5,259.8 606,259.7 606.5,259.5 607,259.4 607.5,259.2 608,259.1 608.5,258.9 609,258.8 609.5,258.7 610,258.6 610.5,258.4 611,258.3 611.5,258.2 612,258.1 612.5,258 613,257.9 613.5,257.8 614,257.7 614.5,257.6 615,257.6 615.5,257.5 616,257.4 616.5,257.3 617,257.3 617.5,257.2 618,257.2 618.5,257.1 619,257.1 619.5,257 620,257 620.5,256.9 620.9,256.9 621.4,256.9 621.9,256.9 622.4,256.8 622.9,256.8 623.4,256.8 623.9,256.8 624.4,256.8 624.9,256.8 625.4,256.8 625.9,256.8 626.4,256.8 626.9,256.9 627.4,256.9 627.9,256.9 628.4,256.9 628.9,257 629.4,257 629.9,257.1 630.4,257.1 630.9,257.2 631.4,257.2 631.9,257.3 632.4,257.4 632.9,257.4 633.4,257.5 633.9,257.6 634.4,257.7 634.9,257.7 635.4,257.8 635.9,257.9 636.4,258 636.8,258.1 637.3,258.2 637.8,258.4 638.3,258.5 638.8,258.6 639.3,258.7 639.8,258.8 640.3,259 640.8,259.1 641.3,259.3 641.8,259.4 642.3,259.6 642.8,259.7 643.3,259.9 643.8,260 644.3,260.2 644.8,260.4 645.3,260.5 645.8,260.7 646.3,260.9 646.8,261.1 647.3,261.3 647.8,261.5 648.3,261.7 648.8,261.9 649.3,262.1 649.8,262.3 650.3,262.5 650.8,262.7 651.3,263 651.8,263.2 652.3,263.4 652.7,263.7 653.2,263.9 653.7,264.1 654.2,264.4 654.7,264.7 655.2,264.9 655.7,265.2 656.2,265.4 656.7,265.7 657.2,266 657.7,266.3 658.2,266.5 658.7,266.8 659.2,267.1 659.7,267.4 660.2,267.7 660.7,268 661.2,268.3 661.7,268.6 662.2,268.9 662.7,269.3 663.2,269.6 663.7,269.9 664.2,270.2 664.7,270.6 665.2,270.9 665.7,271.3 666.2,271.6 666.7,272 667.2,272.3 667.7,272.7 668.2,273 668.6,273.4 669.1,273.8 669.6,274.2 670.1,274.5 670.6,274.9 671.1,275.3 671.6,275.7 672.1,276.1 672.6,276.5 673.1,276.9 673.6,277.3 674.1,277.7 674.6,278.1 675.1,278.5 675.6,279 676.1,279.4 676.6,279.8 677.1,280.3 677.6,280.7 678.1,281.1 678.6,281.6 679.1,282 679.6,282.5 680.1,283 680.6,283.4 681.1,283.9 681.6,284.4 682.1,284.8 682.6,285.3 683.1,285.8 683.6,286.3 684,286.8 684.5,287.3 685,287.7 685.5,288.2 686,288.8 686.5,289.3 687,289.8 687.5,290.3 688,290.8 688.5,291.3 689,291.9 689.5,292.4 690,292.9 690.5,293.5 691,294 691.5,294.6 692,295.1 692.5,295.7 693,296.2 693.5,296.8 694,297.3 694.5,297.9 695,298.5 695.5,299.1 696,299.6 696.5,300.2 697,300.8 697.5,301.4 698,302 698.5,302.6 699,303.2 699.5,303.8 699.9,304.4 700.4,305 700.9,305.6 701.4,306.3 701.9,306.9 702.4,307.5 702.9,308.1 703.4,308.8 703.9,309.4 704.4,310 704.9,310.7 705.4,311.3 705.9,312 706.4,312.6 706.9,313.3 707.4,314 707.9,314.6 708.4,315.3 708.9,316 709.4,316.6 709.9,317.3 710.4,318 710.9,318.7 711.4,319.4 711.9,320.1 712.4,320.8 712.9,321.5 713.4,322.2 713.9,322.9 714.4,323.6 714.9,324.3 715.4,325 715.8,325.7 716.3,326.5 716.8,327.2 717.3,327.9 717.8,328.7 718.3,329.4 718.8,330.1 719.3,330.9 719.8,331.6 720.3,332.4 720.8,333.1 721.3,333.9 721.8,334.6 722.3,335.4 722.8,336.2 723.3,336.9 723.8,337.7 724.3,338.5 724.8,339.3 725.3,340.1 725.8,340.8 726.3,341.6 726.8,342.4 727.3,343.2 727.8,344 728.3,344.8 728.8,345.6 729.3,346.4 729.8,347.2 730.3,348.1 730.8,348.9 731.3,349.7 731.7,350.5 732.2,351.3 732.7,352.2 733.2,353 733.7,353.8 734.2,354.7 734.7,355.5 735.2,356.4 735.7,357.2 736.2,358.1 736.7,358.9 737.2,359.8 737.7,360.6 738.2,361.5 738.7,362.3 739.2,363.2 739.7,364.1 740.2,365 740.7,365.8 741.2,366.7 741.7,367.6 742.2,368.5 742.7,369.4 743.2,370.3 743.7,371.1 744.2,372 744.7,372.9 745.2,373.8 745.7,374.7 746.2,375.7 746.7,376.6 747.2,377.5 747.6,378.4 748.1,379.3 748.6,380.2 749.1,381.1 749.6,382.1 750.1,383 750.6,383.9 751.1,384.9 751.6,385.8 752.1,386.7 752.6,387.7 753.1,388.6 753.6,389.6 754.1,390.5 754.6,391.5 755.1,392.4 755.6,393.4 756.1,394.3 756.6,395.3 757.1,396.3 757.6,397.2 758.1,398.2 758.6,399.2 759.1,400.1 759.6,401.1 760.1,402.1 760.6,403.1 761.1,404.1 761.6,405 762.1,406 762.6,407 763,408 763.5,409 764,410 764.5,411 765,412 765.5,413 766,414 766.5,415 767,416 767.5,417.1 768,418.1 768.5,419.1 769,420.1 769.5,421.1 770,422.1 770.5,423.2 771,424.2 771.5,425.2 772,426.3 772.5,427.3 773,428.3 773.5,429.4 774,430.4 774.5,431.5 775,432.5 775.5,433.5 776,434.6 776.5,435.6 777,436.7 777.5,437.8 778,438.8 778.5,439.9 778.9,440.9 779.4,442 779.9,443.1 780.4,444.1 780.9,445.2 781.4,446.3 781.9,447.3 782.4,448.4 782.9,449.5 783.4,450.6 783.9,451.6 784.4,452.7 784.9,453.8 785.4,454.9 785.9,456 786.4,457 786.9,458.1 787.4,459.2 787.9,460.3 788.4,461.4 788.9,462.5 789.4,463.6 789.9,464.7 790.4,465.8 790.9,466.9 791.4,468 791.9,469.1 792.4,470.2 792.9,471.3 793.4,472.4 793.9,473.6 794.4,474.7 794.8,475.8 795.3,476.9 795.8,478 796.3,479.1 796.8,480.3 797.3,481.4 797.8,482.5 798.3,483.6 798.8,484.7 799.3,485.9 799.8,487 800.3,488.1 800.8,489.3 801.3,490.4 801.8,491.5 802.3,492.7 802.8,493.8 803.3,494.9 803.8,496.1 804.3,497.2 804.8,498.4 805.3,499.5 805.8,500.6 806.3,501.8 806.8,502.9 807.3,504.1 807.8,505.2 808.3,506.4 808.8,507.5 809.3,508.7 809.8,509.8 810.3,511 810.7,512.1 811.2,513.3 811.7,514.4 812.2,515.6 812.7,516.8 813.2,517.9 813.7,519.1 814.2,520.2 814.7,521.4 815.2,522.6 815.7,523.7 816.2,524.9 816.7,526.1 817.2,527.2 817.7,528.4 818.2,529.6" fill="none" stroke="#ff0000" stroke-width="3.7" stroke-linejoin="round" />
<polyline points="470.9,432.7 471.4,432.4 471.9,430.4 472.4,431.1 472.9,428.4 473.4,427.6 473.9,427 474.4,425.3 474.9,425.4 475.4,424 475.9,423.1 476.4,422.4 476.9,421.2 477.4,420.8 477.9,420.5 478.4,418.5 478.8,417.5 479.3,416.3 479.8,416.1 480.3,414.1 480.8,415.2 481.3,409.2 481.8,409.1 482.3,409 482.8,412.5 483.3,410.8 483.8,409.6 484.3,407.7 484.8,405.2 485.3,403.5 485.8,404.3 486.3,401.7 486.8,402.5 487.3,401.6 487.8,399.9 488.3,398.9 488.8,400.1 489.3,399.9 489.8,399.4 490.3,398.1 490.8,396.3 491.3,394.4 491.8,389.9 492.3,389.8 492.8,387.1 493.3,390.6 493.8,389.1 494.3,387 494.7,388.9 495.2,388.8 495.7,389.1 496.2,383.3 496.7,382.8 497.2,381.4 497.7,382.9 498.2,380.1 498.7,379.3 499.2,379.2 499.7,379.5 500.2,377.1 500.7,374.9 501.2,374.7 501.7,375.2 502.2,369.9 502.7,368.1 503.2,367.7 503.7,367.3 504.2,367.2 504.7,365 505.2,367.6 505.7,365.8 506.2,367.4 506.7,365.9 507.2,361.2 507.7,362 508.2,361 508.7,360.2 509.2,361.8 509.7,361.5 510.2,358.5 510.6,359.7 511.1,356.4 511.6,356.4 512.1,356.1 512.6,355.7 513.1,352.7 513.6,352.1 514.1,352.5 514.6,352 515.1,352.6 515.6,349 516.1,349.7 516.6,347 517.1,348 517.6,346.6 518.1,345.4 518.6,343.4 519.1,342.1 519.6,341.6 520.1,343.6 520.6,341.2 521.1,342.2 521.6,340.1 522.1,339.6 522.6,340.4 523.1,337.5 523.6,338.2 524.1,338.2 524.6,335.2 525.1,334 525.6,334.8 526.1,336.1 526.5,336.4 527,331.7 527.5,332.3 528,331.1 528.5,330.1 529,331.3 529.5,331.5 530,329.2 530.5,327.2 531,326.2 531.5,326.2 532,325.3 532.5,326.9 533,324.8 533.5,324.9 534,323.9 534.5,322.6 535,319.7 535.5,320 536,319.3 536.5,320.1 537,320.1 537.5,319.6 538,319.5 538.5,317.9 539,316.6 539.5,319.1 540,317.4 540.5,316.3 541,313.1 541.5,313.2 541.9,311.3 542.4,311.2 542.9,310.4 543.4,308.9 543.9,310.6 544.4,310.7 544.9,309.3 545.4,308.8 545.9,306.9 546.4,307 546.9,306.1 547.4,305.3 547.9,303.7 548.4,307.5 548.9,306.4 549.4,303.3 549.9,305.2 550.4,304.7 550.9,301.9 551.4,303.3 551.9,302.8 552.4,299.5 552.9,294.7 553.4,294.2 553.9,292.8 554.4,296.1 554.9,296 555.4,295.6 555.9,294.2 556.4,295.4 556.9,293.3 557.4,294.7 557.8,293.4 558.3,293.9 558.8,291.4 559.3,292.9 559.8,291.4 560.3,288.4 560.8,287.9 561.3,287.3 561.8,292.5 562.3,289.6 562.8,289.4 563.3,288.5 563.8,287.8 564.3,287.4 564.8,284.4 565.3,284.3 565.8,283.3 566.3,287.9 566.8,286.5 567.3,286.9 567.8,285.1 568.3,284.7 568.8,285.4 569.3,283.6 569.8,284.9 570.3,284.5 570.8,285 571.3,283.4 571.8,283.7 572.3,281.9 572.8,280.7 573.3,282.7 573.7,281.3 574.2,279.5 574.7,279 575.2,279.7 575.7,279.6 576.2,280.3 576.7,279.9 577.2,278.3 577.7,279.8 578.2,278.2 578.7,279.9 579.2,279.2 579.7,281 580.2,280.1 580.7,279.5 581.2,274.2 581.7,272.6 582.2,272.5 582.7,275.6 583.2,276.3 583.7,275.6 584.2,275.2 584.7,274.5 585.2,275.7 585.7,271.4 586.2,273.4 586.7,272.7 587.2,269.2 587.7,268.8 588.2,269.9 588.7,271.8 589.2,271.8 589.6,270.7 590.1,269.6 590.6,268.4 591.1,267.9 591.6,271.7 592.1,270.8 592.6,272.2 593.1,265.8 593.6,266.5 594.1,267.3 594.6,266.1 595.1,265.1 595.6,266.2 596.1,265.9 596.6,264.3 597.1,265.1 597.6,265.9 598.1,266.4 598.6,263.9 599.1,264.2 599.6,266.1 600.1,265 600.6,263.5 601.1,263.1 601.6,264.2 602.1,265.3 602.6,265.4 603.1,264.5 603.6,258.8 604.1,260.4 604.6,258.9 605.1,263.7 605.5,263.1 606,264.3 606.5,262.2 607,261.8 607.5,263 608,261 608.5,262.5 609,260.2 609.5,262.7 610,260.9 610.5,260.6 611,262.4 611.5,261.4 612,261.9 612.5,262.9 613,260.6 613.5,261.5 614,262.8 614.5,264.5 615,264.9 615.5,263.8 616,264.5 616.5,263.1 617,263.4 617.5,262.4 618,264.2 618.5,262.1 619,259.9 619.5,262.7 620,259.4 620.5,258.9 620.9,259.5 621.4,265.2 621.9,263 622.4,264 622.9,261.6 623.4,262.3 623.9,261.6 624.4,265.7 624.9,265.4 625.4,263.4 625.9,261.8 626.4,260.4 626.9,262.2 627.4,264.7 627.9,264 628.4,263.7 628.9,258.6 629.4,258.6 629.9,258.7 630.4,263.7 630.9,262.8 631.4,264.8 631.9,262.3 632.4,260.6 632.9,261.4 633.4,263.5 633.9,264.3 634.4,264.6 634.9,264 635.4,261.8 635.9,263.1 636.4,262.9 636.8,263.1 637.3,263.3 637.8,266.4 638.3,267.5 638.8,266.1 639.3,263.2 639.8,263 640.3,263.1 640.8,265.5 641.3,266.7 641.8,265.6 642.3,263.8 642.8,265.5 643.3,266.9 643.8,266.4 644.3,265.8 644.8,267 645.3,272.1 645.8,269.6 646.3,270.7 646.8,269.4 647.3,270.8 647.8,269.8 648.3,269.4 648.8,269.1 649.3,270 649.8,271.2 650.3,269.8 650.8,269.5 651.3,270 651.8,268.9 652.3,271.2 652.7,271.3 653.2,270.9 653.7,271.4 654.2,273.8 654.7,273 655.2,273.1 655.7,270.9 656.2,273.3 656.7,273.2 657.2,273.3 657.7,274.1 658.2,275.5 658.7,277 659.2,276.4 659.7,277.5 660.2,275.8 660.7,276.6 661.2,277.8 661.7,279.2 662.2,279 662.7,280.5 663.2,278.3 663.7,279.5 664.2,279.4 664.7,280.1 665.2,283.1 665.7,281.2 666.2,281.7 666.7,282.8 667.2,282.4 667.7,282.5 668.2,284.6 668.6,284.4 669.1,284.2 669.6,285.1 670.1,285.8 670.6,288.3 671.1,288.8 671.6,289.9 672.1,284.9 672.6,286.4 673.1,284.8 673.6,287.8 674.1,288.6 674.6,288.8 675.1,288.7 675.6,289.8 676.1,288.8 676.6,291.8 677.1,291.1 677.6,291.7 678.1,290.3 678.6,291.9 679.1,294 679.6,291.2 680.1,292 680.6,293 681.1,292.7 681.6,294.9 682.1,293.5 682.6,296.5 683.1,294.1 683.6,296.6 684,296 684.5,296.7 685,298 685.5,299.1 686,298.9 686.5,300.4 687,302.5 687.5,301.3 688,303.2 688.5,300.7 689,301.8 689.5,302.2 690,306.2 690.5,305.8 691,306.7 691.5,306.4 692,307.7 692.5,307.7 693,306.8 693.5,306.2 694,306 694.5,308.6 695,309 695.5,308.5 696,310 696.5,309.1 697,311.3 697.5,311.1 698,311.6 698.5,312.4 699,310.2 699.5,313 699.9,312.9 700.4,317.5 700.9,317.4 701.4,319.5 701.9,318.5 702.4,319.6 702.9,318.9 703.4,323.2 703.9,324.7 704.4,325.9 704.9,325.3 705.4,325.3 705.9,325.8 706.4,325.9 706.9,327.3 707.4,325.8 707.9,329.3 708.4,330.7 708.9,331.3 709.4,334.3 709.9,334.8 710.4,333.9 710.9,331.1 711.4,331.4 711.9,331.7 712.4,338.3 712.9,336.6 713.4,337.5 713.9,338.8 714.4,342.2 714.9,340.6 715.4,338.9 715.8,340.9 716.3,340.9 716.8,342.3 717.3,342.1 717.8,341.6 718.3,341.8 718.8,341.6 719.3,343.3 719.8,344.5 720.3,347.3 720.8,348 721.3,347.3 721.8,349.7 722.3,347.3 722.8,348.5 723.3,350.7 723.8,349.9 724.3,348.6 724.8,351 725.3,351.4 725.8,354 726.3,355.6 726.8,354.4 727.3,356.7 727.8,358.2 728.3,360.4 728.8,360.3 729.3,360.8 729.8,361.8 730.3,362.3 730.8,363.2 731.3,362.5 731.7,364.5 732.2,366 732.7,367.5 733.2,369.8 733.7,369.4 734.2,369.7 734.7,373.7 735.2,373.6 735.7,373.6 736.2,374.5 736.7,375 737.2,376.1 737.7,376.7 738.2,379.4 738.7,379.6 739.2,379.4 739.7,381.4 740.2,381.5 740.7,377.6 741.2,378.4 741.7,379 742.2,384.2 742.7,384.2 743.2,386.8 743.7,385.3 744.2,385.9 744.7,386.2 745.2,390 745.7,389.3 746.2,391.2 746.7,391.8 747.2,391.3 747.6,391.8 748.1,395.9 748.6,394.1 749.1,397.9 749.6,398.2 750.1,399.1 750.6,400 751.1,400.3 751.6,398.8 752.1,401.6 752.6,405.3 753.1,405 753.6,405.2 754.1,409.2 754.6,407.6 755.1,411 755.6,410.1 756.1,412.2 756.6,412.3 757.1,413.6 757.6,415.7 758.1,415.8 758.6,416.2 759.1,415.7 759.6,418.3 760.1,417 760.6,419.3 761.1,422.4 761.6,425.4 762.1,424.3 762.6,425.4 763,425.5 763.5,427.7 764,428.1 764.5,425 765,425.8 765.5,428.9 766,431.8 766.5,432.7 767,431.8 767.5,433.8 768,436 768.5,436 769,435.1 769.5,434.2 770,436.3 770.5,439.9 771,441.1 771.5,440.8 772,443 772.5,443.5 773,445.9 773.5,444.3 774,444.2 774.5,444.2 775,446.7 775.5,447.1 776,447.8 776.5,449.6 777,449.9 777.5,451.9 778,455.7 778.5,457.7 778.9,458.7 779.4,459.5 779.9,461.5 780.4,463.5 780.9,463.6 781.4,464.6 781.9,463.2 782.4,465.2 782.9,466.2 783.4,467.2 783.9,470.8 784.4,471.7 784.9,472.3 785.4,471.3 785.9,470.7 786.4,474 786.9,477.8 787.4,478 787.9,478.5 788.4,481.6 788.9,480.8 789.4,483.2 789.9,482.6 790.4,485.1 790.9,484.7 791.4,486.6 791.9,485.9 792.4,486.2 792.9,491 793.4,492.9 793.9,491.7 794.4,492.8 794.8,494.7 795.3,494.6 795.8,494.8 796.3,496.4 796.8,496.9 797.3,499.9 797.8,500.5 798.3,501.4 798.8,505.2 799.3,507.8 799.8,507.3 800.3,505.6 800.8,506.4 801.3,509 801.8,510.1 802.3,511.1 802.8,511.1 803.3,515.5 803.8,517.6 804.3,520.1 804.8,520.8 805.3,522.3 805.8,523.7 806.3,523.9 806.8,523.5 807.3,527 807.8,526.2 808.3,527.8 808.8,528.1 809.3,531.1 809.8,532.3 810.3,534.4 810.7,532.2 811.2,534.3 811.7,534.9 812.2,535.9 812.7,534.7 813.2,536.1 813.7,541.4 814.2,541 814.7,543.9 815.2,541.5 815.7,544.3 816.2,544.9 816.7,545.6 817.2,547.6 817.7,548.3 818.2,551.2" fill="none" stroke="#0000ff" stroke-width="3.3" stroke-linejoin="round" />
<polyline points="470.9,471.7 471.4,469.6 471.9,469 472.4,465.5 472.9,465.8 473.4,464.1 473.9,464.6 474.4,462.8 474.9,463.1 475.4,460.1 475.9,460.5 476.4,460.2 476.9,457.4 477.4,455.8 477.9,454.6 478.4,456.2 478.8,451.9 479.3,452.8 479.8,449.8 480.3,449.6 480.8,445.7 481.3,446.9 481.8,446.7 482.3,445.8 482.8,447.9 483.3,445.4 483.8,444 484.3,445.3 484.8,445.3 485.3,442.7 485.8,441.7 486.3,439.7 486.8,439.6 487.3,434.7 487.8,433.8 488.3,433.2 488.8,431.2 489.3,430.2 489.8,429.5 490.3,430.5 490.8,428.6 491.3,428.7 491.8,429 492.3,427 492.8,427.3 493.3,425.9 493.8,424.2 494.3,422.7 494.7,421.1 495.2,419.9 495.7,418.2 496.2,418.2 496.7,418.2 497.2,415.7 497.7,415.4 498.2,415.9 498.7,414.5 499.2,411.5 499.7,409.8 500.2,409 500.7,408.3 501.2,407 501.7,406.9 502.2,407 502.7,407.1 503.2,407.6 503.7,403.9 504.2,402.7 504.7,401.9 505.2,404.1 505.7,401.5 506.2,400.7 506.7,399.7 507.2,399.1 507.7,398.4 508.2,395.7 508.7,397.2 509.2,395.8 509.7,394.6 510.2,393.5 510.6,392.3 511.1,391.6 511.6,391.9 512.1,389.8 512.6,387.9 513.1,387.7 513.6,384.4 514.1,385.1 514.6,384.1 515.1,383.9 515.6,384.7 516.1,383.1 516.6,381.6 517.1,380.5 517.6,377.6 518.1,376.9 518.6,374.6 519.1,372.9 519.6,372.5 520.1,375.2 520.6,375.7 521.1,375.6 521.6,372.9 522.1,371.4 522.6,371.9 523.1,373.5 523.6,373.2 524.1,370.9 524.6,367.5 525.1,366.3 525.6,364.6 526.1,366.2 526.5,364.6 527,363 527.5,359.6 528,359.5 528.5,358.8 529,362.2 529.5,360.4 530,360.6 530.5,358.4 531,357.4 531.5,353.7 532,357 532.5,357 533,356.6 533.5,355.1 534,352.6 534.5,353.9 535,351 535.5,348.8 536,349.3 536.5,349.2 537,350.4 537.5,348.5 538,346.9 538.5,346.1 539,345 539.5,344.9 540,344.4 540.5,346.1 541,339.8 541.5,339.2 541.9,339.5 542.4,338.1 542.9,337.9 543.4,337.1 543.9,335.6 544.4,334.8 544.9,334 545.4,334.6 545.9,334.6 546.4,332.4 546.9,332.5 547.4,333.6 547.9,332.3 548.4,329 548.9,329.2 549.4,326.1 549.9,327.8 550.4,328.6 550.9,325.8 551.4,328 551.9,328.4 552.4,326.6 552.9,324.7 553.4,324.1 553.9,323.6 554.4,319.2 554.9,319.7 555.4,318.7 555.9,317.8 556.4,318 556.9,315.1 557.4,318 557.8,318.2 558.3,316 558.8,315.5 559.3,314.2 559.8,314.3 560.3,318.1 560.8,316 561.3,317.1 561.8,313.4 562.3,312.1 562.8,311 563.3,312.6 563.8,313.5 564.3,311.3 564.8,310 565.3,308.1 565.8,307.2 566.3,305 566.8,305.1 567.3,304.9 567.8,305.9 568.3,306.2 568.8,305.5 569.3,298 569.8,298.9 570.3,299.1 570.8,301.5 571.3,301.5 571.8,300 572.3,296.3 572.8,294.7 573.3,294.3 573.7,295.1 574.2,293.3 574.7,291.7 575.2,295.5 575.7,293.4 576.2,294.4 576.7,292.7 577.2,290.9 577.7,289.4 578.2,290.3 578.7,291.5 579.2,290.9 579.7,288 580.2,286.7 580.7,286.7 581.2,286.8 581.7,287.1 582.2,285 582.7,285.4 583.2,284.4 583.7,285.2 584.2,280 584.7,279 585.2,279.5 585.7,279.3 586.2,279.3 586.7,278.9 587.2,278.1 587.7,277.3 588.2,275.3 588.7,276.7 589.2,277.6 589.6,275.8 590.1,278.3 590.6,276.2 591.1,276.2 591.6,274.7 592.1,272.9 592.6,273.4 593.1,274.7 593.6,273.3 594.1,272.8 594.6,271.4 595.1,271.2 595.6,271.2 596.1,268.5 596.6,267.9 597.1,267.8 597.6,269.7 598.1,268.7 598.6,269.8 599.1,271.6 599.6,271.3 600.1,269.7 600.6,270.1 601.1,269.5 601.6,271.1 602.1,266.9 602.6,266.5 603.1,266.5 603.6,267.2 604.1,264.4 604.6,265.4 605.1,263.8 605.5,265.1 606,264.3 606.5,262.3 607,261.3 607.5,262.7 608,263.1 608.5,263 609,262.1 609.5,264.4 610,261.5 610.5,262.4 611,264 611.5,263.5 612,261.9 612.5,261.7 613,262.3 613.5,261.8 614,259.7 614.5,260.9 615,261.3 615.5,260.1 616,259.4 616.5,260.3 617,260.9 617.5,261.1 618,260.6 618.5,258.6 619,259.5 619.5,259.3 620,259.4 620.5,260.8 620.9,261.4 621.4,260 621.9,259.4 622.4,261.8 622.9,259.8 623.4,259.7 623.9,258.9 624.4,255.4 624.9,255.4 625.4,257.4 625.9,257.5 626.4,259 626.9,260.1 627.4,256.5 627.9,256.1 628.4,256 628.9,254.1 629.4,254.1 629.9,253.6 630.4,256.4 630.9,255.2 631.4,255.3 631.9,256.2 632.4,257.3 632.9,256.7 633.4,256.2 633.9,254.8 634.4,256.2 634.9,250.8 635.4,252.6 635.9,251.1 636.4,253.1 636.8,253.3 637.3,253.1 637.8,251.1 638.3,250.9 638.8,252.2 639.3,252.7 639.8,252.9 640.3,251.4 640.8,250.9 641.3,252.9 641.8,251.5 642.3,252 642.8,250.6 643.3,252.1 643.8,251.9 644.3,253.8 644.8,252.8 645.3,248.9 645.8,249 646.3,248.3 646.8,250.7 647.3,250.5 647.8,251.4 648.3,250.8 648.8,252.4 649.3,251.7 649.8,252.2 650.3,251.2 650.8,251.3 651.3,251.4 651.8,252 652.3,251.5 652.7,251.1 653.2,252.8 653.7,250.9 654.2,256 654.7,255.1 655.2,255.3 655.7,252.2 656.2,254.2 656.7,252.4 657.2,251.9 657.7,252 658.2,252.3 658.7,256.9 659.2,254.5 659.7,254.1 660.2,257.7 660.7,256.7 661.2,257.9 661.7,254.2 662.2,254.5 662.7,255.6 663.2,257.5 663.7,257.4 664.2,259.2 664.7,261 665.2,261.4 665.7,261.3 666.2,259.2 666.7,258.1 667.2,258.5 667.7,259 668.2,259.8 668.6,260.4 669.1,263.4 669.6,262.8 670.1,265.1 670.6,259.9 671.1,262.5 671.6,261.7 672.1,263.6 672.6,261.9 673.1,263.6 673.6,265.4 674.1,266.6 674.6,264.3 675.1,269.3 675.6,268.1 676.1,268.7 676.6,266.3 677.1,265.1 677.6,268.1 678.1,265.4 678.6,264.5 679.1,266.8 679.6,269.9 680.1,268.7 680.6,270.5 681.1,272.7 681.6,271.9 682.1,271.7 682.6,272.4 683.1,271.6 683.6,272.6 684,272.6 684.5,272.7 685,273.7 685.5,270.6 686,273.7 686.5,274.4 687,272.3 687.5,272.1 688,273.1 688.5,277.5 689,277.6 689.5,278.6 690,274.9 690.5,277.8 691,277.8 691.5,276.3 692,277.2 692.5,278.4 693,280.5 693.5,280 694,281.5 694.5,279 695,280.3 695.5,281.7 696,283.9 696.5,285.1 697,284.4 697.5,283.3 698,284.4 698.5,284.4 699,285.7 699.5,286.3 699.9,288.8 700.4,291.1 700.9,289.8 701.4,291.1 701.9,287.8 702.4,289.3 702.9,289.5 703.4,288.1 703.9,291.2 704.4,291 704.9,293.7 705.4,294.7 705.9,296.5 706.4,294.3 706.9,294.8 707.4,295.8 707.9,300.3 708.4,300 708.9,300.1 709.4,298.8 709.9,298.6 710.4,300 710.9,301.3 711.4,301.3 711.9,302.3 712.4,299.4 712.9,299.5 713.4,299.9 713.9,304.8 714.4,303.7 714.9,306.9 715.4,304.6 715.8,305.9 716.3,307 716.8,306.3 717.3,307.5 717.8,307 718.3,309.3 718.8,309.9 719.3,312.1 719.8,311.4 720.3,313.1 720.8,313 721.3,315.1 721.8,314.5 722.3,317.3 722.8,314.5 723.3,316.2 723.8,317.9 724.3,319.1 724.8,320.8 725.3,319.3 725.8,321.6 726.3,324.2 726.8,324.5 727.3,323.5 727.8,325.8 728.3,326.5 728.8,328.8 729.3,328.5 729.8,330.4 730.3,332 730.8,332 731.3,331.9 731.7,332.7 732.2,333.1 732.7,334.2 733.2,335.8 733.7,336.3 734.2,338.5 734.7,335 735.2,335.6 735.7,336.4 736.2,337.9 736.7,338.7 737.2,339.9 737.7,339.5 738.2,342 738.7,342.5 739.2,341.7 739.7,342.4 740.2,345.7 740.7,343.1 741.2,345.2 741.7,343.6 742.2,346 742.7,347.4 743.2,347.7 743.7,349 744.2,350.7 744.7,350.6 745.2,351.6 745.7,351.9 746.2,352.3 746.7,354.5 747.2,353.2 747.6,355.4 748.1,352.1 748.6,354.9 749.1,354.1 749.6,359.5 750.1,359.7 750.6,362.3 751.1,361.6 751.6,361.6 752.1,362.9 752.6,365.2 753.1,366.1 753.6,366.8 754.1,367.5 754.6,368.4 755.1,370 755.6,369.3 756.1,369.4 756.6,370.2 757.1,372.5 757.6,374 758.1,376 758.6,375.7 759.1,376.3 759.6,378.4 760.1,380.7 760.6,381.5 761.1,380.5 761.6,383.8 762.1,384.3 762.6,387.5 763,385.1 763.5,387.9 764,387.3 764.5,387.6 765,389.6 765.5,388.6 766,390.7 766.5,389.2 767,390.9 767.5,395.6 768,396.9 768.5,396.3 769,396.9 769.5,396.2 770,397.6 770.5,397.9 771,399.6 771.5,398.1 772,403 772.5,404.8 773,405.6 773.5,404.3 774,407.5 774.5,404.7 775,404.7 775.5,404.3 776,405.6 776.5,410.3 777,412.1 777.5,413.6 778,415.7 778.5,417.5 778.9,417.4 779.4,416.4 779.9,417.5 780.4,418.1 780.9,420.7 781.4,421.3 781.9,421.9 782.4,423.1 782.9,421.8 783.4,423.5 783.9,423.2 784.4,424.2 784.9,426.2 785.4,425.7 785.9,426.4 786.4,426.5 786.9,429.3 787.4,430 787.9,431.6 788.4,430.5 788.9,433 789.4,433.7 789.9,435.6 790.4,435.8 790.9,437.3 791.4,437.5 791.9,439.7 792.4,441 792.9,442.9 793.4,444.2 793.9,445.8 794.4,443.6 794.8,445.2 795.3,445.3 795.8,446.9 796.3,450.3 796.8,450.9 797.3,453.9 797.8,455.8 798.3,455.6 798.8,453.9 799.3,453 799.8,455.1 800.3,457.9 800.8,460.2 801.3,460.3 801.8,461.6 802.3,464.8 802.8,466 803.3,462.5 803.8,462.8 804.3,464.2 804.8,466.1 805.3,467.3 805.8,468.9 806.3,471 806.8,471.8 807.3,473.3 807.8,471.7 808.3,473.5 808.8,473.4 809.3,474.9 809.8,478 810.3,476.8 810.7,479.9 811.2,482.3 811.7,482.3 812.2,482.6 812.7,484.4 813.2,485.9 813.7,488.3 814.2,489.8 814.7,491.6 815.2,491.9 815.7,494.6 816.2,496.3 816.7,494.6 817.2,495.4 817.7,496.4 818.2,497.4" fill="none" stroke="#00ff00" stroke-width="3.3" stroke-linejoin="round" />
<polyline points="470.9,381.9 471.4,379.9 471.9,377.5 472.4,378.9 472.9,377.5 473.4,375.5 473.9,373 474.4,373.7 474.9,368.9 475.4,369 475.9,365.8 476.4,363.7 476.9,362 477.4,360.3 477.9,359.2 478.4,358 478.8,354.5 479.3,351.5 479.8,353.1 480.3,352.2 480.8,350.8 481.3,346.3 481.8,344.8 482.3,342.3 482.8,346 483.3,342.5 483.8,343.5 484.3,341.7 484.8,339.6 485.3,337.8 485.8,337.8 486.3,336.4 486.8,335.6 487.3,335.4 487.8,334 488.3,333.7 488.8,331.3 489.3,329.8 489.8,329.8 490.3,323.9 490.8,326.1 491.3,322.8 491.8,324.3 492.3,323.5 492.8,321.5 493.3,322.4 493.8,321.8 494.3,319.7 494.7,315.8 495.2,314 495.7,314.1 496.2,309.2 496.7,308.7 497.2,308.9 497.7,311.1 498.2,308.9 498.7,307.4 499.2,304.8 499.7,301.3 500.2,299.3 500.7,296.4 501.2,296.8 501.7,295.2 502.2,296 502.7,293.8 503.2,292.9 503.7,295.9 504.2,294.8 504.7,292.1 505.2,288.1 505.7,287.6 506.2,286.1 506.7,285.2 507.2,285.8 507.7,283.4 508.2,283 508.7,280 509.2,279.6 509.7,281.6 510.2,277.9 510.6,278.9 511.1,275.5 511.6,273.2 512.1,271.7 512.6,270.4 513.1,269.1 513.6,267.9 514.1,268.7 514.6,267.9 515.1,267.1 515.6,265 516.1,265.2 516.6,262.6 517.1,261.2 517.6,261.1 518.1,260 518.6,256 519.1,254.4 519.6,253.5 520.1,255.7 520.6,253.4 521.1,254.4 521.6,252.3 522.1,250.6 522.6,250.2 523.1,246.2 523.6,248.7 524.1,245.3 524.6,246.2 525.1,245.3 525.6,244.8 526.1,243.3 526.5,242.4 527,240.9 527.5,239.9 528,241 528.5,239.1 529,234.7 529.5,234.3 530,233.2 530.5,233.8 531,232.4 531.5,230.7 532,229.5 532.5,227.2 533,225.3 533.5,226.6 534,225.6 534.5,224.5 535,226.5 535.5,226 536,223.7 536.5,224.3 537,223.9 537.5,221.5 538,217.4 538.5,216.4 539,216.3 539.5,217.9 540,215.4 540.5,216.2 541,214.8 541.5,214 541.9,213.3 542.4,213.1 542.9,211.8 543.4,212.1 543.9,206.8 544.4,205.8 544.9,204.8 545.4,208.2 545.9,207.5 546.4,204.6 546.9,206 547.4,203.7 547.9,202 548.4,202.4 548.9,199.2 549.4,199.1 549.9,199.6 550.4,197.5 550.9,196.5 551.4,196 551.9,194.6 552.4,194.2 552.9,191.4 553.4,188.8 553.9,189.1 554.4,189.4 554.9,189.7 555.4,187.6 555.9,187.8 556.4,187 556.9,184.9 557.4,183.4 557.8,182.7 558.3,182.1 558.8,183.8 559.3,183.5 559.8,184 560.3,181.5 560.8,179.8 561.3,180.6 561.8,182.9 562.3,181.4 562.8,181.3 563.3,179.2 563.8,178.1 564.3,177.5 564.8,181.1 565.3,182.1 565.8,180.9 566.3,177.2 566.8,176.5 567.3,176.6 567.8,175 568.3,175.4 568.8,172.6 569.3,172.4 569.8,170.6 570.3,170.2 570.8,172 571.3,169.9 571.8,169.1 572.3,171.6 572.8,170.4 573.3,169.8 573.7,167.4 574.2,165.6 574.7,164.1 575.2,162.7 575.7,161.6 576.2,162.9 576.7,167 577.2,167.1 577.7,166.2 578.2,162.7 578.7,161.4 579.2,160.7 579.7,159 580.2,159.4 580.7,158.1 581.2,158.6 581.7,157.6 582.2,155.6 582.7,157.7 583.2,158.4 583.7,159.6 584.2,154.6 584.7,152.7 585.2,153.1 585.7,153.8 586.2,153.8 586.7,153.7 587.2,154.6 587.7,153.4 588.2,153.5 588.7,149.8 589.2,149.4 589.6,150.2 590.1,150.1 590.6,149.6 591.1,148.5 591.6,149.5 592.1,150.4 592.6,152.7 593.1,147.6 593.6,145.7 594.1,147 594.6,150.9 595.1,150.6 595.6,151 596.1,146.9 596.6,144.4 597.1,146.8 597.6,149.4 598.1,149.3 598.6,148.9 599.1,145.9 599.6,144 600.1,144.9 600.6,148.5 601.1,148.4 601.6,147.9 602.1,145.9 602.6,145.3 603.1,144.5 603.6,144.3 604.1,145 604.6,143.2 605.1,146.7 605.5,146.7 606,144.2 606.5,143.3 607,144.4 607.5,142.4 608,145.5 608.5,145.3 609,145.7 609.5,146.5 610,145.7 610.5,144.1 611,144.9 611.5,144.8 612,145.5 612.5,145.7 613,144.5 613.5,144.3 614,143.6 614.5,143.3 615,143.6 615.5,141.9 616,141.5 616.5,141.8 617,140.2 617.5,139 618,139.1 618.5,142.4 619,143.4 619.5,142.7 620,143.2 620.5,143.3 620.9,143.2 621.4,142.6 621.9,143.1 622.4,143.5 622.9,142.3 623.4,142.2 623.9,142.4 624.4,143.2 624.9,140.8 625.4,141 625.9,145.2 626.4,144.1 626.9,143.3 627.4,140.3 627.9,143.5 628.4,142.3 628.9,144.7 629.4,144.1 629.9,143.6 630.4,144.7 630.9,146.2 631.4,146.1 631.9,146.8 632.4,145.9 632.9,146.8 633.4,144.9 633.9,144.4 634.4,145 634.9,147.1 635.4,147.1 635.9,145.3 636.4,148.4 636.8,148.6 637.3,146.7 637.8,150.8 638.3,150.1 638.8,150.4 639.3,150.8 639.8,149.6 640.3,150.5 640.8,148.3 641.3,151.4 641.8,148.9 642.3,150.6 642.8,150.5 643.3,151.7 643.8,153.6 644.3,155.1 644.8,156 645.3,149.5 645.8,151.7 646.3,152 646.8,156.2 647.3,158.3 647.8,157.9 648.3,153 648.8,154.3 649.3,153 649.8,152 650.3,150.7 650.8,153.2 651.3,154.7 651.8,155.8 652.3,155.5 652.7,160.7 653.2,161.8 653.7,162.1 654.2,158.7 654.7,160.4 655.2,160.2 655.7,161.4 656.2,160.2 656.7,161.5 657.2,157.8 657.7,159.3 658.2,159.4 658.7,162.8 659.2,161.8 659.7,164.9 660.2,160.8 660.7,162.5 661.2,161.7 661.7,166.2 662.2,165.3 662.7,166.9 663.2,166 663.7,166.7 664.2,167.7 664.7,171.5 665.2,170.3 665.7,170.7 666.2,171.2 666.7,171.3 667.2,172.8 667.7,173.9 668.2,175 668.6,174.2 669.1,177.9 669.6,178.1 670.1,179.4 670.6,176 671.1,175.3 671.6,177.8 672.1,178.5 672.6,182.3 673.1,181.7 673.6,185.5 674.1,185.2 674.6,184.8 675.1,183 675.6,183.4 676.1,184.8 676.6,187.3 677.1,186.8 677.6,186.7 678.1,186 678.6,186.9 679.1,188.8 679.6,190.3 680.1,191.8 680.6,192.4 681.1,192.6 681.6,194.7 682.1,195.6 682.6,196.4 683.1,196.5 683.6,197.5 684,197.5 684.5,200.2 685,199.6 685.5,198.2 686,200.3 686.5,202.5 687,203.4 687.5,202 688,204 688.5,200.6 689,200.5 689.5,202.8 690,207.8 690.5,205.2 691,208.3 691.5,206.8 692,207.6 692.5,208.7 693,210.5 693.5,209.1 694,210.8 694.5,216.2 695,215.6 695.5,216.4 696,217 696.5,219.6 697,220.7 697.5,214.4 698,214.4 698.5,217 699,224.5 699.5,225.7 699.9,227.3 700.4,226.7 700.9,226.6 701.4,229.2 701.9,226.4 702.4,226.9 702.9,229.2 703.4,227.9 703.9,231.2 704.4,232.2 704.9,232.4 705.4,236 705.9,234.4 706.4,239 706.9,238.9 707.4,239 707.9,237.3 708.4,238 708.9,240.1 709.4,240.9 709.9,240.8 710.4,242.8 710.9,243.5 711.4,245.4 711.9,245.5 712.4,247.2 712.9,246.4 713.4,249.9 713.9,248.8 714.4,249 714.9,252.3 715.4,250.1 715.8,252.8 716.3,253.7 716.8,256.4 717.3,257.6 717.8,259.6 718.3,260.6 718.8,263.5 719.3,264.1 719.8,263.5 720.3,265.4 720.8,265 721.3,272.3 721.8,273.3 722.3,274.3 722.8,269.4 723.3,268.9 723.8,270.6 724.3,279 724.8,277.9 725.3,279.8 725.8,279.1 726.3,281 726.8,281.1 727.3,281.6 727.8,282.1 728.3,283.9 728.8,286.6 729.3,287 729.8,288.9 730.3,286.7 730.8,285.8 731.3,288.1 731.7,287.7 732.2,288 732.7,289 733.2,294.9 733.7,296 734.2,297.1 734.7,297.9 735.2,297.8 735.7,299.6 736.2,300.8 736.7,302.1 737.2,303.6 737.7,303.2 738.2,306.5 738.7,306.8 739.2,311 739.7,311.7 740.2,312.9 740.7,313.9 741.2,315.5 741.7,315.6 742.2,318.2 742.7,320.8 743.2,321.8 743.7,323.6 744.2,324 744.7,324.5 745.2,324.1 745.7,325.4 746.2,329.1 746.7,334.3 747.2,334 747.6,335.7 748.1,333.7 748.6,334.6 749.1,336.3 749.6,339.4 750.1,341.1 750.6,343.7 751.1,343.9 751.6,345.9 752.1,346.7 752.6,350.9 753.1,350.5 753.6,353.5 754.1,352.3 754.6,353.9 755.1,353.7 755.6,352.2 756.1,353.6 756.6,356.8 757.1,360.8 757.6,360.2 758.1,362.1 758.6,359.4 759.1,361 759.6,362.7 760.1,367.4 760.6,368.4 761.1,370.4 761.6,371.7 762.1,374.2 762.6,375.7 763,373.1 763.5,374.8 764,375.9 764.5,380.4 765,382 765.5,383.1 766,383 766.5,383.2 767,385.2 767.5,385.5 768,386.2 768.5,389.1 769,389.7 769.5,392.5 770,394.5 770.5,395.9 771,396.2 771.5,399.7 772,402.8 772.5,404.3 773,406.5 773.5,406 774,406.9 774.5,407.5 775,407.5 775.5,411.1 776,413.5 776.5,415.1 777,417 777.5,417.4 778,419 778.5,421.1 778.9,421.9 779.4,424.6 779.9,426.8 780.4,427.9 780.9,427.7 781.4,427.9 781.9,429 782.4,429.3 782.9,431.1 783.4,432.6 783.9,434.7 784.4,436.6 784.9,439.2 785.4,440.8 785.9,441.6 786.4,440.7 786.9,442.3 787.4,445.8 787.9,446.8 788.4,446.5 788.9,450.2 789.4,450.6 789.9,453.8 790.4,456.8 790.9,455.5 791.4,459.6 791.9,459.4 792.4,461.8 792.9,461.4 793.4,463.7 793.9,465.3 794.4,468 794.8,470.8 795.3,471.1 795.8,471.6 796.3,471.8 796.8,473.9 797.3,476.7 797.8,478.8 798.3,480.5 798.8,479.6 799.3,482.4 799.8,483.2 800.3,487.6 800.8,490.7 801.3,490.5 801.8,491.9 802.3,494.8 802.8,495 803.3,496.9 803.8,497.4 804.3,499.1 804.8,498.9 805.3,501.9 805.8,504 806.3,505.1 806.8,506.8 807.3,508.7 807.8,509.3 808.3,511.7 808.8,513.4 809.3,514 809.8,515.4 810.3,519.9 810.7,520.7 811.2,522.4 811.7,524.4 812.2,527 812.7,529 813.2,531 813.7,532.4 814.2,533.4 814.7,536.4 815.2,533.2 815.7,536.8 816.2,535.6 816.7,543.6 817.2,544 817.7,546.6 818.2,546" fill="none" stroke="#677aa3" stroke-width="3.5" stroke-linejoin="round" />
<polyline points="470.9,419.6 471.4,417.1 471.9,417.8 472.4,417.1 472.9,415.4 473.4,415.9 473.9,414.8 474.4,414.8 474.9,411.3 475.4,408.9 475.9,409.8 476.4,407.6 476.9,407 477.4,405.4 477.9,406.2 478.4,405.1 478.8,405 479.3,403.3 479.8,399.6 480.3,400 480.8,398.5 481.3,397.3 481.8,396.6 482.3,394.9 482.8,396.8 483.3,396.2 483.8,392.8 484.3,392 484.8,391.4 485.3,389.8 485.8,390.2 486.3,388.5 486.8,388.3 487.3,389.1 487.8,388.5 488.3,385.4 488.8,385.1 489.3,385 489.8,384.8 490.3,381.3 490.8,381.9 491.3,381.2 491.8,379.7 492.3,377.9 492.8,377.4 493.3,372.9 493.8,373.5 494.3,371.3 494.7,376.5 495.2,375.5 495.7,374.4 496.2,369.4 496.7,368.6 497.2,367.9 497.7,369.8 498.2,369.6 498.7,367.6 499.2,366.6 499.7,366.3 500.2,363.2 500.7,364.4 501.2,362.3 501.7,361.7 502.2,361.4 502.7,360.8 503.2,360.8 503.7,359.1 504.2,356.6 504.7,358.1 505.2,354.7 505.7,354.7 506.2,352.2 506.7,353.2 507.2,351.5 507.7,351.9 508.2,348.4 508.7,347.2 509.2,347.2 509.7,350.6 510.2,348.1 510.6,346.4 511.1,345.1 511.6,342.9 512.1,342.3 512.6,340.9 513.1,338.7 513.6,337.8 514.1,338.1 514.6,339.2 515.1,337 515.6,335.6 516.1,336.7 516.6,334.5 517.1,331.6 517.6,331 518.1,330.5 518.6,330.1 519.1,328.4 519.6,330.3 520.1,325.3 520.6,327.8 521.1,324.8 521.6,328.3 522.1,326.6 522.6,326.7 523.1,324.3 523.6,323.7 524.1,322.1 524.6,321.6 525.1,321.1 525.6,321.4 526.1,320.1 526.5,318.6 527,319.2 527.5,318.3 528,315.9 528.5,317 529,315.4 529.5,314.6 530,315.2 530.5,313.6 531,312.8 531.5,312.4 532,313.7 532.5,312.5 533,312 533.5,311.2 534,311.3 534.5,310.2 535,305.5 535.5,306.6 536,305 536.5,307.8 537,308.7 537.5,306.1 538,306.4 538.5,304.9 539,303.5 539.5,301.5 540,301.8 540.5,301.2 541,301.2 541.5,301.1 541.9,300.8 542.4,301.5 542.9,301.7 543.4,300.6 543.9,296.7 544.4,297 544.9,295.7 545.4,294.6 545.9,293.9 546.4,294.1 546.9,294.1 547.4,294.7 547.9,293.4 548.4,291.9 548.9,293.2 549.4,292.9 549.9,291 550.4,291.1 550.9,290.9 551.4,291.7 551.9,292.3 552.4,290.1 552.9,287.9 553.4,288.5 553.9,287 554.4,287.1 554.9,285.5 555.4,284.5 555.9,284.4 556.4,285.7 556.9,284.5 557.4,283.7 557.8,283.2 558.3,282 558.8,283.3 559.3,282.4 559.8,282.6 560.3,280.3 560.8,278.1 561.3,278.2 561.8,277.6 562.3,276.5 562.8,275.1 563.3,279.5 563.8,279.9 564.3,279.6 564.8,276.4 565.3,277.3 565.8,275.5 566.3,276.2 566.8,273.8 567.3,274 567.8,274.6 568.3,274.6 568.8,272.4 569.3,273.3 569.8,272.2 570.3,272.1 570.8,271 571.3,270.9 571.8,270.6 572.3,269.7 572.8,267.6 573.3,268.7 573.7,268.8 574.2,269.5 574.7,268.6 575.2,269.5 575.7,269.6 576.2,267.8 576.7,265.6 577.2,265.7 577.7,265.7 578.2,267.9 578.7,267.1 579.2,266.1 579.7,265.9 580.2,264.2 580.7,264.8 581.2,264.8 581.7,265.6 582.2,265.7 582.7,263.8 583.2,263.3 583.7,262.4 584.2,264.8 584.7,263.7 585.2,263.8 585.7,260.5 586.2,260.7 586.7,259.7 587.2,260.3 587.7,261 588.2,261.8 588.7,258.1 589.2,258.9 589.6,258.5 590.1,262.2 590.6,261 591.1,262.6 591.6,261.1 592.1,261.5 592.6,261.2 593.1,259.9 593.6,259.9 594.1,260.7 594.6,259.9 595.1,261 595.6,261.9 596.1,260.5 596.6,261.4 597.1,261.1 597.6,261.5 598.1,260.9 598.6,261.5 599.1,259.2 599.6,261.8 600.1,259.8 600.6,260 601.1,260.6 601.6,259.8 602.1,259.2 602.6,259.2 603.1,259.6 603.6,260 604.1,258.5 604.6,259 605.1,257.9 605.5,257.3 606,257.9 606.5,257.2 607,259.3 607.5,258.7 608,257.9 608.5,257.5 609,257.3 609.5,255.8 610,257.1 610.5,255.5 611,259.2 611.5,259.4 612,257.6 612.5,261.1 613,260 613.5,261 614,256.8 614.5,254 615,255.6 615.5,256.4 616,255.3 616.5,255.7 617,259.4 617.5,260.2 618,258.4 618.5,256.5 619,257.4 619.5,256.7 620,257.6 620.5,259.8 620.9,259.2 621.4,259.3 621.9,258.9 622.4,259.9 622.9,259.2 623.4,258.3 623.9,259.2 624.4,257.5 624.9,256.3 625.4,255.6 625.9,258.6 626.4,260.2 626.9,259.5 627.4,257.5 627.9,257.4 628.4,257.3 628.9,258.1 629.4,259 629.9,259.4 630.4,257.8 630.9,256.7 631.4,257.7 631.9,260.3 632.4,260.4 632.9,260.7 633.4,259.7 633.9,258.3 634.4,259.6 634.9,260.5 635.4,260.3 635.9,261.1 636.4,259.9 636.8,260.3 637.3,261.5 637.8,262.4 638.3,262.5 638.8,262.4 639.3,261.3 639.8,260.1 640.3,260.3 640.8,261.3 641.3,262.2 641.8,262.4 642.3,264.4 642.8,263.7 643.3,263 643.8,264.3 644.3,265.8 644.8,265.6 645.3,262.7 645.8,264.6 646.3,263.7 646.8,263.9 647.3,264.7 647.8,265.8 648.3,267.1 648.8,268.2 649.3,267.9 649.8,266 650.3,266 650.8,266.6 651.3,265.5 651.8,264.3 652.3,265.8 652.7,264.9 653.2,264.6 653.7,265.8 654.2,267 654.7,267.6 655.2,267.9 655.7,269.8 656.2,269.4 656.7,269.6 657.2,270.5 657.7,269.6 658.2,271.4 658.7,270.7 659.2,272 659.7,271.7 660.2,269.9 660.7,269.9 661.2,270.1 661.7,272.6 662.2,272.4 662.7,273.5 663.2,275.2 663.7,274.9 664.2,276.1 664.7,276 665.2,275.8 665.7,275.7 666.2,274.3 666.7,276.9 667.2,275.5 667.7,276.7 668.2,276 668.6,276.4 669.1,279.7 669.6,280.5 670.1,281.1 670.6,281 671.1,280.7 671.6,282.6 672.1,283.3 672.6,282.4 673.1,281.8 673.6,282.8 674.1,282.1 674.6,283.1 675.1,285.3 675.6,284.5 676.1,286.5 676.6,282.4 677.1,283.9 677.6,284.2 678.1,286.3 678.6,287 679.1,287.8 679.6,288.2 680.1,289.5 680.6,289.6 681.1,290.9 681.6,292.3 682.1,292 682.6,291.2 683.1,288.7 683.6,289.7 684,292.8 684.5,292.7 685,293.7 685.5,294.4 686,293.9 686.5,294.6 687,297.2 687.5,298.6 688,298.2 688.5,298.8 689,296.5 689.5,299.5 690,300 690.5,301.3 691,300.6 691.5,302 692,302.2 692.5,303.6 693,304 693.5,304.1 694,306.3 694.5,306.3 695,308.6 695.5,309 696,308.7 696.5,308.6 697,309.2 697.5,310.1 698,309.8 698.5,310.9 699,315.9 699.5,317.7 699.9,315.7 700.4,313.4 700.9,313.1 701.4,314.7 701.9,316.1 702.4,317.8 702.9,317.3 703.4,313.8 703.9,315.4 704.4,314.7 704.9,318.2 705.4,319.1 705.9,320.4 706.4,325.2 706.9,324.9 707.4,327.3 707.9,322.5 708.4,323.9 708.9,322.3 709.4,324.4 709.9,324.7 710.4,326.2 710.9,327.1 711.4,327.9 711.9,329.8 712.4,329.1 712.9,329.4 713.4,328.8 713.9,331.8 714.4,333.3 714.9,334.4 715.4,335.5 715.8,335.5 716.3,336.8 716.8,337.8 717.3,339.1 717.8,339.5 718.3,343.2 718.8,342.8 719.3,343.4 719.8,342.8 720.3,344 720.8,344.3 721.3,346.3 721.8,347.2 722.3,348.4 722.8,351.7 723.3,352 723.8,352.5 724.3,351.7 724.8,352 725.3,352.7 725.8,352.8 726.3,353.7 726.8,354 727.3,359.1 727.8,361.3 728.3,360.4 728.8,361.9 729.3,363.4 729.8,363.4 730.3,364.7 730.8,366 731.3,367.5 731.7,367.5 732.2,367.6 732.7,368.6 733.2,370.9 733.7,370.2 734.2,370.6 734.7,370.4 735.2,373 735.7,373.8 736.2,375.5 736.7,375.9 737.2,377.9 737.7,375.2 738.2,376.7 738.7,379.1 739.2,380.4 739.7,380.9 740.2,382.9 740.7,381.1 741.2,384.1 741.7,384.2 742.2,383.7 742.7,386 743.2,386.7 743.7,391.9 744.2,393 744.7,393.6 745.2,395.7 745.7,394.5 746.2,396.4 746.7,397.5 747.2,396.5 747.6,398.1 748.1,399.9 748.6,400.7 749.1,401.4 749.6,400.8 750.1,400.1 750.6,401.8 751.1,404.1 751.6,404.3 752.1,406.7 752.6,407.3 753.1,409 753.6,409 754.1,409.7 754.6,412.2 755.1,411.6 755.6,412.4 756.1,415.6 756.6,414.9 757.1,418 757.6,419.8 758.1,419.5 758.6,421.9 759.1,421.2 759.6,422.6 760.1,423.1 760.6,424.7 761.1,426.7 761.6,428.5 762.1,430.2 762.6,431.3 763,428.9 763.5,430.3 764,430.7 764.5,434.5 765,434.3 765.5,436.8 766,437.7 766.5,438 767,439.1 767.5,439.5 768,441.6 768.5,440.4 769,442.7 769.5,444.9 770,444.4 770.5,443.6 771,443.9 771.5,445.5 772,450.1 772.5,449.5 773,452.7 773.5,452.2 774,456.3 774.5,456.2 775,455.3 775.5,456.5 776,457.3 776.5,461.3 777,462.7 777.5,462.3 778,462.1 778.5,462.4 778.9,464.9 779.4,466.5 779.9,469 780.4,469.9 780.9,469.9 781.4,470.3 781.9,471.7 782.4,473.6 782.9,475.4 783.4,476.6 783.9,480.6 784.4,480.7 784.9,483.4 785.4,483.8 785.9,484.3 786.4,485.4 786.9,480.7 787.4,483.5 787.9,484.6 788.4,486.4 788.9,486.8 789.4,489.2 789.9,492 790.4,491.7 790.9,492.7 791.4,491.4 791.9,492.4 792.4,495.3 792.9,495.8 793.4,497.9 793.9,498.2 794.4,496.9 794.8,498.5 795.3,499.2 795.8,500.6 796.3,502.4 796.8,504.3 797.3,506.7 797.8,507.8 798.3,509.1 798.8,507.5 799.3,509.4 799.8,510.9 800.3,512.1 800.8,512.2 801.3,512.8 801.8,514 802.3,513.1 802.8,515.1 803.3,517.6 803.8,519.1 804.3,519.3 804.8,520.5 805.3,523.3 805.8,522.8 806.3,523.9 806.8,525.6 807.3,527.5 807.8,531.1 808.3,533.2 808.8,533.2 809.3,531.7 809.8,532.4 810.3,533.9 810.7,535.3 811.2,537.3 811.7,536.9 812.2,541.3 812.7,540.9 813.2,542.6 813.7,541.3 814.2,542.8 814.7,543.4 815.2,548.6 815.7,549.6 816.2,550.7 816.7,550.9 817.2,552.4 817.7,554.6 818.2,558.1" fill="none" stroke="#000000" stroke-width="3.3" stroke-linejoin="round" />
</g>
<g fill="#262626" font-size="20.8px">
<text x="528.7" y="444.2" text-anchor="middle">1.34</text>
<text x="587.6" y="444.2" text-anchor="middle">1.36</text>
<text x="646.6" y="444.2" text-anchor="middle">1.38</text>
<text x="705.6" y="444.2" text-anchor="middle">1.4</text>
<text x="764.5" y="444.2" text-anchor="middle">1.42</text>
<text x="464.5" y="398.3" text-anchor="end">60</text>
<text x="464.5" y="331.2" text-anchor="end">80</text>
<text x="464.5" y="264.1" text-anchor="end">100</text>
</g>
</g>
<g id="inset2">
<rect x="350.0" y="966.7" width="386.7" height="164.9" fill="#fff" stroke="#262626" stroke-width="4.6"/>
<path d="M350.0 1131.6v-6.2M350.0 966.7v6.2M439.2 1131.6v-6.2M439.2 966.7v6.2M528.4 1131.6v-6.2M528.4 966.7v6.2M617.6 1131.6v-6.2M617.6 966.7v6.2M706.8 1131.6v-6.2M706.8 966.7v6.2M350.0 1117.3h6.2M736.7 1117.3h-6.2M350.0 1072.8h6.2M736.7 1072.8h-6.2M350.0 1028.2h6.2M736.7 1028.2h-6.2M350.0 983.6h6.2M736.7 983.6h-6.2" stroke="#262626" stroke-width="3.6" fill="none"/>
<g clip-path="url(#ci2)">
<polyline points="350,1021.8 350.4,1023.2 350.9,1022.5 351.3,1023.1 351.7,1021.4 352.2,1023 352.6,1021.1 353,1023.3 353.4,1021.6 353.9,1024.2 354.3,1024.5 354.7,1024.7 355.2,1023.5 355.6,1023 356,1021.8 356.5,1024.7 356.9,1026.5 357.3,1024.1 357.7,1024.1 358.2,1023.6 358.6,1022.2 359,1023.5 359.5,1022.9 359.9,1021.7 360.3,1026.2 360.8,1025.2 361.2,1026.2 361.6,1025.3 362,1025.9 362.5,1025.5 362.9,1025.5 363.3,1026.5 363.8,1025.4 364.2,1026.9 364.6,1026.6 365.1,1026.5 365.5,1026.4 365.9,1027.4 366.3,1027.4 366.8,1025.9 367.2,1025.1 367.6,1026.9 368.1,1030.1 368.5,1031.1 368.9,1028.2 369.4,1024.8 369.8,1026.8 370.2,1026.7 370.6,1029.6 371.1,1030.7 371.5,1029.1 371.9,1029.8 372.4,1028.8 372.8,1030.1 373.2,1029.9 373.7,1031.5 374.1,1032.5 374.5,1032.7 374.9,1032.6 375.4,1032.4 375.8,1039.6 376.2,1037.9 376.7,1040.5 377.1,1038.9 377.5,1038.9 378,1040.2 378.4,1040.9 378.8,1040.4 379.2,1040.7 379.7,1042.6 380.1,1042.7 380.5,1042.8 381,1040.7 381.4,1040.3 381.8,1039.1 382.3,1044 382.7,1047.6 383.1,1046 383.6,1042.6 384,1043.9 384.4,1044.7 384.8,1044.4 385.3,1046.5 385.7,1045.6 386.1,1043.9 386.6,1042.2 387,1043.9 387.4,1049 387.9,1048 388.3,1047.6 388.7,1044.2 389.1,1044.6 389.6,1047.1 390,1047.5 390.4,1046.2 390.9,1046.9 391.3,1050 391.7,1049.6 392.2,1049.8 392.6,1047.2 393,1049.2 393.4,1048.6 393.9,1046.1 394.3,1047.4 394.7,1046.7 395.2,1048.8 395.6,1049.8 396,1051 396.5,1050.2 396.9,1050.8 397.3,1050.2 397.7,1053.3 398.2,1055.2 398.6,1054.3 399,1051.9 399.5,1052.1 399.9,1052.4 400.3,1052.9 400.8,1055.4 401.2,1053.9 401.6,1054.7 402,1053.2 402.5,1054.6 402.9,1053.4 403.3,1053.7 403.8,1054.4 404.2,1055.7 404.6,1056 405.1,1054.8 405.5,1056.8 405.9,1057.3 406.3,1058.1 406.8,1053.9 407.2,1055.3 407.6,1055.3 408.1,1054.8 408.5,1054.4 408.9,1054.4 409.4,1054.6 409.8,1052 410.2,1052.7 410.7,1054.2 411.1,1055.5 411.5,1054.5 411.9,1055.9 412.4,1057.8 412.8,1058 413.2,1057.3 413.7,1057.1 414.1,1058.3 414.5,1057.3 415,1054.5 415.4,1056 415.8,1058.8 416.2,1058.5 416.7,1058.8 417.1,1057.8 417.5,1058.3 418,1057.7 418.4,1055.6 418.8,1056.3 419.3,1055.9 419.7,1055.4 420.1,1056.8 420.5,1056.3 421,1055.7 421.4,1056.5 421.8,1057.2 422.3,1058 422.7,1055.7 423.1,1057.1 423.6,1057.5 424,1056 424.4,1055.5 424.8,1058.1 425.3,1058.1 425.7,1058.7 426.1,1053.5 426.6,1055.7 427,1052.4 427.4,1049.8 427.9,1051.7 428.3,1051 428.7,1056.1 429.1,1055.5 429.6,1055.8 430,1051.6 430.4,1051.1 430.9,1051.4 431.3,1054.1 431.7,1054.4 432.2,1054.7 432.6,1053.7 433,1053.2 433.4,1054.2 433.9,1050.3 434.3,1051.1 434.7,1051.7 435.2,1047.8 435.6,1048.8 436,1047.8 436.5,1049.5 436.9,1049.5 437.3,1049.2 437.7,1045.8 438.2,1046.1 438.6,1043.7 439,1045 439.5,1045.2 439.9,1044.1 440.3,1042.3 440.8,1041.8 441.2,1044.1 441.6,1041.6 442.1,1040.7 442.5,1040.4 442.9,1040.8 443.3,1039.2 443.8,1038.6 444.2,1039.1 444.6,1037.2 445.1,1038.5 445.5,1037.4 445.9,1038.8 446.4,1037.4 446.8,1038.8 447.2,1040.1 447.6,1038 448.1,1036.8 448.5,1037.1 448.9,1036.1 449.4,1040.6 449.8,1038 450.2,1037.5 450.7,1036 451.1,1036.1 451.5,1036.1 451.9,1032.4 452.4,1031.4 452.8,1032.6 453.2,1029.1 453.7,1030 454.1,1028.6 454.5,1027.2 455,1025.2 455.4,1025.1 455.8,1028.5 456.2,1025.7 456.7,1029.3 457.1,1026.9 457.5,1026.7 458,1027.3 458.4,1026.4 458.8,1026.8 459.3,1025.5 459.7,1020.2 460.1,1020.8 460.5,1017.9 461,1021.7 461.4,1021 461.8,1020.5 462.3,1019.7 462.7,1019.4 463.1,1019.7 463.6,1015.6 464,1016 464.4,1015.6 464.8,1015.2 465.3,1016.1 465.7,1014.3 466.1,1008.8 466.6,1008.3 467,1008.2 467.4,1009.5 467.9,1009.6 468.3,1007.9 468.7,1008.8 469.2,1008.3 469.6,1008.6 470,1004.4 470.4,1003.5 470.9,1001.4 471.3,1004.9 471.7,1005.9 472.2,1004 472.6,1001 473,1003.2 473.5,1001.8 473.9,1000.9 474.3,1004 474.7,1000.7 475.2,1007.2 475.6,1006.1 476,1006.7 476.5,1007.8 476.9,1006.7 477.3,1007.2 477.8,1008 478.2,1010.6 478.6,1008.5 479,1011.9 479.5,1013.7 479.9,1013.1 480.3,1010.9 480.8,1012.1 481.2,1012.4 481.6,1014.5 482.1,1013.5 482.5,1014.2 482.9,1012.7 483.3,1015.5 483.8,1017 484.2,1017 484.6,1016.1 485.1,1015.8 485.5,1016.4 485.9,1016.9 486.4,1017.2 486.8,1018 487.2,1017 487.6,1015.8 488.1,1016.2 488.5,1015.6 488.9,1017.2 489.4,1015.9 489.8,1017.9 490.2,1017.4 490.7,1015.7 491.1,1016.3 491.5,1017.8 491.9,1019.2 492.4,1019.7 492.8,1018.8 493.2,1021.8 493.7,1021.7 494.1,1019.9 494.5,1020.2 495,1020.3 495.4,1021.8 495.8,1024.6 496.2,1024.6 496.7,1025.1 497.1,1022.2 497.5,1024.5 498,1025.6 498.4,1024.6 498.8,1024.8 499.3,1024.1 499.7,1026.4 500.1,1025.7 500.6,1025.9 501,1027.1 501.4,1028.6 501.8,1026.4 502.3,1028.8 502.7,1030.5 503.1,1030.1 503.6,1031.2 504,1032.1 504.4,1032.9 504.9,1030 505.3,1029.6 505.7,1029.9 506.1,1027.5 506.6,1028.9 507,1028.8 507.4,1034.3 507.9,1033.8 508.3,1035.9 508.7,1033 509.2,1031.6 509.6,1032.6 510,1030.2 510.4,1031.6 510.9,1033 511.3,1032.3 511.7,1034.4 512.2,1032.9 512.6,1033.8 513,1034.8 513.5,1035.5 513.9,1037.1 514.3,1035.8 514.7,1035 515.2,1030.9 515.6,1031.6 516,1033.8 516.5,1036.4 516.9,1034.7 517.3,1036.5 517.8,1033.6 518.2,1034.7 518.6,1035.1 519,1037 519.5,1036.4 519.9,1039.4 520.3,1042.7 520.8,1042.7 521.2,1041.1 521.6,1039.9 522.1,1040.1 522.5,1040.6 522.9,1039.9 523.3,1039.6 523.8,1038 524.2,1042.1 524.6,1040.9 525.1,1044 525.5,1041.8 525.9,1043.5 526.4,1043.6 526.8,1044 527.2,1043.8 527.6,1046 528.1,1042.9 528.5,1043.1 528.9,1041.3 529.4,1045.1 529.8,1043.6 530.2,1045.1 530.7,1043.3 531.1,1043.8 531.5,1042.7 532,1047.7 532.4,1048.9 532.8,1049.5 533.2,1046.9 533.7,1047.1 534.1,1048.5 534.5,1052 535,1050.4 535.4,1051 535.8,1050.5 536.3,1050.5 536.7,1050.2 537.1,1052.2 537.5,1052.7 538,1051.5 538.4,1049.9 538.8,1051.8 539.3,1051 539.7,1051.2 540.1,1051.6 540.6,1052.7 541,1053.6 541.4,1055.3 541.8,1054.3 542.3,1056.3 542.7,1057.6 543.1,1057.9 543.6,1053.8 544,1054.9 544.4,1056 544.9,1056.3 545.3,1056.2 545.7,1055.8 546.1,1055.2 546.6,1054.9 547,1054.7 547.4,1058 547.9,1057.4 548.3,1057.3 548.7,1054.4 549.2,1056.1 549.6,1056 550,1057.5 550.4,1057.8 550.9,1057.8 551.3,1055.8 551.7,1055.7 552.2,1055.1 552.6,1057.9 553,1058.2 553.5,1057.1 553.9,1055.8 554.3,1058 554.7,1056.2 555.2,1056.8 555.6,1057.6 556,1054.9 556.5,1057.6 556.9,1057.9 557.3,1058.2 557.8,1056.9 558.2,1056.9 558.6,1056.3 559.1,1053.1 559.5,1054.7 559.9,1054.2 560.3,1053.5 560.8,1054.4 561.2,1051.3 561.6,1054.7 562.1,1053.6 562.5,1052.3 562.9,1051.3 563.4,1050.9 563.8,1050 564.2,1048.8 564.6,1050.6 565.1,1047.1 565.5,1050.6 565.9,1051.7 566.4,1050.3 566.8,1048.1 567.2,1047.6 567.7,1048.3 568.1,1044.4 568.5,1042.7 568.9,1043.6 569.4,1041.1 569.8,1041.6 570.2,1039.4 570.7,1042.5 571.1,1042.1 571.5,1041.5 572,1041.9 572.4,1041.5 572.8,1039.8 573.2,1038.5 573.7,1038.8 574.1,1037.1 574.5,1040.4 575,1038.7 575.4,1036.2 575.8,1037.3 576.3,1034.8 576.7,1035.6 577.1,1031.8 577.5,1032.6 578,1029.8 578.4,1031.2 578.8,1032.6 579.3,1031.6 579.7,1029.5 580.1,1030.2 580.6,1028.4 581,1027.8 581.4,1027.9 581.8,1028.8 582.3,1029.1 582.7,1029.8 583.1,1028.5 583.6,1023.9 584,1023.5 584.4,1021.9 584.9,1026.2 585.3,1025 585.7,1023.4 586.1,1023.2 586.6,1021.9 587,1023.2 587.4,1021 587.9,1020.2 588.3,1019 588.7,1019.2 589.2,1022 589.6,1020.2 590,1016.7 590.5,1016.9 590.9,1016.9 591.3,1016.5 591.7,1015.2 592.2,1017.8 592.6,1016.3 593,1018 593.5,1016.8 593.9,1011.2 594.3,1012.9 594.8,1012.2 595.2,1013.5 595.6,1013.2 596,1011.4 596.5,1012.8 596.9,1010.4 597.3,1011.5 597.8,1009.4 598.2,1008.2 598.6,1007.9 599.1,1009.8 599.5,1009.2 599.9,1010.1 600.3,1000.3 600.8,1002.5 601.2,1002.2 601.6,1001.7 602.1,1001.7 602.5,1001.2 602.9,1003.3 603.4,1001.2 603.8,1002.3 604.2,1004.6 604.6,1006 605.1,1007.6 605.5,1006.1 605.9,1006.1 606.4,1006.1 606.8,1006.3 607.2,1005.9 607.7,1005.8 608.1,1009.2 608.5,1009.1 608.9,1012 609.4,1008.7 609.8,1010.9 610.2,1010.5 610.7,1012.1 611.1,1012.2 611.5,1012.5 612,1015.6 612.4,1017.3 612.8,1015.8 613.2,1018.1 613.7,1018.2 614.1,1019.1 614.5,1018.5 615,1017.9 615.4,1018.6 615.8,1016.2 616.3,1017.9 616.7,1018.1 617.1,1019.3 617.5,1019.8 618,1018.1 618.4,1020.7 618.8,1021.9 619.3,1021 619.7,1023.3 620.1,1024.3 620.6,1023.5 621,1023.1 621.4,1024.8 621.9,1026.4 622.3,1025 622.7,1027.4 623.1,1027.5 623.6,1024.2 624,1027.4 624.4,1026.4 624.9,1028.1 625.3,1028.8 625.7,1029.1 626.2,1029.2 626.6,1029.9 627,1031.5 627.4,1033.3 627.9,1032 628.3,1035.3 628.7,1036.8 629.2,1036 629.6,1036.8 630,1033.6 630.5,1035.1 630.9,1036.6 631.3,1039.1 631.7,1036.7 632.2,1039.1 632.6,1039.5 633,1038.5 633.5,1041.4 633.9,1041.1 634.3,1043.2 634.8,1042.5 635.2,1045.7 635.6,1044.6 636,1045.1 636.5,1042 636.9,1042.5 637.3,1043.6 637.8,1043.5 638.2,1042.9 638.6,1042.2 639.1,1046.2 639.5,1046.4 639.9,1046.5 640.3,1043.2 640.8,1043.5 641.2,1044.9 641.6,1045.7 642.1,1046.5 642.5,1046.4 642.9,1041.8 643.4,1040.8 643.8,1040.9 644.2,1047.1 644.6,1045.5 645.1,1046.4 645.5,1045.1 645.9,1045.7 646.4,1047.5 646.8,1049.1 647.2,1049.7 647.7,1048.4 648.1,1049.4 648.5,1049 649,1049.5 649.4,1046.6 649.8,1046.8 650.2,1047.2 650.7,1048.7 651.1,1048.4 651.5,1050.3 652,1050.7 652.4,1048.2 652.8,1048 653.3,1046.5 653.7,1047.5 654.1,1048.1 654.5,1047.3 655,1048.1 655.4,1047.7 655.8,1050.8 656.3,1050.7 656.7,1049 657.1,1052.5 657.6,1051.4 658,1052.6 658.4,1050.6 658.8,1051.8 659.3,1052.6 659.7,1051.3 660.1,1052.2 660.6,1053.9 661,1051.7 661.4,1052.7 661.9,1053.4 662.3,1054.4 662.7,1056.2 663.1,1056.6 663.6,1052.7 664,1052.2 664.4,1051.5 664.9,1054.4 665.3,1054.1 665.7,1055.8 666.2,1052.1 666.6,1051.6 667,1053 667.4,1049.1 667.9,1050.6 668.3,1051.2 668.7,1053.4 669.2,1050.5 669.6,1050.2 670,1054.2 670.5,1053.7 670.9,1054.9 671.3,1049.1 671.7,1050.7 672.2,1049 672.6,1052.6 673,1053.9 673.5,1052.8 673.9,1047.7 674.3,1047 674.8,1047.7 675.2,1049.9 675.6,1052.1 676,1048.3 676.5,1047.2 676.9,1046.7 677.3,1046.6 677.8,1050.4 678.2,1049.8 678.6,1050 679.1,1049.5 679.5,1047.6 679.9,1047.6 680.4,1048.5 680.8,1047 681.2,1046.3 681.6,1048.8 682.1,1047.5 682.5,1049.3 682.9,1047.8 683.4,1047.8 683.8,1046.6 684.2,1045.4 684.7,1045.1 685.1,1044.9 685.5,1043.8 685.9,1043.3 686.4,1042.1 686.8,1041.3 687.2,1041.1 687.7,1040.1 688.1,1039.2 688.5,1036.4 689,1035.9 689.4,1036.9 689.8,1037.8 690.2,1037.7 690.7,1034.6 691.1,1033.2 691.5,1034.4 692,1036 692.4,1035.2 692.8,1035.7 693.3,1031.9 693.7,1030.5 694.1,1033.7 694.5,1034.2 695,1033.9 695.4,1035.3 695.8,1035.9 696.3,1036.9 696.7,1034.9 697.1,1034.8 697.6,1033.5 698,1032.9 698.4,1033.5 698.8,1034.9 699.3,1036.3 699.7,1036.5 700.1,1035.9 700.6,1033.4 701,1035.9 701.4,1035.3 701.9,1035 702.3,1034.5 702.7,1035.2 703.1,1035.8 703.6,1037.3 704,1038.4 704.4,1039.1 704.9,1034.7 705.3,1034.2 705.7,1034 706.2,1036 706.6,1038.1 707,1038.3 707.5,1032.5 707.9,1032.3 708.3,1031.4 708.7,1033.6 709.2,1032.7 709.6,1033.1 710,1032.4 710.5,1033.2 710.9,1031.8 711.3,1034 711.8,1032.3 712.2,1032.2 712.6,1032.6 713,1030.7 713.5,1029.5 713.9,1026.6 714.3,1027.3 714.8,1027.5 715.2,1030.4 715.6,1029 716.1,1029.2 716.5,1025.6 716.9,1026.7 717.3,1026.1 717.8,1027.4 718.2,1027.3 718.6,1026.7 719.1,1020.7 719.5,1023 719.9,1020.7 720.4,1026.4 720.8,1026.9 721.2,1025.5 721.6,1023.8 722.1,1023.8 722.5,1024.9 722.9,1024.1 723.4,1024.1 723.8,1024 724.2,1023.1 724.7,1022.7 725.1,1023 725.5,1027.5 725.9,1024.7 726.4,1025.1 726.8,1022.3 727.2,1024.5 727.7,1022.7 728.1,1023.1 728.5,1025 729,1024.2 729.4,1025.1 729.8,1023.2 730.2,1023.9 730.7,1021.4 731.1,1022.3 731.5,1020.7 732,1021.5 732.4,1019.9 732.8,1020.9 733.3,1023.8 733.7,1022.2 734.1,1021 734.5,1022.5 735,1021.6 735.4,1021.6 735.8,1019.1 736.3,1020.4 736.7,1020.5" fill="none" stroke="#677aa3" stroke-width="4.7" stroke-linejoin="round" />
<polyline points="350,1089.3 350.4,1089.3 350.9,1089.8 351.3,1091.1 351.7,1090.4 352.2,1092.3 352.6,1090.6 353,1091.6 353.4,1092.1 353.9,1089.7 354.3,1090.8 354.7,1091 355.2,1093.6 355.6,1095.2 356,1094.6 356.5,1095.6 356.9,1094.6 357.3,1094.5 357.7,1091.2 358.2,1090.2 358.6,1091.2 359,1089.1 359.5,1090.8 359.9,1090.1 360.3,1089.6 360.8,1088.9 361.2,1088.4 361.6,1086.1 362,1085.6 362.5,1085.8 362.9,1085.8 363.3,1085.9 363.8,1083.2 364.2,1083.5 364.6,1083.3 365.1,1081.6 365.5,1078.3 365.9,1078.3 366.3,1077.7 366.8,1079.4 367.2,1077.9 367.6,1077.8 368.1,1076.1 368.5,1074 368.9,1074.7 369.4,1072 369.8,1070 370.2,1068.8 370.6,1067.9 371.1,1065.3 371.5,1065 371.9,1063 372.4,1062.2 372.8,1062 373.2,1062 373.7,1061.6 374.1,1059.4 374.5,1059.7 374.9,1057 375.4,1054.3 375.8,1050.1 376.2,1048.5 376.7,1046.7 377.1,1049.1 377.5,1047 378,1045.9 378.4,1044.1 378.8,1043.8 379.2,1041.6 379.7,1042.4 380.1,1039.8 380.5,1039.1 381,1035 381.4,1036.7 381.8,1033.7 382.3,1031.8 382.7,1028.2 383.1,1029.5 383.6,1030.3 384,1028.5 384.4,1028.4 384.8,1023.5 385.3,1023.3 385.7,1021.3 386.1,1021.9 386.6,1019.3 387,1019.1 387.4,1019.1 387.9,1018.3 388.3,1015.8 388.7,1017.1 389.1,1013.2 389.6,1013.2 390,1009.8 390.4,1010.2 390.9,1006.2 391.3,1009.4 391.7,1007 392.2,1009 392.6,1008.9 393,1007.6 393.4,1006.9 393.9,1003.7 394.3,1002.2 394.7,1003.2 395.2,1004.9 395.6,1003.5 396,1002.1 396.5,998.6 396.9,999.4 397.3,998.9 397.7,999.4 398.2,1000.4 398.6,1000.7 399,997.3 399.5,998.4 399.9,996.9 400.3,995.5 400.8,993.3 401.2,993.2 401.6,994.6 402,994.4 402.5,995.3 402.9,995.6 403.3,998.9 403.8,997.5 404.2,998 404.6,1001 405.1,1000.8 405.5,1002.5 405.9,1001 406.3,1000.6 406.8,1002.3 407.2,1004.5 407.6,1003.8 408.1,1006.5 408.5,1007 408.9,1005 409.4,1005.1 409.8,1006 410.2,1008.2 410.7,1003.9 411.1,1005.2 411.5,1003.5 411.9,1005.6 412.4,1006.8 412.8,1006.1 413.2,1010.5 413.7,1009.4 414.1,1008.6 414.5,1007.2 415,1006 415.4,1007.2 415.8,1008.7 416.2,1008.1 416.7,1009.8 417.1,1010 417.5,1011 418,1007.6 418.4,1007.6 418.8,1008.5 419.3,1007.9 419.7,1008.4 420.1,1008.8 420.5,1007.7 421,1008.5 421.4,1010.3 421.8,1010.4 422.3,1013.4 422.7,1015.5 423.1,1015.2 423.6,1012 424,1012.2 424.4,1014.6 424.8,1012.9 425.3,1013.7 425.7,1011.1 426.1,1012.5 426.6,1014.3 427,1015 427.4,1018.5 427.9,1016.9 428.3,1018.1 428.7,1019 429.1,1018.4 429.6,1019.1 430,1018.2 430.4,1019 430.9,1020.2 431.3,1019.8 431.7,1021.8 432.2,1023.5 432.6,1018 433,1020 433.4,1022.3 433.9,1021.4 434.3,1022.5 434.7,1023.2 435.2,1024 435.6,1023.7 436,1027.7 436.5,1024.8 436.9,1026.8 437.3,1027.1 437.7,1029.2 438.2,1029.9 438.6,1029.7 439,1032.7 439.5,1032.2 439.9,1033.8 440.3,1032.9 440.8,1034.5 441.2,1035.2 441.6,1032.4 442.1,1032.9 442.5,1034.8 442.9,1036.6 443.3,1036.7 443.8,1039.6 444.2,1034.9 444.6,1036.6 445.1,1036.5 445.5,1045.6 445.9,1047.5 446.4,1047.7 446.8,1040.8 447.2,1041.5 447.6,1043.6 448.1,1044.4 448.5,1047.8 448.9,1047.2 449.4,1049.8 449.8,1050 450.2,1050.1 450.7,1051.1 451.1,1051.5 451.5,1050.6 451.9,1056.5 452.4,1056.1 452.8,1059.2 453.2,1055.6 453.7,1055.5 454.1,1060.7 454.5,1058.9 455,1059.1 455.4,1061 455.8,1058.9 456.2,1061 456.7,1060.9 457.1,1065.8 457.5,1065.4 458,1067 458.4,1068.5 458.8,1070.6 459.3,1071.9 459.7,1072.2 460.1,1072.7 460.5,1074.6 461,1072.9 461.4,1072.1 461.8,1074.3 462.3,1077.6 462.7,1076.7 463.1,1079.2 463.6,1083.3 464,1083.1 464.4,1084.9 464.8,1082.7 465.3,1083.5 465.7,1082.5 466.1,1085.3 466.6,1086.7 467,1086 467.4,1088.2 467.9,1086 468.3,1085.4 468.7,1090.9 469.2,1087.9 469.6,1088.5 470,1088.5 470.4,1087.5 470.9,1085.6 471.3,1087.7 471.7,1087.1 472.2,1087.7 472.6,1089.5 473,1087.6 473.5,1089.1 473.9,1085.1 474.3,1085.7 474.7,1084.5 475.2,1084.2 475.6,1082.5 476,1083.2 476.5,1083.1 476.9,1083.6 477.3,1082.5 477.8,1082.2 478.2,1081.6 478.6,1083 479,1083.2 479.5,1082.4 479.9,1082.9 480.3,1079.3 480.8,1081.5 481.2,1082.1 481.6,1082.1 482.1,1078.4 482.5,1078.7 482.9,1079.7 483.3,1079.5 483.8,1080.8 484.2,1076.1 484.6,1078 485.1,1077.4 485.5,1075.3 485.9,1075.5 486.4,1076 486.8,1074.8 487.2,1073.4 487.6,1071.6 488.1,1074.8 488.5,1073.8 488.9,1075.9 489.4,1075.8 489.8,1074.7 490.2,1074 490.7,1073.6 491.1,1076.6 491.5,1072.8 491.9,1076.6 492.4,1076.8 492.8,1077.5 493.2,1075 493.7,1072.5 494.1,1073 494.5,1073.9 495,1073.6 495.4,1072.4 495.8,1066.4 496.2,1068.2 496.7,1069.1 497.1,1072.2 497.5,1071.4 498,1073.4 498.4,1069.7 498.8,1069.5 499.3,1068.2 499.7,1067.3 500.1,1067.9 500.6,1068.9 501,1071.1 501.4,1066.8 501.8,1068.5 502.3,1064.6 502.7,1064.2 503.1,1063.5 503.6,1064.3 504,1063.8 504.4,1062.3 504.9,1061 505.3,1060.9 505.7,1059.7 506.1,1060.4 506.6,1059.4 507,1056.8 507.4,1055.9 507.9,1050.3 508.3,1048.9 508.7,1055.2 509.2,1051.5 509.6,1049.9 510,1046.1 510.4,1043.6 510.9,1042.8 511.3,1036.5 511.7,1036.6 512.2,1035.7 512.6,1040.4 513,1040.9 513.5,1039 513.9,1034.8 514.3,1034.4 514.7,1031.6 515.2,1030.9 515.6,1029.7 516,1027.8 516.5,1028.7 516.9,1028.6 517.3,1024.9 517.8,1025.4 518.2,1020.2 518.6,1017.8 519,1013.7 519.5,1012.2 519.9,1013.2 520.3,1012.4 520.8,1013.5 521.2,1014.1 521.6,1009.6 522.1,1011 522.5,1011.3 522.9,1013.3 523.3,1010.7 523.8,1011.7 524.2,1004.2 524.6,1008.2 525.1,1003.7 525.5,1008.5 525.9,1008 526.4,1008.4 526.8,1006 527.2,1005.6 527.6,1003.8 528.1,1002 528.5,1001.3 528.9,1001.4 529.4,1003.9 529.8,1003.3 530.2,1005.1 530.7,1002 531.1,999.8 531.5,999.8 532,997.5 532.4,997.3 532.8,996.2 533.2,1001.1 533.7,1000.6 534.1,999.6 534.5,997.8 535,995.4 535.4,997.1 535.8,994.2 536.3,994.4 536.7,994.1 537.1,991.8 537.5,990.8 538,991 538.4,997.1 538.8,996.4 539.3,995.3 539.7,994.3 540.1,993 540.6,993.3 541,988.3 541.4,988.7 541.8,987.8 542.3,988.4 542.7,987.9 543.1,987.6 543.6,987.4 544,985.2 544.4,987.2 544.9,983 545.3,985.1 545.7,985.8 546.1,988.7 546.6,987.3 547,988.6 547.4,987.1 547.9,985.2 548.3,987.8 548.7,987.1 549.2,989.5 549.6,989 550,989.8 550.4,992.6 550.9,990.9 551.3,988.5 551.7,990.3 552.2,989.6 552.6,992.3 553,993.1 553.5,995.4 553.9,998 554.3,998.1 554.7,998.6 555.2,995.3 555.6,996.7 556,998.7 556.5,1000.3 556.9,1000.8 557.3,1001.2 557.8,998.5 558.2,998.9 558.6,1000 559.1,1000.8 559.5,1002.9 559.9,1001.1 560.3,1005.3 560.8,1006.1 561.2,1008.2 561.6,1005.9 562.1,1004.4 562.5,1006.4 562.9,1007 563.4,1008.4 563.8,1009.4 564.2,1009 564.6,1011.3 565.1,1011.2 565.5,1011.4 565.9,1012.5 566.4,1013 566.8,1017 567.2,1018.2 567.7,1017.4 568.1,1021.5 568.5,1021.8 568.9,1023 569.4,1022.4 569.8,1024.7 570.2,1024.7 570.7,1028.1 571.1,1027.4 571.5,1027.4 572,1028.8 572.4,1028.5 572.8,1031.4 573.2,1030.2 573.7,1030.6 574.1,1033.9 574.5,1035.1 575,1034 575.4,1034.5 575.8,1036.6 576.3,1036.9 576.7,1037.5 577.1,1040.7 577.5,1041.8 578,1043.3 578.4,1041.9 578.8,1041.7 579.3,1042.5 579.7,1045.3 580.1,1048.6 580.6,1047.7 581,1044.8 581.4,1045.9 581.8,1046.1 582.3,1052.8 582.7,1052 583.1,1053.5 583.6,1056.5 584,1057.5 584.4,1056.6 584.9,1061.6 585.3,1062.5 585.7,1064.2 586.1,1062.7 586.6,1064 587,1063.8 587.4,1066 587.9,1069.2 588.3,1070 588.7,1067.8 589.2,1070 589.6,1070.2 590,1071.9 590.5,1074.5 590.9,1072.4 591.3,1074.1 591.7,1077.7 592.2,1078.4 592.6,1079.6 593,1080.2 593.5,1080 593.9,1080.5 594.3,1083.7 594.8,1085.4 595.2,1085.3 595.6,1085.6 596,1085.7 596.5,1082.2 596.9,1085.8 597.3,1085.7 597.8,1087.7 598.2,1087.2 598.6,1086.1 599.1,1092.3 599.5,1093.2 599.9,1092.2 600.3,1091.2 600.8,1090.7 601.2,1092.6 601.6,1093.9 602.1,1093.2 602.5,1092.9 602.9,1095.4 603.4,1096.2 603.8,1095.6 604.2,1094.1 604.6,1094.1 605.1,1094.3 605.5,1095 605.9,1094.3 606.4,1092.7 606.8,1096.7 607.2,1095.3 607.7,1095.6 608.1,1092.9 608.5,1091.4 608.9,1092.7 609.4,1092.7 609.8,1094.2 610.2,1092 610.7,1090.9 611.1,1089.2 611.5,1091.6 612,1090.9 612.4,1090.5 612.8,1089.3 613.2,1094.6 613.7,1094.3 614.1,1093.5 614.5,1093 615,1093.8 615.4,1092.4 615.8,1089.5 616.3,1091.3 616.7,1089.8 617.1,1090.8 617.5,1088.5 618,1091.4 618.4,1090.3 618.8,1089 619.3,1087.8 619.7,1083.3 620.1,1083.5 620.6,1081.2 621,1089.6 621.4,1090.4 621.9,1087 622.3,1086.5 622.7,1087 623.1,1085.2 623.6,1085.8 624,1086.6 624.4,1087 624.9,1085.1 625.3,1084.9 625.7,1084.9 626.2,1084.6 626.6,1087 627,1087.5 627.4,1084.8 627.9,1083.4 628.3,1082.6 628.7,1085.3 629.2,1084.4 629.6,1085.5 630,1081.2 630.5,1082.5 630.9,1080.8 631.3,1081.1 631.7,1080.6 632.2,1079.4 632.6,1078.1 633,1077.6 633.5,1076 633.9,1072.6 634.3,1071.2 634.8,1071.2 635.2,1075.4 635.6,1076.7 636,1073.5 636.5,1070.3 636.9,1070.6 637.3,1067.7 637.8,1070.8 638.2,1068 638.6,1068.4 639.1,1065.8 639.5,1066 639.9,1063.4 640.3,1061.5 640.8,1059.1 641.2,1054.9 641.6,1055.2 642.1,1054.1 642.5,1054.6 642.9,1054.5 643.4,1053.3 643.8,1053.1 644.2,1048.4 644.6,1047.6 645.1,1047.4 645.5,1043 645.9,1041.8 646.4,1042.4 646.8,1040.8 647.2,1039.9 647.7,1038.9 648.1,1035.2 648.5,1031.3 649,1030.5 649.4,1030.7 649.8,1027.6 650.2,1025.2 650.7,1025.2 651.1,1024.2 651.5,1024.3 652,1017.5 652.4,1016.8 652.8,1015.1 653.3,1016.4 653.7,1014.8 654.1,1015.3 654.5,1016.7 655,1016.9 655.4,1013.8 655.8,1011.7 656.3,1008.4 656.7,1008.8 657.1,1010.1 657.6,1009.5 658,1008.7 658.4,1003.9 658.8,1003.2 659.3,1003.9 659.7,1005.9 660.1,1002.5 660.6,1002.9 661,1001.7 661.4,1001.3 661.9,1001.2 662.3,998.8 662.7,999.9 663.1,998.5 663.6,998.9 664,996.2 664.4,995.4 664.9,999.5 665.3,997 665.7,999.3 666.2,997.5 666.6,995.2 667,994.6 667.4,993.7 667.9,995.7 668.3,993.8 668.7,994.7 669.2,994.6 669.6,992.9 670,989 670.5,990.9 670.9,988.2 671.3,990.4 671.7,993.1 672.2,992 672.6,994.5 673,994.5 673.5,995.2 673.9,991.6 674.3,991.2 674.8,990 675.2,988.4 675.6,989.1 676,987.6 676.5,992.9 676.9,989 677.3,991.8 677.8,994 678.2,995.1 678.6,995.3 679.1,991.3 679.5,992.9 679.9,992.4 680.4,990.2 680.8,989.6 681.2,990.5 681.6,995.1 682.1,992.6 682.5,994.3 682.9,993.6 683.4,992.7 683.8,991.4 684.2,992 684.7,993.7 685.1,994 685.5,997 685.9,995.1 686.4,997.3 686.8,996.7 687.2,996.4 687.7,997.9 688.1,1004.2 688.5,1004.4 689,1004.2 689.4,1001 689.8,1001.1 690.2,1002 690.7,1000.2 691.1,1001.1 691.5,1001.4 692,1005.5 692.4,1003.1 692.8,1004.5 693.3,999.5 693.7,1004.2 694.1,999.9 694.5,1007.1 695,1006.4 695.4,1009.3 695.8,1006.6 696.3,1009.6 696.7,1010.1 697.1,1007.5 697.6,1010.1 698,1010.6 698.4,1008.4 698.8,1009.4 699.3,1010.6 699.7,1016.3 700.1,1015 700.6,1017.7 701,1013.8 701.4,1014.5 701.9,1015.7 702.3,1018.6 702.7,1020.3 703.1,1023.4 703.6,1023.1 704,1026.8 704.4,1026.4 704.9,1026.2 705.3,1026.9 705.7,1027.6 706.2,1028.9 706.6,1029.8 707,1029.2 707.5,1032.6 707.9,1034.7 708.3,1034.4 708.7,1033.8 709.2,1036.9 709.6,1036.2 710,1037.6 710.5,1039.6 710.9,1038.9 711.3,1040.8 711.8,1041.8 712.2,1042.9 712.6,1042.5 713,1044.6 713.5,1045.8 713.9,1042.1 714.3,1045.4 714.8,1047 715.2,1054.4 715.6,1054 716.1,1056.1 716.5,1048.6 716.9,1050.3 717.3,1053 717.8,1057.5 718.2,1059.5 718.6,1061.2 719.1,1061.1 719.5,1057.7 719.9,1062.2 720.4,1062.3 720.8,1060.6 721.2,1060.3 721.6,1063 722.1,1064.4 722.5,1065.1 722.9,1067.5 723.4,1068.8 723.8,1069.9 724.2,1070.4 724.7,1071 725.1,1072.9 725.5,1073.3 725.9,1075.1 726.4,1074.2 726.8,1075.9 727.2,1076.9 727.7,1076.5 728.1,1073.9 728.5,1075.5 729,1079.2 729.4,1080.5 729.8,1079.9 730.2,1083.2 730.7,1085.4 731.1,1085.1 731.5,1087.5 732,1084.5 732.4,1086.6 732.8,1086.8 733.3,1087.7 733.7,1090.4 734.1,1088.6 734.5,1088.9 735,1088.5 735.4,1089.6 735.8,1088.9 736.3,1090.5 736.7,1091.2" fill="none" stroke="#0000ff" stroke-width="5.0" stroke-linejoin="round" />
<polyline points="350,1018.5 350.4,1015.1 350.9,1011.7 351.3,1008.2 351.7,1004.8 352.2,1001.4 352.6,998 353,994.6 353.4,991.3 353.9,987.9 354.3,984.6 354.7,981.3 355.2,978 355.6,974.7 356,971.4 356.5,968.2 356.9,965 357.3,961.8 357.7,958.7 358.2,955.6 358.6,952.5 359,949.5 359.5,946.5 359.9,943.5 360.3,940.5 360.8,937.7 361.2,934.8 361.6,932 362,929.3 362.5,926.5 362.9,923.9 363.3,921.3 363.8,918.7 364.2,916.2 364.6,913.8 365.1,911.4 365.5,909 365.9,906.7 366.3,904.5 366.8,902.4 367.2,900.3 367.6,898.2 368.1,896.3 368.5,894.4 368.9,892.5 369.4,890.8 369.8,889.1 370.2,887.5 370.6,885.9 371.1,884.4 371.5,883 371.9,881.7 372.4,880.4 372.8,879.2 373.2,878.1 373.7,877.1 374.1,876.1 374.5,875.3 374.9,874.5 375.4,873.7 375.8,873.1 376.2,872.5 376.7,872.1 377.1,871.7 377.5,871.4 378,871.1 378.4,871 378.8,870.9 379.2,870.9 379.7,871 380.1,871.2 380.5,871.4 381,871.7 381.4,872.1 381.8,872.6 382.3,873.2 382.7,873.9 383.1,874.6 383.6,875.4 384,876.3 384.4,877.3 384.8,878.3 385.3,879.5 385.7,880.7 386.1,881.9 386.6,883.3 387,884.7 387.4,886.2 387.9,887.8 388.3,889.4 388.7,891.1 389.1,892.9 389.6,894.8 390,896.7 390.4,898.7 390.9,900.7 391.3,902.8 391.7,905 392.2,907.2 392.6,909.5 393,911.9 393.4,914.3 393.9,916.8 394.3,919.3 394.7,921.9 395.2,924.5 395.6,927.2 396,929.9 396.5,932.7 396.9,935.5 397.3,938.3 397.7,941.2 398.2,944.2 398.6,947.2 399,950.2 399.5,953.2 399.9,956.3 400.3,959.5 400.8,962.6 401.2,965.8 401.6,969 402,972.3 402.5,975.5 402.9,978.8 403.3,982.1 403.8,985.4 404.2,988.8 404.6,992.1 405.1,995.5 405.5,998.9 405.9,1002.3 406.3,1005.7 406.8,1009.1 407.2,1012.5 407.6,1016 408.1,1019.4 408.5,1022.8 408.9,1026.3 409.4,1029.7 409.8,1033.1 410.2,1036.5 410.7,1040 411.1,1043.4 411.5,1046.8 411.9,1050.2 412.4,1053.5 412.8,1056.9 413.2,1060.3 413.7,1063.6 414.1,1066.9 414.5,1070.2 415,1073.5 415.4,1076.7 415.8,1080 416.2,1083.2 416.7,1086.4 417.1,1089.5 417.5,1092.7 418,1095.8 418.4,1098.9 418.8,1101.9 419.3,1104.9 419.7,1107.9 420.1,1110.9 420.5,1113.8 421,1116.7 421.4,1119.5 421.8,1122.3 422.3,1125.1 422.7,1127.8 423.1,1130.5 423.6,1133.2 424,1135.8 424.4,1138.3 424.8,1140.9 425.3,1143.4 425.7,1145.8 426.1,1148.2 426.6,1150.5 427,1152.9 427.4,1155.1 427.9,1157.3 428.3,1159.5 428.7,1161.6 429.1,1163.7 429.6,1165.7 430,1167.7 430.4,1169.6 430.9,1171.5 431.3,1173.3 431.7,1175.1 432.2,1176.9 432.6,1178.5 433,1180.2 433.4,1181.7 433.9,1183.3 434.3,1184.7 434.7,1186.1 435.2,1187.5 435.6,1188.8 436,1190.1 436.5,1191.3 436.9,1192.5 437.3,1193.6 437.7,1194.6 438.2,1195.6 438.6,1196.5 439,1197.4 439.5,1198.3 439.9,1199 440.3,1199.8 440.8,1200.4 441.2,1201.1 441.6,1201.6 442.1,1202.1 442.5,1202.6 442.9,1203 443.3,1203.3 443.8,1203.6 444.2,1203.8 444.6,1204 445.1,1204.2 445.5,1204.2 445.9,1204.2 446.4,1204.2 446.8,1204.1 447.2,1204 447.6,1203.8 448.1,1203.5 448.5,1203.2 448.9,1202.8 449.4,1202.4 449.8,1201.9 450.2,1201.4 450.7,1200.8 451.1,1200.2 451.5,1199.5 451.9,1198.7 452.4,1197.9 452.8,1197.1 453.2,1196.2 453.7,1195.2 454.1,1194.2 454.5,1193.1 455,1192 455.4,1190.8 455.8,1189.6 456.2,1188.3 456.7,1187 457.1,1185.6 457.5,1184.2 458,1182.7 458.4,1181.2 458.8,1179.6 459.3,1177.9 459.7,1176.2 460.1,1174.5 460.5,1172.7 461,1170.9 461.4,1169 461.8,1167 462.3,1165 462.7,1163 463.1,1160.9 463.6,1158.8 464,1156.6 464.4,1154.4 464.8,1152.1 465.3,1149.8 465.7,1147.5 466.1,1145.1 466.6,1142.6 467,1140.2 467.4,1137.6 467.9,1135.1 468.3,1132.5 468.7,1129.8 469.2,1127.1 469.6,1124.4 470,1121.7 470.4,1118.9 470.9,1116 471.3,1113.2 471.7,1110.3 472.2,1107.3 472.6,1104.4 473,1101.4 473.5,1098.4 473.9,1095.3 474.3,1092.2 474.7,1089.1 475.2,1086 475.6,1082.8 476,1079.6 476.5,1076.4 476.9,1073.2 477.3,1070 477.8,1066.7 478.2,1063.4 478.6,1060.1 479,1056.8 479.5,1053.5 479.9,1050.2 480.3,1046.8 480.8,1043.5 481.2,1040.1 481.6,1036.8 482.1,1033.4 482.5,1030 482.9,1026.6 483.3,1023.3 483.8,1019.9 484.2,1016.5 484.6,1013.1 485.1,1009.8 485.5,1006.4 485.9,1003.1 486.4,999.8 486.8,996.4 487.2,993.1 487.6,989.8 488.1,986.6 488.5,983.3 488.9,980.1 489.4,976.8 489.8,973.7 490.2,970.5 490.7,967.3 491.1,964.2 491.5,961.2 491.9,958.1 492.4,955.1 492.8,952.1 493.2,949.2 493.7,946.3 494.1,943.4 494.5,940.6 495,937.8 495.4,935 495.8,932.3 496.2,929.7 496.7,927.1 497.1,924.6 497.5,922.1 498,919.6 498.4,917.2 498.8,914.9 499.3,912.6 499.7,910.4 500.1,908.2 500.6,906.1 501,904.1 501.4,902.1 501.8,900.2 502.3,898.4 502.7,896.6 503.1,894.9 503.6,893.2 504,891.6 504.4,890.1 504.9,888.7 505.3,887.3 505.7,886.1 506.1,884.8 506.6,883.7 507,882.6 507.4,881.6 507.9,880.7 508.3,879.9 508.7,879.1 509.2,878.4 509.6,877.8 510,877.3 510.4,876.8 510.9,876.5 511.3,876.2 511.7,876 512.2,875.8 512.6,875.8 513,875.8 513.5,875.9 513.9,876.1 514.3,876.4 514.7,876.7 515.2,877.1 515.6,877.6 516,878.2 516.5,878.8 516.9,879.6 517.3,880.4 517.8,881.3 518.2,882.2 518.6,883.3 519,884.4 519.5,885.5 519.9,886.8 520.3,888.1 520.8,889.5 521.2,891 521.6,892.5 522.1,894.2 522.5,895.8 522.9,897.6 523.3,899.4 523.8,901.3 524.2,903.2 524.6,905.2 525.1,907.3 525.5,909.4 525.9,911.6 526.4,913.8 526.8,916.1 527.2,918.5 527.6,920.9 528.1,923.3 528.5,925.8 528.9,928.4 529.4,931 529.8,933.7 530.2,936.4 530.7,939.1 531.1,941.9 531.5,944.7 532,947.6 532.4,950.5 532.8,953.4 533.2,956.4 533.7,959.4 534.1,962.5 534.5,965.5 535,968.6 535.4,971.8 535.8,974.9 536.3,978.1 536.7,981.3 537.1,984.5 537.5,987.8 538,991 538.4,994.3 538.8,997.6 539.3,1000.9 539.7,1004.2 540.1,1007.5 540.6,1010.8 541,1014.1 541.4,1017.5 541.8,1020.8 542.3,1024.1 542.7,1027.5 543.1,1030.8 543.6,1034.1 544,1037.5 544.4,1040.8 544.9,1044.1 545.3,1047.4 545.7,1050.7 546.1,1054 546.6,1057.2 547,1060.5 547.4,1063.7 547.9,1067 548.3,1070.2 548.7,1073.4 549.2,1076.5 549.6,1079.7 550,1082.8 550.4,1085.9 550.9,1089 551.3,1092 551.7,1095 552.2,1098 552.6,1101 553,1103.9 553.5,1106.8 553.9,1109.7 554.3,1112.5 554.7,1115.3 555.2,1118.1 555.6,1120.8 556,1123.5 556.5,1126.1 556.9,1128.8 557.3,1131.3 557.8,1133.9 558.2,1136.4 558.6,1138.8 559.1,1141.2 559.5,1143.6 559.9,1145.9 560.3,1148.2 560.8,1150.5 561.2,1152.7 561.6,1154.8 562.1,1156.9 562.5,1159 562.9,1161 563.4,1162.9 563.8,1164.9 564.2,1166.7 564.6,1168.5 565.1,1170.3 565.5,1172 565.9,1173.7 566.4,1175.3 566.8,1176.9 567.2,1178.4 567.7,1179.9 568.1,1181.3 568.5,1182.7 568.9,1184 569.4,1185.3 569.8,1186.5 570.2,1187.6 570.7,1188.8 571.1,1189.8 571.5,1190.8 572,1191.8 572.4,1192.7 572.8,1193.5 573.2,1194.3 573.7,1195.1 574.1,1195.7 574.5,1196.4 575,1197 575.4,1197.5 575.8,1197.9 576.3,1198.4 576.7,1198.7 577.1,1199 577.5,1199.3 578,1199.5 578.4,1199.7 578.8,1199.7 579.3,1199.8 579.7,1199.8 580.1,1199.7 580.6,1199.6 581,1199.4 581.4,1199.2 581.8,1198.9 582.3,1198.6 582.7,1198.2 583.1,1197.7 583.6,1197.2 584,1196.7 584.4,1196.1 584.9,1195.4 585.3,1194.7 585.7,1193.9 586.1,1193.1 586.6,1192.2 587,1191.3 587.4,1190.3 587.9,1189.2 588.3,1188.1 588.7,1187 589.2,1185.8 589.6,1184.6 590,1183.3 590.5,1181.9 590.9,1180.5 591.3,1179 591.7,1177.5 592.2,1176 592.6,1174.3 593,1172.7 593.5,1171 593.9,1169.2 594.3,1167.4 594.8,1165.5 595.2,1163.6 595.6,1161.7 596,1159.6 596.5,1157.6 596.9,1155.5 597.3,1153.3 597.8,1151.1 598.2,1148.9 598.6,1146.6 599.1,1144.3 599.5,1141.9 599.9,1139.5 600.3,1137 600.8,1134.5 601.2,1131.9 601.6,1129.3 602.1,1126.7 602.5,1124 602.9,1121.3 603.4,1118.6 603.8,1115.8 604.2,1113 604.6,1110.1 605.1,1107.2 605.5,1104.3 605.9,1101.3 606.4,1098.4 606.8,1095.3 607.2,1092.3 607.7,1089.2 608.1,1086.1 608.5,1082.9 608.9,1079.8 609.4,1076.6 609.8,1073.4 610.2,1070.2 610.7,1066.9 611.1,1063.6 611.5,1060.3 612,1057 612.4,1053.7 612.8,1050.4 613.2,1047 613.7,1043.7 614.1,1040.3 614.5,1036.9 615,1033.5 615.4,1030.1 615.8,1026.7 616.3,1023.3 616.7,1019.9 617.1,1016.5 617.5,1013.1 618,1009.7 618.4,1006.3 618.8,1002.9 619.3,999.5 619.7,996.1 620.1,992.8 620.6,989.4 621,986.1 621.4,982.8 621.9,979.5 622.3,976.2 622.7,972.9 623.1,969.7 623.6,966.4 624,963.2 624.4,960.1 624.9,956.9 625.3,953.8 625.7,950.8 626.2,947.7 626.6,944.7 627,941.8 627.4,938.8 627.9,935.9 628.3,933.1 628.7,930.3 629.2,927.5 629.6,924.8 630,922.1 630.5,919.5 630.9,917 631.3,914.5 631.7,912 632.2,909.6 632.6,907.2 633,904.9 633.5,902.7 633.9,900.5 634.3,898.4 634.8,896.4 635.2,894.4 635.6,892.5 636,890.6 636.5,888.8 636.9,887.1 637.3,885.5 637.8,883.9 638.2,882.4 638.6,881 639.1,879.6 639.5,878.3 639.9,877.1 640.3,876 640.8,874.9 641.2,873.9 641.6,873 642.1,872.2 642.5,871.4 642.9,870.7 643.4,870.1 643.8,869.6 644.2,869.2 644.6,868.8 645.1,868.6 645.5,868.4 645.9,868.2 646.4,868.2 646.8,868.2 647.2,868.4 647.7,868.6 648.1,868.9 648.5,869.2 649,869.7 649.4,870.2 649.8,870.8 650.2,871.5 650.7,872.2 651.1,873.1 651.5,874 652,875 652.4,876 652.8,877.2 653.3,878.4 653.7,879.7 654.1,881 654.5,882.5 655,884 655.4,885.5 655.8,887.2 656.3,888.9 656.7,890.7 657.1,892.5 657.6,894.4 658,896.4 658.4,898.4 658.8,900.5 659.3,902.7 659.7,904.9 660.1,907.2 660.6,909.5 661,911.9 661.4,914.3 661.9,916.8 662.3,919.4 662.7,922 663.1,924.6 663.6,927.3 664,930 664.4,932.8 664.9,935.6 665.3,938.5 665.7,941.4 666.2,944.3 666.6,947.3 667,950.3 667.4,953.3 667.9,956.4 668.3,959.5 668.7,962.6 669.2,965.8 669.6,969 670,972.2 670.5,975.4 670.9,978.6 671.3,981.9 671.7,985.2 672.2,988.4 672.6,991.7 673,995.1 673.5,998.4 673.9,1001.7 674.3,1005 674.8,1008.4 675.2,1011.7 675.6,1015.1 676,1018.4 676.5,1021.8 676.9,1025.1 677.3,1028.5 677.8,1031.8 678.2,1035.1 678.6,1038.4 679.1,1041.7 679.5,1045 679.9,1048.3 680.4,1051.6 680.8,1054.8 681.2,1058.1 681.6,1061.3 682.1,1064.5 682.5,1067.7 682.9,1070.9 683.4,1074 683.8,1077.1 684.2,1080.2 684.7,1083.3 685.1,1086.3 685.5,1089.3 685.9,1092.3 686.4,1095.2 686.8,1098.1 687.2,1101 687.7,1103.9 688.1,1106.7 688.5,1109.5 689,1112.2 689.4,1114.9 689.8,1117.6 690.2,1120.3 690.7,1122.9 691.1,1125.4 691.5,1127.9 692,1130.4 692.4,1132.8 692.8,1135.2 693.3,1137.6 693.7,1139.9 694.1,1142.2 694.5,1144.4 695,1146.5 695.4,1148.7 695.8,1150.8 696.3,1152.8 696.7,1154.8 697.1,1156.7 697.6,1158.6 698,1160.5 698.4,1162.3 698.8,1164 699.3,1165.7 699.7,1167.4 700.1,1169 700.6,1170.5 701,1172 701.4,1173.5 701.9,1174.9 702.3,1176.2 702.7,1177.5 703.1,1178.8 703.6,1180 704,1181.1 704.4,1182.2 704.9,1183.2 705.3,1184.2 705.7,1185.2 706.2,1186.1 706.6,1186.9 707,1187.7 707.5,1188.4 707.9,1189.1 708.3,1189.7 708.7,1190.3 709.2,1190.8 709.6,1191.3 710,1191.7 710.5,1192 710.9,1192.3 711.3,1192.6 711.8,1192.8 712.2,1193 712.6,1193.1 713,1193.1 713.5,1193.1 713.9,1193 714.3,1192.9 714.8,1192.8 715.2,1192.5 715.6,1192.3 716.1,1192 716.5,1191.6 716.9,1191.2 717.3,1190.7 717.8,1190.2 718.2,1189.6 718.6,1189 719.1,1188.3 719.5,1187.6 719.9,1186.8 720.4,1186 720.8,1185.1 721.2,1184.2 721.6,1183.2 722.1,1182.2 722.5,1181.1 722.9,1180 723.4,1178.8 723.8,1177.6 724.2,1176.3 724.7,1175 725.1,1173.6 725.5,1172.2 725.9,1170.7 726.4,1169.2 726.8,1167.6 727.2,1166 727.7,1164.3 728.1,1162.6 728.5,1160.9 729,1159.1 729.4,1157.2 729.8,1155.3 730.2,1153.4 730.7,1151.4 731.1,1149.4 731.5,1147.3 732,1145.2 732.4,1143 732.8,1140.8 733.3,1138.5 733.7,1136.3 734.1,1133.9 734.5,1131.6 735,1129.1 735.4,1126.7 735.8,1124.2 736.3,1121.7 736.7,1119.1" fill="none" stroke="#ff0000" stroke-width="3.9" stroke-linejoin="round" />
<polyline points="350,998.3 350.4,997.8 350.9,996.7 351.3,1000 351.7,999.9 352.2,999.3 352.6,1000.5 353,1000.6 353.4,1001 353.9,1003.9 354.3,1002.9 354.7,1002.2 355.2,1000.6 355.6,999.4 356,999.4 356.5,1004.6 356.9,1002.7 357.3,1004.8 357.7,1002.7 358.2,1003.7 358.6,1005.2 359,1002.2 359.5,1003.1 359.9,1000.9 360.3,1002.2 360.8,1003 361.2,1005 361.6,1007.8 362,1011 362.5,1007.9 362.9,1007.3 363.3,1009 363.8,1010.5 364.2,1007.9 364.6,1009.3 365.1,1010.7 365.5,1015.1 365.9,1014.3 366.3,1015 366.8,1017.2 367.2,1011.5 367.6,1016.1 368.1,1012 368.5,1013.7 368.9,1013.3 369.4,1013.9 369.8,1017.2 370.2,1017.4 370.6,1012.5 371.1,1012.6 371.5,1014.4 371.9,1019.8 372.4,1021.2 372.8,1020.5 373.2,1023.4 373.7,1022.4 374.1,1021.9 374.5,1023.1 374.9,1023.9 375.4,1026.2 375.8,1023.2 376.2,1025.4 376.7,1027.6 377.1,1024.7 377.5,1026.8 378,1026.9 378.4,1022.7 378.8,1022.7 379.2,1025.9 379.7,1028.7 380.1,1031.1 380.5,1032.7 381,1031.8 381.4,1033.8 381.8,1033.9 382.3,1031.1 382.7,1036.1 383.1,1034.6 383.6,1036.7 384,1037.1 384.4,1037.9 384.8,1036 385.3,1038.1 385.7,1041 386.1,1040.6 386.6,1039.6 387,1038.7 387.4,1038.8 387.9,1042.4 388.3,1040.1 388.7,1045.2 389.1,1046 389.6,1046.7 390,1042.2 390.4,1043.3 390.9,1045.2 391.3,1047.7 391.7,1047.3 392.2,1045.6 392.6,1046.3 393,1047.5 393.4,1049.6 393.9,1051.4 394.3,1050.5 394.7,1051.3 395.2,1049.6 395.6,1049.2 396,1051.1 396.5,1058.5 396.9,1057.1 397.3,1059.1 397.7,1054.2 398.2,1055.7 398.6,1054.8 399,1059.3 399.5,1058.6 399.9,1062.2 400.3,1058.9 400.8,1057.8 401.2,1058.7 401.6,1060.5 402,1061.3 402.5,1062.8 402.9,1063.2 403.3,1063.2 403.8,1065.7 404.2,1064.3 404.6,1064.1 405.1,1066.4 405.5,1060.5 405.9,1062.3 406.3,1067.1 406.8,1069.2 407.2,1069.9 407.6,1072.4 408.1,1070.9 408.5,1071.8 408.9,1069.9 409.4,1072.4 409.8,1072.1 410.2,1068.2 410.7,1066.6 411.1,1065.4 411.5,1064.7 411.9,1069.4 412.4,1069.2 412.8,1067.2 413.2,1060.4 413.7,1061.2 414.1,1059.8 414.5,1062.2 415,1061.4 415.4,1061.8 415.8,1061.9 416.2,1060.8 416.7,1059.6 417.1,1058.8 417.5,1058.5 418,1056.1 418.4,1057.2 418.8,1056.2 419.3,1057.6 419.7,1055.6 420.1,1054.1 420.5,1053.2 421,1050.3 421.4,1047 421.8,1047.8 422.3,1049.1 422.7,1046.9 423.1,1047.4 423.6,1045.3 424,1046.6 424.4,1047.8 424.8,1049.5 425.3,1050.4 425.7,1051.2 426.1,1048.8 426.6,1046.9 427,1047.5 427.4,1046.6 427.9,1050.2 428.3,1049.7 428.7,1048.6 429.1,1047.2 429.6,1046.2 430,1047.8 430.4,1048.3 430.9,1046.4 431.3,1045.9 431.7,1048.2 432.2,1050.9 432.6,1053.7 433,1050.9 433.4,1051.2 433.9,1049.9 434.3,1047.1 434.7,1046.6 435.2,1047.9 435.6,1043.6 436,1044.7 436.5,1045.8 436.9,1046.4 437.3,1043.3 437.7,1041.4 438.2,1042.7 438.6,1039.9 439,1043.6 439.5,1041.7 439.9,1042.2 440.3,1038.5 440.8,1038.5 441.2,1037.4 441.6,1034.3 442.1,1035.7 442.5,1033.8 442.9,1029.4 443.3,1027.8 443.8,1025.7 444.2,1033.2 444.6,1032.4 445.1,1031.9 445.5,1029.7 445.9,1028.4 446.4,1029.3 446.8,1029.3 447.2,1029.6 447.6,1028.4 448.1,1026.5 448.5,1025.8 448.9,1026.9 449.4,1025.7 449.8,1025.1 450.2,1025.7 450.7,1021.2 451.1,1022.5 451.5,1022.4 451.9,1021.5 452.4,1019.9 452.8,1019.3 453.2,1021.7 453.7,1019.5 454.1,1018.4 454.5,1021.3 455,1018.7 455.4,1017.4 455.8,1016.6 456.2,1016.6 456.7,1013.5 457.1,1014.4 457.5,1014.6 458,1012.1 458.4,1009.1 458.8,1008.2 459.3,1006.6 459.7,1012.4 460.1,1010.5 460.5,1012.7 461,1002.6 461.4,1000.8 461.8,1001.7 462.3,1004.6 462.7,1004 463.1,1002.3 463.6,1003.4 464,1002.3 464.4,1000.7 464.8,997.1 465.3,997 465.7,994.8 466.1,993.3 466.6,993.5 467,995.5 467.4,988.4 467.9,988.9 468.3,989.3 468.7,991.9 469.2,988.2 469.6,991.2 470,989 470.4,986.2 470.9,987 471.3,988.7 471.7,989.1 472.2,989 472.6,986.5 473,984.6 473.5,985.4 473.9,983.7 474.3,985.5 474.7,983.3 475.2,984.2 475.6,984.5 476,982.9 476.5,979.6 476.9,980.7 477.3,981.9 477.8,984 478.2,984.4 478.6,983.9 479,987 479.5,987.9 479.9,985 480.3,991.5 480.8,991.9 481.2,988.4 481.6,987 482.1,988.4 482.5,985.4 482.9,985.8 483.3,986.4 483.8,986.6 484.2,990.6 484.6,991 485.1,992.1 485.5,991 485.9,991.3 486.4,994.3 486.8,999.4 487.2,999.5 487.6,999.2 488.1,996 488.5,995 488.9,999.6 489.4,999.9 489.8,1000.5 490.2,1000.9 490.7,998.8 491.1,998.7 491.5,999.7 491.9,1000.2 492.4,1000.8 492.8,1005.1 493.2,1002.7 493.7,1002.4 494.1,1004.5 494.5,1001.8 495,1003.7 495.4,1002 495.8,1002.3 496.2,1002 496.7,1002.4 497.1,1007.6 497.5,1007.7 498,1006.8 498.4,1005.2 498.8,1006.2 499.3,1005.1 499.7,1004.6 500.1,1005.9 500.6,1007.8 501,1006.8 501.4,1008.8 501.8,1010.6 502.3,1011.8 502.7,1008.5 503.1,1010.7 503.6,1013.9 504,1014 504.4,1015.7 504.9,1012.2 505.3,1013.8 505.7,1014.2 506.1,1016 506.6,1014.8 507,1016.3 507.4,1021 507.9,1022.1 508.3,1024 508.7,1021.8 509.2,1022.3 509.6,1023.8 510,1023.9 510.4,1022.3 510.9,1024 511.3,1023.7 511.7,1025.1 512.2,1025.1 512.6,1023 513,1024.6 513.5,1025.1 513.9,1027.7 514.3,1030.2 514.7,1029.6 515.2,1025.6 515.6,1027.9 516,1027.8 516.5,1030 516.9,1029.3 517.3,1029.2 517.8,1029.5 518.2,1029.8 518.6,1029.9 519,1029.8 519.5,1029.6 519.9,1031.3 520.3,1031.4 520.8,1030.4 521.2,1031.7 521.6,1035 522.1,1034.6 522.5,1033.5 522.9,1033 523.3,1033.5 523.8,1033.2 524.2,1035.8 524.6,1037.2 525.1,1038.2 525.5,1036.3 525.9,1038.4 526.4,1036 526.8,1043.4 527.2,1042.5 527.6,1044.8 528.1,1040.8 528.5,1046.4 528.9,1045.4 529.4,1045.1 529.8,1045.3 530.2,1043.6 530.7,1045.7 531.1,1049 531.5,1049.2 532,1045.3 532.4,1047.8 532.8,1047.7 533.2,1052.2 533.7,1050 534.1,1052.2 534.5,1049.2 535,1050.2 535.4,1052 535.8,1050.3 536.3,1052.5 536.7,1053.6 537.1,1055.6 537.5,1057.7 538,1059.4 538.4,1056.4 538.8,1058.1 539.3,1056 539.7,1058.4 540.1,1059.2 540.6,1058.8 541,1059.5 541.4,1058.6 541.8,1060.6 542.3,1058.5 542.7,1057.1 543.1,1056.3 543.6,1054.1 544,1052.4 544.4,1053.5 544.9,1061.5 545.3,1060.2 545.7,1059.7 546.1,1057.6 546.6,1060.5 547,1057.1 547.4,1055.3 547.9,1055.5 548.3,1054.4 548.7,1056.2 549.2,1056.2 549.6,1054.8 550,1059 550.4,1057.7 550.9,1057.6 551.3,1050.8 551.7,1050.6 552.2,1050.9 552.6,1052.8 553,1053.9 553.5,1054 553.9,1054 554.3,1053 554.7,1053.1 555.2,1053 555.6,1053.2 556,1052.4 556.5,1049 556.9,1050.6 557.3,1051.4 557.8,1055.1 558.2,1053.8 558.6,1052.4 559.1,1044.4 559.5,1046.8 559.9,1043.8 560.3,1048.2 560.8,1048.8 561.2,1048.2 561.6,1048.8 562.1,1048.7 562.5,1048.8 562.9,1049.2 563.4,1047.3 563.8,1047.6 564.2,1047 564.6,1049 565.1,1046.5 565.5,1044.4 565.9,1043.1 566.4,1044.2 566.8,1042.4 567.2,1040.5 567.7,1038.9 568.1,1042.3 568.5,1041.2 568.9,1041.5 569.4,1039.3 569.8,1042.6 570.2,1041.1 570.7,1041.8 571.1,1041.9 571.5,1040.7 572,1038.5 572.4,1037.9 572.8,1036.5 573.2,1039.4 573.7,1038.7 574.1,1039.5 574.5,1037.5 575,1037.6 575.4,1036.7 575.8,1034.2 576.3,1032.3 576.7,1031.2 577.1,1031.5 577.5,1030.6 578,1030.9 578.4,1033.7 578.8,1030.9 579.3,1031.4 579.7,1035 580.1,1031.4 580.6,1030.7 581,1026 581.4,1026.8 581.8,1023 582.3,1023.7 582.7,1020.6 583.1,1022.6 583.6,1017.1 584,1017.8 584.4,1015.6 584.9,1017.2 585.3,1014.9 585.7,1016.1 586.1,1014 586.6,1015.2 587,1015.5 587.4,1009.9 587.9,1009 588.3,1009.1 588.7,1007.5 589.2,1005.6 589.6,1004.9 590,1012.2 590.5,1012.3 590.9,1009.6 591.3,1008.4 591.7,1004.7 592.2,1005.7 592.6,1002.8 593,999.9 593.5,1000.3 593.9,1001.4 594.3,997.9 594.8,999 595.2,1000.4 595.6,1000.3 596,999.1 596.5,994.6 596.9,993.6 597.3,994.5 597.8,992 598.2,989.9 598.6,988.5 599.1,997.2 599.5,995 599.9,993.5 600.3,991.4 600.8,992.1 601.2,990.7 601.6,989.5 602.1,993.6 602.5,990.3 602.9,988.3 603.4,990.5 603.8,990.4 604.2,993 604.6,991.3 605.1,989.9 605.5,988.5 605.9,986.5 606.4,985.7 606.8,986 607.2,984.9 607.7,986.5 608.1,983.3 608.5,982.5 608.9,984.6 609.4,987.1 609.8,987.2 610.2,987.7 610.7,987.9 611.1,988.3 611.5,989.3 612,992.8 612.4,991.9 612.8,989 613.2,985.8 613.7,986.2 614.1,988.4 614.5,990.9 615,990.5 615.4,989.2 615.8,987.4 616.3,988.8 616.7,990.3 617.1,988.7 617.5,991.1 618,991.7 618.4,991.7 618.8,991.5 619.3,992.5 619.7,990.1 620.1,993.5 620.6,992.3 621,991.6 621.4,991.9 621.9,991.8 622.3,991.1 622.7,992.4 623.1,993.7 623.6,990.2 624,989.3 624.4,990.7 624.9,996.4 625.3,996.6 625.7,998.8 626.2,999.5 626.6,998.3 627,998.7 627.4,1004.4 627.9,1003.9 628.3,1003 628.7,1003.8 629.2,1002.3 629.6,1005 630,1000.3 630.5,1000.2 630.9,1000 631.3,1004.1 631.7,1002.7 632.2,1002.7 632.6,1004.8 633,1006.3 633.5,1007.1 633.9,1005.1 634.3,1005.8 634.8,1005.2 635.2,1009.1 635.6,1009 636,1006.1 636.5,1005.6 636.9,1006.1 637.3,1006.3 637.8,1008.5 638.2,1005.4 638.6,1008.7 639.1,1012.8 639.5,1011.8 639.9,1012.4 640.3,1008 640.8,1007.5 641.2,1008.2 641.6,1012.9 642.1,1013.4 642.5,1014.4 642.9,1009.9 643.4,1010.8 643.8,1010.8 644.2,1011.8 644.6,1013 645.1,1014.3 645.5,1013.7 645.9,1016.4 646.4,1018 646.8,1019.7 647.2,1021.5 647.7,1022.3 648.1,1020.1 648.5,1021.3 649,1023.2 649.4,1027.5 649.8,1027.1 650.2,1027.1 650.7,1028.9 651.1,1028.9 651.5,1030.3 652,1033.1 652.4,1030.6 652.8,1031.9 653.3,1034.3 653.7,1035 654.1,1033.9 654.5,1032.4 655,1033.6 655.4,1037.6 655.8,1034.9 656.3,1033.6 656.7,1036 657.1,1034.3 657.6,1036.1 658,1035.8 658.4,1039.7 658.8,1040.3 659.3,1041 659.7,1040.1 660.1,1041.3 660.6,1039.5 661,1041.3 661.4,1041.4 661.9,1042.8 662.3,1042.1 662.7,1043.8 663.1,1043.7 663.6,1045.6 664,1044.9 664.4,1047.2 664.9,1048.1 665.3,1046.7 665.7,1047.2 666.2,1047.9 666.6,1048.6 667,1049.4 667.4,1050 667.9,1050.2 668.3,1052.4 668.7,1053 669.2,1056.9 669.6,1056 670,1059.8 670.5,1058.6 670.9,1057.8 671.3,1060.1 671.7,1058.1 672.2,1060.7 672.6,1060.7 673,1061.1 673.5,1063.3 673.9,1064.8 674.3,1066.8 674.8,1065.2 675.2,1063.3 675.6,1063.8 676,1063.6 676.5,1064.6 676.9,1064.1 677.3,1065.9 677.8,1063.1 678.2,1064.4 678.6,1064.9 679.1,1068.8 679.5,1066.7 679.9,1066.8 680.4,1067.7 680.8,1066.1 681.2,1065.8 681.6,1065.2 682.1,1061.9 682.5,1061 682.9,1064.9 683.4,1063.5 683.8,1061.9 684.2,1062 684.7,1061.1 685.1,1060.2 685.5,1062 685.9,1061.6 686.4,1062.1 686.8,1058 687.2,1057.9 687.7,1054.5 688.1,1061 688.5,1059.8 689,1059.5 689.4,1058.8 689.8,1055.1 690.2,1056.9 690.7,1054.6 691.1,1055.6 691.5,1054.8 692,1055.3 692.4,1052.8 692.8,1053.4 693.3,1052.8 693.7,1053.3 694.1,1052 694.5,1055 695,1054.8 695.4,1055.2 695.8,1051 696.3,1049.4 696.7,1050.5 697.1,1047.9 697.6,1048.8 698,1047.3 698.4,1048.1 698.8,1048.9 699.3,1047.2 699.7,1048.6 700.1,1047.2 700.6,1046.1 701,1042.6 701.4,1039.9 701.9,1040.3 702.3,1038.3 702.7,1036.2 703.1,1036.1 703.6,1038.2 704,1037.6 704.4,1033 704.9,1031.4 705.3,1031.1 705.7,1029.9 706.2,1029.3 706.6,1028.5 707,1028.9 707.5,1031.2 707.9,1032.4 708.3,1031.4 708.7,1028.6 709.2,1029.7 709.6,1026.7 710,1026.1 710.5,1026.4 710.9,1023.9 711.3,1025 711.8,1023.5 712.2,1023.8 712.6,1022.8 713,1025.5 713.5,1024.1 713.9,1027.9 714.3,1026.1 714.8,1025.4 715.2,1021.1 715.6,1019.5 716.1,1018.1 716.5,1020.4 716.9,1021.6 717.3,1020.6 717.8,1021.9 718.2,1021.6 718.6,1024.8 719.1,1022.8 719.5,1022.5 719.9,1021.5 720.4,1019.6 720.8,1020.9 721.2,1019.5 721.6,1017.3 722.1,1016.2 722.5,1017.1 722.9,1016.3 723.4,1016.8 723.8,1015.2 724.2,1014.4 724.7,1015.2 725.1,1012.6 725.5,1013.5 725.9,1014.5 726.4,1012.5 726.8,1009.4 727.2,1011.1 727.7,1008.5 728.1,1010.1 728.5,1011.5 729,1009.7 729.4,1004.6 729.8,1004.1 730.2,1005.2 730.7,1001.5 731.1,1000.9 731.5,1000.1 732,1001.4 732.4,1003.1 732.8,1001.2 733.3,1001.3 733.7,998.1 734.1,995.4 734.5,994 735,994.2 735.4,995.1 735.8,994.5 736.3,993.2 736.7,995.2" fill="none" stroke="#000000" stroke-width="5.8" stroke-linejoin="round" />
</g>
<g fill="#262626" font-size="20.8px">
<text x="350.8" y="1158.5" text-anchor="middle">1</text>
<text x="440.0" y="1158.5" text-anchor="middle">1.2</text>
<text x="529.2" y="1158.5" text-anchor="middle">1.4</text>
<text x="618.4" y="1158.5" text-anchor="middle">1.6</text>
<text x="707.6" y="1158.5" text-anchor="middle">1.8</text>
<text x="343.5" y="1124.6" text-anchor="end">-20</text>
<text x="343.5" y="1080.1" text-anchor="end">-10</text>
<text x="343.5" y="1035.5" text-anchor="end">0</text>
<text x="343.5" y="990.9" text-anchor="end">10</text>
</g>
</g>
<g>
<rect x="2022.8" y="100.3" width="309.1" height="202.3" fill="#fff" stroke="#262626" stroke-width="4.3"/>
<line x1="2031.0" y1="123.4" x2="2108.1" y2="123.4" stroke="#ff0000" stroke-width="4.5"/>
<text x="2113.2" y="135.8" font-size="30.00px" fill="#000">x1d</text>
<line x1="2031.0" y1="162.2" x2="2108.1" y2="162.2" stroke="#0000ff" stroke-width="4.5"/>
<text x="2113.2" y="174.8" font-size="30.00px" fill="#000">SL-NTDBSC x1</text>
<line x1="2031.0" y1="202.1" x2="2108.1" y2="202.1" stroke="#00ff00" stroke-width="4.5"/>
<text x="2113.2" y="214.3" font-size="30.00px" fill="#000">FBSC x1</text>
<line x1="2031.0" y1="241.2" x2="2108.1" y2="241.2" stroke="#677aa3" stroke-width="4.5"/>
<text x="2113.2" y="253.5" font-size="30.00px" fill="#000">BSC x1</text>
<line x1="2031.0" y1="280.2" x2="2108.1" y2="280.2" stroke="#000000" stroke-width="4.5"/>
<text x="2113.2" y="292.5" font-size="30.00px" fill="#000">NTDBSC x1</text>
</g>
<g>
<rect x="2028.1" y="812.8" width="307.9" height="191.5" fill="#fff" stroke="#262626" stroke-width="4.3"/>
<line x1="2036.1" y1="839.5" x2="2112.3" y2="839.5" stroke="#ffff00" stroke-width="4.5"/>
<text x="2118.8" y="851.8" font-size="30.00px" fill="#000">SL-NTDBSC z1</text>
<line x1="2036.1" y1="885.7" x2="2112.3" y2="885.7" stroke="#0000ff" stroke-width="4.5"/>
<text x="2118.8" y="898.4" font-size="30.00px" fill="#000">FBSC z1</text>
<line x1="2036.1" y1="931.9" x2="2112.3" y2="931.9" stroke="#ff0000" stroke-width="4.5"/>
<text x="2118.8" y="944.2" font-size="30.00px" fill="#000">BSC z1</text>
<line x1="2036.1" y1="977.0" x2="2112.3" y2="977.0" stroke="#000000" stroke-width="4.5"/>
<text x="2118.8" y="989.9" font-size="30.00px" fill="#000">NTDBSC z1</text>
</g>
<line x1="362.8" y1="145.2" x2="446.0" y2="220.7" stroke="#000" stroke-width="4.3"/><polygon points="457.8,231.5 432.7,221.7 444.5,219.4 445.6,207.4" fill="#000"/>
<line x1="200.3" y1="1002.8" x2="304.5" y2="1047.0" stroke="#000" stroke-width="4.3"/><polygon points="319.2,1053.2 292.3,1052.2 302.6,1046.2 299.7,1034.5" fill="#000"/>
<g fill="#262626" font-size="37.85px" text-anchor="middle">
<text x="1312.4" y="550.8">Time(sec)</text>
<text x="1312.4" y="601.5">(a)Trajectory tracking at a frequency of 2.0 Hz</text>
<text x="1307.3" y="1267.8">Time(sec)</text>
<text x="1311.8" y="1318.9">(b)Trajectory tracking error at a frequency of 2.0 Hz</text>
<text transform="translate(71.0 239.6) rotate(-90)">x1d、x1</text>
<text transform="translate(70.9 954.6) rotate(-90)">The tracking error z1</text>
</g>
</svg>
</body></html>
